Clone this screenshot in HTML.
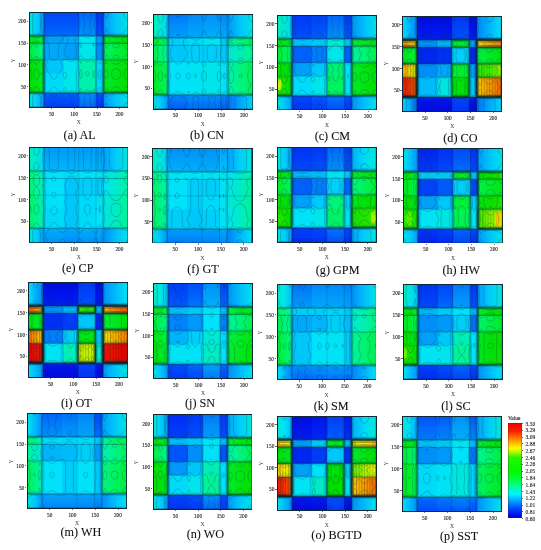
<!DOCTYPE html><html><head><meta charset="utf-8"><title>Contour maps</title><style>
html,body{margin:0;padding:0;background:#fff;}
body{width:541px;height:550px;position:relative;overflow:hidden;font-family:"Liberation Serif",serif;color:#222;}
.pl{position:absolute;display:block;overflow:hidden;}
.pl line{vector-effect:non-scaling-stroke;}
.tk{position:absolute;width:0.5px;height:1.4px;background:#777;}
.tky{position:absolute;width:1.6px;height:0.5px;background:#666;}
.xl{position:absolute;width:20px;text-align:center;font-size:5.3px;line-height:6px;white-space:nowrap;color:#222;-webkit-text-stroke:0.12px #222;}
.yl{position:absolute;width:20px;text-align:right;font-size:5.3px;line-height:6px;white-space:nowrap;color:#222;-webkit-text-stroke:0.12px #222;}
.xa{position:absolute;width:20px;text-align:center;font-size:5.6px;line-height:6px;color:#333;}
.ya{position:absolute;width:20px;text-align:center;font-size:5.6px;line-height:7px;color:#333;transform:rotate(-90deg);}
.cap{position:absolute;width:100px;text-align:center;font-size:12.2px;line-height:13px;white-space:nowrap;color:#111;-webkit-text-stroke:0.08px #111;}
.ll{position:absolute;font-size:5.5px;line-height:6px;white-space:nowrap;color:#222;-webkit-text-stroke:0.1px #222;}
.vl{position:absolute;font-size:5.4px;line-height:6px;white-space:nowrap;color:#222;-webkit-text-stroke:0.12px #222;}
</style></head><body><svg width="0" height="0" style="position:absolute"><defs><pattern id="pv" patternUnits="userSpaceOnUse" width="6" height="220"><rect x="0" y="0" width="1.3" height="220" fill="#302000" fill-opacity="0.45"/></pattern><pattern id="ph" patternUnits="userSpaceOnUse" width="220" height="5.5"><rect x="0" y="0" width="220" height="1.3" fill="#302000" fill-opacity="0.45"/></pattern></defs></svg>
<svg class="pl" style="left:28.90px;top:12.30px;width:99.60px;height:95.70px" viewBox="0 0 220 220" preserveAspectRatio="none"><linearGradient id="ga00" gradientUnits="userSpaceOnUse" x1="0" y1="0" x2="33" y2="0"><stop offset="0" stop-color="#00e7d9"/><stop offset="0.5" stop-color="#00cef9"/><stop offset="1" stop-color="#00a0f9"/></linearGradient><rect x="0" y="0" width="36" height="58" fill="url(#ga00)"/><linearGradient id="ga01" gradientUnits="userSpaceOnUse" x1="0" y1="0" x2="0" y2="55"><stop offset="0" stop-color="#0047f9"/><stop offset="0.5" stop-color="#0054f9"/><stop offset="1" stop-color="#006cf9"/></linearGradient><rect x="33" y="0" width="47" height="58" fill="url(#ga01)"/><linearGradient id="ga02" gradientUnits="userSpaceOnUse" x1="0" y1="0" x2="0" y2="55"><stop offset="0" stop-color="#0047f9"/><stop offset="0.5" stop-color="#0054f9"/><stop offset="1" stop-color="#006cf9"/></linearGradient><rect x="77" y="0" width="36" height="58" fill="url(#ga02)"/><linearGradient id="ga03" gradientUnits="userSpaceOnUse" x1="0" y1="0" x2="0" y2="55"><stop offset="0" stop-color="#0066f9"/><stop offset="0.5" stop-color="#007df9"/><stop offset="1" stop-color="#0091f9"/></linearGradient><rect x="110" y="0" width="41" height="58" fill="url(#ga03)"/><linearGradient id="ga04" gradientUnits="userSpaceOnUse" x1="0" y1="0" x2="0" y2="55"><stop offset="0" stop-color="#0039f6"/><stop offset="0.5" stop-color="#0043f9"/><stop offset="1" stop-color="#0052f9"/></linearGradient><rect x="148" y="0" width="20" height="58" fill="url(#ga04)"/><linearGradient id="ga05" gradientUnits="userSpaceOnUse" x1="165" y1="0" x2="220" y2="0"><stop offset="0" stop-color="#0099f9"/><stop offset="0.5" stop-color="#00c7f9"/><stop offset="1" stop-color="#00e5e2"/></linearGradient><rect x="165" y="0" width="58" height="58" fill="url(#ga05)"/><linearGradient id="ga10" gradientUnits="userSpaceOnUse" x1="0" y1="0" x2="33" y2="0"><stop offset="0" stop-color="#00e20f"/><stop offset="0.5" stop-color="#00ea25"/><stop offset="1" stop-color="#00f045"/></linearGradient><rect x="0" y="55" width="36" height="20" fill="url(#ga10)"/><rect x="33" y="55" width="47" height="20" fill="#00a0f9"/><rect x="77" y="55" width="36" height="20" fill="#00a8f9"/><rect x="110" y="55" width="41" height="20" fill="#00e3f4"/><rect x="148" y="55" width="20" height="20" fill="#0099f9"/><linearGradient id="ga15" gradientUnits="userSpaceOnUse" x1="165" y1="0" x2="220" y2="0"><stop offset="0" stop-color="#00ee35"/><stop offset="0.5" stop-color="#00e71c"/><stop offset="1" stop-color="#00df06"/></linearGradient><rect x="165" y="55" width="58" height="20" fill="url(#ga15)"/><linearGradient id="ga20" gradientUnits="userSpaceOnUse" x1="0" y1="0" x2="33" y2="0"><stop offset="0" stop-color="#00ef38"/><stop offset="0.5" stop-color="#00f262"/><stop offset="1" stop-color="#00f48b"/></linearGradient><rect x="0" y="72" width="36" height="41" fill="url(#ga20)"/><rect x="33" y="72" width="47" height="41" fill="#00a8f9"/><rect x="77" y="72" width="36" height="41" fill="#00a0f9"/><rect x="110" y="72" width="41" height="41" fill="#00e4eb"/><rect x="148" y="72" width="20" height="41" fill="#008ef9"/><linearGradient id="ga25" gradientUnits="userSpaceOnUse" x1="165" y1="0" x2="220" y2="0"><stop offset="0" stop-color="#00f168"/><stop offset="0.5" stop-color="#00ef3e"/><stop offset="1" stop-color="#00e922"/></linearGradient><rect x="165" y="72" width="58" height="41" fill="url(#ga25)"/><linearGradient id="ga30" gradientUnits="userSpaceOnUse" x1="0" y1="0" x2="33" y2="0"><stop offset="0" stop-color="#03de00"/><stop offset="0.5" stop-color="#00e413"/><stop offset="1" stop-color="#00eb29"/></linearGradient><rect x="0" y="110" width="36" height="34" fill="url(#ga30)"/><rect x="33" y="110" width="47" height="34" fill="#00c7f9"/><rect x="77" y="110" width="36" height="34" fill="#00e3f4"/><rect x="110" y="110" width="41" height="34" fill="#00f0ad"/><rect x="148" y="110" width="20" height="34" fill="#00daf9"/><linearGradient id="ga35" gradientUnits="userSpaceOnUse" x1="165" y1="0" x2="220" y2="0"><stop offset="0" stop-color="#00eb29"/><stop offset="0.5" stop-color="#00e413"/><stop offset="1" stop-color="#03de00"/></linearGradient><rect x="165" y="110" width="58" height="34" fill="url(#ga35)"/><linearGradient id="ga40" gradientUnits="userSpaceOnUse" x1="0" y1="0" x2="33" y2="0"><stop offset="0" stop-color="#03de00"/><stop offset="0.5" stop-color="#00e413"/><stop offset="1" stop-color="#00eb29"/></linearGradient><rect x="0" y="141" width="36" height="48" fill="url(#ga40)"/><rect x="33" y="141" width="47" height="48" fill="#00daf9"/><rect x="77" y="141" width="36" height="48" fill="#00e4eb"/><rect x="110" y="141" width="41" height="48" fill="#00f0ad"/><rect x="148" y="141" width="20" height="48" fill="#00daf9"/><linearGradient id="ga45" gradientUnits="userSpaceOnUse" x1="165" y1="0" x2="220" y2="0"><stop offset="0" stop-color="#00eb29"/><stop offset="0.5" stop-color="#00e413"/><stop offset="1" stop-color="#03de00"/></linearGradient><rect x="165" y="141" width="58" height="48" fill="url(#ga45)"/><linearGradient id="ga50" gradientUnits="userSpaceOnUse" x1="0" y1="0" x2="33" y2="0"><stop offset="0" stop-color="#00e7d9"/><stop offset="0.5" stop-color="#00cef9"/><stop offset="1" stop-color="#00a0f9"/></linearGradient><rect x="0" y="186" width="36" height="37" fill="url(#ga50)"/><linearGradient id="ga51" gradientUnits="userSpaceOnUse" x1="0" y1="186" x2="0" y2="220"><stop offset="0" stop-color="#0060f9"/><stop offset="0.5" stop-color="#004ef9"/><stop offset="1" stop-color="#0040f8"/></linearGradient><rect x="33" y="186" width="47" height="37" fill="url(#ga51)"/><linearGradient id="ga52" gradientUnits="userSpaceOnUse" x1="0" y1="186" x2="0" y2="220"><stop offset="0" stop-color="#0060f9"/><stop offset="0.5" stop-color="#004ef9"/><stop offset="1" stop-color="#0040f8"/></linearGradient><rect x="77" y="186" width="36" height="37" fill="url(#ga52)"/><linearGradient id="ga53" gradientUnits="userSpaceOnUse" x1="0" y1="186" x2="0" y2="220"><stop offset="0" stop-color="#0091f9"/><stop offset="0.5" stop-color="#007df9"/><stop offset="1" stop-color="#0066f9"/></linearGradient><rect x="110" y="186" width="41" height="37" fill="url(#ga53)"/><linearGradient id="ga54" gradientUnits="userSpaceOnUse" x1="0" y1="186" x2="0" y2="220"><stop offset="0" stop-color="#0052f9"/><stop offset="0.5" stop-color="#0043f9"/><stop offset="1" stop-color="#0039f6"/></linearGradient><rect x="148" y="186" width="20" height="37" fill="url(#ga54)"/><linearGradient id="ga55" gradientUnits="userSpaceOnUse" x1="165" y1="0" x2="220" y2="0"><stop offset="0" stop-color="#0099f9"/><stop offset="0.5" stop-color="#00c7f9"/><stop offset="1" stop-color="#00e5e2"/></linearGradient><rect x="165" y="186" width="58" height="37" fill="url(#ga55)"/><path d="M53.7 0.0L55.0 2.6 56.3 0.0M92.6 0.0L93.0 2.2 94.0 2.2 94.4 0.0M151.8 0.0L151.2 27.0 151.8 48.0 153.0 51.5 156.0 53.1 159.0 52.2 160.4 49.0 160.5 0.0M160.5 220.0L160.3 191.0 159.0 188.8 156.0 188.1 153.4 189.0 151.8 192.0 151.2 203.0 151.8 220.0M56.2 196.0L60.0 194.0 60.8 191.0 59.5 190.0 55.0 189.4 50.5 190.0 49.2 191.0 49.3 193.0 51.0 194.9 56.2 196.0M94.3 196.0L97.0 194.3 97.7 191.0 94.0 189.6 89.3 191.0 89.3 193.0 90.7 195.0 94.3 196.0M62.5 220.0L60.8 213.0 58.0 210.5 55.0 209.9 52.0 210.5 49.2 213.0 47.5 220.0M99.1 220.0L97.8 213.0 96.0 210.7 94.0 209.9 92.0 210.2 89.8 212.0 87.9 220.0M35.6 0.0L34.5 28.0 35.8 50.0 37.0 51.9 39.0 52.9 55.0 56.1 77.0 52.1 91.0 55.4 95.0 55.5 104.2 53.0 107.7 51.0 109.0 48.0 111.6 28.0 108.7 0.0M120.3 0.0L121.0 15.0 124.0 27.0 121.2 39.0 120.6 48.0 121.6 50.0 123.4 51.0 129.0 51.8 134.6 51.0 136.4 50.0 137.4 48.0 136.8 39.0 134.0 27.0 137.0 15.0 137.7 0.0M146.8 0.0L144.5 27.0 146.6 48.0 148.3 52.0 156.0 57.1 160.0 55.1 162.2 52.0 163.1 49.0 163.1 0.0M157.2 77.0L157.3 74.0 156.0 73.1 155.4 75.0 156.0 77.9 157.2 77.0M163.1 220.0L163.0 190.5 160.6 187.0 156.0 185.8 149.4 188.0 146.4 192.0 144.5 203.0 146.8 220.0M109.4 220.0L111.9 202.0 109.9 192.0 107.8 189.0 96.0 186.6 78.0 188.2 55.0 186.2 38.0 187.9 35.2 190.0 34.0 202.0 34.9 220.0M137.7 220.0L137.0 210.9 133.9 203.0 136.8 196.0 137.1 192.0 135.1 190.0 129.0 189.0 122.9 190.0 120.9 192.0 121.2 196.0 124.1 203.0 121.0 210.9 120.3 220.0M32.8 0.0L32.0 28.0 32.9 50.0 35.0 53.9 38.9 58.0 38.0 65.0 42.6 71.0 44.1 75.0 45.5 91.0 44.7 105.0 46.0 107.0 51.0 110.0 55.0 110.7 59.0 110.0 64.0 107.0 65.3 105.0 64.5 91.0 66.1 74.0 69.0 68.8 75.8 64.0 75.1 62.0 71.5 59.0 71.8 58.0 77.0 56.0 80.0 56.1 83.9 58.0 86.3 63.0 82.1 81.0 77.4 89.0 77.8 94.0 83.7 105.0 86.2 107.0 94.0 108.7 98.2 108.0 102.3 106.0 104.0 102.8 105.6 90.0 103.5 75.0 100.7 63.0 102.2 59.0 104.2 57.0 113.0 53.0 129.0 55.3 144.0 53.2 149.2 56.0 150.3 59.0 150.6 69.0 149.2 90.0 150.1 105.0 151.9 108.0 155.0 110.1 158.0 110.1 160.0 108.2 161.2 102.0 160.5 60.0 161.4 56.0 164.6 50.0 165.5 35.0 164.8 0.0M164.8 220.0L165.7 203.0 164.6 190.0 161.0 185.5 156.0 183.5 143.0 187.9 129.0 186.8 113.0 188.0 94.0 184.3 78.0 186.0 54.0 183.7 37.0 185.9 33.9 188.0 32.6 191.0 31.8 203.0 32.6 220.0M8.1 0.0L8.2 47.0 10.0 50.0 16.0 51.2 23.0 50.0 24.7 48.0 25.7 28.0 24.9 0.0M30.3 0.0L27.3 29.0 30.4 49.0 35.3 58.0 34.9 92.0 35.6 105.0 36.8 109.0 40.6 114.0 38.0 122.0 38.0 129.0 41.5 137.0 47.0 144.0 49.9 152.0 54.0 154.8 57.0 154.5 60.0 152.2 63.5 143.0 67.9 138.0 73.2 129.0 73.5 123.0 69.4 115.0 70.4 112.0 74.0 109.8 80.0 109.2 83.9 110.0 94.0 114.5 105.8 109.0 107.9 107.0 109.7 94.0 108.6 71.0 109.8 64.0 109.3 58.0 110.2 56.0 115.0 55.2 129.0 58.5 143.0 55.3 145.0 55.5 147.0 57.0 146.6 64.0 147.7 71.0 146.7 92.0 147.6 105.0 148.7 108.0 153.1 113.0 155.0 118.5 157.0 119.3 162.4 105.0 162.1 58.0 163.1 55.0 167.3 49.0 170.0 39.1 171.0 39.0 172.8 41.0 176.5 49.0 184.1 51.0 198.0 51.2 208.5 49.0 213.6 39.0 217.0 36.5 220.0 35.9M175.4 0.0L174.3 10.0 171.0 16.0 169.0 14.2 167.4 0.0M220.0 19.1L215.0 17.4 212.0 13.6 210.2 8.0 209.6 0.0M157.3 154.0L158.7 148.0 159.0 139.0 158.0 133.0 156.0 131.6 154.0 135.6 153.8 146.0 155.0 153.3 156.0 154.7 157.3 154.0M220.0 197.8L214.0 196.2 208.6 191.0 196.0 188.7 179.1 190.0 175.0 192.0 172.0 195.4 170.0 195.8 166.8 190.0 159.7 182.0 157.0 172.5 156.0 172.3 155.0 173.7 152.6 182.0 147.0 185.7 142.0 186.3 128.0 184.9 114.0 186.4 94.0 181.4 80.0 184.6 68.2 183.0 63.6 181.0 59.0 173.7 57.0 172.5 54.0 172.2 50.0 174.8 46.4 181.0 35.0 185.4 30.2 191.0 27.1 203.0 30.2 220.0M24.9 220.0L25.7 203.0 24.6 192.0 22.6 190.0 17.0 189.0 10.4 190.0 8.4 192.0 7.6 203.0 8.1 220.0M209.6 220.0L210.2 215.0 212.0 211.6 215.0 209.3 220.0 208.2M167.4 220.0L169.0 211.2 171.0 210.1 174.4 214.0 175.4 220.0M0.0 51.0L16.0 52.8 29.0 51.7 32.0 53.5 33.6 56.0 34.2 70.0 33.7 99.0 35.6 113.0 35.1 128.0 36.9 145.0 35.8 163.0 36.7 180.0 34.9 184.0 29.0 188.5 15.0 187.5 0.0 189.2M220.0 188.8L193.0 187.3 170.0 188.6 165.0 186.7 162.5 184.0 161.3 180.0 161.2 141.0 161.3 114.0 163.4 104.0 163.0 59.0 164.1 55.0 166.0 52.8 169.0 51.6 193.0 52.8 220.0 51.3M115.0 81.5L114.0 81.7 113.0 80.5 111.8 76.0 112.0 71.5 114.0 69.8 116.3 72.0 116.9 75.0 115.0 81.5M143.0 79.8L142.0 79.0 141.2 75.0 141.9 72.0 143.0 71.0 144.0 71.4 144.5 74.0 143.0 79.8M146.0 185.0L129.0 183.4 112.0 185.3 106.9 183.0 104.2 180.0 106.1 163.0 103.8 144.0 107.1 126.0 105.6 114.0 114.0 100.3 115.0 100.5 117.5 105.0 119.9 107.0 129.0 109.6 138.1 107.0 143.0 102.2 149.4 112.0 149.1 126.0 150.2 142.0 149.1 164.0 149.9 180.0 148.8 183.0 146.0 185.0M81.0 153.2L80.0 153.9 78.0 152.6 75.7 145.0 77.0 140.0 80.0 137.2 82.0 140.0 83.0 144.0 82.6 149.0 81.0 153.2M79.0 182.0L76.6 181.0 76.3 179.0 78.0 174.4 80.0 173.1 81.7 175.0 82.6 179.0 81.8 181.0 79.0 182.0M0.0 52.6L16.0 53.8 28.0 53.1 32.4 55.0 33.3 69.0 32.5 95.0 32.9 106.0 34.3 113.0 34.9 145.0 34.8 180.0 32.9 185.0 28.0 187.2 16.0 186.5 0.0 187.6M220.0 187.4L193.0 186.4 170.0 187.3 165.0 185.8 163.0 183.0 162.5 180.0 162.4 141.0 162.5 114.0 164.2 104.0 163.8 60.0 164.6 55.0 167.0 53.4 170.0 52.8 193.0 53.8 220.0 52.7M114.0 184.1L110.0 183.1 108.8 180.0 109.9 164.0 108.5 143.0 110.1 126.0 109.1 115.0 109.8 111.0 112.0 109.3 116.0 109.2 129.0 115.0 140.0 109.8 145.0 109.5 147.0 111.1 147.6 114.0 146.6 125.0 147.8 140.0 146.6 163.0 147.3 182.0 145.0 183.7 142.0 183.8 129.0 179.0 119.6 183.0 114.0 184.1M130.4 147.0L132.1 144.0 132.1 139.0 130.7 137.0 128.0 136.6 125.9 139.0 125.9 144.0 128.0 147.4 130.4 147.0M0.0 53.7L16.0 55.3 28.0 54.1 31.0 54.7 32.2 56.0 32.6 70.0 31.4 93.0 33.4 113.0 33.8 144.0 33.7 180.0 32.2 185.0 28.0 186.3 16.0 185.2 0.0 186.6M220.0 186.5L193.0 185.1 170.0 186.4 165.0 185.2 163.4 180.0 163.3 141.0 163.4 114.0 165.2 93.0 164.3 69.0 165.0 55.4 170.0 53.8 193.0 55.2 220.0 53.7M114.0 118.0L112.0 114.0 114.0 112.2 115.6 113.0 116.3 115.0 115.6 117.0 114.0 118.0M143.0 116.6L141.9 115.0 143.0 113.0 144.2 114.0 143.0 116.6M115.0 152.3L114.0 152.8 113.0 151.9 111.2 143.0 112.0 135.9 114.0 133.0 116.0 134.6 117.1 140.0 116.6 148.0 115.0 152.3M143.0 150.7L141.6 148.0 140.9 141.0 141.6 136.0 143.0 134.3 144.7 137.0 145.2 141.0 144.9 146.0 143.0 150.7M115.0 181.2L113.0 181.4 111.8 180.0 113.0 175.1 114.0 174.2 116.3 178.0 116.2 180.0 115.0 181.2M144.0 180.5L141.9 180.0 142.0 177.6 143.0 176.3 144.1 178.0 144.0 180.5M0.0 54.4L16.0 56.4 29.0 54.8 31.7 57.0 32.0 71.0 29.9 92.0 30.9 104.0 32.6 112.0 32.9 144.0 32.9 180.0 32.0 184.2 29.0 185.5 16.0 184.3 0.0 185.8M220.0 185.8L194.0 184.2 172.0 185.7 165.9 185.0 164.5 183.0 164.2 180.0 164.1 141.0 164.2 113.0 166.1 92.0 164.8 70.0 165.6 56.0 167.0 54.8 170.0 54.4 193.0 56.1 220.0 54.3M17.3 81.0L19.6 79.0 20.3 76.0 18.4 74.0 14.6 74.0 12.7 76.0 13.0 78.3 15.0 80.7 17.3 81.0M18.7 106.0L19.9 104.0 18.9 102.0 16.0 100.9 14.0 102.1 13.1 104.0 14.0 105.8 18.7 106.0M220.0 185.3L194.0 183.2 171.0 185.1 166.0 184.1 164.7 180.0 164.6 141.0 164.8 112.0 166.4 105.0 167.5 92.0 165.5 70.0 166.0 56.9 167.0 55.7 170.0 55.0 193.0 57.2 220.0 54.9M0.0 55.0L16.0 57.7 29.5 56.0 31.0 58.0 31.1 69.0 31.0 71.0 28.0 76.6 20.0 70.6 16.0 70.0 12.0 71.0 6.9 75.0 3.7 83.0 0.0 85.0M195.1 82.0L198.0 80.4 199.8 78.0 200.2 76.0 198.7 74.0 191.0 72.6 185.2 75.0 185.2 78.0 187.8 81.0 191.0 82.3 195.1 82.0M0.0 97.0L3.7 99.0 7.2 106.0 15.0 109.5 22.0 108.2 28.0 104.5 29.0 105.5 32.1 112.0 31.6 126.0 32.4 143.0 32.3 180.0 31.1 184.0 28.0 185.0 16.0 183.2 0.0 185.3M197.4 107.0L199.1 106.0 199.6 104.0 198.0 101.6 195.0 100.0 189.0 100.3 185.4 104.0 185.9 106.0 189.0 107.4 197.4 107.0M220.0 85.0L216.0 84.2 213.0 82.3 208.9 75.0 206.5 73.0 200.0 69.8 194.0 68.6 186.0 69.5 178.5 73.0 176.1 75.0 173.0 81.1 171.0 82.7 170.0 82.4 166.4 69.0 166.7 58.0 169.0 56.0 193.0 58.9 220.0 55.7M0.0 56.1L6.1 57.0 16.0 60.4 20.0 59.9 27.0 57.1 29.0 57.4 29.7 59.0 29.9 69.0 29.0 71.2 27.0 71.4 20.0 67.2 15.0 66.7 4.0 72.5 0.0 73.5M220.0 184.6L193.0 181.4 173.0 184.2 167.0 183.7 165.4 180.0 166.2 163.0 165.2 141.0 166.2 126.0 165.5 112.0 170.0 99.6 172.0 99.8 177.6 107.0 186.0 110.7 193.0 111.9 200.0 110.4 207.4 107.0 214.0 98.9 220.0 97.0M0.0 107.0L16.0 112.4 27.0 108.6 30.5 110.0 31.4 113.0 30.7 126.0 31.7 143.0 30.8 163.0 31.5 180.0 30.7 183.0 27.0 184.0 16.0 181.5 0.0 184.7M220.0 73.2L210.7 71.0 207.0 68.0 205.1 64.0 206.0 61.0 208.3 59.0 220.0 56.9M171.0 72.0L169.0 71.8 167.8 70.0 169.0 64.0 168.1 59.0 170.0 57.5 176.7 59.0 179.9 63.0 177.1 69.0 171.0 72.0M0.0 58.0L2.8 59.0 2.3 60.0 0.0 60.5M0.0 66.4L3.5 68.0 2.1 70.0 0.0 70.4M220.0 183.7L210.9 183.0 204.0 181.0 198.0 173.1 193.0 171.3 187.0 173.1 181.0 181.0 174.1 183.0 167.9 183.0 166.5 180.0 167.6 163.0 166.2 141.0 167.6 126.0 166.5 113.0 167.3 110.0 169.0 108.5 172.0 108.6 178.8 111.0 181.7 113.0 186.0 118.3 193.0 120.2 199.0 118.3 203.3 113.0 208.3 110.0 220.0 107.4M0.0 109.2L7.2 111.0 9.7 113.0 13.0 118.7 16.0 120.1 20.0 118.7 24.4 112.0 27.0 110.6 29.4 111.0 30.3 114.0 29.3 126.0 30.6 142.0 29.4 162.0 29.9 182.0 27.0 182.7 23.4 181.0 20.0 173.4 18.0 171.6 16.0 171.3 13.0 173.4 9.6 181.0 5.6 183.0 0.0 183.7M18.6 155.0L20.4 153.0 21.8 149.0 22.3 138.0 20.0 132.3 16.0 130.9 13.0 132.3 11.4 135.0 10.7 146.0 13.3 154.0 16.0 155.7 18.6 155.0M196.1 155.0L199.0 153.0 201.3 149.0 202.5 143.0 202.0 137.0 200.0 133.6 197.0 131.7 193.0 130.8 189.0 131.3 185.0 133.6 183.0 137.0 182.5 142.0 183.3 148.0 185.0 151.7 188.0 154.6 192.0 155.7 196.1 155.0M220.0 120.6L216.0 119.9 213.0 118.3 210.7 114.0 214.0 111.1 220.0 110.1M0.0 111.0L3.8 112.0 5.5 115.0 3.6 119.0 0.0 120.6M172.0 118.3L170.0 118.6 169.0 117.5 168.1 114.0 169.0 111.4 171.0 111.3 173.8 113.0 174.0 115.7 172.0 118.3M0.0 130.4L3.0 131.4 4.4 133.0 6.2 141.0 4.7 152.0 3.0 154.9 0.0 156.3M220.0 156.3L216.0 155.4 212.2 152.0 210.3 147.0 209.7 141.0 210.2 137.0 212.0 133.6 215.0 131.4 220.0 130.4M171.0 153.7L169.0 151.9 167.6 141.0 169.0 133.5 171.0 132.3 174.0 135.1 175.3 141.0 174.2 149.0 171.0 153.7M28.0 144.3L28.0 139.1 28.0 144.3M0.0 170.7L2.0 171.3 4.0 173.5 5.5 179.0 4.7 181.0 0.0 182.3M220.0 182.3L212.2 181.0 210.7 179.0 211.6 176.0 214.0 172.9 220.0 170.7M172.0 181.3L169.0 181.4 168.2 180.0 170.0 173.5 172.0 174.0 174.1 178.0 174.0 180.0 172.0 181.3" fill="none" stroke="#0a2a3a" stroke-opacity="0.45" stroke-width="0.5" vector-effect="non-scaling-stroke"/><g stroke="#0a2020" stroke-width="1" vector-effect="non-scaling-stroke"><line x1="33" y1="0" x2="33" y2="55" stroke-opacity="0.25"/><line x1="110" y1="0" x2="110" y2="55" stroke-opacity="0.15"/><line x1="148" y1="0" x2="148" y2="55" stroke-opacity="0.20"/><line x1="165" y1="0" x2="165" y2="55" stroke-opacity="0.20"/><line x1="33" y1="55" x2="33" y2="72" stroke-opacity="0.36"/><line x1="110" y1="55" x2="110" y2="72" stroke-opacity="0.15"/><line x1="148" y1="55" x2="148" y2="72" stroke-opacity="0.20"/><line x1="165" y1="55" x2="165" y2="72" stroke-opacity="0.39"/><line x1="33" y1="72" x2="33" y2="110" stroke-opacity="0.26"/><line x1="110" y1="72" x2="110" y2="110" stroke-opacity="0.15"/><line x1="148" y1="72" x2="148" y2="110" stroke-opacity="0.20"/><line x1="165" y1="72" x2="165" y2="110" stroke-opacity="0.34"/><line x1="33" y1="110" x2="33" y2="141" stroke-opacity="0.36"/><line x1="110" y1="110" x2="110" y2="141" stroke-opacity="0.15"/><line x1="148" y1="110" x2="148" y2="141" stroke-opacity="0.20"/><line x1="165" y1="110" x2="165" y2="141" stroke-opacity="0.34"/><line x1="33" y1="141" x2="33" y2="186" stroke-opacity="0.34"/><line x1="110" y1="141" x2="110" y2="186" stroke-opacity="0.15"/><line x1="148" y1="141" x2="148" y2="186" stroke-opacity="0.20"/><line x1="165" y1="141" x2="165" y2="186" stroke-opacity="0.34"/><line x1="33" y1="186" x2="33" y2="220" stroke-opacity="0.25"/><line x1="110" y1="186" x2="110" y2="220" stroke-opacity="0.15"/><line x1="148" y1="186" x2="148" y2="220" stroke-opacity="0.20"/><line x1="165" y1="186" x2="165" y2="220" stroke-opacity="0.20"/><line x1="0" y1="55" x2="33" y2="55" stroke-opacity="0.35"/><line x1="33" y1="55" x2="77" y2="55" stroke-opacity="0.35"/><line x1="77" y1="55" x2="110" y2="55" stroke-opacity="0.35"/><line x1="110" y1="55" x2="148" y2="55" stroke-opacity="0.35"/><line x1="148" y1="55" x2="165" y2="55" stroke-opacity="0.35"/><line x1="165" y1="55" x2="220" y2="55" stroke-opacity="0.35"/><line x1="0" y1="72" x2="33" y2="72" stroke-opacity="0.30"/><line x1="33" y1="72" x2="77" y2="72" stroke-opacity="0.30"/><line x1="77" y1="72" x2="110" y2="72" stroke-opacity="0.30"/><line x1="110" y1="72" x2="148" y2="72" stroke-opacity="0.30"/><line x1="148" y1="72" x2="165" y2="72" stroke-opacity="0.30"/><line x1="165" y1="72" x2="220" y2="72" stroke-opacity="0.30"/><line x1="0" y1="110" x2="33" y2="110" stroke-opacity="0.20"/><line x1="33" y1="110" x2="77" y2="110" stroke-opacity="0.20"/><line x1="77" y1="110" x2="110" y2="110" stroke-opacity="0.20"/><line x1="110" y1="110" x2="148" y2="110" stroke-opacity="0.20"/><line x1="148" y1="110" x2="165" y2="110" stroke-opacity="0.20"/><line x1="165" y1="110" x2="220" y2="110" stroke-opacity="0.20"/><line x1="0" y1="186" x2="33" y2="186" stroke-opacity="0.35"/><line x1="33" y1="186" x2="77" y2="186" stroke-opacity="0.30"/><line x1="77" y1="186" x2="110" y2="186" stroke-opacity="0.30"/><line x1="110" y1="186" x2="148" y2="186" stroke-opacity="0.30"/><line x1="148" y1="186" x2="165" y2="186" stroke-opacity="0.30"/><line x1="165" y1="186" x2="220" y2="186" stroke-opacity="0.36"/></g><rect x="0" y="0" width="220" height="220" fill="none" stroke="#102838" stroke-width="2" vector-effect="non-scaling-stroke"/></svg>
<div class="tk" style="left:51.29px;top:108.00px"></div><div class="xl" style="left:41.54px;top:110.70px">50</div><div class="tk" style="left:73.92px;top:108.00px"></div><div class="xl" style="left:64.17px;top:110.70px">100</div><div class="tk" style="left:96.56px;top:108.00px"></div><div class="xl" style="left:86.81px;top:110.70px">150</div><div class="tk" style="left:119.20px;top:108.00px"></div><div class="xl" style="left:109.45px;top:110.70px">200</div><div class="tky" style="left:26.90px;top:86.00px"></div><div class="yl" style="left:6.20px;top:83.65px">50</div><div class="tky" style="left:26.90px;top:64.25px"></div><div class="yl" style="left:6.20px;top:61.90px">100</div><div class="tky" style="left:26.90px;top:42.50px"></div><div class="yl" style="left:6.20px;top:40.15px">150</div><div class="tky" style="left:26.90px;top:20.75px"></div><div class="yl" style="left:6.20px;top:18.40px">200</div><div class="xa" style="left:68.70px;top:119.30px">X</div><div class="ya" style="left:2.50px;top:56.65px">Y</div><div class="cap" style="left:29.70px;top:129.10px">(a) AL</div>
<svg class="pl" style="left:152.70px;top:13.90px;width:100.30px;height:95.70px" viewBox="0 0 220 220" preserveAspectRatio="none"><linearGradient id="gb00" gradientUnits="userSpaceOnUse" x1="0" y1="0" x2="33" y2="0"><stop offset="0" stop-color="#00edba"/><stop offset="0.5" stop-color="#00e8d5"/><stop offset="1" stop-color="#00d2f9"/></linearGradient><rect x="0" y="0" width="36" height="58" fill="url(#gb00)"/><linearGradient id="gb01" gradientUnits="userSpaceOnUse" x1="0" y1="0" x2="0" y2="55"><stop offset="0" stop-color="#0077f9"/><stop offset="0.5" stop-color="#008ef9"/><stop offset="1" stop-color="#009cf9"/></linearGradient><rect x="33" y="0" width="47" height="58" fill="url(#gb01)"/><linearGradient id="gb02" gradientUnits="userSpaceOnUse" x1="0" y1="0" x2="0" y2="55"><stop offset="0" stop-color="#0088f9"/><stop offset="0.5" stop-color="#0099f9"/><stop offset="1" stop-color="#00a8f9"/></linearGradient><rect x="77" y="0" width="36" height="58" fill="url(#gb02)"/><linearGradient id="gb03" gradientUnits="userSpaceOnUse" x1="0" y1="0" x2="0" y2="55"><stop offset="0" stop-color="#0091f9"/><stop offset="0.5" stop-color="#00a0f9"/><stop offset="1" stop-color="#00b0f9"/></linearGradient><rect x="110" y="0" width="41" height="58" fill="url(#gb03)"/><linearGradient id="gb04" gradientUnits="userSpaceOnUse" x1="0" y1="0" x2="0" y2="55"><stop offset="0" stop-color="#0088f9"/><stop offset="0.5" stop-color="#0099f9"/><stop offset="1" stop-color="#00a8f9"/></linearGradient><rect x="148" y="0" width="20" height="58" fill="url(#gb04)"/><linearGradient id="gb05" gradientUnits="userSpaceOnUse" x1="165" y1="0" x2="220" y2="0"><stop offset="0" stop-color="#0099f9"/><stop offset="0.5" stop-color="#00c7f9"/><stop offset="1" stop-color="#00e5e2"/></linearGradient><rect x="165" y="0" width="58" height="58" fill="url(#gb05)"/><linearGradient id="gb10" gradientUnits="userSpaceOnUse" x1="0" y1="0" x2="33" y2="0"><stop offset="0" stop-color="#00ec2b"/><stop offset="0.5" stop-color="#00f150"/><stop offset="1" stop-color="#00f27a"/></linearGradient><rect x="0" y="55" width="36" height="20" fill="url(#gb10)"/><rect x="33" y="55" width="47" height="20" fill="#00cef9"/><rect x="77" y="55" width="36" height="20" fill="#00daf9"/><rect x="110" y="55" width="41" height="20" fill="#00e3f4"/><rect x="148" y="55" width="20" height="20" fill="#00c7f9"/><linearGradient id="gb15" gradientUnits="userSpaceOnUse" x1="165" y1="0" x2="220" y2="0"><stop offset="0" stop-color="#00f0ad"/><stop offset="0.5" stop-color="#00f37e"/><stop offset="1" stop-color="#00f254"/></linearGradient><rect x="165" y="55" width="58" height="20" fill="url(#gb15)"/><linearGradient id="gb20" gradientUnits="userSpaceOnUse" x1="0" y1="0" x2="33" y2="0"><stop offset="0" stop-color="#00f149"/><stop offset="0.5" stop-color="#00f273"/><stop offset="1" stop-color="#00f2a0"/></linearGradient><rect x="0" y="72" width="36" height="41" fill="url(#gb20)"/><rect x="33" y="72" width="47" height="41" fill="#00c7f9"/><rect x="77" y="72" width="36" height="41" fill="#00cef9"/><rect x="110" y="72" width="41" height="41" fill="#00cef9"/><rect x="148" y="72" width="20" height="41" fill="#00c7f9"/><linearGradient id="gb25" gradientUnits="userSpaceOnUse" x1="165" y1="0" x2="220" y2="0"><stop offset="0" stop-color="#00e8d4"/><stop offset="0.5" stop-color="#00eeb6"/><stop offset="1" stop-color="#00f485"/></linearGradient><rect x="165" y="72" width="58" height="41" fill="url(#gb25)"/><linearGradient id="gb30" gradientUnits="userSpaceOnUse" x1="0" y1="0" x2="33" y2="0"><stop offset="0" stop-color="#00e922"/><stop offset="0.5" stop-color="#00ef3e"/><stop offset="1" stop-color="#00f168"/></linearGradient><rect x="0" y="110" width="36" height="34" fill="url(#gb30)"/><rect x="33" y="110" width="47" height="34" fill="#00e2f9"/><rect x="77" y="110" width="36" height="34" fill="#00e3f4"/><rect x="110" y="110" width="41" height="34" fill="#00e4eb"/><rect x="148" y="110" width="20" height="34" fill="#00e2f9"/><linearGradient id="gb35" gradientUnits="userSpaceOnUse" x1="165" y1="0" x2="220" y2="0"><stop offset="0" stop-color="#00f0ad"/><stop offset="0.5" stop-color="#00f37e"/><stop offset="1" stop-color="#00f254"/></linearGradient><rect x="165" y="110" width="58" height="34" fill="url(#gb35)"/><linearGradient id="gb40" gradientUnits="userSpaceOnUse" x1="0" y1="0" x2="33" y2="0"><stop offset="0" stop-color="#00e922"/><stop offset="0.5" stop-color="#00ef3e"/><stop offset="1" stop-color="#00f168"/></linearGradient><rect x="0" y="141" width="36" height="48" fill="url(#gb40)"/><rect x="33" y="141" width="47" height="48" fill="#00e2f9"/><rect x="77" y="141" width="36" height="48" fill="#00e3f4"/><rect x="110" y="141" width="41" height="48" fill="#00e4eb"/><rect x="148" y="141" width="20" height="48" fill="#00e2f9"/><linearGradient id="gb45" gradientUnits="userSpaceOnUse" x1="165" y1="0" x2="220" y2="0"><stop offset="0" stop-color="#00f0ad"/><stop offset="0.5" stop-color="#00f37e"/><stop offset="1" stop-color="#00f254"/></linearGradient><rect x="165" y="141" width="58" height="48" fill="url(#gb45)"/><linearGradient id="gb50" gradientUnits="userSpaceOnUse" x1="0" y1="0" x2="33" y2="0"><stop offset="0" stop-color="#00e5e2"/><stop offset="0.5" stop-color="#00c7f9"/><stop offset="1" stop-color="#0099f9"/></linearGradient><rect x="0" y="186" width="36" height="37" fill="url(#gb50)"/><linearGradient id="gb51" gradientUnits="userSpaceOnUse" x1="0" y1="186" x2="0" y2="220"><stop offset="0" stop-color="#0088f9"/><stop offset="0.5" stop-color="#0071f9"/><stop offset="1" stop-color="#005af9"/></linearGradient><rect x="33" y="186" width="47" height="37" fill="url(#gb51)"/><linearGradient id="gb52" gradientUnits="userSpaceOnUse" x1="0" y1="186" x2="0" y2="220"><stop offset="0" stop-color="#0091f9"/><stop offset="0.5" stop-color="#007df9"/><stop offset="1" stop-color="#0066f9"/></linearGradient><rect x="77" y="186" width="36" height="37" fill="url(#gb52)"/><linearGradient id="gb53" gradientUnits="userSpaceOnUse" x1="0" y1="186" x2="0" y2="220"><stop offset="0" stop-color="#0091f9"/><stop offset="0.5" stop-color="#007df9"/><stop offset="1" stop-color="#0066f9"/></linearGradient><rect x="110" y="186" width="41" height="37" fill="url(#gb53)"/><linearGradient id="gb54" gradientUnits="userSpaceOnUse" x1="0" y1="186" x2="0" y2="220"><stop offset="0" stop-color="#0088f9"/><stop offset="0.5" stop-color="#0071f9"/><stop offset="1" stop-color="#005af9"/></linearGradient><rect x="148" y="186" width="20" height="37" fill="url(#gb54)"/><linearGradient id="gb55" gradientUnits="userSpaceOnUse" x1="165" y1="0" x2="220" y2="0"><stop offset="0" stop-color="#0071f9"/><stop offset="0.5" stop-color="#00a8f9"/><stop offset="1" stop-color="#00d6f9"/></linearGradient><rect x="165" y="186" width="58" height="37" fill="url(#gb55)"/><path d="M50.5 0.0L52.0 6.9 55.0 9.1 58.0 6.9 59.5 0.0M56.4 50.0L57.7 49.0 57.0 46.9 55.0 45.9 53.0 46.9 52.3 49.0 53.0 49.6 56.4 50.0M68.6 220.0L69.7 213.0 75.1 205.0 75.0 200.8 67.2 190.0 61.0 188.0 55.0 187.6 49.0 188.0 42.8 190.0 38.0 197.3 36.9 201.0 37.0 205.7 40.7 214.0 41.4 220.0M161.1 220.0L161.0 191.0 159.0 188.2 156.0 187.6 151.8 190.0 148.6 202.0 150.8 212.0 151.3 220.0M101.0 220.0L100.5 211.0 97.8 203.0 100.3 196.0 100.5 191.0 98.3 189.0 94.0 188.2 88.7 189.0 86.5 191.0 86.7 196.0 89.2 203.0 86.5 211.0 86.0 220.0M137.7 220.0L137.0 210.9 133.9 203.0 136.8 196.0 137.0 191.0 134.2 189.0 129.0 188.3 123.8 189.0 121.0 191.0 121.2 196.0 124.1 203.0 121.0 210.9 120.3 220.0M35.8 0.0L34.7 35.0 35.9 50.0 38.0 52.3 50.0 55.5 57.0 56.0 73.8 52.0 79.0 49.1 86.1 53.0 92.0 54.9 95.0 54.9 103.2 52.0 105.9 50.0 110.0 39.8 113.0 37.8 115.0 40.0 117.3 49.0 118.8 51.0 125.0 53.3 132.0 53.5 137.4 52.0 140.2 50.0 142.7 41.0 145.0 38.6 148.0 41.8 150.5 51.0 156.0 56.3 159.0 55.0 162.0 49.0 162.9 27.0 162.0 0.0M79.8 0.0L79.0 3.7 77.9 0.0M117.2 0.0L116.1 12.0 113.0 17.2 110.0 15.2 108.2 11.0 106.3 0.0M150.0 0.0L149.0 10.6 147.0 15.0 145.0 16.4 143.2 15.0 142.0 12.1 140.8 0.0M164.9 220.0L167.5 205.0 167.3 200.0 164.2 189.0 158.0 184.7 155.0 184.6 147.0 187.2 129.0 185.0 110.0 187.5 94.0 184.7 78.0 187.2 55.0 184.4 37.0 186.9 33.9 189.0 32.3 202.0 33.2 220.0M205.9 220.0L204.4 203.0 205.4 192.0 202.9 190.0 193.0 188.7 182.1 190.0 179.6 192.0 180.6 203.0 179.1 220.0M33.0 0.0L32.3 28.0 33.1 50.0 35.0 54.0 41.9 58.0 43.4 61.0 43.1 70.0 37.6 87.0 37.6 95.0 42.6 107.0 54.0 115.7 58.0 114.9 67.4 107.0 70.9 100.0 76.1 93.0 76.1 89.0 70.3 81.0 66.7 69.0 66.8 60.0 69.6 57.0 76.1 55.0 80.0 54.8 83.8 56.0 90.0 59.7 94.0 60.4 97.0 59.7 105.5 55.0 110.0 54.2 116.0 54.5 129.0 58.3 143.0 54.4 149.0 55.1 150.8 58.0 149.9 64.0 151.3 74.0 150.5 82.0 147.7 92.0 150.0 98.0 151.7 107.0 155.0 114.3 157.0 115.6 160.8 105.0 160.8 59.0 161.5 56.0 165.8 49.0 169.0 38.6 170.0 38.2 172.0 39.8 175.2 48.0 177.3 50.0 185.7 52.0 196.0 52.2 207.7 50.0 209.8 48.0 213.6 39.0 217.0 36.5 220.0 35.9M175.4 0.0L174.0 11.2 172.0 15.2 170.0 16.8 168.0 14.9 167.0 11.7 165.8 0.0M220.0 19.1L215.0 17.4 212.0 13.6 210.2 8.0 209.6 0.0M94.0 114.0L98.9 110.0 101.5 106.0 102.4 90.0 101.0 72.6 98.0 68.0 93.0 66.7 89.0 68.0 85.8 73.0 84.6 92.0 85.9 107.0 91.0 112.9 94.0 114.0M132.2 111.0L136.4 108.0 138.4 105.0 139.2 91.0 138.6 77.0 137.7 74.0 135.0 70.9 132.0 69.4 128.0 69.0 122.9 71.0 119.5 76.0 118.8 91.0 119.4 104.0 120.6 107.0 125.0 110.6 129.0 111.8 132.2 111.0M56.5 149.0L59.1 146.0 59.9 140.0 58.0 136.3 54.0 135.3 50.7 138.0 50.3 144.0 53.0 148.8 56.5 149.0M157.0 149.0L158.0 145.9 158.2 139.0 157.0 135.5 156.0 135.4 154.9 138.0 154.7 144.0 155.9 149.0 157.0 149.0M94.1 146.0L95.4 144.0 95.8 140.0 95.0 138.2 93.0 137.5 91.6 139.0 91.2 142.0 92.0 145.1 94.1 146.0M220.0 188.5L193.0 186.7 168.0 188.2 162.0 185.0 157.0 177.9 156.0 177.8 152.7 183.0 149.0 185.0 142.2 185.0 129.0 181.7 115.8 185.0 111.0 185.3 102.6 184.0 94.0 179.9 82.0 184.7 73.0 184.8 62.4 182.0 55.0 177.6 47.6 182.0 34.5 186.0 28.0 192.2 25.2 190.0 21.0 188.7 10.3 189.0 6.6 191.0 3.0 196.7 0.0 197.8M0.0 208.2L3.0 209.3 5.0 212.0 6.3 220.0M26.9 220.0L28.0 214.5 29.0 215.1 29.8 220.0M10.1 0.0L11.6 14.0 13.6 18.0 16.0 19.6 19.0 18.5 21.0 15.2 22.4 9.0 22.9 0.0M31.3 0.0L29.7 30.0 31.4 50.0 35.1 58.0 35.4 71.0 34.1 93.0 35.0 106.3 37.4 113.0 35.9 125.0 37.9 140.0 35.9 162.0 37.3 180.0 35.0 184.0 30.0 187.6 15.0 186.8 0.0 188.4M20.1 51.0L22.3 49.0 21.7 42.0 19.0 36.5 16.0 35.4 14.0 36.5 12.0 39.8 10.7 49.0 14.0 51.3 20.1 51.0M220.0 186.7L193.0 184.9 169.0 186.6 164.0 185.0 162.4 183.0 161.6 180.0 161.5 141.0 161.6 113.0 163.1 106.0 163.9 93.0 162.8 70.0 162.9 58.0 164.0 55.0 166.0 53.2 169.0 52.4 193.0 54.2 220.0 52.1M114.0 119.2L111.0 119.5 108.0 117.0 106.5 113.0 108.0 110.7 112.0 109.8 115.8 112.0 116.2 116.0 114.0 119.2M145.0 119.0L142.2 117.0 141.7 113.0 144.0 110.6 147.0 110.3 149.0 112.0 149.1 115.0 147.0 118.2 145.0 119.0M79.0 115.5L76.0 115.0 75.0 113.0 75.7 112.0 78.0 111.1 79.7 112.0 80.1 114.0 79.0 115.5M113.0 155.0L110.0 154.1 108.0 151.2 105.7 142.0 107.0 135.4 110.0 132.0 112.0 131.2 114.0 131.8 115.8 134.0 117.2 140.0 116.2 150.0 115.0 153.0 113.0 155.0M145.0 154.1L143.2 153.0 142.0 150.6 140.8 141.0 142.0 134.4 145.0 132.0 147.0 132.8 149.0 135.6 149.8 141.0 148.9 149.0 147.0 152.8 145.0 154.1M79.0 149.1L77.0 149.4 75.0 147.4 73.1 142.0 74.0 137.8 78.0 135.1 80.0 136.3 81.2 140.0 80.9 145.0 79.0 149.1M114.0 182.2L110.0 182.5 108.0 181.8 106.7 180.0 108.5 175.0 112.0 171.8 115.0 174.0 116.4 178.0 116.0 181.0 114.0 182.2M147.0 182.3L143.5 182.0 141.6 180.0 142.0 176.4 144.0 173.2 147.0 174.2 148.9 178.0 148.9 181.0 147.0 182.3M79.0 181.1L77.0 181.2 75.5 180.0 77.0 177.6 79.0 177.9 79.7 179.0 79.0 181.1M0.0 50.0L15.0 53.7 29.0 51.8 32.7 55.0 33.5 58.0 33.7 70.0 32.7 94.0 34.5 113.0 33.9 126.0 34.7 141.0 33.9 163.0 34.5 180.0 32.6 185.0 29.0 186.4 16.0 185.2 0.0 186.9M220.0 185.6L193.0 183.4 171.0 185.5 165.0 184.5 163.4 180.0 164.0 163.0 163.3 141.0 164.0 126.0 163.4 113.0 166.2 92.0 164.2 70.0 165.0 55.3 171.0 54.1 194.0 56.2 220.0 53.9M194.3 81.0L198.7 78.0 198.5 75.0 193.0 73.4 186.5 75.0 185.9 77.0 188.0 79.8 191.0 81.1 194.3 81.0M196.2 107.0L198.1 106.0 198.5 104.0 195.0 101.2 190.0 101.2 186.5 104.0 186.9 106.0 188.8 107.0 196.2 107.0M0.0 53.1L15.0 55.8 28.0 53.8 32.0 55.6 32.6 70.0 31.3 92.0 33.1 113.0 33.3 141.0 33.1 180.0 32.0 184.5 28.0 185.5 16.0 184.0 0.0 185.8M220.0 81.1L216.0 80.0 211.2 75.0 207.9 73.0 200.0 69.8 194.0 68.7 188.0 69.1 182.0 70.8 175.3 74.0 170.0 78.6 168.0 76.6 165.4 70.0 165.6 58.0 166.5 56.0 168.0 55.3 193.0 58.5 220.0 54.9M220.0 184.7L209.0 183.7 193.0 180.0 174.5 184.0 169.0 184.4 166.0 183.5 164.8 180.0 165.7 163.0 164.6 141.0 165.7 126.0 164.9 111.0 169.0 103.6 171.0 103.8 175.2 107.0 187.0 112.6 193.0 114.0 207.9 108.0 216.0 102.0 220.0 100.9M194.3 145.0L195.7 143.0 195.9 140.0 194.0 138.1 191.0 138.1 189.1 140.0 189.8 144.0 192.0 145.6 194.3 145.0M0.0 54.5L5.6 55.0 15.0 57.9 19.0 57.7 28.0 55.0 30.0 55.5 31.2 57.0 31.5 71.0 28.8 91.0 32.3 112.0 31.6 126.0 32.4 141.0 31.7 183.0 28.0 184.6 16.0 182.4 0.0 185.2M220.0 71.6L214.3 71.0 210.0 68.0 210.8 66.0 214.4 64.0 214.4 63.0 210.8 61.0 210.4 59.0 215.0 57.2 220.0 56.8M172.0 62.3L169.0 61.2 168.3 58.0 171.0 57.5 174.6 59.0 174.2 61.0 172.0 62.3M170.0 71.0L168.0 70.1 168.0 67.6 170.0 64.9 172.0 64.7 174.2 66.0 175.0 68.0 172.9 70.0 170.0 71.0M18.7 110.0L22.7 107.0 23.6 105.0 23.0 98.1 20.5 91.0 23.2 83.0 23.7 76.0 20.7 71.0 16.0 69.7 12.3 71.0 9.3 76.0 9.8 83.0 12.5 91.0 10.0 98.1 9.3 104.0 10.4 107.0 14.0 109.8 18.7 110.0M172.0 123.3L170.0 123.3 169.0 121.9 167.0 116.2 166.9 112.0 169.0 109.9 173.6 111.0 176.7 114.0 175.8 119.0 172.0 123.3M220.0 183.1L211.6 182.0 209.4 181.0 208.2 179.0 209.5 172.0 214.6 163.0 209.0 153.5 207.7 141.0 209.0 132.4 214.6 126.0 214.6 125.0 209.2 119.0 208.3 114.0 209.8 112.0 213.0 110.4 220.0 109.4M172.0 160.3L170.0 160.3 169.0 158.3 166.4 143.0 168.0 131.3 171.0 127.3 174.0 129.4 175.8 132.0 177.3 140.0 176.1 153.0 172.0 160.3M173.0 182.1L168.0 182.3 166.8 180.0 168.0 172.0 170.0 166.7 171.0 166.1 175.0 170.9 176.7 177.0 176.5 180.0 173.0 182.1M0.0 55.8L7.1 58.0 10.9 63.0 6.7 71.0 0.0 76.6M29.0 71.5L26.5 71.0 22.1 64.0 24.9 59.0 28.0 57.3 29.4 59.0 28.4 63.0 29.7 69.0 29.0 71.5M0.0 104.9L8.2 110.0 13.0 116.7 16.0 118.4 19.0 117.6 22.8 112.0 26.0 109.2 28.0 108.3 30.0 109.4 31.1 113.0 30.0 126.0 31.3 141.0 30.0 162.0 30.6 182.0 28.0 183.3 23.8 182.0 21.6 180.0 19.0 174.9 16.0 173.8 14.0 174.9 11.4 180.0 9.2 182.0 0.0 184.1M17.7 153.0L19.8 151.0 21.0 148.0 21.7 140.0 20.0 134.4 16.0 132.6 14.0 133.4 12.1 136.0 11.4 144.0 13.2 151.0 15.0 152.9 17.7 153.0M0.0 109.8L3.8 111.0 5.6 114.0 4.0 118.6 0.0 120.6M0.0 130.4L3.0 131.4 4.4 133.0 6.2 141.0 4.7 152.0 3.0 154.9 0.0 156.4M28.0 146.2L27.2 141.0 28.0 137.5 29.0 141.0 28.0 146.2M0.0 170.6L2.0 171.2 4.0 173.5 5.6 179.0 4.0 181.6 0.0 182.5" fill="none" stroke="#0a2a3a" stroke-opacity="0.45" stroke-width="0.5" vector-effect="non-scaling-stroke"/><g stroke="#0a2020" stroke-width="1" vector-effect="non-scaling-stroke"><line x1="33" y1="0" x2="33" y2="55" stroke-opacity="0.25"/><line x1="110" y1="0" x2="110" y2="55" stroke-opacity="0.15"/><line x1="148" y1="0" x2="148" y2="55" stroke-opacity="0.20"/><line x1="165" y1="0" x2="165" y2="55" stroke-opacity="0.20"/><line x1="33" y1="55" x2="33" y2="72" stroke-opacity="0.25"/><line x1="110" y1="55" x2="110" y2="72" stroke-opacity="0.15"/><line x1="148" y1="55" x2="148" y2="72" stroke-opacity="0.20"/><line x1="165" y1="55" x2="165" y2="72" stroke-opacity="0.20"/><line x1="33" y1="72" x2="33" y2="110" stroke-opacity="0.25"/><line x1="110" y1="72" x2="110" y2="110" stroke-opacity="0.15"/><line x1="148" y1="72" x2="148" y2="110" stroke-opacity="0.20"/><line x1="165" y1="72" x2="165" y2="110" stroke-opacity="0.20"/><line x1="33" y1="110" x2="33" y2="141" stroke-opacity="0.25"/><line x1="110" y1="110" x2="110" y2="141" stroke-opacity="0.15"/><line x1="148" y1="110" x2="148" y2="141" stroke-opacity="0.20"/><line x1="165" y1="110" x2="165" y2="141" stroke-opacity="0.20"/><line x1="33" y1="141" x2="33" y2="186" stroke-opacity="0.25"/><line x1="110" y1="141" x2="110" y2="186" stroke-opacity="0.15"/><line x1="148" y1="141" x2="148" y2="186" stroke-opacity="0.20"/><line x1="165" y1="141" x2="165" y2="186" stroke-opacity="0.20"/><line x1="33" y1="186" x2="33" y2="220" stroke-opacity="0.25"/><line x1="110" y1="186" x2="110" y2="220" stroke-opacity="0.15"/><line x1="148" y1="186" x2="148" y2="220" stroke-opacity="0.20"/><line x1="165" y1="186" x2="165" y2="220" stroke-opacity="0.20"/><line x1="0" y1="55" x2="33" y2="55" stroke-opacity="0.35"/><line x1="33" y1="55" x2="77" y2="55" stroke-opacity="0.35"/><line x1="77" y1="55" x2="110" y2="55" stroke-opacity="0.35"/><line x1="110" y1="55" x2="148" y2="55" stroke-opacity="0.35"/><line x1="148" y1="55" x2="165" y2="55" stroke-opacity="0.35"/><line x1="165" y1="55" x2="220" y2="55" stroke-opacity="0.35"/><line x1="0" y1="72" x2="33" y2="72" stroke-opacity="0.30"/><line x1="33" y1="72" x2="77" y2="72" stroke-opacity="0.30"/><line x1="77" y1="72" x2="110" y2="72" stroke-opacity="0.30"/><line x1="110" y1="72" x2="148" y2="72" stroke-opacity="0.30"/><line x1="148" y1="72" x2="165" y2="72" stroke-opacity="0.30"/><line x1="165" y1="72" x2="220" y2="72" stroke-opacity="0.30"/><line x1="0" y1="110" x2="33" y2="110" stroke-opacity="0.20"/><line x1="33" y1="110" x2="77" y2="110" stroke-opacity="0.20"/><line x1="77" y1="110" x2="110" y2="110" stroke-opacity="0.20"/><line x1="110" y1="110" x2="148" y2="110" stroke-opacity="0.20"/><line x1="148" y1="110" x2="165" y2="110" stroke-opacity="0.20"/><line x1="165" y1="110" x2="220" y2="110" stroke-opacity="0.20"/><line x1="0" y1="186" x2="33" y2="186" stroke-opacity="0.30"/><line x1="33" y1="186" x2="77" y2="186" stroke-opacity="0.30"/><line x1="77" y1="186" x2="110" y2="186" stroke-opacity="0.30"/><line x1="110" y1="186" x2="148" y2="186" stroke-opacity="0.30"/><line x1="148" y1="186" x2="165" y2="186" stroke-opacity="0.30"/><line x1="165" y1="186" x2="220" y2="186" stroke-opacity="0.30"/></g><rect x="0" y="0" width="220" height="220" fill="none" stroke="#102838" stroke-width="2" vector-effect="non-scaling-stroke"/></svg>
<div class="tk" style="left:175.25px;top:109.60px"></div><div class="xl" style="left:165.50px;top:112.30px">50</div><div class="tk" style="left:198.04px;top:109.60px"></div><div class="xl" style="left:188.29px;top:112.30px">100</div><div class="tk" style="left:220.84px;top:109.60px"></div><div class="xl" style="left:211.09px;top:112.30px">150</div><div class="tk" style="left:243.63px;top:109.60px"></div><div class="xl" style="left:233.88px;top:112.30px">200</div><div class="tky" style="left:150.70px;top:87.60px"></div><div class="yl" style="left:130.00px;top:85.25px">50</div><div class="tky" style="left:150.70px;top:65.85px"></div><div class="yl" style="left:130.00px;top:63.50px">100</div><div class="tky" style="left:150.70px;top:44.10px"></div><div class="yl" style="left:130.00px;top:41.75px">150</div><div class="tky" style="left:150.70px;top:22.35px"></div><div class="yl" style="left:130.00px;top:20.00px">200</div><div class="xa" style="left:192.85px;top:120.90px">X</div><div class="ya" style="left:126.30px;top:58.25px">Y</div><div class="cap" style="left:157.05px;top:129.10px">(b) CN</div>
<svg class="pl" style="left:277.00px;top:14.90px;width:100.00px;height:95.60px" viewBox="0 0 220 220" preserveAspectRatio="none"><linearGradient id="gc00" gradientUnits="userSpaceOnUse" x1="0" y1="0" x2="33" y2="0"><stop offset="0" stop-color="#00edba"/><stop offset="0.5" stop-color="#00e8d5"/><stop offset="1" stop-color="#00d2f9"/></linearGradient><rect x="0" y="0" width="36" height="58" fill="url(#gc00)"/><linearGradient id="gc01" gradientUnits="userSpaceOnUse" x1="0" y1="0" x2="0" y2="55"><stop offset="0" stop-color="#0039f6"/><stop offset="0.5" stop-color="#0043f9"/><stop offset="1" stop-color="#0052f9"/></linearGradient><rect x="33" y="0" width="47" height="58" fill="url(#gc01)"/><linearGradient id="gc02" gradientUnits="userSpaceOnUse" x1="0" y1="0" x2="0" y2="55"><stop offset="0" stop-color="#0040f8"/><stop offset="0.5" stop-color="#004ef9"/><stop offset="1" stop-color="#0060f9"/></linearGradient><rect x="77" y="0" width="36" height="58" fill="url(#gc02)"/><linearGradient id="gc03" gradientUnits="userSpaceOnUse" x1="0" y1="0" x2="0" y2="55"><stop offset="0" stop-color="#0066f9"/><stop offset="0.5" stop-color="#007df9"/><stop offset="1" stop-color="#0091f9"/></linearGradient><rect x="110" y="0" width="41" height="58" fill="url(#gc03)"/><linearGradient id="gc04" gradientUnits="userSpaceOnUse" x1="0" y1="0" x2="0" y2="55"><stop offset="0" stop-color="#003df7"/><stop offset="0.5" stop-color="#004af9"/><stop offset="1" stop-color="#005af9"/></linearGradient><rect x="148" y="0" width="20" height="58" fill="url(#gc04)"/><linearGradient id="gc05" gradientUnits="userSpaceOnUse" x1="165" y1="0" x2="220" y2="0"><stop offset="0" stop-color="#0091f9"/><stop offset="0.5" stop-color="#00bff9"/><stop offset="1" stop-color="#00e4eb"/></linearGradient><rect x="165" y="0" width="58" height="58" fill="url(#gc05)"/><linearGradient id="gc10" gradientUnits="userSpaceOnUse" x1="0" y1="0" x2="33" y2="0"><stop offset="0" stop-color="#00df06"/><stop offset="0.5" stop-color="#00e71c"/><stop offset="1" stop-color="#00ee35"/></linearGradient><rect x="0" y="55" width="36" height="20" fill="url(#gc10)"/><rect x="33" y="55" width="47" height="20" fill="#00bff9"/><rect x="77" y="55" width="36" height="20" fill="#00c7f9"/><rect x="110" y="55" width="41" height="20" fill="#00e9d2"/><rect x="148" y="55" width="20" height="20" fill="#00c7f9"/><linearGradient id="gc15" gradientUnits="userSpaceOnUse" x1="165" y1="0" x2="220" y2="0"><stop offset="0" stop-color="#00ee35"/><stop offset="0.5" stop-color="#00e71c"/><stop offset="1" stop-color="#00df06"/></linearGradient><rect x="165" y="55" width="58" height="20" fill="url(#gc15)"/><linearGradient id="gc20" gradientUnits="userSpaceOnUse" x1="0" y1="0" x2="33" y2="0"><stop offset="0" stop-color="#00ec2b"/><stop offset="0.5" stop-color="#00f150"/><stop offset="1" stop-color="#00f27a"/></linearGradient><rect x="0" y="72" width="36" height="41" fill="url(#gc20)"/><rect x="33" y="72" width="47" height="41" fill="#0060f9"/><rect x="77" y="72" width="36" height="41" fill="#007df9"/><rect x="110" y="72" width="41" height="41" fill="#00e4eb"/><rect x="148" y="72" width="20" height="41" fill="#0060f9"/><linearGradient id="gc25" gradientUnits="userSpaceOnUse" x1="165" y1="0" x2="220" y2="0"><stop offset="0" stop-color="#00f2a0"/><stop offset="0.5" stop-color="#00f273"/><stop offset="1" stop-color="#00f149"/></linearGradient><rect x="165" y="72" width="58" height="41" fill="url(#gc25)"/><linearGradient id="gc30" gradientUnits="userSpaceOnUse" x1="0" y1="0" x2="33" y2="0"><stop offset="0" stop-color="#0cdf00"/><stop offset="0.5" stop-color="#00e00a"/><stop offset="1" stop-color="#00e820"/></linearGradient><rect x="0" y="110" width="36" height="34" fill="url(#gc30)"/><rect x="33" y="110" width="47" height="34" fill="#00a0f9"/><rect x="77" y="110" width="36" height="34" fill="#00c7f9"/><rect x="110" y="110" width="41" height="34" fill="#00f273"/><rect x="148" y="110" width="20" height="34" fill="#00e2f9"/><linearGradient id="gc35" gradientUnits="userSpaceOnUse" x1="165" y1="0" x2="220" y2="0"><stop offset="0" stop-color="#00eb29"/><stop offset="0.5" stop-color="#00e413"/><stop offset="1" stop-color="#03de00"/></linearGradient><rect x="165" y="110" width="58" height="34" fill="url(#gc35)"/><linearGradient id="gc40" gradientUnits="userSpaceOnUse" x1="0" y1="0" x2="33" y2="0"><stop offset="0" stop-color="#25e500"/><stop offset="0.5" stop-color="#10e000"/><stop offset="1" stop-color="#00de04"/></linearGradient><rect x="0" y="141" width="36" height="48" fill="url(#gc40)"/><rect x="33" y="141" width="47" height="48" fill="#00daf9"/><rect x="77" y="141" width="36" height="48" fill="#00e4eb"/><rect x="110" y="141" width="41" height="48" fill="#00f262"/><rect x="148" y="141" width="20" height="48" fill="#00e3f4"/><linearGradient id="gc45" gradientUnits="userSpaceOnUse" x1="165" y1="0" x2="220" y2="0"><stop offset="0" stop-color="#00eb29"/><stop offset="0.5" stop-color="#00e413"/><stop offset="1" stop-color="#03de00"/></linearGradient><rect x="165" y="141" width="58" height="48" fill="url(#gc45)"/><linearGradient id="gc50" gradientUnits="userSpaceOnUse" x1="0" y1="0" x2="33" y2="0"><stop offset="0" stop-color="#00e5e2"/><stop offset="0.5" stop-color="#00c7f9"/><stop offset="1" stop-color="#0099f9"/></linearGradient><rect x="0" y="186" width="36" height="37" fill="url(#gc50)"/><linearGradient id="gc51" gradientUnits="userSpaceOnUse" x1="0" y1="186" x2="0" y2="220"><stop offset="0" stop-color="#004af9"/><stop offset="0.5" stop-color="#003df7"/><stop offset="1" stop-color="#0033f4"/></linearGradient><rect x="33" y="186" width="47" height="37" fill="url(#gc51)"/><linearGradient id="gc52" gradientUnits="userSpaceOnUse" x1="0" y1="186" x2="0" y2="220"><stop offset="0" stop-color="#005af9"/><stop offset="0.5" stop-color="#004af9"/><stop offset="1" stop-color="#003df7"/></linearGradient><rect x="77" y="186" width="36" height="37" fill="url(#gc52)"/><linearGradient id="gc53" gradientUnits="userSpaceOnUse" x1="0" y1="186" x2="0" y2="220"><stop offset="0" stop-color="#0077f9"/><stop offset="0.5" stop-color="#0060f9"/><stop offset="1" stop-color="#004ef9"/></linearGradient><rect x="110" y="186" width="41" height="37" fill="url(#gc53)"/><linearGradient id="gc54" gradientUnits="userSpaceOnUse" x1="0" y1="186" x2="0" y2="220"><stop offset="0" stop-color="#0052f9"/><stop offset="0.5" stop-color="#0043f9"/><stop offset="1" stop-color="#0039f6"/></linearGradient><rect x="148" y="186" width="20" height="37" fill="url(#gc54)"/><linearGradient id="gc55" gradientUnits="userSpaceOnUse" x1="165" y1="0" x2="220" y2="0"><stop offset="0" stop-color="#0091f9"/><stop offset="0.5" stop-color="#00bff9"/><stop offset="1" stop-color="#00e4eb"/></linearGradient><rect x="165" y="186" width="58" height="37" fill="url(#gc55)"/><ellipse cx="5" cy="160" rx="5" ry="14" fill="#c1f200"/><path d="M42.1 0.0L41.4 11.0 38.0 27.0 38.7 34.0 42.0 48.0 45.7 51.0 55.0 52.3 64.3 51.0 67.5 49.0 69.6 40.0 73.0 32.0 73.5 25.0 69.0 12.8 67.9 0.0M87.9 0.0L89.1 11.0 91.0 15.0 93.0 16.3 96.0 15.0 97.6 12.0 99.1 0.0M153.0 0.0L153.8 17.0 156.0 23.7 157.0 23.5 158.0 21.3 159.0 16.0 159.7 0.0M158.2 51.0L159.5 48.0 159.0 39.0 158.0 33.7 157.0 31.5 156.0 31.3 154.0 36.6 153.1 48.0 154.7 51.0 158.2 51.0M97.4 50.0L98.5 47.0 97.0 41.5 95.0 39.1 92.0 39.1 89.4 43.0 88.7 49.0 93.0 51.0 97.4 50.0M71.9 220.0L76.9 204.0 76.3 199.0 74.0 193.4 72.1 191.0 66.8 189.0 55.0 187.6 43.2 189.0 40.0 190.0 37.7 192.0 36.0 204.0 38.5 220.0M95.9 200.0L99.0 196.4 99.6 191.0 94.9 189.0 88.5 190.0 87.1 193.0 89.0 198.1 92.0 200.5 95.9 200.0M160.5 220.0L160.3 191.0 159.0 188.9 156.0 188.3 153.0 189.4 151.7 192.0 150.7 203.0 151.7 220.0M100.5 220.0L99.0 209.6 97.0 206.8 94.0 205.2 91.0 206.0 88.0 209.6 86.5 220.0M34.8 0.0L34.2 28.0 35.0 50.2 36.0 52.1 38.0 53.1 55.0 55.2 79.0 52.4 95.0 54.4 104.0 52.9 108.3 51.0 109.7 48.0 111.9 29.0 109.4 0.0M120.3 0.0L121.0 15.0 124.0 27.0 121.2 39.0 120.6 48.0 123.0 50.4 129.0 51.4 135.0 50.4 137.4 48.0 136.8 39.0 134.0 27.0 137.0 15.0 137.7 0.0M147.3 0.0L144.8 27.0 147.1 48.0 149.6 52.0 156.0 54.6 160.6 53.0 162.9 49.0 162.9 0.0M61.1 110.0L72.0 106.5 75.0 103.4 77.9 91.0 74.4 77.0 72.0 75.1 68.5 74.0 57.0 72.2 48.0 72.7 38.8 75.0 37.4 78.0 36.6 89.0 38.0 105.9 40.0 107.2 51.0 110.5 61.1 110.0M157.4 108.0L160.0 106.6 160.7 104.0 160.8 78.0 160.0 74.0 156.0 72.4 153.0 73.3 151.1 76.0 150.5 96.0 151.6 106.0 154.0 107.6 157.4 108.0M96.8 107.0L100.1 105.0 100.7 103.0 97.8 91.0 100.3 83.0 100.6 77.0 99.2 75.0 97.0 74.0 91.0 73.8 87.8 75.0 86.4 77.0 86.7 83.0 89.2 91.0 86.9 98.0 86.4 104.0 87.9 106.0 90.2 107.0 96.8 107.0M163.2 220.0L163.2 191.0 161.8 188.0 159.0 186.4 154.0 186.4 144.0 190.0 129.0 188.4 113.0 190.3 106.0 187.9 97.0 186.6 79.0 187.8 55.0 185.5 38.0 187.0 34.6 189.0 33.2 201.0 33.8 220.0M33.1 0.0L32.7 30.0 33.5 51.0 35.0 53.5 37.0 54.8 55.0 58.1 78.0 54.7 95.0 57.3 114.0 52.4 129.0 53.9 144.0 52.5 155.0 57.1 159.0 56.5 163.7 52.0 164.8 49.0 165.9 28.0 164.8 0.0M57.8 140.0L67.2 137.0 72.0 130.7 73.2 127.0 73.1 123.0 69.5 115.0 71.8 112.0 77.0 109.3 80.0 108.7 91.0 111.7 95.0 111.9 104.1 109.0 106.8 107.0 107.8 103.0 108.4 89.0 107.5 76.0 106.0 72.9 95.0 69.4 79.0 72.4 55.0 68.5 38.0 71.5 36.0 73.0 35.0 78.0 35.0 104.0 36.0 108.9 40.5 115.0 38.0 124.0 39.0 131.5 41.6 136.0 44.6 138.0 53.0 140.2 57.8 140.0M159.1 110.0L161.2 108.0 162.3 105.0 162.3 76.0 160.0 70.8 156.0 69.1 150.5 72.0 148.8 75.0 148.0 89.0 148.4 103.0 148.9 106.0 151.0 108.6 156.0 110.8 159.1 110.0M165.0 220.0L166.0 203.0 165.0 191.0 162.7 187.0 158.0 184.2 155.0 184.1 145.0 187.7 129.0 187.1 114.0 187.8 95.0 184.3 79.0 185.9 55.0 183.4 37.0 185.6 32.7 189.0 31.2 202.0 32.1 220.0M32.1 0.0L31.3 27.0 32.1 49.0 33.0 52.7 37.2 59.0 36.9 68.0 34.1 75.0 33.7 86.0 34.0 105.0 35.7 114.0 35.9 137.0 37.4 140.0 46.1 144.0 50.0 152.2 54.0 154.8 57.0 154.5 59.0 153.3 63.9 144.0 75.9 139.0 80.0 133.0 82.0 134.0 85.7 139.0 93.0 143.2 98.0 141.5 103.1 137.0 105.0 127.0 104.1 114.0 109.1 107.0 110.4 96.0 109.5 75.0 108.7 72.0 105.6 68.0 106.1 63.0 105.2 60.0 105.7 58.0 109.5 55.0 115.0 54.4 129.0 56.3 144.0 54.4 147.0 54.8 150.0 57.0 150.9 59.0 150.9 67.0 147.6 73.0 146.3 85.0 146.8 103.0 148.2 108.0 156.0 115.8 157.0 115.8 162.1 109.0 163.3 105.0 163.3 76.0 160.1 64.0 160.4 59.0 162.4 55.0 170.0 48.0 180.9 51.0 199.0 51.5 212.5 49.0 217.0 45.4 220.0 44.3M171.3 0.0L170.0 5.1 168.8 0.0M220.0 10.7L217.0 9.6 215.0 7.1 213.5 0.0M80.0 59.1L79.0 59.7 77.4 59.0 79.0 58.5 80.0 59.1M81.0 118.0L80.0 117.9 78.7 116.0 79.0 112.9 81.0 112.8 82.2 114.0 82.3 116.0 81.0 118.0M157.1 145.0L157.8 138.0 157.0 135.6 156.0 135.5 155.0 141.4 156.0 145.7 157.1 145.0M220.0 192.8L209.3 190.0 195.0 188.4 181.6 189.0 170.0 191.4 156.0 179.9 149.7 185.0 144.0 186.6 112.0 186.6 94.0 181.4 82.0 184.3 77.0 184.4 69.1 183.0 63.8 181.0 59.0 173.7 55.0 172.1 51.0 173.7 46.2 181.0 36.0 184.7 28.0 191.8 19.0 189.0 11.0 189.6 7.1 191.0 3.0 196.7 0.0 197.8M0.0 208.2L3.0 209.3 5.0 212.0 6.3 220.0M213.5 220.0L215.6 215.0 220.0 213.4M27.2 220.0L28.0 216.5 28.6 220.0M168.9 220.0L170.0 217.0 171.3 220.0M10.1 0.0L11.6 14.0 13.6 18.0 16.0 19.6 19.0 18.5 21.0 15.2 22.4 9.0 22.9 0.0M30.4 0.0L29.1 27.0 30.3 48.0 34.9 59.0 34.8 69.0 33.1 76.0 32.9 96.0 33.2 106.0 34.5 113.0 34.7 137.0 37.0 145.0 36.1 163.0 36.7 181.0 34.2 185.0 29.0 188.5 15.0 187.7 0.0 189.0M17.3 51.0L21.1 50.0 22.1 49.0 22.4 46.0 20.0 37.8 18.0 35.7 16.0 35.4 14.0 36.5 12.0 39.8 10.6 48.0 11.9 50.0 17.3 51.0M220.0 188.5L193.0 187.2 170.0 188.3 165.0 186.6 161.7 183.0 160.9 180.0 160.8 147.0 161.1 114.0 164.0 106.6 164.4 96.0 164.1 75.0 162.1 67.0 162.1 59.0 162.9 56.0 166.0 52.9 169.0 51.9 193.0 53.0 220.0 51.6M115.0 81.3L114.0 81.1 113.0 79.0 109.8 70.0 110.3 57.0 115.0 56.0 129.0 59.7 143.0 56.1 146.6 57.0 147.2 69.0 143.0 78.9 142.0 78.8 139.9 74.0 136.0 70.0 132.0 67.9 128.0 67.6 123.0 69.3 118.9 73.0 115.0 81.3M147.0 185.4L142.0 185.8 129.0 184.7 112.0 185.8 109.2 185.0 104.4 181.0 105.3 162.0 103.8 146.0 107.3 136.0 107.5 113.0 114.0 100.9 115.0 100.7 119.5 106.0 128.0 107.9 135.9 107.0 143.0 102.8 150.5 113.0 151.2 179.0 150.0 183.0 147.0 185.4M81.0 153.2L80.0 153.9 78.0 152.6 76.1 147.0 76.3 144.0 79.0 141.9 81.8 143.0 82.8 145.0 82.6 149.0 81.0 153.2M81.0 181.4L78.0 181.8 76.3 180.0 77.1 176.0 80.0 173.1 82.5 178.0 82.5 180.0 81.0 181.4M0.0 49.5L15.0 52.8 29.0 51.4 32.0 54.0 33.6 57.0 33.8 68.0 32.6 75.0 32.2 94.0 33.7 113.0 33.8 136.0 35.2 146.0 35.1 180.0 33.2 185.0 28.0 187.5 16.0 186.9 0.0 187.8M220.0 187.2L193.0 186.3 170.0 187.1 165.0 185.8 162.8 183.0 162.2 180.0 162.1 144.0 162.3 114.0 164.7 106.0 165.4 94.0 164.8 76.0 163.1 67.0 163.2 58.0 164.4 55.0 169.0 53.1 193.0 53.9 220.0 52.9M145.0 185.1L129.0 183.7 112.0 185.2 110.0 184.6 108.0 182.0 107.4 145.0 109.0 134.6 109.0 114.0 109.8 110.0 112.0 108.4 115.0 107.9 129.0 110.4 143.0 108.0 147.0 109.7 148.2 112.0 149.3 143.0 148.6 163.0 149.2 180.0 147.5 184.0 145.0 185.1M0.0 52.3L16.0 54.1 28.0 53.0 32.0 54.8 32.5 56.0 32.9 68.0 31.3 93.0 33.0 113.0 33.1 136.0 34.2 146.0 34.2 180.0 32.6 185.0 28.0 186.7 16.0 186.2 0.0 186.9M220.0 186.4L193.0 185.0 170.0 186.3 165.0 185.2 163.2 180.0 163.1 143.0 163.3 114.0 165.7 105.0 166.5 93.0 165.7 76.0 164.0 68.0 164.1 58.0 165.0 55.1 170.0 53.9 193.0 55.2 220.0 53.8M145.0 184.2L130.0 182.4 114.0 184.4 109.8 183.0 109.1 180.0 109.7 163.0 109.1 145.0 110.7 127.0 109.9 114.0 110.2 112.0 112.0 109.9 117.0 109.8 128.0 112.9 143.0 109.6 145.2 110.0 147.0 111.9 147.7 180.0 147.1 183.0 145.0 184.2M0.0 53.6L16.0 55.6 28.0 54.1 31.0 54.9 32.0 56.2 32.3 69.0 31.0 76.0 30.2 92.0 31.0 105.0 32.5 112.0 32.3 129.0 33.4 146.0 33.4 180.0 32.0 185.0 28.0 186.0 16.0 185.0 0.0 186.3M220.0 185.7L194.0 184.2 172.0 185.6 165.9 185.0 164.5 183.0 164.0 180.0 164.0 142.0 164.2 113.0 166.9 105.0 168.6 91.0 166.9 76.0 164.7 69.0 165.3 56.0 169.0 54.5 193.0 56.1 220.0 54.4M199.4 107.0L203.7 105.0 204.4 103.0 203.3 98.0 199.1 91.0 203.7 83.0 204.6 78.0 204.0 76.0 200.5 74.0 194.0 72.9 188.0 73.2 182.2 75.0 180.5 77.0 180.8 81.0 185.9 91.0 181.7 98.0 180.7 104.0 182.7 106.0 187.0 107.3 199.4 107.0M144.0 183.1L135.6 181.0 131.2 176.0 129.0 175.2 127.0 175.8 123.7 180.0 120.3 182.0 114.0 183.3 110.8 182.0 110.3 179.0 111.4 162.0 110.1 144.0 112.9 128.0 111.6 114.0 113.0 111.6 117.0 112.0 119.8 114.0 121.6 120.0 124.4 125.0 121.3 132.0 120.8 137.0 125.2 149.0 127.0 151.2 129.0 151.8 131.0 151.2 132.8 149.0 137.1 138.0 136.7 132.0 133.6 125.0 136.4 120.0 137.7 115.0 139.2 113.0 142.0 111.7 144.0 111.7 145.4 113.0 144.1 126.0 146.7 143.0 145.4 163.0 146.5 180.0 146.0 182.0 144.0 183.1M0.0 54.4L16.0 56.9 29.0 55.0 31.3 57.0 31.5 70.0 29.7 76.0 28.0 92.0 29.6 105.0 32.0 112.0 31.6 127.0 32.8 146.0 32.8 180.0 32.0 184.1 28.0 185.5 16.0 184.3 0.0 185.7M220.0 77.0L199.4 71.0 194.0 70.4 185.6 71.0 170.0 75.2 168.0 73.9 165.6 70.0 165.3 59.0 166.5 56.0 169.0 55.1 193.0 57.2 220.0 54.9M19.3 108.0L23.0 106.0 23.9 104.0 22.0 91.0 24.0 77.0 23.5 75.0 21.4 73.0 16.0 71.3 11.6 73.0 9.1 76.0 9.2 82.0 11.0 91.0 9.1 104.0 10.0 106.0 13.0 107.8 19.3 108.0M220.0 185.2L194.0 183.2 171.0 185.1 166.0 184.1 164.6 180.0 164.5 142.0 164.8 112.0 165.5 110.0 169.0 106.1 171.0 105.8 188.2 110.0 194.0 110.2 220.0 104.4M115.0 151.8L114.0 151.7 113.0 149.6 112.4 146.0 112.7 142.0 114.0 140.3 115.5 141.0 116.8 144.0 116.3 149.0 115.0 151.8M143.0 149.7L142.0 149.0 141.3 145.0 143.0 141.3 144.3 144.0 143.0 149.7M114.0 181.1L112.9 180.0 113.0 177.5 114.0 175.3 115.0 175.2 116.3 179.0 114.0 181.1M143.0 180.1L142.0 179.0 143.0 177.4 143.0 180.1M0.0 55.2L16.0 58.8 29.0 56.2 30.5 58.0 30.6 69.0 30.0 71.3 28.0 73.0 19.0 68.7 14.0 68.7 0.0 77.4M220.0 72.7L193.0 68.1 169.0 72.0 167.1 71.0 166.4 69.0 166.4 59.0 167.0 56.9 170.0 56.0 193.0 58.9 220.0 55.8M0.0 104.1L15.0 111.0 20.0 110.5 27.0 107.4 30.0 109.0 31.4 113.0 30.8 127.0 32.4 145.0 32.3 180.0 31.2 184.0 28.0 185.0 16.0 183.6 0.0 185.3M220.0 184.6L193.0 181.4 173.0 184.1 167.0 183.7 165.3 180.0 166.1 163.0 165.1 142.0 166.1 126.0 165.4 114.0 167.0 109.6 172.0 108.6 193.0 112.6 209.0 109.2 220.0 108.1M0.0 56.5L6.1 58.0 8.0 60.0 8.9 63.0 8.1 67.0 5.9 70.0 0.0 71.9M220.0 71.0L210.0 69.0 206.2 66.0 205.1 63.0 208.4 59.0 220.0 57.0M172.0 70.1L169.0 70.1 168.0 69.0 168.8 63.0 167.9 59.0 169.0 57.6 176.6 59.0 179.9 63.0 178.0 67.0 172.0 70.1M28.0 69.5L25.6 68.0 24.1 63.0 25.8 59.0 28.0 58.3 27.6 64.0 28.6 68.0 28.0 69.5M0.0 108.3L7.4 110.0 16.0 115.7 18.0 115.4 25.7 110.0 29.3 110.0 30.5 113.0 29.8 127.0 31.9 145.0 31.2 163.0 31.8 180.0 31.0 183.1 28.0 184.3 16.0 182.6 0.0 184.9M220.0 183.6L211.2 183.0 204.0 181.0 198.0 173.1 193.0 171.3 187.0 173.1 181.0 181.0 173.8 183.0 167.9 183.0 166.4 180.0 167.5 163.0 166.1 141.0 167.5 126.0 166.4 114.0 168.0 110.4 171.7 110.0 178.9 112.0 187.0 118.9 193.0 120.2 199.0 118.3 202.8 114.0 206.1 112.0 213.2 110.0 220.0 109.6M196.1 155.0L199.0 153.0 201.3 149.0 202.5 143.0 202.0 137.0 200.0 133.6 197.0 131.7 193.0 130.8 189.0 131.3 185.0 133.6 183.0 137.0 182.5 142.0 183.3 148.0 185.0 151.7 188.0 154.6 192.0 155.7 196.1 155.0M17.7 137.0L17.0 135.9 15.3 137.0 16.0 137.7 17.7 137.0M0.0 109.9L4.9 111.0 7.9 114.0 8.7 137.0 11.6 141.0 16.0 144.3 20.0 142.3 24.3 137.0 24.9 115.0 27.0 112.0 29.0 112.9 27.1 126.0 31.2 145.0 30.3 163.0 31.1 180.0 30.0 183.0 26.0 183.3 16.0 180.5 8.4 183.0 0.0 184.2M220.0 120.6L214.0 119.0 210.9 115.0 212.1 113.0 214.0 112.2 220.0 111.4M172.0 118.3L170.0 118.7 169.0 117.6 168.2 114.0 169.0 112.4 171.0 112.3 173.9 114.0 173.8 116.0 172.0 118.3M220.0 156.3L216.0 155.4 212.2 152.0 210.3 147.0 209.7 141.0 210.2 137.0 212.0 133.6 215.0 131.4 220.0 130.4M171.0 153.7L169.0 152.1 167.6 141.0 169.0 133.4 171.0 132.3 174.0 135.1 175.3 141.0 174.2 149.0 171.0 153.7M220.0 182.2L212.2 181.0 210.8 179.0 211.6 176.0 214.0 172.9 220.0 170.7M172.0 181.2L169.0 181.4 168.1 180.0 170.0 173.4 172.0 174.0 174.1 178.0 174.0 180.0 172.0 181.2M0.0 113.0L1.5 114.0 0.0 115.3M0.0 135.2L3.0 136.5 8.5 142.0 11.8 154.0 15.0 157.6 18.0 157.6 20.7 155.0 23.4 144.0 26.0 140.4 28.0 139.7 29.0 140.3 30.2 145.0 29.0 163.0 30.1 180.0 29.2 182.0 27.0 182.3 24.1 181.0 20.0 171.0 18.0 169.4 16.0 169.1 12.3 172.0 8.9 181.0 4.1 183.0 0.0 183.4M0.0 140.3L4.5 142.0 5.9 146.0 4.0 153.4 2.0 155.7 0.0 156.3M0.0 170.7L2.0 171.3 4.0 173.6 5.5 179.0 4.5 181.0 0.0 182.2" fill="none" stroke="#0a2a3a" stroke-opacity="0.45" stroke-width="0.5" vector-effect="non-scaling-stroke"/><g stroke="#0a2020" stroke-width="1" vector-effect="non-scaling-stroke"><line x1="33" y1="0" x2="33" y2="55" stroke-opacity="0.25"/><line x1="110" y1="0" x2="110" y2="55" stroke-opacity="0.15"/><line x1="148" y1="0" x2="148" y2="55" stroke-opacity="0.20"/><line x1="165" y1="0" x2="165" y2="55" stroke-opacity="0.20"/><line x1="33" y1="55" x2="33" y2="72" stroke-opacity="0.35"/><line x1="110" y1="55" x2="110" y2="72" stroke-opacity="0.15"/><line x1="148" y1="55" x2="148" y2="72" stroke-opacity="0.20"/><line x1="165" y1="55" x2="165" y2="72" stroke-opacity="0.34"/><line x1="33" y1="72" x2="33" y2="110" stroke-opacity="0.35"/><line x1="110" y1="72" x2="110" y2="110" stroke-opacity="0.15"/><line x1="148" y1="72" x2="148" y2="110" stroke-opacity="0.20"/><line x1="165" y1="72" x2="165" y2="110" stroke-opacity="0.31"/><line x1="33" y1="110" x2="33" y2="141" stroke-opacity="0.43"/><line x1="77" y1="110" x2="77" y2="141" stroke-opacity="0.04"/><line x1="110" y1="110" x2="110" y2="141" stroke-opacity="0.20"/><line x1="148" y1="110" x2="148" y2="141" stroke-opacity="0.20"/><line x1="165" y1="110" x2="165" y2="141" stroke-opacity="0.33"/><line x1="33" y1="141" x2="33" y2="186" stroke-opacity="0.43"/><line x1="110" y1="141" x2="110" y2="186" stroke-opacity="0.18"/><line x1="148" y1="141" x2="148" y2="186" stroke-opacity="0.20"/><line x1="165" y1="141" x2="165" y2="186" stroke-opacity="0.32"/><line x1="33" y1="186" x2="33" y2="220" stroke-opacity="0.25"/><line x1="110" y1="186" x2="110" y2="220" stroke-opacity="0.15"/><line x1="148" y1="186" x2="148" y2="220" stroke-opacity="0.20"/><line x1="165" y1="186" x2="165" y2="220" stroke-opacity="0.20"/><line x1="0" y1="55" x2="33" y2="55" stroke-opacity="0.35"/><line x1="33" y1="55" x2="77" y2="55" stroke-opacity="0.35"/><line x1="77" y1="55" x2="110" y2="55" stroke-opacity="0.35"/><line x1="110" y1="55" x2="148" y2="55" stroke-opacity="0.35"/><line x1="148" y1="55" x2="165" y2="55" stroke-opacity="0.35"/><line x1="165" y1="55" x2="220" y2="55" stroke-opacity="0.35"/><line x1="0" y1="72" x2="33" y2="72" stroke-opacity="0.30"/><line x1="33" y1="72" x2="77" y2="72" stroke-opacity="0.30"/><line x1="77" y1="72" x2="110" y2="72" stroke-opacity="0.30"/><line x1="110" y1="72" x2="148" y2="72" stroke-opacity="0.30"/><line x1="148" y1="72" x2="165" y2="72" stroke-opacity="0.30"/><line x1="165" y1="72" x2="220" y2="72" stroke-opacity="0.30"/><line x1="0" y1="110" x2="33" y2="110" stroke-opacity="0.20"/><line x1="33" y1="110" x2="77" y2="110" stroke-opacity="0.20"/><line x1="77" y1="110" x2="110" y2="110" stroke-opacity="0.20"/><line x1="110" y1="110" x2="148" y2="110" stroke-opacity="0.20"/><line x1="148" y1="110" x2="165" y2="110" stroke-opacity="0.20"/><line x1="165" y1="110" x2="220" y2="110" stroke-opacity="0.20"/><line x1="0" y1="141" x2="33" y2="141" stroke-opacity="0.07"/><line x1="33" y1="141" x2="77" y2="141" stroke-opacity="0.07"/><line x1="77" y1="141" x2="110" y2="141" stroke-opacity="0.05"/><line x1="0" y1="186" x2="33" y2="186" stroke-opacity="0.45"/><line x1="33" y1="186" x2="77" y2="186" stroke-opacity="0.30"/><line x1="77" y1="186" x2="110" y2="186" stroke-opacity="0.30"/><line x1="110" y1="186" x2="148" y2="186" stroke-opacity="0.33"/><line x1="148" y1="186" x2="165" y2="186" stroke-opacity="0.30"/><line x1="165" y1="186" x2="220" y2="186" stroke-opacity="0.37"/></g><rect x="0" y="0" width="220" height="220" fill="none" stroke="#102838" stroke-width="2" vector-effect="non-scaling-stroke"/></svg>
<div class="tk" style="left:299.48px;top:110.50px"></div><div class="xl" style="left:289.73px;top:113.20px">50</div><div class="tk" style="left:322.20px;top:110.50px"></div><div class="xl" style="left:312.45px;top:113.20px">100</div><div class="tk" style="left:344.93px;top:110.50px"></div><div class="xl" style="left:335.18px;top:113.20px">150</div><div class="tk" style="left:367.66px;top:110.50px"></div><div class="xl" style="left:357.91px;top:113.20px">200</div><div class="tky" style="left:275.00px;top:88.52px"></div><div class="yl" style="left:254.30px;top:86.17px">50</div><div class="tky" style="left:275.00px;top:66.80px"></div><div class="yl" style="left:254.30px;top:64.45px">100</div><div class="tky" style="left:275.00px;top:45.07px"></div><div class="yl" style="left:254.30px;top:42.72px">150</div><div class="tky" style="left:275.00px;top:23.34px"></div><div class="yl" style="left:254.30px;top:20.99px">200</div><div class="xa" style="left:317.00px;top:121.80px">X</div><div class="ya" style="left:250.60px;top:59.20px">Y</div><div class="cap" style="left:282.45px;top:130.20px">(c) CM</div>
<svg class="pl" style="left:402.30px;top:15.90px;width:99.90px;height:95.90px" viewBox="0 0 220 220" preserveAspectRatio="none"><linearGradient id="gd00" gradientUnits="userSpaceOnUse" x1="0" y1="0" x2="33" y2="0"><stop offset="0" stop-color="#00e2f9"/><stop offset="0.5" stop-color="#00b4f9"/><stop offset="1" stop-color="#0083f9"/></linearGradient><rect x="0" y="0" width="36" height="58" fill="url(#gd00)"/><linearGradient id="gd01" gradientUnits="userSpaceOnUse" x1="0" y1="0" x2="0" y2="55"><stop offset="0" stop-color="#000ce2"/><stop offset="0.5" stop-color="#0013ea"/><stop offset="1" stop-color="#001eed"/></linearGradient><rect x="33" y="0" width="47" height="58" fill="url(#gd01)"/><linearGradient id="gd02" gradientUnits="userSpaceOnUse" x1="0" y1="0" x2="0" y2="55"><stop offset="0" stop-color="#000ce2"/><stop offset="0.5" stop-color="#0013ea"/><stop offset="1" stop-color="#001eed"/></linearGradient><rect x="77" y="0" width="36" height="58" fill="url(#gd02)"/><linearGradient id="gd03" gradientUnits="userSpaceOnUse" x1="0" y1="0" x2="0" y2="55"><stop offset="0" stop-color="#0039f6"/><stop offset="0.5" stop-color="#0043f9"/><stop offset="1" stop-color="#0052f9"/></linearGradient><rect x="110" y="0" width="41" height="58" fill="url(#gd03)"/><linearGradient id="gd04" gradientUnits="userSpaceOnUse" x1="0" y1="0" x2="0" y2="55"><stop offset="0" stop-color="#000ce2"/><stop offset="0.5" stop-color="#0013ea"/><stop offset="1" stop-color="#001eed"/></linearGradient><rect x="148" y="0" width="20" height="58" fill="url(#gd04)"/><linearGradient id="gd05" gradientUnits="userSpaceOnUse" x1="165" y1="0" x2="220" y2="0"><stop offset="0" stop-color="#0083f9"/><stop offset="0.5" stop-color="#00b4f9"/><stop offset="1" stop-color="#00e2f9"/></linearGradient><rect x="165" y="0" width="58" height="58" fill="url(#gd05)"/><linearGradient id="gd10" gradientUnits="userSpaceOnUse" x1="0" y1="0" x2="33" y2="0"><stop offset="0" stop-color="#f77e00"/><stop offset="0.5" stop-color="#f7b000"/><stop offset="1" stop-color="#f7e200"/></linearGradient><rect x="0" y="55" width="36" height="20" fill="url(#gd10)"/><rect x="33" y="55" width="47" height="20" fill="#008ef9"/><rect x="77" y="55" width="36" height="20" fill="#00b4f9"/><rect x="110" y="55" width="41" height="20" fill="#00ed2f"/><rect x="148" y="55" width="20" height="20" fill="#00a0f9"/><linearGradient id="gd15" gradientUnits="userSpaceOnUse" x1="165" y1="0" x2="220" y2="0"><stop offset="0" stop-color="#f7e200"/><stop offset="0.5" stop-color="#f7b000"/><stop offset="1" stop-color="#f77e00"/></linearGradient><rect x="165" y="55" width="58" height="20" fill="url(#gd15)"/><linearGradient id="gd20" gradientUnits="userSpaceOnUse" x1="0" y1="0" x2="33" y2="0"><stop offset="0" stop-color="#00e20f"/><stop offset="0.5" stop-color="#00ea25"/><stop offset="1" stop-color="#00f045"/></linearGradient><rect x="0" y="72" width="36" height="41" fill="url(#gd20)"/><rect x="33" y="72" width="47" height="41" fill="#0028f1"/><rect x="77" y="72" width="36" height="41" fill="#0031f3"/><rect x="110" y="72" width="41" height="41" fill="#00cef9"/><rect x="148" y="72" width="20" height="41" fill="#0028f1"/><linearGradient id="gd25" gradientUnits="userSpaceOnUse" x1="165" y1="0" x2="220" y2="0"><stop offset="0" stop-color="#00f045"/><stop offset="0.5" stop-color="#00ea25"/><stop offset="1" stop-color="#00e20f"/></linearGradient><rect x="165" y="72" width="58" height="41" fill="url(#gd25)"/><linearGradient id="gd30" gradientUnits="userSpaceOnUse" x1="0" y1="0" x2="33" y2="0"><stop offset="0" stop-color="#f7a800"/><stop offset="0.5" stop-color="#f7d900"/><stop offset="1" stop-color="#d2f200"/></linearGradient><rect x="0" y="110" width="36" height="34" fill="url(#gd30)"/><rect x="33" y="110" width="47" height="34" fill="#008ef9"/><rect x="77" y="110" width="36" height="34" fill="#00a8f9"/><rect x="110" y="110" width="41" height="34" fill="#00ed2f"/><rect x="148" y="110" width="20" height="34" fill="#0099f9"/><linearGradient id="gd35" gradientUnits="userSpaceOnUse" x1="165" y1="0" x2="220" y2="0"><stop offset="0" stop-color="#26e500"/><stop offset="0.5" stop-color="#3ae900"/><stop offset="1" stop-color="#8df000"/></linearGradient><rect x="165" y="110" width="58" height="34" fill="url(#gd35)"/><linearGradient id="gd40" gradientUnits="userSpaceOnUse" x1="0" y1="0" x2="33" y2="0"><stop offset="0" stop-color="#f31500"/><stop offset="0.5" stop-color="#f73200"/><stop offset="1" stop-color="#f76500"/></linearGradient><rect x="0" y="141" width="36" height="48" fill="url(#gd40)"/><rect x="33" y="141" width="47" height="48" fill="#00bbf9"/><rect x="77" y="141" width="36" height="48" fill="#00e5e2"/><rect x="110" y="141" width="41" height="48" fill="#00e00a"/><rect x="148" y="141" width="20" height="48" fill="#00c7f9"/><linearGradient id="gd45" gradientUnits="userSpaceOnUse" x1="165" y1="0" x2="220" y2="0"><stop offset="0" stop-color="#f7cd00"/><stop offset="0.5" stop-color="#f79b00"/><stop offset="1" stop-color="#f76900"/></linearGradient><rect x="165" y="141" width="58" height="48" fill="url(#gd45)"/><linearGradient id="gd50" gradientUnits="userSpaceOnUse" x1="0" y1="0" x2="33" y2="0"><stop offset="0" stop-color="#00d6f9"/><stop offset="0.5" stop-color="#00a8f9"/><stop offset="1" stop-color="#0071f9"/></linearGradient><rect x="0" y="186" width="36" height="37" fill="url(#gd50)"/><linearGradient id="gd51" gradientUnits="userSpaceOnUse" x1="0" y1="186" x2="0" y2="220"><stop offset="0" stop-color="#0019ec"/><stop offset="0.5" stop-color="#0010e6"/><stop offset="1" stop-color="#000ade"/></linearGradient><rect x="33" y="186" width="47" height="37" fill="url(#gd51)"/><linearGradient id="gd52" gradientUnits="userSpaceOnUse" x1="0" y1="186" x2="0" y2="220"><stop offset="0" stop-color="#0019ec"/><stop offset="0.5" stop-color="#0010e6"/><stop offset="1" stop-color="#000ade"/></linearGradient><rect x="77" y="186" width="36" height="37" fill="url(#gd52)"/><linearGradient id="gd53" gradientUnits="userSpaceOnUse" x1="0" y1="186" x2="0" y2="220"><stop offset="0" stop-color="#0047f9"/><stop offset="0.5" stop-color="#003cf6"/><stop offset="1" stop-color="#0031f3"/></linearGradient><rect x="110" y="186" width="41" height="37" fill="url(#gd53)"/><linearGradient id="gd54" gradientUnits="userSpaceOnUse" x1="0" y1="186" x2="0" y2="220"><stop offset="0" stop-color="#0019ec"/><stop offset="0.5" stop-color="#0010e6"/><stop offset="1" stop-color="#000ade"/></linearGradient><rect x="148" y="186" width="20" height="37" fill="url(#gd54)"/><linearGradient id="gd55" gradientUnits="userSpaceOnUse" x1="165" y1="0" x2="220" y2="0"><stop offset="0" stop-color="#0071f9"/><stop offset="0.5" stop-color="#00a8f9"/><stop offset="1" stop-color="#00d6f9"/></linearGradient><rect x="165" y="186" width="58" height="37" fill="url(#gd55)"/><rect x="1" y="56" width="31" height="15" fill="url(#ph)" opacity="1.00"/><rect x="166" y="56" width="53" height="15" fill="url(#ph)" opacity="1.00"/><rect x="1" y="111" width="31" height="29" fill="url(#pv)" opacity="1.00"/><rect x="166" y="111" width="53" height="29" fill="url(#pv)" opacity="0.40"/><rect x="1" y="142" width="31" height="43" fill="url(#pv)" opacity="1.00"/><rect x="166" y="142" width="53" height="43" fill="url(#pv)" opacity="1.00"/><path d="M47.0 0.0L47.6 8.0 49.0 13.2 52.0 17.1 55.0 18.1 58.0 17.1 61.0 13.2 62.4 8.0 63.0 0.0M87.5 0.0L89.0 13.2 91.0 16.8 93.0 18.0 96.0 16.8 98.0 13.2 99.5 0.0M153.5 0.0L154.0 11.4 156.0 17.8 157.0 17.7 158.1 15.0 159.1 0.0M60.6 50.0L61.9 49.0 62.4 47.0 60.0 40.0 56.0 37.0 52.0 37.9 48.6 43.0 48.1 49.0 54.0 50.9 60.6 50.0M97.1 50.0L99.0 48.0 98.0 41.8 96.0 38.2 93.0 37.0 89.8 40.0 88.0 48.0 91.0 50.2 97.1 50.0M158.2 50.0L158.9 47.0 158.1 40.0 157.0 37.3 156.0 37.2 154.3 42.0 153.9 49.0 156.0 50.6 158.2 50.0M66.6 220.0L67.1 211.0 69.2 203.0 66.5 192.0 64.0 190.0 55.0 188.8 46.0 190.0 43.5 192.0 40.9 203.0 42.9 211.0 43.4 220.0M160.1 220.0L159.9 192.0 159.0 189.7 156.0 188.9 153.3 190.0 152.4 192.0 152.3 220.0M102.2 220.0L103.4 203.0 102.3 193.0 101.3 191.0 99.5 190.0 94.0 189.1 87.5 190.0 85.7 191.0 84.7 193.0 82.8 203.0 84.4 211.0 84.8 220.0M35.4 0.0L34.7 29.0 35.7 50.0 39.0 52.3 55.0 53.8 78.0 51.7 96.0 53.1 104.4 52.0 107.0 50.7 108.2 48.0 109.1 31.0 108.1 0.0M148.9 0.0L147.9 27.0 148.8 48.0 151.2 52.0 156.0 53.4 160.0 52.5 162.0 49.0 162.1 0.0M59.7 107.0L63.9 106.0 67.0 104.0 72.0 92.1 72.0 89.9 68.9 84.0 67.4 78.0 66.0 76.0 60.0 74.0 52.0 73.8 46.0 75.0 43.1 77.0 39.6 89.0 39.8 94.0 42.5 103.0 44.0 105.0 49.0 106.7 59.7 107.0M157.3 107.0L158.9 106.0 159.4 104.0 159.5 78.0 158.8 75.0 156.0 74.0 153.5 75.0 152.6 77.0 152.5 103.0 153.5 106.0 157.3 107.0M95.8 81.0L97.4 78.0 96.1 76.0 92.0 75.8 89.7 77.0 90.0 79.5 92.0 81.6 94.0 81.9 95.8 81.0M95.8 105.0L97.0 103.0 95.0 100.4 92.0 100.4 90.4 102.0 90.0 104.0 91.2 105.0 95.8 105.0M108.9 220.0L109.9 200.0 109.1 192.0 107.0 189.0 96.0 187.3 78.0 188.4 55.0 186.7 38.0 188.0 35.3 190.0 34.2 202.0 34.9 220.0M162.5 220.0L162.4 191.0 160.7 188.0 156.0 186.8 151.0 188.1 147.9 192.0 147.0 203.0 148.1 220.0M33.4 0.0L33.0 30.0 33.7 50.0 35.8 53.0 38.0 54.2 55.0 55.8 78.0 53.7 94.0 54.9 105.0 53.7 108.6 52.0 111.7 49.0 114.0 39.2 115.0 38.2 116.5 41.0 117.7 47.0 119.4 49.0 129.0 50.5 138.6 49.0 140.4 47.0 142.0 40.7 143.0 41.1 144.7 48.0 147.1 51.0 154.0 54.9 159.0 54.8 162.3 52.0 163.7 48.0 163.6 0.0M117.8 0.0L117.0 12.0 115.0 16.8 113.0 12.3 112.0 0.0M144.8 0.0L144.0 10.5 143.0 13.9 142.0 14.3 140.6 9.0 140.2 0.0M59.6 110.0L79.0 107.2 94.0 109.0 105.1 107.0 106.8 104.0 107.3 95.0 107.0 80.1 106.0 75.0 103.0 73.4 96.0 72.4 79.0 73.9 56.0 70.8 38.0 73.0 36.5 75.0 35.9 79.0 35.9 102.0 36.9 107.0 39.0 108.4 48.0 109.7 59.6 110.0M159.1 109.0L160.8 107.0 161.3 104.0 161.2 76.0 160.0 72.9 156.0 71.4 152.0 72.7 149.8 76.0 149.6 104.0 150.6 107.0 153.0 109.0 156.0 109.8 159.1 109.0M164.0 220.0L163.9 191.0 162.4 188.0 159.0 185.8 152.0 186.2 143.0 190.5 129.0 189.1 114.0 190.7 107.0 187.4 103.0 186.6 93.0 186.1 79.0 186.8 55.0 185.1 38.0 186.4 34.0 189.0 33.0 192.0 32.7 199.0 33.1 220.0M32.1 0.0L31.5 29.0 32.4 50.0 36.0 54.6 39.0 56.5 55.0 59.2 78.0 55.1 92.0 56.5 98.0 56.2 105.0 55.0 114.0 51.3 129.0 52.1 144.0 51.5 154.0 56.9 157.0 57.3 159.0 56.6 164.1 51.0 164.9 48.0 164.9 0.0M57.9 115.0L66.2 112.0 77.0 109.8 94.0 111.6 106.0 108.9 108.6 105.0 109.1 96.0 108.7 77.0 107.0 73.1 104.0 71.5 95.0 70.1 78.0 71.6 56.0 67.4 46.0 68.5 37.0 71.3 35.4 74.0 34.8 78.0 34.9 104.0 36.0 108.5 39.0 110.9 53.0 115.3 57.9 115.0M158.5 112.0L161.0 109.2 162.1 106.0 162.2 77.0 160.0 70.8 156.0 69.1 151.0 71.4 148.2 76.0 147.9 103.0 148.8 107.0 152.0 110.6 156.0 112.9 158.5 112.0M165.3 220.0L165.4 192.0 163.5 188.0 159.0 184.4 154.0 184.3 144.0 188.5 114.0 188.6 105.9 186.0 97.0 184.9 79.0 185.8 55.0 183.6 38.0 185.2 32.8 189.0 31.6 192.0 31.1 199.0 31.7 220.0M11.7 0.0L13.0 10.0 16.0 13.7 18.0 13.2 20.0 10.0 21.3 0.0M30.3 0.0L29.3 27.0 30.3 48.0 36.5 57.0 37.0 59.0 36.9 68.0 34.2 76.0 33.9 94.0 34.3 106.0 37.2 114.0 37.5 136.0 39.0 139.1 55.0 145.8 73.0 138.6 75.9 136.0 78.8 126.0 76.5 114.0 79.0 112.2 83.1 113.0 85.1 115.0 86.4 125.0 85.7 133.0 86.3 136.0 89.1 138.0 93.0 138.7 97.9 138.0 100.7 136.0 101.3 133.0 100.6 125.0 101.8 115.0 108.6 108.0 110.1 104.0 110.8 89.0 109.6 75.0 105.0 69.8 97.0 67.1 92.0 66.8 82.0 69.2 77.8 69.0 76.6 67.0 76.4 59.0 77.0 57.8 80.0 56.9 91.0 59.7 96.0 59.7 103.0 57.6 110.0 53.5 114.0 52.5 144.0 52.6 148.0 54.2 151.5 58.0 151.9 67.0 147.6 74.0 146.7 77.0 146.0 90.0 146.6 103.0 147.6 107.0 151.6 114.0 152.0 137.3 155.0 141.9 157.0 142.3 158.0 141.7 160.0 137.0 160.2 114.0 162.6 107.0 163.0 102.0 162.9 76.0 159.5 67.0 159.2 62.0 160.5 57.0 166.6 48.0 167.6 27.0 166.6 0.0M184.4 0.0L185.0 5.7 186.7 10.0 189.0 12.6 192.0 13.7 195.0 13.2 198.0 10.6 199.9 6.0 200.6 0.0M19.8 48.0L20.3 46.0 19.0 42.9 17.0 41.3 15.0 41.8 13.0 45.0 13.2 48.0 16.0 48.8 19.8 48.0M198.1 48.0L198.9 47.0 197.7 44.0 193.0 41.3 189.0 42.4 186.2 46.0 186.9 48.0 189.0 48.5 198.1 48.0M167.3 220.0L169.2 203.0 167.5 192.0 160.0 183.6 157.0 181.8 154.0 182.4 147.0 186.7 144.0 187.5 114.0 187.6 104.0 184.8 96.0 183.7 78.0 184.9 55.0 179.9 38.0 183.7 29.8 191.0 27.3 203.0 29.4 220.0M24.6 220.0L23.7 203.0 24.2 193.0 21.6 191.0 17.0 190.5 11.4 191.0 8.8 193.0 9.4 203.0 8.5 220.0M205.9 220.0L204.4 203.0 205.4 193.0 201.7 191.0 193.0 190.3 183.3 191.0 179.6 193.0 180.6 203.0 179.1 220.0M0.0 49.1L15.0 51.0 29.0 50.2 32.0 52.2 35.5 57.0 35.7 68.0 33.5 77.0 33.4 103.0 35.8 114.0 36.0 137.2 38.3 146.0 37.4 163.0 38.1 179.0 37.4 182.0 35.0 185.0 31.0 188.6 28.0 189.7 15.1 189.0 0.0 190.1M220.0 190.0L195.0 188.9 168.0 189.5 164.0 186.8 160.3 182.0 159.3 164.0 159.8 145.0 161.3 136.0 161.4 114.0 163.6 103.0 163.5 76.0 160.9 66.0 161.9 56.0 166.0 51.3 170.0 49.5 193.0 51.0 220.0 49.1M146.0 186.4L113.0 186.8 104.0 183.6 95.0 181.7 78.0 183.6 74.9 182.0 73.4 180.0 75.0 164.0 73.0 146.0 73.9 143.0 77.0 140.2 80.0 139.4 91.0 142.6 95.0 142.8 104.0 139.7 106.0 137.2 106.4 114.0 112.2 104.0 114.6 91.0 112.1 77.0 106.4 68.0 106.2 59.0 107.8 56.0 112.0 53.6 144.0 53.4 147.9 55.0 149.8 58.0 149.9 68.0 144.6 77.0 142.1 90.0 144.5 104.0 149.8 113.0 150.1 136.0 152.2 146.0 152.1 180.0 149.9 184.0 146.0 186.4M133.0 106.0L136.5 105.0 138.6 102.0 139.3 91.0 138.4 78.0 136.6 76.0 133.0 75.0 126.0 74.9 121.4 76.0 119.6 78.0 119.3 80.0 118.8 91.0 119.6 103.0 121.5 105.0 125.0 106.0 133.0 106.0M0.0 51.0L29.0 51.4 32.0 53.0 34.4 56.0 35.1 67.0 32.9 76.0 32.9 103.0 35.1 114.0 35.1 135.0 36.4 146.0 36.3 180.0 34.4 185.0 29.0 188.6 0.0 188.9M220.0 188.8L193.0 188.1 170.0 188.7 165.0 187.1 162.1 184.0 161.1 181.0 161.0 148.0 162.1 136.0 162.3 113.0 164.1 104.0 164.1 76.0 161.7 66.0 161.7 59.0 163.1 55.0 166.0 52.2 169.0 51.2 193.0 51.8 220.0 51.0M144.0 74.0L129.0 73.0 115.0 74.5 112.0 73.7 109.1 71.0 107.8 68.0 108.3 57.0 110.0 54.8 114.0 54.0 129.0 54.8 143.0 54.1 147.0 54.8 148.9 59.0 148.8 68.0 147.7 71.0 144.0 74.0M145.0 186.0L113.0 186.2 108.9 185.0 102.6 180.0 102.3 146.0 106.5 140.0 107.5 137.0 108.2 112.0 110.0 109.0 113.0 106.9 129.0 108.0 143.0 106.7 147.0 109.1 148.5 112.0 149.0 136.0 150.5 145.0 150.4 180.0 148.7 184.0 145.0 186.0M83.0 181.1L80.0 181.8 77.6 180.0 80.9 163.0 77.4 145.0 78.4 143.0 80.0 142.4 83.7 144.0 84.7 147.0 83.1 163.0 84.7 178.0 83.0 181.1M0.0 51.8L29.0 52.1 32.0 53.6 34.2 57.0 34.5 68.0 32.5 76.0 32.2 94.0 32.6 106.0 34.5 114.0 34.6 136.0 35.6 146.0 35.5 180.0 33.8 185.0 31.0 187.3 28.0 188.0 0.0 188.3M220.0 188.1L170.0 188.0 165.0 186.5 162.7 184.0 161.8 181.0 161.7 147.0 162.8 135.0 162.8 114.0 164.4 106.0 164.8 95.0 164.5 76.0 162.3 67.0 162.4 58.0 163.6 55.0 166.0 52.8 170.0 51.9 220.0 51.8M145.0 72.3L112.0 72.4 109.8 71.0 108.9 68.0 109.2 57.0 110.8 55.0 113.0 54.6 128.0 55.6 146.0 55.0 147.9 58.0 148.0 67.0 147.1 71.0 145.0 72.3M147.0 185.1L143.0 185.8 129.0 185.0 113.0 185.8 109.6 185.0 106.9 182.0 106.3 179.0 106.3 145.0 108.6 136.0 108.9 113.0 109.8 110.0 112.0 108.6 115.0 108.1 129.0 109.1 143.0 108.2 147.1 110.0 148.0 114.0 148.1 135.0 149.4 146.0 149.3 180.0 147.0 185.1M0.0 52.4L29.0 52.7 32.0 54.1 33.8 57.0 34.0 68.0 32.1 76.0 31.6 93.0 32.1 105.0 34.0 114.0 34.9 146.0 34.9 180.0 33.3 185.0 31.0 186.8 28.0 187.6 0.0 187.8M220.0 187.6L170.0 187.5 165.0 186.0 163.2 184.0 162.3 181.0 162.2 147.0 163.3 135.0 163.3 114.0 164.8 106.0 165.4 94.0 164.8 76.0 162.8 67.0 162.8 59.0 164.1 55.0 167.0 52.9 170.0 52.4 220.0 52.4M146.0 71.0L142.0 71.8 128.0 70.5 112.0 71.5 110.0 70.0 109.6 68.0 109.9 57.0 111.0 55.8 114.0 55.0 128.0 56.4 145.0 55.4 147.0 57.0 147.4 59.0 147.3 68.0 146.0 71.0M146.0 185.0L128.0 184.4 113.0 185.4 110.0 184.7 108.1 182.0 107.6 145.0 109.4 136.0 109.5 113.0 111.0 109.9 116.0 109.1 130.0 110.6 143.0 109.2 146.0 110.0 147.0 111.3 147.5 135.0 148.5 145.0 148.5 179.0 147.8 183.0 146.0 185.0M0.0 52.9L29.0 53.2 32.0 54.4 33.4 57.0 33.6 68.0 31.5 77.0 31.0 92.0 31.6 105.0 33.6 113.0 34.5 146.0 34.5 180.0 32.9 185.0 28.0 187.2 0.0 187.3M220.0 187.1L170.0 187.0 165.0 185.7 163.2 183.0 162.7 180.0 162.7 147.0 163.8 135.0 163.8 114.0 165.5 105.0 166.0 93.0 165.5 77.0 163.2 67.0 163.2 59.0 164.4 55.0 167.0 53.4 170.0 52.9 220.0 52.9M143.0 71.1L129.0 69.4 112.7 71.0 110.4 68.0 110.4 58.0 112.0 56.1 114.0 55.7 128.0 57.3 145.0 56.3 146.6 59.0 146.4 68.0 145.6 70.0 143.0 71.1M115.0 185.0L110.1 184.0 108.7 180.0 108.6 145.0 110.5 129.0 110.5 112.0 112.0 110.3 114.0 109.8 129.0 111.9 144.0 110.0 146.0 111.4 146.8 114.0 146.3 128.0 147.9 145.0 147.3 183.0 144.0 184.9 129.0 183.8 115.0 185.0M0.0 53.3L28.0 53.5 32.0 54.7 32.7 56.0 33.3 68.0 30.8 77.0 30.2 93.0 30.7 104.0 33.2 113.0 34.1 146.0 34.0 180.0 32.6 185.0 28.0 186.8 0.0 186.9M220.0 186.7L170.0 186.6 165.0 185.4 163.2 180.0 163.1 146.0 164.1 136.0 164.2 113.0 166.1 105.0 166.8 93.0 166.1 77.0 163.6 67.0 163.6 59.0 164.7 55.0 170.0 53.3 220.0 53.3M115.0 70.1L113.0 69.9 111.5 68.0 111.3 59.0 113.0 56.8 128.0 58.8 142.0 56.8 145.2 58.0 145.3 68.0 144.0 69.7 129.0 67.8 115.0 70.1M145.0 184.1L129.0 183.1 114.0 184.5 110.0 183.0 109.3 144.0 111.6 128.0 111.0 114.0 113.0 111.0 117.0 111.1 129.0 114.5 142.0 111.0 144.0 111.2 145.6 113.0 145.3 129.0 147.3 144.0 147.3 180.0 147.0 182.3 145.0 184.1M0.0 53.7L28.0 53.9 31.0 54.5 32.4 56.0 32.8 69.0 29.9 77.0 28.9 92.0 29.8 104.0 32.9 113.0 33.7 146.0 33.7 180.0 32.3 185.0 28.0 186.5 0.0 186.6M220.0 186.3L170.0 186.3 165.0 185.1 163.6 180.0 163.5 146.0 164.6 131.0 164.6 112.0 166.9 105.0 168.0 92.0 166.9 77.0 164.0 68.0 164.0 59.0 165.0 55.0 170.0 53.7 220.0 53.7M116.0 68.0L114.0 68.0 113.4 67.0 113.1 60.0 114.0 58.3 117.8 59.0 121.3 63.0 119.6 66.0 116.0 68.0M143.0 67.4L139.8 67.0 136.8 64.0 138.8 60.0 142.0 58.6 143.4 59.0 143.6 60.0 143.0 67.4M18.3 83.0L20.8 80.0 21.1 77.0 18.0 75.5 13.0 76.0 11.7 78.0 13.0 81.5 15.0 83.2 18.3 83.0M195.5 83.0L199.7 80.0 200.1 77.0 193.0 75.4 187.0 75.9 184.9 77.0 185.0 79.5 188.0 82.4 192.0 83.5 195.5 83.0M19.9 105.0L20.9 104.0 20.8 102.0 18.0 98.8 15.0 98.8 12.2 102.0 12.1 104.0 13.1 105.0 16.0 105.7 19.9 105.0M197.0 106.0L199.5 105.0 200.2 103.0 198.0 100.3 195.0 98.8 189.0 99.2 184.8 103.0 185.5 105.0 188.0 106.0 197.0 106.0M145.0 183.3L142.0 183.7 129.0 181.9 114.0 183.9 110.4 182.0 109.9 144.0 113.8 127.0 112.3 115.0 113.0 112.8 117.3 113.0 119.9 116.0 121.4 125.0 120.2 133.0 120.8 137.0 126.6 141.0 129.0 141.3 131.4 141.0 137.2 137.0 137.8 133.0 136.6 125.0 138.1 116.0 140.8 113.0 144.0 113.2 143.1 127.0 146.8 145.0 146.1 163.0 146.7 180.0 145.0 183.3M0.0 54.0L29.0 54.3 32.0 55.7 32.7 60.0 32.2 71.0 28.0 76.7 19.0 74.0 9.4 75.0 6.4 77.0 3.0 83.7 0.0 85.0M220.0 85.0L214.0 83.1 207.6 76.0 196.0 73.9 187.0 74.1 177.4 76.0 171.0 82.5 170.0 82.0 167.9 76.0 164.8 71.0 164.2 60.0 165.0 55.6 168.0 54.2 220.0 54.0M0.0 97.0L3.0 98.3 6.2 104.0 9.1 106.0 19.0 107.2 27.0 104.4 29.0 105.6 32.0 109.8 33.4 146.0 33.3 180.0 32.0 185.0 28.0 186.1 0.0 186.3M220.0 186.0L170.0 185.9 165.4 185.0 163.9 180.0 163.9 146.0 165.1 128.0 164.9 112.0 170.0 100.0 172.0 99.9 175.0 104.0 178.2 106.0 187.0 107.9 196.0 108.1 206.8 106.0 210.0 104.0 214.0 98.9 220.0 97.0M115.0 183.1L112.0 182.5 110.9 180.0 111.7 163.0 110.7 145.0 111.5 141.0 114.0 138.1 116.0 138.4 123.1 143.0 127.0 148.2 129.0 149.1 131.0 148.2 136.2 142.0 143.0 138.6 145.2 141.0 145.9 144.0 145.2 182.0 143.0 183.0 137.5 182.0 129.0 177.8 123.1 181.0 115.0 183.1M0.0 54.3L16.0 55.2 29.0 54.6 31.7 56.0 32.4 60.0 32.0 70.6 29.0 74.0 27.0 74.4 14.9 73.0 0.0 75.8M220.0 75.8L194.0 73.0 169.0 74.9 165.0 70.8 164.5 60.0 165.2 56.0 168.0 54.5 193.0 55.2 220.0 54.3M0.0 105.4L15.0 108.2 28.0 106.8 31.7 110.0 33.0 146.0 33.0 180.0 32.0 184.5 28.0 185.8 0.0 186.0M220.0 185.7L193.0 184.9 170.0 185.7 166.0 185.0 164.3 181.0 164.2 146.0 165.6 128.0 165.2 113.0 166.0 110.0 168.0 107.6 171.0 106.6 193.0 110.0 220.0 106.0M117.0 181.3L114.0 181.9 112.2 180.0 114.0 163.0 111.9 145.0 112.7 142.0 114.0 141.0 118.1 143.0 119.4 146.0 119.4 178.0 118.9 180.0 117.0 181.3M144.0 181.1L140.3 181.0 139.2 180.0 138.5 177.0 138.6 146.0 139.9 143.0 143.0 141.5 144.6 145.0 142.5 163.0 144.4 178.0 144.0 181.1M0.0 54.5L16.0 55.6 29.0 54.8 31.3 56.0 32.1 59.0 32.0 69.2 31.4 71.0 29.0 73.1 15.0 72.3 0.0 74.1M220.0 74.1L193.0 72.3 169.0 73.7 165.1 70.0 164.8 59.0 166.0 55.6 169.0 54.6 193.0 55.6 220.0 54.5M0.0 107.1L16.0 109.0 28.0 107.9 31.0 109.7 32.1 113.0 32.8 146.0 32.8 180.0 32.0 184.0 28.0 185.6 16.0 185.0 0.0 185.8M220.0 185.5L193.0 184.5 170.0 185.4 166.0 184.5 164.5 180.0 164.4 146.0 166.1 128.0 165.7 113.0 167.0 109.6 171.0 108.2 194.0 111.2 220.0 107.8M0.0 54.8L16.0 56.0 29.0 55.2 31.0 56.3 31.8 59.0 31.6 69.0 30.9 71.0 29.0 72.3 16.0 71.5 0.0 73.2M220.0 73.2L193.0 71.5 169.0 72.8 165.5 70.0 165.1 59.0 166.2 56.0 169.0 54.9 193.0 56.0 220.0 54.8M0.0 108.0L16.0 110.1 28.0 108.6 30.6 110.0 31.8 114.0 31.5 128.0 32.6 146.0 32.5 180.0 31.6 184.0 28.0 185.3 16.0 184.7 0.0 185.5M220.0 185.3L193.0 184.1 170.0 185.2 166.0 184.1 164.7 180.0 164.7 146.0 166.7 129.0 166.3 113.0 167.6 110.0 174.0 109.6 193.0 113.1 210.0 109.7 220.0 109.1M0.0 55.0L16.0 56.4 29.0 55.6 31.0 57.0 31.4 59.0 31.2 69.0 29.0 71.7 16.0 70.7 0.0 72.5M220.0 72.5L193.0 70.7 169.0 72.2 166.6 71.0 165.7 69.0 165.5 59.0 166.8 56.0 169.0 55.3 193.0 56.4 220.0 55.0M0.0 108.7L16.0 110.8 27.0 109.3 30.0 110.0 31.4 114.0 31.1 128.0 32.3 146.0 32.3 180.0 31.1 184.0 28.0 185.1 16.0 184.4 0.0 185.3M220.0 185.0L194.0 183.7 171.0 184.9 166.6 184.0 165.0 180.0 165.0 146.0 167.6 129.0 166.9 114.0 168.0 110.9 171.0 110.1 179.2 112.0 188.0 117.7 193.0 118.7 197.0 117.7 205.8 112.0 214.0 110.1 220.0 109.8M197.6 137.0L198.8 135.0 197.0 133.3 194.0 132.4 189.0 132.9 186.2 135.0 187.4 137.0 190.0 137.6 197.6 137.0M0.0 55.4L16.0 56.9 28.9 56.0 30.4 57.0 31.1 60.0 31.0 68.0 29.0 71.2 16.0 70.1 0.0 71.9M220.0 71.9L193.0 70.1 169.0 71.6 167.0 70.7 166.1 69.0 165.9 59.0 167.0 56.4 169.0 55.7 193.0 56.9 220.0 55.4M0.0 109.3L16.0 111.7 27.0 109.9 30.0 110.9 31.0 114.0 30.6 128.0 32.1 145.0 32.1 180.0 31.0 183.6 28.0 184.8 16.0 184.0 0.0 185.1M220.0 184.6L194.0 183.2 171.0 184.5 167.0 183.8 165.4 180.0 165.3 146.0 165.9 141.0 169.9 127.0 167.9 115.0 169.0 111.8 173.3 112.0 177.5 115.0 177.3 119.0 175.0 126.0 178.8 136.0 185.0 138.8 193.0 139.6 201.0 138.5 206.2 136.0 210.0 126.0 207.5 118.0 208.1 114.0 211.6 112.0 220.0 110.9M0.0 55.8L16.0 57.6 28.0 56.4 30.0 57.3 30.6 60.0 30.5 68.0 29.0 70.5 16.0 69.3 0.0 71.4M220.0 71.4L193.0 69.3 169.0 71.1 166.6 69.0 166.3 60.0 167.0 57.0 169.9 56.0 193.0 57.6 220.0 55.8M0.0 109.8L16.0 113.0 27.0 110.6 30.0 112.0 30.2 131.0 31.8 145.0 31.7 180.0 31.0 183.1 28.0 184.4 16.0 183.6 0.0 184.8M220.0 116.5L215.9 115.0 216.0 114.0 220.0 113.0M220.0 184.3L194.0 182.6 171.0 184.1 167.0 183.3 165.8 180.0 165.7 146.0 166.4 141.0 170.0 136.0 184.0 140.1 194.0 141.0 205.5 139.0 220.0 134.2M0.0 56.3L16.0 58.4 28.0 56.9 29.7 58.0 30.1 60.0 29.9 68.0 28.2 70.0 16.0 68.4 0.0 70.9M220.0 70.9L193.0 68.4 169.0 70.4 166.9 68.0 166.8 60.0 167.9 57.0 170.0 56.5 193.0 58.4 220.0 56.3M0.0 110.5L8.1 112.0 16.0 116.4 18.0 116.1 24.9 112.0 29.0 112.0 29.9 115.0 29.4 130.0 31.5 146.0 31.4 180.0 30.5 183.0 28.0 184.1 16.0 183.2 0.0 184.5M18.0 136.0L17.0 135.1 15.0 136.0 16.0 137.0 18.0 136.0M220.0 183.9L193.0 181.8 172.0 183.6 167.4 183.0 166.2 180.0 166.1 146.0 167.0 140.9 170.0 138.5 193.0 142.5 220.0 137.8M0.0 56.8L16.0 59.7 28.0 57.7 29.3 60.0 29.2 67.0 28.0 69.1 16.0 67.1 0.0 70.2M220.0 70.2L193.0 67.1 170.0 69.8 167.7 68.0 167.5 60.0 168.0 57.9 170.0 57.1 193.0 59.7 220.0 56.8M0.0 111.3L5.0 112.1 8.8 115.0 12.2 125.0 9.7 132.0 9.6 136.0 12.0 138.6 16.0 139.8 20.3 139.0 23.4 136.0 23.3 132.0 20.8 125.0 24.2 115.0 26.0 113.1 28.2 113.0 29.0 115.0 27.9 127.0 31.1 146.0 31.1 180.0 30.0 183.0 27.0 183.7 15.0 182.7 0.0 184.2M220.0 183.4L211.0 183.0 193.0 180.0 173.7 183.0 168.0 182.7 166.7 180.0 167.4 163.0 166.6 146.0 167.2 142.0 170.0 139.9 177.1 141.0 193.0 145.6 208.0 141.0 220.0 139.3M0.0 57.7L6.8 59.0 11.4 63.0 11.3 64.0 7.8 67.0 0.0 69.2M174.0 68.2L169.0 68.0 169.0 58.6 171.1 58.0 176.4 59.0 184.0 63.0 182.3 65.0 174.0 68.2M220.0 69.2L207.0 67.0 201.1 64.0 201.0 63.0 208.6 59.0 220.0 57.7M27.0 67.3L23.9 66.0 21.6 63.0 24.6 60.0 27.0 59.1 28.0 60.0 27.0 67.3M0.0 112.6L2.9 113.0 4.8 115.0 3.0 118.8 0.0 119.8M0.0 131.2L3.0 132.2 7.6 138.0 14.0 141.1 19.0 141.1 28.0 137.3 30.0 140.6 30.7 146.0 30.0 182.3 27.0 183.3 15.0 182.1 0.0 183.8M220.0 182.8L205.3 181.0 202.2 179.0 198.0 172.8 193.0 170.9 187.0 172.8 182.8 179.0 179.7 181.0 172.0 182.4 168.3 182.0 167.4 179.0 168.3 163.0 167.2 146.0 168.0 142.2 170.0 141.0 178.6 143.0 181.7 145.0 186.0 153.4 189.0 155.4 193.0 156.1 196.0 155.4 199.0 153.4 204.4 144.0 212.0 141.4 220.0 140.5M0.0 136.9L16.0 143.5 28.0 139.5 29.8 142.0 30.2 146.0 30.2 179.0 29.5 182.0 27.0 182.8 16.0 180.9 0.0 183.4M220.0 182.1L211.1 181.0 208.5 179.0 210.0 171.6 215.3 165.0 215.8 163.0 210.0 155.4 208.2 147.0 208.7 145.0 211.8 143.0 220.0 141.8M172.0 159.3L170.0 157.5 168.4 149.0 168.4 144.0 170.0 142.5 175.2 144.0 176.7 146.0 175.6 154.0 172.0 159.3M173.0 181.2L170.0 181.5 168.4 180.0 169.0 173.3 171.0 167.8 172.0 167.7 174.1 170.0 176.5 177.0 175.8 180.0 173.0 181.2M0.0 139.1L5.0 140.2 9.9 143.0 14.0 150.2 16.0 151.6 19.0 150.2 22.0 144.0 26.0 141.3 28.0 141.1 29.0 142.0 29.6 146.0 29.0 181.4 27.0 182.1 23.0 181.0 18.0 175.9 16.0 175.4 10.0 181.0 0.0 182.9M220.0 149.4L217.0 148.4 215.4 146.0 217.0 144.5 220.0 143.9M220.0 180.0L217.4 179.0 220.0 177.7M0.0 140.6L5.3 142.0 8.2 145.0 9.8 163.0 8.4 179.0 6.6 181.0 0.0 182.2M28.0 180.6L26.0 180.5 24.6 179.0 23.2 164.0 24.6 146.0 27.0 142.9 28.0 143.1 28.7 146.0 27.2 162.0 28.0 180.6M0.0 142.4L3.0 143.1 4.9 146.0 3.0 152.0 0.0 153.8M0.0 173.2L3.0 175.0 4.4 179.0 3.0 180.5 0.0 181.1" fill="none" stroke="#0a2a3a" stroke-opacity="0.45" stroke-width="0.5" vector-effect="non-scaling-stroke"/><g stroke="#0a2020" stroke-width="1" vector-effect="non-scaling-stroke"><line x1="33" y1="0" x2="33" y2="55" stroke-opacity="0.25"/><line x1="110" y1="0" x2="110" y2="55" stroke-opacity="0.15"/><line x1="148" y1="0" x2="148" y2="55" stroke-opacity="0.20"/><line x1="165" y1="0" x2="165" y2="55" stroke-opacity="0.20"/><line x1="33" y1="55" x2="33" y2="72" stroke-opacity="0.83"/><line x1="77" y1="55" x2="77" y2="72" stroke-opacity="0.04"/><line x1="110" y1="55" x2="110" y2="72" stroke-opacity="0.32"/><line x1="148" y1="55" x2="148" y2="72" stroke-opacity="0.34"/><line x1="165" y1="55" x2="165" y2="72" stroke-opacity="0.81"/><line x1="33" y1="72" x2="33" y2="110" stroke-opacity="0.49"/><line x1="110" y1="72" x2="110" y2="110" stroke-opacity="0.18"/><line x1="148" y1="72" x2="148" y2="110" stroke-opacity="0.20"/><line x1="165" y1="72" x2="165" y2="110" stroke-opacity="0.49"/><line x1="33" y1="110" x2="33" y2="141" stroke-opacity="0.79"/><line x1="110" y1="110" x2="110" y2="141" stroke-opacity="0.33"/><line x1="148" y1="110" x2="148" y2="141" stroke-opacity="0.35"/><line x1="165" y1="110" x2="165" y2="141" stroke-opacity="0.62"/><line x1="33" y1="141" x2="33" y2="186" stroke-opacity="0.85"/><line x1="77" y1="141" x2="77" y2="186" stroke-opacity="0.07"/><line x1="110" y1="141" x2="110" y2="186" stroke-opacity="0.33"/><line x1="148" y1="141" x2="148" y2="186" stroke-opacity="0.38"/><line x1="165" y1="141" x2="165" y2="186" stroke-opacity="0.79"/><line x1="33" y1="186" x2="33" y2="220" stroke-opacity="0.25"/><line x1="110" y1="186" x2="110" y2="220" stroke-opacity="0.15"/><line x1="148" y1="186" x2="148" y2="220" stroke-opacity="0.20"/><line x1="165" y1="186" x2="165" y2="220" stroke-opacity="0.20"/><line x1="0" y1="55" x2="33" y2="55" stroke-opacity="0.79"/><line x1="33" y1="55" x2="77" y2="55" stroke-opacity="0.35"/><line x1="77" y1="55" x2="110" y2="55" stroke-opacity="0.35"/><line x1="110" y1="55" x2="148" y2="55" stroke-opacity="0.43"/><line x1="148" y1="55" x2="165" y2="55" stroke-opacity="0.35"/><line x1="165" y1="55" x2="220" y2="55" stroke-opacity="0.79"/><line x1="0" y1="72" x2="33" y2="72" stroke-opacity="0.45"/><line x1="33" y1="72" x2="77" y2="72" stroke-opacity="0.30"/><line x1="77" y1="72" x2="110" y2="72" stroke-opacity="0.30"/><line x1="110" y1="72" x2="148" y2="72" stroke-opacity="0.30"/><line x1="148" y1="72" x2="165" y2="72" stroke-opacity="0.30"/><line x1="165" y1="72" x2="220" y2="72" stroke-opacity="0.45"/><line x1="0" y1="110" x2="33" y2="110" stroke-opacity="0.40"/><line x1="33" y1="110" x2="77" y2="110" stroke-opacity="0.20"/><line x1="77" y1="110" x2="110" y2="110" stroke-opacity="0.20"/><line x1="110" y1="110" x2="148" y2="110" stroke-opacity="0.28"/><line x1="148" y1="110" x2="165" y2="110" stroke-opacity="0.20"/><line x1="165" y1="110" x2="220" y2="110" stroke-opacity="0.25"/><line x1="0" y1="141" x2="33" y2="141" stroke-opacity="0.18"/><line x1="33" y1="141" x2="77" y2="141" stroke-opacity="0.05"/><line x1="77" y1="141" x2="110" y2="141" stroke-opacity="0.09"/><line x1="110" y1="141" x2="148" y2="141" stroke-opacity="0.09"/><line x1="148" y1="141" x2="165" y2="141" stroke-opacity="0.05"/><line x1="165" y1="141" x2="220" y2="141" stroke-opacity="0.23"/><line x1="0" y1="186" x2="33" y2="186" stroke-opacity="0.85"/><line x1="33" y1="186" x2="77" y2="186" stroke-opacity="0.30"/><line x1="77" y1="186" x2="110" y2="186" stroke-opacity="0.30"/><line x1="110" y1="186" x2="148" y2="186" stroke-opacity="0.53"/><line x1="148" y1="186" x2="165" y2="186" stroke-opacity="0.30"/><line x1="165" y1="186" x2="220" y2="186" stroke-opacity="0.82"/></g><rect x="0" y="0" width="220" height="220" fill="none" stroke="#102838" stroke-width="2" vector-effect="non-scaling-stroke"/></svg>
<div class="tk" style="left:424.75px;top:111.80px"></div><div class="xl" style="left:415.00px;top:114.50px">50</div><div class="tk" style="left:447.46px;top:111.80px"></div><div class="xl" style="left:437.71px;top:114.50px">100</div><div class="tk" style="left:470.16px;top:111.80px"></div><div class="xl" style="left:460.41px;top:114.50px">150</div><div class="tk" style="left:492.87px;top:111.80px"></div><div class="xl" style="left:483.12px;top:114.50px">200</div><div class="tky" style="left:400.30px;top:89.75px"></div><div class="yl" style="left:379.60px;top:87.40px">50</div><div class="tky" style="left:400.30px;top:67.96px"></div><div class="yl" style="left:379.60px;top:65.61px">100</div><div class="tky" style="left:400.30px;top:46.16px"></div><div class="yl" style="left:379.60px;top:43.81px">150</div><div class="tky" style="left:400.30px;top:24.37px"></div><div class="yl" style="left:379.60px;top:22.02px">200</div><div class="xa" style="left:442.25px;top:123.10px">X</div><div class="ya" style="left:375.90px;top:60.35px">Y</div><div class="cap" style="left:410.40px;top:131.60px">(d) CO</div>
<svg class="pl" style="left:28.90px;top:146.70px;width:99.60px;height:96.20px" viewBox="0 0 220 220" preserveAspectRatio="none"><linearGradient id="ge00" gradientUnits="userSpaceOnUse" x1="0" y1="0" x2="33" y2="0"><stop offset="0" stop-color="#00edba"/><stop offset="0.5" stop-color="#00e8d5"/><stop offset="1" stop-color="#00d2f9"/></linearGradient><rect x="0" y="0" width="36" height="58" fill="url(#ge00)"/><linearGradient id="ge01" gradientUnits="userSpaceOnUse" x1="0" y1="0" x2="0" y2="55"><stop offset="0" stop-color="#0099f9"/><stop offset="0.5" stop-color="#00a8f9"/><stop offset="1" stop-color="#00b7f9"/></linearGradient><rect x="33" y="0" width="47" height="58" fill="url(#ge01)"/><linearGradient id="ge02" gradientUnits="userSpaceOnUse" x1="0" y1="0" x2="0" y2="55"><stop offset="0" stop-color="#0099f9"/><stop offset="0.5" stop-color="#00a8f9"/><stop offset="1" stop-color="#00b7f9"/></linearGradient><rect x="77" y="0" width="36" height="58" fill="url(#ge02)"/><linearGradient id="ge03" gradientUnits="userSpaceOnUse" x1="0" y1="0" x2="0" y2="55"><stop offset="0" stop-color="#0099f9"/><stop offset="0.5" stop-color="#00a8f9"/><stop offset="1" stop-color="#00b7f9"/></linearGradient><rect x="110" y="0" width="41" height="58" fill="url(#ge03)"/><linearGradient id="ge04" gradientUnits="userSpaceOnUse" x1="0" y1="0" x2="0" y2="55"><stop offset="0" stop-color="#0099f9"/><stop offset="0.5" stop-color="#00a8f9"/><stop offset="1" stop-color="#00b7f9"/></linearGradient><rect x="148" y="0" width="20" height="58" fill="url(#ge04)"/><linearGradient id="ge05" gradientUnits="userSpaceOnUse" x1="165" y1="0" x2="220" y2="0"><stop offset="0" stop-color="#00a0f9"/><stop offset="0.5" stop-color="#00cef9"/><stop offset="1" stop-color="#00e7d9"/></linearGradient><rect x="165" y="0" width="58" height="58" fill="url(#ge05)"/><linearGradient id="ge10" gradientUnits="userSpaceOnUse" x1="0" y1="0" x2="33" y2="0"><stop offset="0" stop-color="#00f16c"/><stop offset="0.5" stop-color="#00f497"/><stop offset="1" stop-color="#00ebc7"/></linearGradient><rect x="0" y="55" width="36" height="20" fill="url(#ge10)"/><rect x="33" y="55" width="47" height="20" fill="#00e2f9"/><rect x="77" y="55" width="36" height="20" fill="#00daf9"/><rect x="110" y="55" width="41" height="20" fill="#00e2f9"/><rect x="148" y="55" width="20" height="20" fill="#00e2f9"/><linearGradient id="ge15" gradientUnits="userSpaceOnUse" x1="165" y1="0" x2="220" y2="0"><stop offset="0" stop-color="#00e3f4"/><stop offset="0.5" stop-color="#00eacc"/><stop offset="1" stop-color="#00f2a4"/></linearGradient><rect x="165" y="55" width="58" height="20" fill="url(#ge15)"/><linearGradient id="ge20" gradientUnits="userSpaceOnUse" x1="0" y1="0" x2="33" y2="0"><stop offset="0" stop-color="#00f16c"/><stop offset="0.5" stop-color="#00f497"/><stop offset="1" stop-color="#00ebc7"/></linearGradient><rect x="0" y="72" width="36" height="41" fill="url(#ge20)"/><rect x="33" y="72" width="47" height="41" fill="#00e2f9"/><rect x="77" y="72" width="36" height="41" fill="#00c7f9"/><rect x="110" y="72" width="41" height="41" fill="#00cef9"/><rect x="148" y="72" width="20" height="41" fill="#00cef9"/><linearGradient id="ge25" gradientUnits="userSpaceOnUse" x1="165" y1="0" x2="220" y2="0"><stop offset="0" stop-color="#00e3f4"/><stop offset="0.5" stop-color="#00eacc"/><stop offset="1" stop-color="#00f2a4"/></linearGradient><rect x="165" y="72" width="58" height="41" fill="url(#ge25)"/><linearGradient id="ge30" gradientUnits="userSpaceOnUse" x1="0" y1="0" x2="33" y2="0"><stop offset="0" stop-color="#00f262"/><stop offset="0.5" stop-color="#00f48b"/><stop offset="1" stop-color="#00ecbf"/></linearGradient><rect x="0" y="110" width="36" height="34" fill="url(#ge30)"/><rect x="33" y="110" width="47" height="34" fill="#00e2f9"/><rect x="77" y="110" width="36" height="34" fill="#00c7f9"/><rect x="110" y="110" width="41" height="34" fill="#00daf9"/><rect x="148" y="110" width="20" height="34" fill="#00e2f9"/><linearGradient id="ge35" gradientUnits="userSpaceOnUse" x1="165" y1="0" x2="220" y2="0"><stop offset="0" stop-color="#00e6de"/><stop offset="0.5" stop-color="#00ebc3"/><stop offset="1" stop-color="#00f58e"/></linearGradient><rect x="165" y="110" width="58" height="34" fill="url(#ge35)"/><linearGradient id="ge40" gradientUnits="userSpaceOnUse" x1="0" y1="0" x2="33" y2="0"><stop offset="0" stop-color="#00f262"/><stop offset="0.5" stop-color="#00f48b"/><stop offset="1" stop-color="#00ecbf"/></linearGradient><rect x="0" y="141" width="36" height="48" fill="url(#ge40)"/><rect x="33" y="141" width="47" height="48" fill="#00daf9"/><rect x="77" y="141" width="36" height="48" fill="#00c7f9"/><rect x="110" y="141" width="41" height="48" fill="#00daf9"/><rect x="148" y="141" width="20" height="48" fill="#00e2f9"/><linearGradient id="ge45" gradientUnits="userSpaceOnUse" x1="165" y1="0" x2="220" y2="0"><stop offset="0" stop-color="#00e6de"/><stop offset="0.5" stop-color="#00ebc3"/><stop offset="1" stop-color="#00f58e"/></linearGradient><rect x="165" y="141" width="58" height="48" fill="url(#ge45)"/><linearGradient id="ge50" gradientUnits="userSpaceOnUse" x1="0" y1="0" x2="33" y2="0"><stop offset="0" stop-color="#00e7d9"/><stop offset="0.5" stop-color="#00cef9"/><stop offset="1" stop-color="#00a0f9"/></linearGradient><rect x="0" y="186" width="36" height="37" fill="url(#ge50)"/><linearGradient id="ge51" gradientUnits="userSpaceOnUse" x1="0" y1="186" x2="0" y2="220"><stop offset="0" stop-color="#00b0f9"/><stop offset="0.5" stop-color="#00a0f9"/><stop offset="1" stop-color="#0091f9"/></linearGradient><rect x="33" y="186" width="47" height="37" fill="url(#ge51)"/><linearGradient id="ge52" gradientUnits="userSpaceOnUse" x1="0" y1="186" x2="0" y2="220"><stop offset="0" stop-color="#00a8f9"/><stop offset="0.5" stop-color="#0099f9"/><stop offset="1" stop-color="#0088f9"/></linearGradient><rect x="77" y="186" width="36" height="37" fill="url(#ge52)"/><linearGradient id="ge53" gradientUnits="userSpaceOnUse" x1="0" y1="186" x2="0" y2="220"><stop offset="0" stop-color="#00b0f9"/><stop offset="0.5" stop-color="#00a0f9"/><stop offset="1" stop-color="#0091f9"/></linearGradient><rect x="110" y="186" width="41" height="37" fill="url(#ge53)"/><linearGradient id="ge54" gradientUnits="userSpaceOnUse" x1="0" y1="186" x2="0" y2="220"><stop offset="0" stop-color="#00b0f9"/><stop offset="0.5" stop-color="#00a0f9"/><stop offset="1" stop-color="#0091f9"/></linearGradient><rect x="148" y="186" width="20" height="37" fill="url(#ge54)"/><linearGradient id="ge55" gradientUnits="userSpaceOnUse" x1="165" y1="0" x2="220" y2="0"><stop offset="0" stop-color="#0091f9"/><stop offset="0.5" stop-color="#00bff9"/><stop offset="1" stop-color="#00e4eb"/></linearGradient><rect x="165" y="186" width="58" height="37" fill="url(#ge55)"/><path d="M44.3 0.0L45.5 27.0 44.6 49.0 47.6 52.0 55.0 53.4 62.4 52.0 65.4 49.0 64.5 27.0 65.7 0.0M85.5 0.0L86.4 27.0 85.7 49.0 87.6 52.0 93.0 53.7 99.0 52.2 101.3 49.0 100.6 27.0 101.5 0.0M119.8 0.0L120.8 27.0 120.0 49.0 122.6 52.0 129.0 53.4 135.4 52.0 138.0 49.0 137.2 27.0 138.2 0.0M152.4 0.0L152.5 49.0 153.7 52.0 156.0 53.3 159.0 52.3 160.3 49.0 159.6 27.0 160.4 0.0M161.3 220.0L162.0 200.0 161.1 190.0 159.0 187.0 156.0 186.2 152.7 188.0 150.0 196.0 148.0 197.9 144.0 196.4 140.4 190.0 138.0 188.0 129.0 185.6 120.0 188.0 117.6 190.0 115.0 195.3 112.0 196.6 110.0 195.4 104.1 188.0 94.0 183.6 90.0 184.3 82.9 188.0 76.0 195.3 74.0 196.3 71.0 195.0 67.1 189.0 61.0 186.6 53.0 185.8 42.9 189.0 37.0 198.2 36.0 202.0 37.0 207.8 40.6 214.0 41.4 220.0M140.8 220.0L141.2 215.0 142.8 211.0 145.0 208.9 148.0 208.1 150.3 211.0 151.2 220.0M68.6 220.0L70.0 212.5 72.0 210.1 74.0 209.7 76.0 210.7 79.0 214.3 80.5 220.0M106.3 220.0L108.3 213.0 111.0 209.8 113.0 209.4 116.0 212.4 117.2 220.0M34.3 0.0L33.2 32.0 34.2 49.0 36.0 52.9 50.0 58.0 55.0 58.8 59.0 58.3 70.0 54.4 78.0 53.8 83.0 55.0 89.0 59.2 93.0 60.4 97.0 59.7 104.0 55.0 110.0 53.6 117.0 54.6 125.0 58.1 129.0 58.8 133.0 58.1 141.0 54.6 148.0 53.5 151.0 54.5 155.0 58.3 158.0 58.3 164.1 51.0 167.5 30.0 164.4 0.0M178.5 0.0L177.7 28.0 178.8 49.0 182.6 52.0 192.0 53.5 202.4 52.0 206.2 49.0 207.3 28.0 206.5 0.0M220.0 192.7L206.5 188.0 194.0 186.4 181.0 187.5 169.0 191.3 161.2 185.0 157.0 177.9 156.0 177.8 154.0 182.0 151.0 185.2 148.0 185.9 143.0 185.3 136.6 182.0 133.0 174.4 129.0 172.1 125.3 174.0 122.2 181.0 118.4 184.0 111.0 185.5 105.5 183.0 104.2 179.0 107.6 163.0 104.3 149.0 103.7 140.0 104.4 135.0 107.6 125.0 104.2 115.0 103.8 108.0 104.9 101.0 108.7 94.0 109.4 90.0 105.0 81.2 103.1 74.0 101.0 70.9 97.0 67.3 92.0 66.7 88.0 68.6 83.9 74.0 79.0 90.0 83.2 108.0 82.6 116.0 79.0 125.0 79.4 128.0 82.8 136.0 83.1 146.0 78.5 163.0 79.0 167.5 82.2 176.0 82.7 181.0 81.3 183.0 77.3 185.0 70.1 185.0 63.8 182.0 60.1 175.0 58.0 173.0 54.0 172.2 51.0 173.7 46.2 182.0 36.0 186.0 32.3 190.0 28.6 203.0 31.9 215.0 32.2 220.0M55.7 79.0L59.0 76.4 59.8 71.0 57.0 69.1 53.0 69.1 50.2 71.0 50.4 75.0 52.3 78.0 55.7 79.0M131.5 119.0L134.5 116.0 138.4 106.0 139.2 91.0 138.6 77.0 137.9 74.0 135.0 70.4 132.0 68.8 128.0 68.4 123.0 70.4 119.7 75.0 118.8 91.0 119.4 104.0 120.2 108.0 124.1 117.0 127.0 119.2 131.5 119.0M157.4 115.0L160.3 106.0 160.4 76.0 159.0 70.2 156.0 68.4 154.0 70.1 152.4 75.0 152.2 104.0 155.0 114.2 156.0 115.6 157.4 115.0M57.6 115.0L59.7 112.0 59.6 107.0 57.0 103.5 54.0 103.0 50.8 106.0 50.3 112.0 53.0 115.3 57.6 115.0M131.6 154.0L133.4 152.0 134.9 148.0 135.4 138.0 133.0 133.0 128.0 131.5 125.0 133.0 123.1 136.0 122.4 141.0 122.9 147.0 124.0 150.9 126.0 153.7 129.0 154.9 131.6 154.0M58.0 154.0L61.2 150.0 62.2 143.0 59.0 137.0 57.0 135.6 54.0 135.3 51.0 137.0 48.8 140.0 47.7 144.0 48.0 147.5 49.3 151.0 52.0 154.0 55.0 154.9 58.0 154.0M157.0 149.0L158.0 146.0 158.2 139.0 157.4 136.0 156.0 135.4 154.9 138.0 154.7 144.0 155.9 149.0 157.0 149.0M24.9 220.0L25.5 203.0 24.8 192.0 22.4 189.0 17.0 187.8 10.6 189.0 8.2 192.0 8.1 220.0M213.5 220.0L215.6 215.0 220.0 213.4M166.8 220.0L167.4 217.0 169.0 215.5 170.7 217.0 171.4 220.0M10.1 0.0L11.6 14.0 13.6 18.0 16.0 19.6 19.0 18.5 21.0 15.2 22.4 9.0 22.9 0.0M32.0 0.0L30.2 24.0 30.4 34.0 32.2 51.0 35.8 57.0 35.0 64.3 37.7 72.0 35.0 90.0 37.7 110.0 35.1 125.0 37.1 138.0 34.7 161.0 35.8 181.0 33.7 185.0 30.0 187.4 16.0 185.5 0.0 188.2M20.1 52.0L22.5 49.0 21.7 42.0 19.0 36.5 16.0 35.4 14.0 36.5 12.0 39.8 10.5 49.0 11.5 51.0 14.0 52.3 20.1 52.0M220.0 186.6L193.0 183.2 170.0 186.3 164.2 185.0 162.1 180.0 162.9 163.0 162.0 141.0 162.9 126.0 162.1 113.0 164.5 92.0 162.6 70.0 163.5 56.0 165.0 54.4 170.0 53.3 187.0 57.3 194.0 57.8 209.0 54.3 220.0 52.9M193.5 73.0L193.9 72.0 193.0 71.6 191.1 72.0 192.0 73.4 193.5 73.0M148.0 143.0L148.0 139.7 148.7 141.0 148.0 143.0M0.0 50.6L15.0 56.5 19.0 56.3 28.0 52.7 30.0 53.1 32.3 55.0 33.5 72.0 32.4 91.0 33.7 111.0 32.7 125.0 33.6 139.0 32.5 162.0 33.2 180.0 32.4 184.0 31.0 185.3 28.0 185.6 16.0 183.2 0.0 186.0M171.0 59.6L169.0 59.9 167.3 58.0 168.0 57.0 170.2 57.0 171.9 58.0 171.0 59.6M220.0 60.8L214.6 60.0 213.0 59.0 213.0 58.0 220.0 56.1M171.0 83.1L169.0 83.1 168.0 81.8 166.0 73.9 166.0 69.8 169.0 66.9 173.0 67.9 175.3 71.0 174.2 79.0 171.0 83.1M220.0 85.1L215.0 83.9 212.0 81.3 210.2 77.0 209.6 72.0 210.0 70.0 212.0 67.9 220.0 66.1M220.0 184.7L212.2 184.0 206.0 182.0 203.9 180.0 200.0 171.1 197.0 168.8 193.0 167.7 189.0 168.4 185.0 171.1 181.1 180.0 179.0 182.0 171.0 184.3 166.0 183.6 164.7 180.0 166.5 162.0 164.5 141.0 166.5 126.0 164.7 111.0 167.0 102.7 169.0 98.9 171.0 98.9 173.0 100.7 184.0 119.4 188.0 121.8 193.0 122.6 198.0 121.4 201.0 119.4 204.7 112.0 208.9 107.0 212.6 100.0 216.0 97.6 220.0 96.9M194.9 159.0L199.0 156.8 202.0 152.8 203.6 146.0 203.7 138.0 202.6 134.0 200.0 130.7 196.0 128.8 191.0 128.4 186.0 130.1 182.4 134.0 181.2 139.0 181.5 147.0 183.0 152.8 186.0 156.8 190.0 159.0 194.9 159.0M0.0 54.5L6.1 56.0 11.0 60.8 15.1 63.0 15.1 64.0 12.0 65.5 10.0 67.8 9.4 75.0 11.0 84.7 16.0 90.9 17.0 90.9 21.3 86.0 23.5 77.0 23.1 68.0 21.0 65.5 17.9 64.0 17.9 63.0 21.0 61.6 27.0 56.1 29.0 55.7 30.6 57.0 29.6 64.0 31.7 73.0 29.6 91.0 32.0 110.0 30.5 126.0 32.1 140.0 30.4 162.0 31.7 180.0 31.0 182.9 28.0 183.9 23.4 182.0 19.0 174.5 16.0 173.3 13.6 175.0 9.6 182.0 5.4 184.0 0.0 184.8M18.9 118.0L22.0 112.3 23.3 103.0 21.0 95.5 17.0 91.1 16.0 91.1 11.0 97.3 9.6 107.0 13.0 117.0 16.0 118.7 18.9 118.0M18.4 153.0L21.2 148.0 21.8 139.0 20.0 134.0 16.0 132.3 14.0 133.1 11.9 136.0 11.3 145.0 12.1 149.0 14.0 152.5 16.0 153.7 18.4 153.0M0.0 70.8L1.5 72.0 0.0 74.8M0.0 106.3L2.0 107.4 4.3 112.0 3.0 116.3 0.0 117.7M0.0 133.3L3.2 135.0 4.8 141.0 3.5 149.0 2.0 151.3 0.0 152.2M0.0 174.8L3.0 176.9 3.8 180.0 2.0 181.9 0.0 182.2" fill="none" stroke="#0a2a3a" stroke-opacity="0.45" stroke-width="0.5" vector-effect="non-scaling-stroke"/><g stroke="#0a2020" stroke-width="1" vector-effect="non-scaling-stroke"><line x1="33" y1="0" x2="33" y2="55" stroke-opacity="0.25"/><line x1="110" y1="0" x2="110" y2="55" stroke-opacity="0.15"/><line x1="148" y1="0" x2="148" y2="55" stroke-opacity="0.20"/><line x1="165" y1="0" x2="165" y2="55" stroke-opacity="0.20"/><line x1="33" y1="55" x2="33" y2="72" stroke-opacity="0.25"/><line x1="110" y1="55" x2="110" y2="72" stroke-opacity="0.15"/><line x1="148" y1="55" x2="148" y2="72" stroke-opacity="0.20"/><line x1="165" y1="55" x2="165" y2="72" stroke-opacity="0.20"/><line x1="33" y1="72" x2="33" y2="110" stroke-opacity="0.25"/><line x1="110" y1="72" x2="110" y2="110" stroke-opacity="0.15"/><line x1="148" y1="72" x2="148" y2="110" stroke-opacity="0.20"/><line x1="165" y1="72" x2="165" y2="110" stroke-opacity="0.20"/><line x1="33" y1="110" x2="33" y2="141" stroke-opacity="0.25"/><line x1="110" y1="110" x2="110" y2="141" stroke-opacity="0.15"/><line x1="148" y1="110" x2="148" y2="141" stroke-opacity="0.20"/><line x1="165" y1="110" x2="165" y2="141" stroke-opacity="0.20"/><line x1="33" y1="141" x2="33" y2="186" stroke-opacity="0.25"/><line x1="110" y1="141" x2="110" y2="186" stroke-opacity="0.15"/><line x1="148" y1="141" x2="148" y2="186" stroke-opacity="0.20"/><line x1="165" y1="141" x2="165" y2="186" stroke-opacity="0.20"/><line x1="33" y1="186" x2="33" y2="220" stroke-opacity="0.25"/><line x1="110" y1="186" x2="110" y2="220" stroke-opacity="0.15"/><line x1="148" y1="186" x2="148" y2="220" stroke-opacity="0.20"/><line x1="165" y1="186" x2="165" y2="220" stroke-opacity="0.20"/><line x1="0" y1="55" x2="33" y2="55" stroke-opacity="0.35"/><line x1="33" y1="55" x2="77" y2="55" stroke-opacity="0.35"/><line x1="77" y1="55" x2="110" y2="55" stroke-opacity="0.35"/><line x1="110" y1="55" x2="148" y2="55" stroke-opacity="0.35"/><line x1="148" y1="55" x2="165" y2="55" stroke-opacity="0.35"/><line x1="165" y1="55" x2="220" y2="55" stroke-opacity="0.35"/><line x1="0" y1="72" x2="33" y2="72" stroke-opacity="0.30"/><line x1="33" y1="72" x2="77" y2="72" stroke-opacity="0.30"/><line x1="77" y1="72" x2="110" y2="72" stroke-opacity="0.30"/><line x1="110" y1="72" x2="148" y2="72" stroke-opacity="0.30"/><line x1="148" y1="72" x2="165" y2="72" stroke-opacity="0.30"/><line x1="165" y1="72" x2="220" y2="72" stroke-opacity="0.30"/><line x1="0" y1="110" x2="33" y2="110" stroke-opacity="0.20"/><line x1="33" y1="110" x2="77" y2="110" stroke-opacity="0.20"/><line x1="77" y1="110" x2="110" y2="110" stroke-opacity="0.20"/><line x1="110" y1="110" x2="148" y2="110" stroke-opacity="0.20"/><line x1="148" y1="110" x2="165" y2="110" stroke-opacity="0.20"/><line x1="165" y1="110" x2="220" y2="110" stroke-opacity="0.20"/><line x1="0" y1="186" x2="33" y2="186" stroke-opacity="0.30"/><line x1="33" y1="186" x2="77" y2="186" stroke-opacity="0.30"/><line x1="77" y1="186" x2="110" y2="186" stroke-opacity="0.30"/><line x1="110" y1="186" x2="148" y2="186" stroke-opacity="0.30"/><line x1="148" y1="186" x2="165" y2="186" stroke-opacity="0.30"/><line x1="165" y1="186" x2="220" y2="186" stroke-opacity="0.30"/></g><rect x="0" y="0" width="220" height="220" fill="none" stroke="#102838" stroke-width="2" vector-effect="non-scaling-stroke"/></svg>
<div class="tk" style="left:51.29px;top:242.90px"></div><div class="xl" style="left:41.54px;top:245.60px">50</div><div class="tk" style="left:73.92px;top:242.90px"></div><div class="xl" style="left:64.17px;top:245.60px">100</div><div class="tk" style="left:96.56px;top:242.90px"></div><div class="xl" style="left:86.81px;top:245.60px">150</div><div class="tk" style="left:119.20px;top:242.90px"></div><div class="xl" style="left:109.45px;top:245.60px">200</div><div class="tky" style="left:26.90px;top:220.79px"></div><div class="yl" style="left:6.20px;top:218.44px">50</div><div class="tky" style="left:26.90px;top:198.92px"></div><div class="yl" style="left:6.20px;top:196.57px">100</div><div class="tky" style="left:26.90px;top:177.06px"></div><div class="yl" style="left:6.20px;top:174.71px">150</div><div class="tky" style="left:26.90px;top:155.20px"></div><div class="yl" style="left:6.20px;top:152.85px">200</div><div class="xa" style="left:68.70px;top:254.20px">X</div><div class="ya" style="left:2.50px;top:191.30px">Y</div><div class="cap" style="left:27.75px;top:262.10px">(e) CP</div>
<svg class="pl" style="left:152.40px;top:147.60px;width:100.40px;height:95.80px" viewBox="0 0 220 220" preserveAspectRatio="none"><linearGradient id="gf00" gradientUnits="userSpaceOnUse" x1="0" y1="0" x2="33" y2="0"><stop offset="0" stop-color="#00edba"/><stop offset="0.5" stop-color="#00e8d5"/><stop offset="1" stop-color="#00d2f9"/></linearGradient><rect x="0" y="0" width="36" height="58" fill="url(#gf00)"/><linearGradient id="gf01" gradientUnits="userSpaceOnUse" x1="0" y1="0" x2="0" y2="55"><stop offset="0" stop-color="#0091f9"/><stop offset="0.5" stop-color="#00a0f9"/><stop offset="1" stop-color="#00b0f9"/></linearGradient><rect x="33" y="0" width="47" height="58" fill="url(#gf01)"/><linearGradient id="gf02" gradientUnits="userSpaceOnUse" x1="0" y1="0" x2="0" y2="55"><stop offset="0" stop-color="#0091f9"/><stop offset="0.5" stop-color="#00a0f9"/><stop offset="1" stop-color="#00b0f9"/></linearGradient><rect x="77" y="0" width="36" height="58" fill="url(#gf02)"/><linearGradient id="gf03" gradientUnits="userSpaceOnUse" x1="0" y1="0" x2="0" y2="55"><stop offset="0" stop-color="#0091f9"/><stop offset="0.5" stop-color="#00a0f9"/><stop offset="1" stop-color="#00b0f9"/></linearGradient><rect x="110" y="0" width="41" height="58" fill="url(#gf03)"/><linearGradient id="gf04" gradientUnits="userSpaceOnUse" x1="0" y1="0" x2="0" y2="55"><stop offset="0" stop-color="#00a4f9"/><stop offset="0.5" stop-color="#00b4f9"/><stop offset="1" stop-color="#00c3f9"/></linearGradient><rect x="148" y="0" width="20" height="58" fill="url(#gf04)"/><linearGradient id="gf05" gradientUnits="userSpaceOnUse" x1="165" y1="0" x2="220" y2="0"><stop offset="0" stop-color="#00a0f9"/><stop offset="0.5" stop-color="#00cef9"/><stop offset="1" stop-color="#00e7d9"/></linearGradient><rect x="165" y="0" width="58" height="58" fill="url(#gf05)"/><linearGradient id="gf10" gradientUnits="userSpaceOnUse" x1="0" y1="0" x2="33" y2="0"><stop offset="0" stop-color="#00f16c"/><stop offset="0.5" stop-color="#00f497"/><stop offset="1" stop-color="#00ebc7"/></linearGradient><rect x="0" y="55" width="36" height="20" fill="url(#gf10)"/><rect x="33" y="55" width="47" height="20" fill="#00e3f4"/><rect x="77" y="55" width="36" height="20" fill="#00e2f9"/><rect x="110" y="55" width="41" height="20" fill="#00e3f4"/><rect x="148" y="55" width="20" height="20" fill="#00e3f4"/><linearGradient id="gf15" gradientUnits="userSpaceOnUse" x1="165" y1="0" x2="220" y2="0"><stop offset="0" stop-color="#00def9"/><stop offset="0.5" stop-color="#00e9d0"/><stop offset="1" stop-color="#00f0ad"/></linearGradient><rect x="165" y="55" width="58" height="20" fill="url(#gf15)"/><linearGradient id="gf20" gradientUnits="userSpaceOnUse" x1="0" y1="0" x2="33" y2="0"><stop offset="0" stop-color="#00f25b"/><stop offset="0.5" stop-color="#00f485"/><stop offset="1" stop-color="#00eeb6"/></linearGradient><rect x="0" y="72" width="36" height="41" fill="url(#gf20)"/><rect x="33" y="72" width="47" height="41" fill="#00e2f9"/><rect x="77" y="72" width="36" height="41" fill="#00cef9"/><rect x="110" y="72" width="41" height="41" fill="#00cef9"/><rect x="148" y="72" width="20" height="41" fill="#00e3f4"/><linearGradient id="gf25" gradientUnits="userSpaceOnUse" x1="165" y1="0" x2="220" y2="0"><stop offset="0" stop-color="#00e4eb"/><stop offset="0.5" stop-color="#00eac9"/><stop offset="1" stop-color="#00f39b"/></linearGradient><rect x="165" y="72" width="58" height="41" fill="url(#gf25)"/><linearGradient id="gf30" gradientUnits="userSpaceOnUse" x1="0" y1="0" x2="33" y2="0"><stop offset="0" stop-color="#00f254"/><stop offset="0.5" stop-color="#00f37e"/><stop offset="1" stop-color="#00f0ad"/></linearGradient><rect x="0" y="110" width="36" height="34" fill="url(#gf30)"/><rect x="33" y="110" width="47" height="34" fill="#00e2f9"/><rect x="77" y="110" width="36" height="34" fill="#00cef9"/><rect x="110" y="110" width="41" height="34" fill="#00daf9"/><rect x="148" y="110" width="20" height="34" fill="#00e3f4"/><linearGradient id="gf35" gradientUnits="userSpaceOnUse" x1="165" y1="0" x2="220" y2="0"><stop offset="0" stop-color="#00e6de"/><stop offset="0.5" stop-color="#00ebc3"/><stop offset="1" stop-color="#00f58e"/></linearGradient><rect x="165" y="110" width="58" height="34" fill="url(#gf35)"/><linearGradient id="gf40" gradientUnits="userSpaceOnUse" x1="0" y1="0" x2="33" y2="0"><stop offset="0" stop-color="#00f254"/><stop offset="0.5" stop-color="#00f37e"/><stop offset="1" stop-color="#00f0ad"/></linearGradient><rect x="0" y="141" width="36" height="48" fill="url(#gf40)"/><rect x="33" y="141" width="47" height="48" fill="#00cef9"/><rect x="77" y="141" width="36" height="48" fill="#00c7f9"/><rect x="110" y="141" width="41" height="48" fill="#00cef9"/><rect x="148" y="141" width="20" height="48" fill="#00e3f4"/><linearGradient id="gf45" gradientUnits="userSpaceOnUse" x1="165" y1="0" x2="220" y2="0"><stop offset="0" stop-color="#00e4eb"/><stop offset="0.5" stop-color="#00eac9"/><stop offset="1" stop-color="#00f39b"/></linearGradient><rect x="165" y="141" width="58" height="48" fill="url(#gf45)"/><linearGradient id="gf50" gradientUnits="userSpaceOnUse" x1="0" y1="0" x2="33" y2="0"><stop offset="0" stop-color="#00e5e2"/><stop offset="0.5" stop-color="#00c7f9"/><stop offset="1" stop-color="#0099f9"/></linearGradient><rect x="0" y="186" width="36" height="37" fill="url(#gf50)"/><linearGradient id="gf51" gradientUnits="userSpaceOnUse" x1="0" y1="186" x2="0" y2="220"><stop offset="0" stop-color="#009cf9"/><stop offset="0.5" stop-color="#008ef9"/><stop offset="1" stop-color="#0077f9"/></linearGradient><rect x="33" y="186" width="47" height="37" fill="url(#gf51)"/><linearGradient id="gf52" gradientUnits="userSpaceOnUse" x1="0" y1="186" x2="0" y2="220"><stop offset="0" stop-color="#009cf9"/><stop offset="0.5" stop-color="#008ef9"/><stop offset="1" stop-color="#0077f9"/></linearGradient><rect x="77" y="186" width="36" height="37" fill="url(#gf52)"/><linearGradient id="gf53" gradientUnits="userSpaceOnUse" x1="0" y1="186" x2="0" y2="220"><stop offset="0" stop-color="#00a0f9"/><stop offset="0.5" stop-color="#0091f9"/><stop offset="1" stop-color="#007df9"/></linearGradient><rect x="110" y="186" width="41" height="37" fill="url(#gf53)"/><linearGradient id="gf54" gradientUnits="userSpaceOnUse" x1="0" y1="186" x2="0" y2="220"><stop offset="0" stop-color="#00a8f9"/><stop offset="0.5" stop-color="#0099f9"/><stop offset="1" stop-color="#0088f9"/></linearGradient><rect x="148" y="186" width="20" height="37" fill="url(#gf54)"/><linearGradient id="gf55" gradientUnits="userSpaceOnUse" x1="165" y1="0" x2="220" y2="0"><stop offset="0" stop-color="#0083f9"/><stop offset="0.5" stop-color="#00b4f9"/><stop offset="1" stop-color="#00e2f9"/></linearGradient><rect x="165" y="186" width="58" height="37" fill="url(#gf55)"/><path d="M59.5 220.0L58.2 216.0 55.0 214.4 51.8 216.0 50.5 220.0M96.8 220.0L96.0 216.2 94.0 214.4 91.1 216.0 90.2 220.0M41.4 0.0L40.7 9.0 37.3 21.0 36.8 28.0 38.0 37.0 42.1 50.0 45.3 52.0 53.0 53.6 59.0 53.4 64.7 52.0 68.6 49.0 72.0 38.6 74.0 36.7 77.0 35.7 79.0 36.5 81.0 39.1 83.3 49.0 84.6 51.0 88.4 53.0 93.0 53.8 98.6 53.0 102.4 51.0 103.7 49.0 106.0 39.1 108.0 36.5 110.0 35.7 114.0 38.2 117.3 49.0 120.6 52.0 126.0 53.5 131.0 53.6 137.4 52.0 140.2 50.0 145.3 28.0 144.7 22.0 141.4 10.0 140.7 0.0M83.3 0.0L81.7 14.0 80.0 17.5 77.0 19.3 73.0 17.5 70.7 14.0 69.1 8.0 68.6 0.0M117.2 0.0L115.4 14.0 113.0 18.0 110.0 19.3 107.0 17.5 105.3 14.0 103.7 0.0M154.0 0.0L154.6 9.0 156.0 13.5 157.0 13.5 158.0 11.3 159.0 0.0M157.0 52.0L158.5 50.0 158.5 47.0 157.7 43.0 157.0 41.5 156.0 41.5 154.3 49.0 155.0 51.3 157.0 52.0M162.3 220.0L163.9 201.0 162.1 190.0 159.0 186.6 155.0 186.2 148.0 190.2 134.0 184.8 128.0 184.1 111.0 188.5 94.0 183.2 78.0 187.9 73.0 187.7 55.0 183.9 36.9 188.0 34.6 191.0 33.3 200.0 34.8 220.0M195.4 194.0L198.2 192.0 197.5 190.0 191.0 189.2 186.6 191.0 187.7 193.0 190.0 194.1 195.4 194.0M200.6 220.0L198.5 214.0 196.0 212.2 193.0 211.5 190.0 211.9 187.0 213.5 185.2 216.0 184.4 220.0M147.8 220.0L148.0 218.3 149.0 218.4 149.1 220.0M33.8 0.0L32.9 32.0 33.8 49.0 35.0 52.5 37.3 54.0 53.0 58.2 58.0 58.0 69.0 54.7 77.0 54.0 83.0 54.9 93.0 58.8 97.0 58.2 104.0 54.9 110.0 54.0 116.0 54.5 125.0 57.7 130.0 58.3 149.0 52.9 155.0 57.6 158.0 57.6 163.6 50.0 166.9 30.0 163.6 0.0M178.5 0.0L177.7 28.0 178.8 49.0 182.1 52.0 192.0 53.8 202.9 52.0 206.2 49.0 207.3 28.0 206.5 0.0M220.0 188.9L193.0 185.4 168.0 188.5 161.3 185.0 157.0 180.2 156.0 180.1 150.0 185.4 146.0 185.0 141.2 183.0 139.2 181.0 138.7 179.0 139.2 163.0 138.2 143.0 133.9 134.0 132.0 132.2 129.0 131.4 126.0 132.2 124.0 134.1 119.6 144.0 118.8 181.0 116.8 183.0 112.0 184.4 108.0 183.8 105.0 182.0 104.2 180.0 104.8 176.0 108.7 167.0 109.4 163.0 105.0 151.9 102.0 137.0 101.7 76.0 98.3 70.0 93.0 68.3 88.0 70.6 85.3 76.0 85.0 137.0 82.0 151.7 76.6 163.0 77.4 167.0 82.2 176.0 82.8 180.0 82.0 182.0 78.0 183.9 74.0 184.2 69.3 183.0 66.8 181.0 65.7 144.0 59.0 136.6 54.0 135.2 47.2 140.0 44.0 145.0 43.2 181.0 34.3 186.0 29.0 192.5 23.9 189.0 21.0 188.1 12.5 188.0 7.3 190.0 3.7 196.0 0.0 197.8M131.5 119.0L134.5 116.0 138.4 106.0 139.2 91.0 138.6 77.0 137.7 74.0 135.0 70.9 132.0 69.4 128.0 69.0 122.9 71.0 119.5 76.0 118.8 91.0 119.4 104.0 120.2 108.0 124.1 117.0 127.0 119.2 131.5 119.0M55.7 79.0L59.0 76.3 59.2 72.0 57.0 70.0 53.0 70.0 50.8 72.0 50.9 76.0 53.0 78.5 55.7 79.0M157.0 76.0L157.6 72.0 157.0 70.3 156.0 70.2 155.5 74.0 156.0 76.0 157.0 76.0M57.6 115.0L59.7 112.0 59.6 107.0 57.0 103.5 54.0 103.0 50.8 106.0 50.3 112.0 53.0 115.3 57.6 115.0M157.1 113.0L157.5 108.0 157.0 106.0 156.0 106.0 155.4 111.0 156.0 113.3 157.1 113.0M157.2 145.0L157.5 140.0 157.0 137.8 156.0 137.7 155.4 141.0 156.0 145.8 157.2 145.0M0.0 208.2L3.0 209.3 5.0 212.0 6.3 220.0M26.9 220.0L27.5 215.0 29.0 213.8 30.4 220.0M10.1 0.0L11.6 14.0 13.6 18.0 16.0 19.6 19.0 18.5 21.0 15.2 22.4 9.0 22.9 0.0M31.7 0.0L30.1 24.0 30.4 36.0 31.8 50.0 33.0 53.8 36.5 58.0 35.4 64.0 38.2 71.0 35.2 90.0 37.8 110.0 35.4 124.0 37.0 137.0 35.4 144.0 34.4 158.0 34.9 182.0 33.2 185.0 29.0 187.3 16.0 185.8 0.0 187.9M20.1 52.0L22.5 49.0 21.7 42.0 19.0 36.5 16.0 35.4 14.0 36.5 12.0 39.8 10.5 49.0 11.5 51.0 14.0 52.3 20.1 52.0M220.0 185.9L210.0 185.3 194.0 182.2 170.0 185.7 165.0 185.2 163.0 183.3 162.0 180.0 162.9 163.0 161.8 142.0 162.6 125.0 161.8 111.0 162.9 91.0 161.9 72.0 163.5 64.0 162.7 58.0 164.1 55.0 170.0 53.6 187.0 58.2 193.0 58.8 198.0 58.2 210.0 54.4 220.0 53.1M149.0 74.3L146.3 70.0 148.0 68.7 149.0 69.0 149.8 71.0 149.0 74.3M74.0 73.0L72.8 72.0 73.0 70.0 76.0 69.6 76.5 71.0 74.0 73.0M193.4 71.0L193.9 70.0 191.1 70.0 192.0 71.4 193.4 71.0M149.0 114.0L148.0 113.7 147.6 112.0 149.0 107.7 149.7 111.0 149.0 114.0M149.0 143.1L147.8 139.0 148.0 137.5 149.0 137.1 149.0 143.1M0.0 50.6L15.0 56.5 19.0 56.3 28.0 52.7 32.3 55.0 33.8 72.0 32.9 91.0 33.9 111.0 33.0 125.0 33.8 138.0 32.6 161.0 33.1 180.0 32.4 184.0 29.0 185.7 16.0 183.7 0.0 186.1M220.0 183.9L212.4 183.0 209.7 182.0 207.7 180.0 208.2 173.0 211.3 163.0 208.2 154.0 206.7 143.0 201.0 131.6 198.0 129.6 193.0 128.4 188.0 129.2 184.0 131.6 178.3 143.0 176.8 154.0 173.7 163.0 176.8 173.0 177.3 180.0 175.3 182.0 171.0 183.3 168.0 183.4 165.5 182.0 165.3 178.0 168.7 163.0 165.0 147.0 164.6 137.0 166.4 125.0 164.4 112.0 165.0 104.7 168.8 91.0 165.0 77.0 165.0 71.9 167.0 69.2 169.0 68.5 172.0 69.2 175.9 72.0 177.1 74.0 177.0 82.2 173.6 91.0 176.5 98.0 178.3 107.0 182.4 117.0 187.0 121.4 193.0 122.6 198.0 121.4 201.0 119.4 206.7 107.0 208.5 98.0 211.4 91.0 208.0 82.2 207.9 74.0 209.1 72.0 213.0 69.2 220.0 67.9M0.0 54.5L6.1 56.0 11.0 60.8 15.1 63.0 15.2 64.0 11.0 66.5 10.2 69.0 13.4 77.0 16.0 79.6 19.0 78.1 22.8 69.0 22.0 66.5 17.8 64.0 17.9 63.0 21.0 61.6 27.0 56.1 29.0 55.7 30.7 57.0 29.7 64.0 32.2 72.0 30.9 91.0 32.4 111.0 31.3 125.0 32.3 138.0 31.0 162.0 31.8 182.0 30.2 184.0 28.0 184.3 16.0 180.1 6.9 184.0 0.0 185.1M17.7 113.0L19.6 110.0 19.8 106.0 18.1 103.0 16.0 102.4 14.0 104.0 13.1 108.0 15.0 112.8 17.7 113.0M17.5 145.0L18.5 140.0 17.2 138.0 16.0 137.9 14.5 140.0 14.6 143.0 16.0 145.5 17.5 145.0M0.0 69.5L2.3 70.0 4.8 72.0 5.9 76.0 4.0 82.6 0.0 85.0M28.0 77.6L27.6 75.0 28.0 73.8 29.0 73.8 29.0 76.8 28.0 77.6M0.0 97.0L2.0 97.5 4.4 100.0 6.9 110.0 6.7 118.0 3.3 126.0 6.5 132.0 7.4 141.0 6.5 154.0 3.2 163.0 6.3 172.0 7.0 180.0 5.0 182.2 0.0 183.3M28.0 119.4L26.5 118.0 25.8 113.0 28.0 104.2 29.0 104.8 30.3 111.0 30.0 114.6 28.0 119.4M28.0 154.2L27.0 154.1 26.2 151.0 25.7 141.0 26.2 134.0 27.0 131.8 28.0 131.6 30.0 136.4 30.3 140.0 29.8 147.0 28.0 154.2M29.0 181.5L27.0 181.2 26.1 180.0 27.0 172.9 28.0 172.8 29.0 175.4 29.0 181.5" fill="none" stroke="#0a2a3a" stroke-opacity="0.45" stroke-width="0.5" vector-effect="non-scaling-stroke"/><g stroke="#0a2020" stroke-width="1" vector-effect="non-scaling-stroke"><line x1="33" y1="0" x2="33" y2="55" stroke-opacity="0.25"/><line x1="110" y1="0" x2="110" y2="55" stroke-opacity="0.15"/><line x1="148" y1="0" x2="148" y2="55" stroke-opacity="0.20"/><line x1="165" y1="0" x2="165" y2="55" stroke-opacity="0.20"/><line x1="33" y1="55" x2="33" y2="72" stroke-opacity="0.25"/><line x1="110" y1="55" x2="110" y2="72" stroke-opacity="0.15"/><line x1="148" y1="55" x2="148" y2="72" stroke-opacity="0.20"/><line x1="165" y1="55" x2="165" y2="72" stroke-opacity="0.20"/><line x1="33" y1="72" x2="33" y2="110" stroke-opacity="0.25"/><line x1="110" y1="72" x2="110" y2="110" stroke-opacity="0.15"/><line x1="148" y1="72" x2="148" y2="110" stroke-opacity="0.20"/><line x1="165" y1="72" x2="165" y2="110" stroke-opacity="0.20"/><line x1="33" y1="110" x2="33" y2="141" stroke-opacity="0.25"/><line x1="110" y1="110" x2="110" y2="141" stroke-opacity="0.15"/><line x1="148" y1="110" x2="148" y2="141" stroke-opacity="0.20"/><line x1="165" y1="110" x2="165" y2="141" stroke-opacity="0.20"/><line x1="33" y1="141" x2="33" y2="186" stroke-opacity="0.25"/><line x1="110" y1="141" x2="110" y2="186" stroke-opacity="0.15"/><line x1="148" y1="141" x2="148" y2="186" stroke-opacity="0.20"/><line x1="165" y1="141" x2="165" y2="186" stroke-opacity="0.20"/><line x1="33" y1="186" x2="33" y2="220" stroke-opacity="0.25"/><line x1="110" y1="186" x2="110" y2="220" stroke-opacity="0.15"/><line x1="148" y1="186" x2="148" y2="220" stroke-opacity="0.20"/><line x1="165" y1="186" x2="165" y2="220" stroke-opacity="0.20"/><line x1="0" y1="55" x2="33" y2="55" stroke-opacity="0.35"/><line x1="33" y1="55" x2="77" y2="55" stroke-opacity="0.35"/><line x1="77" y1="55" x2="110" y2="55" stroke-opacity="0.35"/><line x1="110" y1="55" x2="148" y2="55" stroke-opacity="0.35"/><line x1="148" y1="55" x2="165" y2="55" stroke-opacity="0.35"/><line x1="165" y1="55" x2="220" y2="55" stroke-opacity="0.35"/><line x1="0" y1="72" x2="33" y2="72" stroke-opacity="0.30"/><line x1="33" y1="72" x2="77" y2="72" stroke-opacity="0.30"/><line x1="77" y1="72" x2="110" y2="72" stroke-opacity="0.30"/><line x1="110" y1="72" x2="148" y2="72" stroke-opacity="0.30"/><line x1="148" y1="72" x2="165" y2="72" stroke-opacity="0.30"/><line x1="165" y1="72" x2="220" y2="72" stroke-opacity="0.30"/><line x1="0" y1="110" x2="33" y2="110" stroke-opacity="0.20"/><line x1="33" y1="110" x2="77" y2="110" stroke-opacity="0.20"/><line x1="77" y1="110" x2="110" y2="110" stroke-opacity="0.20"/><line x1="110" y1="110" x2="148" y2="110" stroke-opacity="0.20"/><line x1="148" y1="110" x2="165" y2="110" stroke-opacity="0.20"/><line x1="165" y1="110" x2="220" y2="110" stroke-opacity="0.20"/><line x1="0" y1="186" x2="33" y2="186" stroke-opacity="0.30"/><line x1="33" y1="186" x2="77" y2="186" stroke-opacity="0.30"/><line x1="77" y1="186" x2="110" y2="186" stroke-opacity="0.30"/><line x1="110" y1="186" x2="148" y2="186" stroke-opacity="0.30"/><line x1="148" y1="186" x2="165" y2="186" stroke-opacity="0.30"/><line x1="165" y1="186" x2="220" y2="186" stroke-opacity="0.30"/></g><rect x="0" y="0" width="220" height="220" fill="none" stroke="#102838" stroke-width="2" vector-effect="non-scaling-stroke"/></svg>
<div class="tk" style="left:174.97px;top:243.40px"></div><div class="xl" style="left:165.22px;top:246.10px">50</div><div class="tk" style="left:197.79px;top:243.40px"></div><div class="xl" style="left:188.04px;top:246.10px">100</div><div class="tk" style="left:220.60px;top:243.40px"></div><div class="xl" style="left:210.85px;top:246.10px">150</div><div class="tk" style="left:243.42px;top:243.40px"></div><div class="xl" style="left:233.67px;top:246.10px">200</div><div class="tky" style="left:150.40px;top:221.38px"></div><div class="yl" style="left:129.70px;top:219.03px">50</div><div class="tky" style="left:150.40px;top:199.60px"></div><div class="yl" style="left:129.70px;top:197.25px">100</div><div class="tky" style="left:150.40px;top:177.83px"></div><div class="yl" style="left:129.70px;top:175.48px">150</div><div class="tky" style="left:150.40px;top:156.06px"></div><div class="yl" style="left:129.70px;top:153.71px">200</div><div class="xa" style="left:192.60px;top:254.70px">X</div><div class="ya" style="left:126.00px;top:192.00px">Y</div><div class="cap" style="left:152.90px;top:262.70px">(f) GT</div>
<svg class="pl" style="left:277.00px;top:147.10px;width:99.80px;height:95.70px" viewBox="0 0 220 220" preserveAspectRatio="none"><linearGradient id="gg00" gradientUnits="userSpaceOnUse" x1="0" y1="0" x2="33" y2="0"><stop offset="0" stop-color="#00e7d9"/><stop offset="0.5" stop-color="#00cef9"/><stop offset="1" stop-color="#00a0f9"/></linearGradient><rect x="0" y="0" width="36" height="58" fill="url(#gg00)"/><linearGradient id="gg01" gradientUnits="userSpaceOnUse" x1="0" y1="0" x2="0" y2="55"><stop offset="0" stop-color="#0033f4"/><stop offset="0.5" stop-color="#003df7"/><stop offset="1" stop-color="#004af9"/></linearGradient><rect x="33" y="0" width="47" height="58" fill="url(#gg01)"/><linearGradient id="gg02" gradientUnits="userSpaceOnUse" x1="0" y1="0" x2="0" y2="55"><stop offset="0" stop-color="#0039f6"/><stop offset="0.5" stop-color="#0043f9"/><stop offset="1" stop-color="#0052f9"/></linearGradient><rect x="77" y="0" width="36" height="58" fill="url(#gg02)"/><linearGradient id="gg03" gradientUnits="userSpaceOnUse" x1="0" y1="0" x2="0" y2="55"><stop offset="0" stop-color="#0066f9"/><stop offset="0.5" stop-color="#007df9"/><stop offset="1" stop-color="#0091f9"/></linearGradient><rect x="110" y="0" width="41" height="58" fill="url(#gg03)"/><linearGradient id="gg04" gradientUnits="userSpaceOnUse" x1="0" y1="0" x2="0" y2="55"><stop offset="0" stop-color="#003df7"/><stop offset="0.5" stop-color="#004af9"/><stop offset="1" stop-color="#005af9"/></linearGradient><rect x="148" y="0" width="20" height="58" fill="url(#gg04)"/><linearGradient id="gg05" gradientUnits="userSpaceOnUse" x1="165" y1="0" x2="220" y2="0"><stop offset="0" stop-color="#00acf9"/><stop offset="0.5" stop-color="#00daf9"/><stop offset="1" stop-color="#00e9d2"/></linearGradient><rect x="165" y="0" width="58" height="58" fill="url(#gg05)"/><linearGradient id="gg10" gradientUnits="userSpaceOnUse" x1="0" y1="0" x2="33" y2="0"><stop offset="0" stop-color="#00df06"/><stop offset="0.5" stop-color="#00e71c"/><stop offset="1" stop-color="#00ee35"/></linearGradient><rect x="0" y="55" width="36" height="20" fill="url(#gg10)"/><rect x="33" y="55" width="47" height="20" fill="#00b4f9"/><rect x="77" y="55" width="36" height="20" fill="#00bbf9"/><rect x="110" y="55" width="41" height="20" fill="#00e4eb"/><rect x="148" y="55" width="20" height="20" fill="#00c7f9"/><linearGradient id="gg15" gradientUnits="userSpaceOnUse" x1="165" y1="0" x2="220" y2="0"><stop offset="0" stop-color="#00ee35"/><stop offset="0.5" stop-color="#00e71c"/><stop offset="1" stop-color="#00df06"/></linearGradient><rect x="165" y="55" width="58" height="20" fill="url(#gg15)"/><linearGradient id="gg20" gradientUnits="userSpaceOnUse" x1="0" y1="0" x2="33" y2="0"><stop offset="0" stop-color="#00ea25"/><stop offset="0.5" stop-color="#00f045"/><stop offset="1" stop-color="#00f16f"/></linearGradient><rect x="0" y="72" width="36" height="41" fill="url(#gg20)"/><rect x="33" y="72" width="47" height="41" fill="#0060f9"/><rect x="77" y="72" width="36" height="41" fill="#007df9"/><rect x="110" y="72" width="41" height="41" fill="#00cef9"/><rect x="148" y="72" width="20" height="41" fill="#0066f9"/><linearGradient id="gg25" gradientUnits="userSpaceOnUse" x1="165" y1="0" x2="220" y2="0"><stop offset="0" stop-color="#00f485"/><stop offset="0.5" stop-color="#00f25b"/><stop offset="1" stop-color="#00ee31"/></linearGradient><rect x="165" y="72" width="58" height="41" fill="url(#gg25)"/><linearGradient id="gg30" gradientUnits="userSpaceOnUse" x1="0" y1="0" x2="33" y2="0"><stop offset="0" stop-color="#0cdf00"/><stop offset="0.5" stop-color="#00e00a"/><stop offset="1" stop-color="#00e820"/></linearGradient><rect x="0" y="110" width="36" height="34" fill="url(#gg30)"/><rect x="33" y="110" width="47" height="34" fill="#00a0f9"/><rect x="77" y="110" width="36" height="34" fill="#00c7f9"/><rect x="110" y="110" width="41" height="34" fill="#00f37e"/><rect x="148" y="110" width="20" height="34" fill="#00cef9"/><linearGradient id="gg35" gradientUnits="userSpaceOnUse" x1="165" y1="0" x2="220" y2="0"><stop offset="0" stop-color="#00e820"/><stop offset="0.5" stop-color="#00e00a"/><stop offset="1" stop-color="#0cdf00"/></linearGradient><rect x="165" y="110" width="58" height="34" fill="url(#gg35)"/><linearGradient id="gg40" gradientUnits="userSpaceOnUse" x1="0" y1="0" x2="33" y2="0"><stop offset="0" stop-color="#25e500"/><stop offset="0.5" stop-color="#10e000"/><stop offset="1" stop-color="#00de04"/></linearGradient><rect x="0" y="141" width="36" height="48" fill="url(#gg40)"/><rect x="33" y="141" width="47" height="48" fill="#00e2f9"/><rect x="77" y="141" width="36" height="48" fill="#00e4eb"/><rect x="110" y="141" width="41" height="48" fill="#00f168"/><rect x="148" y="141" width="20" height="48" fill="#00e3f4"/><linearGradient id="gg45" gradientUnits="userSpaceOnUse" x1="165" y1="0" x2="220" y2="0"><stop offset="0" stop-color="#0ee000"/><stop offset="0.5" stop-color="#21e400"/><stop offset="1" stop-color="#35e800"/></linearGradient><rect x="165" y="141" width="58" height="48" fill="url(#gg45)"/><linearGradient id="gg50" gradientUnits="userSpaceOnUse" x1="0" y1="0" x2="33" y2="0"><stop offset="0" stop-color="#00e7d9"/><stop offset="0.5" stop-color="#00cef9"/><stop offset="1" stop-color="#00a0f9"/></linearGradient><rect x="0" y="186" width="36" height="37" fill="url(#gg50)"/><linearGradient id="gg51" gradientUnits="userSpaceOnUse" x1="0" y1="186" x2="0" y2="220"><stop offset="0" stop-color="#0040f8"/><stop offset="0.5" stop-color="#0036f5"/><stop offset="1" stop-color="#002bf2"/></linearGradient><rect x="33" y="186" width="47" height="37" fill="url(#gg51)"/><linearGradient id="gg52" gradientUnits="userSpaceOnUse" x1="0" y1="186" x2="0" y2="220"><stop offset="0" stop-color="#004af9"/><stop offset="0.5" stop-color="#003df7"/><stop offset="1" stop-color="#0033f4"/></linearGradient><rect x="77" y="186" width="36" height="37" fill="url(#gg52)"/><linearGradient id="gg53" gradientUnits="userSpaceOnUse" x1="0" y1="186" x2="0" y2="220"><stop offset="0" stop-color="#0077f9"/><stop offset="0.5" stop-color="#0060f9"/><stop offset="1" stop-color="#004ef9"/></linearGradient><rect x="110" y="186" width="41" height="37" fill="url(#gg53)"/><linearGradient id="gg54" gradientUnits="userSpaceOnUse" x1="0" y1="186" x2="0" y2="220"><stop offset="0" stop-color="#004af9"/><stop offset="0.5" stop-color="#003df7"/><stop offset="1" stop-color="#0033f4"/></linearGradient><rect x="148" y="186" width="20" height="37" fill="url(#gg54)"/><linearGradient id="gg55" gradientUnits="userSpaceOnUse" x1="165" y1="0" x2="220" y2="0"><stop offset="0" stop-color="#00a0f9"/><stop offset="0.5" stop-color="#00cef9"/><stop offset="1" stop-color="#00e7d9"/></linearGradient><rect x="165" y="186" width="58" height="37" fill="url(#gg55)"/><ellipse cx="213" cy="162" rx="6" ry="15" fill="#a1f200"/><path d="M38.5 0.0L36.0 27.0 38.0 48.0 39.6 50.0 41.9 51.0 55.0 53.0 64.4 52.0 70.6 50.0 72.7 48.0 78.0 36.8 80.0 35.6 82.0 38.4 83.7 48.0 84.9 50.0 89.0 51.8 93.0 52.3 97.3 52.0 102.1 50.0 103.2 48.0 105.4 28.0 103.1 0.0M83.8 0.0L82.9 13.0 81.8 17.0 80.0 19.4 78.0 18.2 74.4 11.0 72.7 6.0 72.0 0.0M153.0 0.0L153.8 17.0 156.0 23.7 157.0 23.4 158.0 21.0 158.9 16.0 159.6 0.0M158.2 51.0L159.4 48.0 159.0 39.7 158.0 34.0 157.0 31.6 156.0 31.3 154.0 36.6 153.1 48.0 154.7 51.0 158.2 51.0M105.5 220.0L107.9 202.0 106.0 192.0 104.3 190.0 98.0 188.2 92.0 187.9 79.0 191.1 72.4 189.0 55.0 187.2 39.0 188.8 36.1 191.0 35.0 203.0 36.1 220.0M161.1 220.0L161.0 191.0 159.0 188.3 156.0 187.8 152.3 189.0 150.3 193.0 149.0 203.0 150.7 220.0M77.8 220.0L79.0 217.2 80.2 220.0M33.9 0.0L33.3 30.0 34.5 51.0 38.0 53.7 55.0 55.7 78.0 53.2 95.0 55.2 106.0 53.1 109.0 51.3 110.4 48.0 112.5 28.0 110.1 0.0M120.3 0.0L121.0 15.0 124.0 27.0 121.2 39.0 120.6 48.0 121.7 50.0 123.7 51.0 129.0 51.7 134.3 51.0 136.3 50.0 137.4 48.0 136.8 39.0 134.0 27.0 137.0 15.0 137.7 0.0M147.3 0.0L144.8 27.0 147.1 48.0 149.5 52.0 156.0 54.6 160.6 53.0 162.5 49.0 162.6 0.0M61.1 110.0L72.0 106.5 75.0 103.4 77.9 91.0 74.4 77.0 72.3 75.0 69.3 74.0 56.0 71.5 47.0 72.5 39.0 74.7 37.6 77.0 36.6 88.0 37.0 100.6 38.0 105.8 40.0 107.2 51.0 110.5 61.1 110.0M158.1 108.0L160.0 106.3 160.4 104.0 160.5 77.0 159.0 73.3 156.0 72.5 152.4 74.0 151.0 77.0 150.8 102.0 151.3 105.0 152.6 107.0 155.0 108.1 158.1 108.0M96.8 107.0L100.1 105.0 100.7 103.0 97.8 91.0 100.3 83.0 100.7 77.0 97.8 74.0 92.0 73.3 87.5 75.0 86.3 77.0 86.7 83.0 89.2 91.0 86.9 98.0 86.4 104.0 87.9 106.0 90.2 107.0 96.8 107.0M163.2 220.0L163.2 191.0 161.9 188.0 159.0 186.2 153.0 186.4 144.0 189.9 129.0 188.4 114.0 190.1 105.0 187.1 97.0 186.1 79.0 187.2 55.0 185.4 38.0 186.7 34.2 189.0 33.0 200.3 33.5 220.0M32.3 0.0L31.5 29.0 32.7 51.0 35.0 54.1 38.0 55.8 55.0 59.8 78.0 55.3 95.0 58.4 114.0 52.8 129.0 55.0 144.0 52.9 156.0 57.4 159.0 56.5 163.0 52.5 164.3 49.0 164.9 28.0 164.3 0.0M61.7 139.0L68.3 136.0 72.7 129.0 73.0 122.8 69.5 115.0 71.8 112.0 77.0 109.3 80.0 108.7 91.0 111.7 95.0 111.9 104.2 109.0 107.1 107.0 108.5 103.0 109.1 88.0 108.2 76.0 106.0 72.3 95.0 68.4 91.0 68.6 79.0 71.9 55.0 67.0 47.0 68.3 38.0 71.1 36.0 72.8 35.0 79.2 35.0 103.0 36.0 108.8 40.5 115.0 38.0 124.0 39.0 131.5 41.7 136.0 45.1 138.0 53.0 139.7 61.7 139.0M158.4 111.0L161.0 108.4 162.1 105.0 162.1 76.0 160.0 70.9 156.0 69.2 150.4 72.0 148.3 75.0 147.5 97.0 148.0 104.2 149.1 107.0 155.0 111.4 158.4 111.0M164.7 220.0L165.5 203.0 164.8 191.0 162.5 187.0 158.0 184.1 155.0 184.0 144.0 187.7 129.0 187.0 114.0 187.8 95.0 184.1 78.0 185.7 55.0 183.6 37.0 185.6 33.0 188.4 31.3 201.0 32.1 220.0M8.1 0.0L8.2 47.0 10.2 50.0 16.0 51.1 22.8 50.0 24.9 47.0 25.8 28.0 24.9 0.0M29.9 0.0L27.0 28.0 30.0 49.0 35.1 56.0 36.2 59.0 36.1 68.0 34.0 76.0 33.8 90.0 34.0 105.0 35.7 114.0 36.0 137.0 37.8 140.0 46.7 143.0 53.0 148.8 55.0 149.4 57.0 148.8 63.3 143.0 75.7 139.0 80.0 133.0 82.0 134.0 85.7 139.0 93.0 143.2 98.0 141.5 103.1 137.0 105.1 127.0 104.1 114.0 110.8 105.0 113.6 93.0 113.6 89.0 110.7 75.0 107.7 68.0 107.8 58.0 110.0 55.6 113.0 54.8 129.0 57.8 145.0 54.9 147.0 55.3 150.3 58.0 150.3 68.0 145.9 75.0 142.9 92.0 145.8 105.0 152.3 114.0 152.9 138.0 156.0 146.0 157.0 145.8 159.6 137.0 159.0 125.0 159.8 115.0 163.1 105.0 163.1 76.0 160.3 67.0 160.1 62.0 160.7 58.0 165.2 51.0 166.1 48.0 167.3 27.0 165.9 0.0M182.9 0.0L183.5 7.0 185.2 12.0 188.0 15.4 192.0 16.9 196.0 16.0 199.2 13.0 201.2 8.0 202.1 0.0M197.5 50.0L200.3 49.0 201.1 47.0 199.8 43.0 197.0 39.6 194.0 38.2 191.0 38.2 186.0 41.7 184.0 46.3 184.7 49.0 190.0 50.3 197.5 50.0M135.4 106.0L138.2 104.0 138.7 102.0 139.3 91.0 138.4 76.0 137.4 74.0 133.9 71.0 130.0 69.9 126.0 70.3 121.6 73.0 119.6 76.0 118.8 91.0 119.5 103.0 120.7 105.0 125.0 106.6 130.0 107.0 135.4 106.0M81.0 118.0L80.0 117.9 78.7 116.0 79.0 112.9 81.0 112.8 82.2 114.0 82.3 116.0 81.0 118.0M166.8 220.0L169.1 203.0 167.4 193.0 165.5 189.0 157.0 179.9 156.0 179.8 149.5 185.0 145.0 186.5 114.0 186.7 94.0 181.3 80.0 184.3 70.0 183.4 63.8 182.0 55.0 177.5 46.2 182.0 37.0 184.2 34.0 186.0 30.4 190.0 26.4 203.0 29.0 212.0 29.7 220.0M24.9 220.0L25.8 203.0 24.9 193.0 23.8 191.0 21.9 190.0 17.0 189.3 11.1 190.0 8.4 192.0 7.6 203.0 8.1 220.0M206.5 220.0L207.3 203.0 206.4 193.0 204.5 191.0 201.0 190.0 193.0 189.5 184.0 190.0 180.5 191.0 178.6 193.0 177.7 203.0 178.5 220.0M220.0 189.6L195.9 188.0 171.0 189.3 167.0 188.6 162.7 185.0 160.7 181.0 160.4 164.0 161.6 114.0 164.0 103.0 164.0 76.0 162.1 67.0 162.9 56.0 167.0 51.4 170.0 50.3 194.0 52.4 220.0 49.7M0.0 50.9L15.0 52.6 29.0 51.7 32.0 53.6 34.3 57.0 34.6 68.0 33.1 78.0 33.1 104.0 34.5 113.0 34.7 137.0 37.9 146.0 36.6 163.0 37.7 180.0 35.2 184.0 29.0 188.7 15.0 187.9 0.0 189.5M114.0 69.1L114.0 69.1M147.0 185.3L142.0 185.7 129.0 184.6 112.0 185.7 109.3 185.0 104.5 181.0 104.0 178.0 105.3 163.0 103.8 145.0 107.4 136.0 107.6 113.0 109.1 110.0 112.0 107.6 115.0 107.2 129.0 109.0 144.0 107.4 147.0 109.1 149.2 112.0 149.4 130.0 151.2 145.0 151.2 179.0 150.6 182.0 147.0 185.3M80.0 154.4L77.0 153.0 73.9 146.0 74.8 144.0 79.0 141.8 81.8 143.0 82.9 146.0 82.0 151.3 80.0 154.4M81.0 181.4L78.0 181.9 74.7 180.0 77.0 174.0 79.0 172.4 81.0 173.6 82.4 177.0 82.4 180.0 81.0 181.4M0.0 52.5L16.0 53.7 29.0 53.1 32.0 54.4 33.3 57.0 33.6 68.0 32.6 75.0 32.3 95.0 33.7 113.0 33.8 136.0 35.4 146.0 35.4 180.0 33.2 185.0 28.0 187.6 16.0 186.9 0.0 187.9M220.0 188.1L193.0 187.1 170.0 188.0 165.0 186.3 162.3 183.0 161.8 180.0 161.7 146.0 162.6 114.0 164.5 106.0 164.9 95.0 164.5 76.0 163.1 67.0 163.2 58.0 164.3 55.0 167.0 53.0 170.0 52.3 193.0 53.5 220.0 52.2M145.0 185.0L129.0 183.6 112.0 185.1 110.0 184.4 108.1 182.0 107.4 145.0 109.4 130.0 109.2 113.0 111.0 109.7 116.0 109.1 129.0 111.2 143.0 109.1 146.0 109.7 147.3 111.0 148.1 115.0 147.7 130.0 149.2 144.0 148.5 163.0 149.1 180.0 147.3 184.0 145.0 185.0M0.0 53.5L16.0 55.1 28.0 53.9 31.0 54.6 32.3 56.0 32.8 69.0 31.5 93.0 33.0 113.0 33.1 136.0 34.4 146.0 34.3 180.0 32.6 185.0 28.0 186.8 16.0 186.2 0.0 187.1M220.0 187.3L193.0 186.5 170.0 187.1 165.0 185.7 163.1 183.0 162.6 180.0 162.6 146.0 163.5 113.0 165.2 105.0 165.8 94.0 164.0 68.0 164.1 58.0 164.9 55.0 170.0 53.5 193.0 55.0 220.0 53.3M145.0 184.0L129.0 182.0 113.0 184.3 111.0 183.7 109.5 182.0 109.2 144.0 111.1 127.0 110.2 114.0 112.0 110.7 117.0 110.7 129.0 114.6 142.0 110.5 145.0 110.8 146.3 112.0 146.9 115.0 146.0 127.0 147.7 144.0 147.0 163.0 147.6 180.0 147.0 182.8 145.0 184.0M0.0 54.3L16.0 56.0 29.0 54.6 32.0 56.8 32.3 69.0 30.5 93.0 32.5 112.0 32.3 129.0 33.6 146.0 33.5 180.0 32.1 185.0 28.0 186.1 16.0 185.1 0.0 186.4M220.0 186.6L193.0 185.7 170.0 186.5 165.0 185.3 163.3 180.0 163.3 146.0 164.2 113.0 166.1 105.0 167.1 92.0 166.1 76.0 164.6 69.0 165.2 56.0 169.0 54.3 193.0 55.9 220.0 54.2M193.6 78.0L195.3 77.0 195.3 76.0 193.0 75.2 189.7 76.0 191.0 77.9 193.6 78.0M116.0 121.5L114.0 120.8 112.6 117.0 112.3 114.0 114.0 112.5 116.3 113.0 117.9 115.0 117.7 118.0 116.0 121.5M143.0 120.0L142.0 120.6 141.0 119.8 140.0 116.0 140.6 114.0 143.0 112.8 144.0 113.1 144.6 115.0 143.0 120.0M115.0 183.0L112.0 182.6 110.6 180.0 111.8 163.0 110.4 143.0 114.0 130.2 115.0 129.2 117.0 130.9 124.3 152.0 126.0 154.1 129.0 155.3 132.0 154.1 134.0 151.4 136.3 143.0 142.0 130.4 144.0 133.0 146.4 143.0 145.1 163.0 146.0 181.3 143.0 182.9 136.9 181.0 133.0 173.9 129.0 171.7 125.0 173.9 121.1 181.0 115.0 183.0M0.0 54.8L16.0 57.1 28.0 55.4 31.1 57.0 31.5 70.0 30.1 76.0 29.0 92.0 30.1 105.0 32.0 112.0 31.6 127.0 32.9 146.0 32.9 180.0 32.0 184.2 28.0 185.6 16.0 184.4 0.0 185.8M220.0 186.0L193.0 184.7 170.0 185.9 165.4 185.0 163.9 180.0 163.9 146.0 165.0 127.0 164.8 112.0 170.0 95.5 172.0 94.7 174.0 96.5 177.1 104.0 179.1 106.0 187.0 108.3 196.0 108.5 203.6 107.0 207.2 105.0 210.7 97.0 216.5 91.0 210.0 84.0 206.5 75.0 202.7 73.0 195.0 70.9 189.0 71.1 178.5 75.0 175.0 84.0 173.0 86.6 171.0 87.5 169.0 84.0 165.4 70.0 166.0 56.4 168.0 55.0 171.0 54.9 194.0 57.0 220.0 54.8M17.7 85.0L21.0 82.0 22.3 76.0 20.0 73.0 15.0 72.2 11.0 75.0 10.9 79.0 13.5 84.0 17.7 85.0M20.1 107.0L22.1 104.0 20.4 99.0 17.0 96.8 14.0 97.6 11.2 102.0 11.6 106.0 16.0 107.8 20.1 107.0M114.0 146.5L114.0 143.3 114.8 145.0 114.0 146.5M0.0 55.7L16.0 58.9 29.0 56.6 30.4 59.0 30.5 69.0 30.0 71.5 28.0 74.1 19.0 68.8 13.0 69.2 6.4 74.0 3.0 80.3 0.0 81.9M220.0 74.7L200.0 69.3 193.0 68.3 185.0 69.3 170.0 73.6 167.0 71.4 166.3 69.0 166.4 58.0 168.4 56.0 193.0 58.9 220.0 55.6M0.0 100.1L3.0 101.7 7.1 107.0 14.0 110.6 19.0 110.6 27.0 106.5 29.0 107.2 31.3 112.0 30.8 127.0 32.4 145.0 32.4 180.0 31.2 184.0 28.0 185.1 15.0 183.6 0.0 185.4M220.0 185.6L194.0 184.1 171.0 185.5 166.0 184.8 164.4 181.0 164.3 145.0 165.9 127.0 165.3 113.0 166.1 110.0 168.0 107.8 171.0 107.0 186.0 110.6 193.0 111.3 220.0 106.1M0.0 56.9L7.1 59.0 8.9 63.0 8.1 67.0 6.3 70.0 4.0 71.6 0.0 72.6M220.0 71.5L213.8 71.0 209.0 69.0 206.0 66.0 205.1 63.0 208.1 59.0 214.0 57.3 220.0 56.8M170.0 71.0L167.8 69.0 168.8 64.0 168.2 58.0 171.0 57.3 176.9 59.0 179.9 63.0 179.0 66.0 176.0 69.0 170.0 71.0M28.0 70.0L25.4 68.0 24.1 64.0 25.2 60.0 27.0 58.7 28.0 58.7 28.3 60.0 27.5 63.0 28.7 68.0 28.0 70.0M0.0 107.6L7.9 110.0 16.0 115.7 18.0 115.4 26.0 109.6 29.5 110.0 30.6 114.0 29.9 128.0 32.0 145.0 31.3 163.0 31.9 180.0 31.0 183.2 28.0 184.4 16.0 182.6 0.0 184.9M220.0 185.2L194.0 183.4 171.0 185.1 166.0 184.0 164.8 180.0 164.7 145.0 166.9 128.0 166.1 113.0 168.0 109.6 176.5 110.0 190.0 115.4 193.0 115.7 208.5 110.0 220.0 108.7M17.7 137.0L17.0 135.9 15.3 137.0 16.0 137.7 17.7 137.0M0.0 109.7L4.0 110.4 7.4 113.0 8.2 116.0 8.7 137.0 11.6 141.0 16.0 144.3 20.0 142.3 24.3 137.0 24.9 115.0 26.7 112.0 28.4 112.0 29.2 115.0 27.2 127.0 31.2 145.0 30.4 163.0 31.1 180.0 30.0 183.0 26.0 183.3 16.0 180.5 7.0 183.3 0.0 184.2M220.0 184.7L193.0 182.3 172.0 184.4 167.0 183.9 165.3 180.0 165.9 163.0 165.2 145.0 168.9 127.0 167.3 114.0 168.7 111.0 171.0 110.7 175.4 112.0 178.5 115.0 178.8 134.0 180.1 137.0 189.0 140.9 193.0 141.3 201.6 139.0 205.7 136.0 207.0 114.0 212.5 111.0 220.0 110.1M0.0 112.9L1.7 114.0 0.0 115.4M220.0 115.3L217.6 114.0 220.0 113.3M0.0 135.2L3.0 136.5 8.5 142.0 11.8 154.0 15.0 157.6 18.0 157.6 20.7 155.0 23.4 144.0 26.0 140.4 28.0 139.7 29.0 140.3 30.2 145.0 29.0 163.0 30.1 180.0 29.3 182.0 27.0 182.3 24.1 181.0 20.0 171.0 18.0 169.4 16.0 169.1 12.3 172.0 8.9 181.0 4.3 183.0 0.0 183.4M220.0 184.1L207.0 183.0 193.0 179.9 174.0 183.5 169.0 183.8 167.0 183.0 166.0 180.0 166.8 163.0 165.9 145.0 166.5 141.0 170.0 136.7 193.0 145.8 215.0 136.2 220.0 135.1M220.0 183.3L213.0 182.9 205.6 181.0 203.5 179.0 200.0 171.3 197.0 169.0 193.0 167.9 189.0 168.6 185.3 171.0 181.5 179.0 179.4 181.0 172.0 182.9 168.0 182.5 166.9 180.0 168.0 163.0 166.7 145.0 167.2 142.0 169.0 140.2 173.0 140.4 177.4 142.0 180.9 145.0 182.8 152.0 185.0 155.7 189.0 158.4 193.0 159.1 197.0 158.0 200.5 155.0 204.1 145.0 205.9 143.0 211.0 140.6 220.0 139.3M0.0 140.3L4.5 142.0 5.9 146.0 4.0 153.4 2.0 155.7 0.0 156.3M0.0 170.7L2.0 171.3 4.0 173.6 5.5 179.0 4.6 181.0 0.0 182.2M220.0 156.3L216.0 155.4 213.0 153.1 210.3 146.0 212.2 143.0 220.0 141.2M171.0 153.6L169.0 151.5 168.0 146.0 168.6 143.0 170.0 142.2 173.0 143.2 174.7 146.0 173.3 151.0 171.0 153.6M220.0 182.1L212.5 181.0 210.8 179.0 211.7 176.0 214.0 172.9 220.0 170.7M172.0 181.1L169.0 181.1 168.4 180.0 169.0 175.5 171.0 173.4 174.1 178.0 173.9 180.0 172.0 181.1" fill="none" stroke="#0a2a3a" stroke-opacity="0.45" stroke-width="0.5" vector-effect="non-scaling-stroke"/><g stroke="#0a2020" stroke-width="1" vector-effect="non-scaling-stroke"><line x1="33" y1="0" x2="33" y2="55" stroke-opacity="0.25"/><line x1="110" y1="0" x2="110" y2="55" stroke-opacity="0.15"/><line x1="148" y1="0" x2="148" y2="55" stroke-opacity="0.20"/><line x1="165" y1="0" x2="165" y2="55" stroke-opacity="0.20"/><line x1="33" y1="55" x2="33" y2="72" stroke-opacity="0.36"/><line x1="110" y1="55" x2="110" y2="72" stroke-opacity="0.15"/><line x1="148" y1="55" x2="148" y2="72" stroke-opacity="0.20"/><line x1="165" y1="55" x2="165" y2="72" stroke-opacity="0.34"/><line x1="33" y1="72" x2="33" y2="110" stroke-opacity="0.36"/><line x1="110" y1="72" x2="110" y2="110" stroke-opacity="0.15"/><line x1="148" y1="72" x2="148" y2="110" stroke-opacity="0.20"/><line x1="165" y1="72" x2="165" y2="110" stroke-opacity="0.33"/><line x1="33" y1="110" x2="33" y2="141" stroke-opacity="0.43"/><line x1="77" y1="110" x2="77" y2="141" stroke-opacity="0.04"/><line x1="110" y1="110" x2="110" y2="141" stroke-opacity="0.19"/><line x1="148" y1="110" x2="148" y2="141" stroke-opacity="0.20"/><line x1="165" y1="110" x2="165" y2="141" stroke-opacity="0.37"/><line x1="33" y1="141" x2="33" y2="186" stroke-opacity="0.42"/><line x1="110" y1="141" x2="110" y2="186" stroke-opacity="0.17"/><line x1="148" y1="141" x2="148" y2="186" stroke-opacity="0.20"/><line x1="165" y1="141" x2="165" y2="186" stroke-opacity="0.46"/><line x1="33" y1="186" x2="33" y2="220" stroke-opacity="0.25"/><line x1="110" y1="186" x2="110" y2="220" stroke-opacity="0.15"/><line x1="148" y1="186" x2="148" y2="220" stroke-opacity="0.20"/><line x1="165" y1="186" x2="165" y2="220" stroke-opacity="0.20"/><line x1="0" y1="55" x2="33" y2="55" stroke-opacity="0.35"/><line x1="33" y1="55" x2="77" y2="55" stroke-opacity="0.35"/><line x1="77" y1="55" x2="110" y2="55" stroke-opacity="0.35"/><line x1="110" y1="55" x2="148" y2="55" stroke-opacity="0.35"/><line x1="148" y1="55" x2="165" y2="55" stroke-opacity="0.35"/><line x1="165" y1="55" x2="220" y2="55" stroke-opacity="0.35"/><line x1="0" y1="72" x2="33" y2="72" stroke-opacity="0.30"/><line x1="33" y1="72" x2="77" y2="72" stroke-opacity="0.30"/><line x1="77" y1="72" x2="110" y2="72" stroke-opacity="0.30"/><line x1="110" y1="72" x2="148" y2="72" stroke-opacity="0.30"/><line x1="148" y1="72" x2="165" y2="72" stroke-opacity="0.30"/><line x1="165" y1="72" x2="220" y2="72" stroke-opacity="0.30"/><line x1="0" y1="110" x2="33" y2="110" stroke-opacity="0.20"/><line x1="33" y1="110" x2="77" y2="110" stroke-opacity="0.20"/><line x1="77" y1="110" x2="110" y2="110" stroke-opacity="0.20"/><line x1="110" y1="110" x2="148" y2="110" stroke-opacity="0.20"/><line x1="148" y1="110" x2="165" y2="110" stroke-opacity="0.20"/><line x1="165" y1="110" x2="220" y2="110" stroke-opacity="0.20"/><line x1="0" y1="141" x2="33" y2="141" stroke-opacity="0.07"/><line x1="33" y1="141" x2="77" y2="141" stroke-opacity="0.08"/><line x1="77" y1="141" x2="110" y2="141" stroke-opacity="0.05"/><line x1="165" y1="141" x2="220" y2="141" stroke-opacity="0.11"/><line x1="0" y1="186" x2="33" y2="186" stroke-opacity="0.44"/><line x1="33" y1="186" x2="77" y2="186" stroke-opacity="0.30"/><line x1="77" y1="186" x2="110" y2="186" stroke-opacity="0.30"/><line x1="110" y1="186" x2="148" y2="186" stroke-opacity="0.32"/><line x1="148" y1="186" x2="165" y2="186" stroke-opacity="0.30"/><line x1="165" y1="186" x2="220" y2="186" stroke-opacity="0.49"/></g><rect x="0" y="0" width="220" height="220" fill="none" stroke="#102838" stroke-width="2" vector-effect="non-scaling-stroke"/></svg>
<div class="tk" style="left:299.43px;top:242.80px"></div><div class="xl" style="left:289.68px;top:245.50px">50</div><div class="tk" style="left:322.11px;top:242.80px"></div><div class="xl" style="left:312.36px;top:245.50px">100</div><div class="tk" style="left:344.80px;top:242.80px"></div><div class="xl" style="left:335.05px;top:245.50px">150</div><div class="tk" style="left:367.48px;top:242.80px"></div><div class="xl" style="left:357.73px;top:245.50px">200</div><div class="tky" style="left:275.00px;top:220.80px"></div><div class="yl" style="left:254.30px;top:218.45px">50</div><div class="tky" style="left:275.00px;top:199.05px"></div><div class="yl" style="left:254.30px;top:196.70px">100</div><div class="tky" style="left:275.00px;top:177.30px"></div><div class="yl" style="left:254.30px;top:174.95px">150</div><div class="tky" style="left:275.00px;top:155.55px"></div><div class="yl" style="left:254.30px;top:153.20px">200</div><div class="xa" style="left:316.90px;top:254.10px">X</div><div class="ya" style="left:250.60px;top:191.45px">Y</div><div class="cap" style="left:287.65px;top:263.70px">(g) GPM</div>
<svg class="pl" style="left:403.00px;top:147.80px;width:100.10px;height:95.70px" viewBox="0 0 220 220" preserveAspectRatio="none"><linearGradient id="gh00" gradientUnits="userSpaceOnUse" x1="0" y1="0" x2="33" y2="0"><stop offset="0" stop-color="#00e4eb"/><stop offset="0.5" stop-color="#00bff9"/><stop offset="1" stop-color="#0091f9"/></linearGradient><rect x="0" y="0" width="36" height="58" fill="url(#gh00)"/><linearGradient id="gh01" gradientUnits="userSpaceOnUse" x1="0" y1="0" x2="0" y2="55"><stop offset="0" stop-color="#0024ef"/><stop offset="0.5" stop-color="#002ef2"/><stop offset="1" stop-color="#0039f6"/></linearGradient><rect x="33" y="0" width="47" height="58" fill="url(#gh01)"/><linearGradient id="gh02" gradientUnits="userSpaceOnUse" x1="0" y1="0" x2="0" y2="55"><stop offset="0" stop-color="#0031f3"/><stop offset="0.5" stop-color="#003cf6"/><stop offset="1" stop-color="#0047f9"/></linearGradient><rect x="77" y="0" width="36" height="58" fill="url(#gh02)"/><linearGradient id="gh03" gradientUnits="userSpaceOnUse" x1="0" y1="0" x2="0" y2="55"><stop offset="0" stop-color="#004af9"/><stop offset="0.5" stop-color="#005af9"/><stop offset="1" stop-color="#0071f9"/></linearGradient><rect x="110" y="0" width="41" height="58" fill="url(#gh03)"/><linearGradient id="gh04" gradientUnits="userSpaceOnUse" x1="0" y1="0" x2="0" y2="55"><stop offset="0" stop-color="#0031f3"/><stop offset="0.5" stop-color="#003cf6"/><stop offset="1" stop-color="#0047f9"/></linearGradient><rect x="148" y="0" width="20" height="58" fill="url(#gh04)"/><linearGradient id="gh05" gradientUnits="userSpaceOnUse" x1="165" y1="0" x2="220" y2="0"><stop offset="0" stop-color="#0099f9"/><stop offset="0.5" stop-color="#00c7f9"/><stop offset="1" stop-color="#00e5e2"/></linearGradient><rect x="165" y="0" width="58" height="58" fill="url(#gh05)"/><linearGradient id="gh10" gradientUnits="userSpaceOnUse" x1="0" y1="0" x2="33" y2="0"><stop offset="0" stop-color="#00df06"/><stop offset="0.5" stop-color="#00e71c"/><stop offset="1" stop-color="#00ee35"/></linearGradient><rect x="0" y="55" width="36" height="20" fill="url(#gh10)"/><rect x="33" y="55" width="47" height="20" fill="#00c7f9"/><rect x="77" y="55" width="36" height="20" fill="#00c7f9"/><rect x="110" y="55" width="41" height="20" fill="#00ed2f"/><rect x="148" y="55" width="20" height="20" fill="#00bff9"/><linearGradient id="gh15" gradientUnits="userSpaceOnUse" x1="165" y1="0" x2="220" y2="0"><stop offset="0" stop-color="#00e20d"/><stop offset="0.5" stop-color="#09df00"/><stop offset="1" stop-color="#1ce300"/></linearGradient><rect x="165" y="55" width="58" height="20" fill="url(#gh15)"/><linearGradient id="gh20" gradientUnits="userSpaceOnUse" x1="0" y1="0" x2="33" y2="0"><stop offset="0" stop-color="#00e518"/><stop offset="0.5" stop-color="#00ed2f"/><stop offset="1" stop-color="#00f257"/></linearGradient><rect x="0" y="72" width="36" height="41" fill="url(#gh20)"/><rect x="33" y="72" width="47" height="41" fill="#0043f9"/><rect x="77" y="72" width="36" height="41" fill="#005af9"/><rect x="110" y="72" width="41" height="41" fill="#00cef9"/><rect x="148" y="72" width="20" height="41" fill="#004af9"/><linearGradient id="gh25" gradientUnits="userSpaceOnUse" x1="165" y1="0" x2="220" y2="0"><stop offset="0" stop-color="#00f14d"/><stop offset="0.5" stop-color="#00eb29"/><stop offset="1" stop-color="#00e413"/></linearGradient><rect x="165" y="72" width="58" height="41" fill="url(#gh25)"/><linearGradient id="gh30" gradientUnits="userSpaceOnUse" x1="0" y1="0" x2="33" y2="0"><stop offset="0" stop-color="#0cdf00"/><stop offset="0.5" stop-color="#00e00a"/><stop offset="1" stop-color="#00e820"/></linearGradient><rect x="0" y="110" width="36" height="34" fill="url(#gh30)"/><rect x="33" y="110" width="47" height="34" fill="#00a0f9"/><rect x="77" y="110" width="36" height="34" fill="#00c7f9"/><rect x="110" y="110" width="41" height="34" fill="#00ef3e"/><rect x="148" y="110" width="20" height="34" fill="#00cef9"/><linearGradient id="gh35" gradientUnits="userSpaceOnUse" x1="165" y1="0" x2="220" y2="0"><stop offset="0" stop-color="#00e20d"/><stop offset="0.5" stop-color="#09df00"/><stop offset="1" stop-color="#1ce300"/></linearGradient><rect x="165" y="110" width="58" height="34" fill="url(#gh35)"/><linearGradient id="gh40" gradientUnits="userSpaceOnUse" x1="0" y1="0" x2="33" y2="0"><stop offset="0" stop-color="#35e800"/><stop offset="0.5" stop-color="#21e400"/><stop offset="1" stop-color="#0ee000"/></linearGradient><rect x="0" y="141" width="36" height="48" fill="url(#gh40)"/><rect x="33" y="141" width="47" height="48" fill="#00e3f4"/><rect x="77" y="141" width="36" height="48" fill="#00e5e2"/><rect x="110" y="141" width="41" height="48" fill="#00f150"/><rect x="148" y="141" width="20" height="48" fill="#00e3f4"/><linearGradient id="gh45" gradientUnits="userSpaceOnUse" x1="165" y1="0" x2="220" y2="0"><stop offset="0" stop-color="#37e800"/><stop offset="0.5" stop-color="#7fef00"/><stop offset="1" stop-color="#cdf200"/></linearGradient><rect x="165" y="141" width="58" height="48" fill="url(#gh45)"/><linearGradient id="gh50" gradientUnits="userSpaceOnUse" x1="0" y1="0" x2="33" y2="0"><stop offset="0" stop-color="#00e5e2"/><stop offset="0.5" stop-color="#00c7f9"/><stop offset="1" stop-color="#0099f9"/></linearGradient><rect x="0" y="186" width="36" height="37" fill="url(#gh50)"/><linearGradient id="gh51" gradientUnits="userSpaceOnUse" x1="0" y1="186" x2="0" y2="220"><stop offset="0" stop-color="#0039f6"/><stop offset="0.5" stop-color="#002ef2"/><stop offset="1" stop-color="#0024ef"/></linearGradient><rect x="33" y="186" width="47" height="37" fill="url(#gh51)"/><linearGradient id="gh52" gradientUnits="userSpaceOnUse" x1="0" y1="186" x2="0" y2="220"><stop offset="0" stop-color="#0040f8"/><stop offset="0.5" stop-color="#0036f5"/><stop offset="1" stop-color="#002bf2"/></linearGradient><rect x="77" y="186" width="36" height="37" fill="url(#gh52)"/><linearGradient id="gh53" gradientUnits="userSpaceOnUse" x1="0" y1="186" x2="0" y2="220"><stop offset="0" stop-color="#006cf9"/><stop offset="0.5" stop-color="#0054f9"/><stop offset="1" stop-color="#0047f9"/></linearGradient><rect x="110" y="186" width="41" height="37" fill="url(#gh53)"/><linearGradient id="gh54" gradientUnits="userSpaceOnUse" x1="0" y1="186" x2="0" y2="220"><stop offset="0" stop-color="#0047f9"/><stop offset="0.5" stop-color="#003cf6"/><stop offset="1" stop-color="#0031f3"/></linearGradient><rect x="148" y="186" width="20" height="37" fill="url(#gh54)"/><linearGradient id="gh55" gradientUnits="userSpaceOnUse" x1="165" y1="0" x2="220" y2="0"><stop offset="0" stop-color="#0099f9"/><stop offset="0.5" stop-color="#00c7f9"/><stop offset="1" stop-color="#00e5e2"/></linearGradient><rect x="165" y="186" width="58" height="37" fill="url(#gh55)"/><ellipse cx="210" cy="165" rx="8" ry="17" fill="#f7d900"/><ellipse cx="14" cy="162" rx="6" ry="16" fill="#5cec00"/><rect x="166" y="142" width="53" height="43" fill="url(#pv)" opacity="0.60"/><path d="M46.3 0.0L46.9 9.0 48.4 15.0 51.0 18.8 55.0 20.5 59.0 18.8 61.6 15.0 63.1 9.0 63.7 0.0M61.1 50.0L62.6 49.0 63.2 47.0 60.5 38.0 56.0 34.6 52.0 35.4 48.0 41.1 46.8 47.0 47.4 49.0 54.0 50.9 61.1 50.0M58.2 198.0L62.0 194.5 62.1 191.0 55.0 189.5 47.9 191.0 47.7 194.0 51.0 197.6 55.0 198.7 58.2 198.0M63.7 220.0L63.2 215.0 61.7 211.0 59.0 208.4 55.0 207.3 51.0 208.4 48.3 211.0 46.8 215.0 46.3 220.0M35.0 0.0L34.3 29.0 35.4 50.0 38.0 52.0 55.0 53.5 72.8 52.0 80.0 50.2 88.0 52.3 95.0 52.8 100.7 52.0 105.6 50.0 106.9 47.0 108.7 29.0 106.5 0.0M150.1 0.0L148.3 27.0 149.9 47.0 151.4 51.0 156.0 52.9 159.7 52.0 161.3 49.0 161.3 0.0M62.4 107.0L67.9 104.0 72.7 93.0 72.4 88.0 67.5 77.0 64.0 75.0 57.0 73.9 50.0 74.2 43.6 76.0 41.9 78.0 38.7 90.0 39.0 95.2 42.1 104.0 44.7 106.0 50.0 107.4 56.0 107.8 62.4 107.0M156.4 88.0L158.0 85.4 159.0 78.0 158.1 75.0 156.0 74.5 153.7 76.0 153.4 79.0 154.2 85.0 155.0 87.1 156.4 88.0M157.7 106.0L158.8 104.0 158.7 101.0 158.0 96.6 156.0 93.8 154.0 97.8 153.5 104.0 155.0 106.0 157.7 106.0M107.8 220.0L109.7 202.0 108.4 193.0 107.0 190.0 96.0 187.5 79.0 189.1 55.0 186.9 39.0 188.1 35.5 190.0 34.4 202.0 35.1 220.0M161.3 220.0L161.2 191.0 159.0 188.0 156.0 187.6 150.6 190.0 148.7 197.0 148.1 204.0 150.0 220.0M130.1 220.0L129.0 218.5 127.9 220.0M32.9 0.0L32.4 31.0 33.5 51.0 35.3 53.0 38.0 54.0 55.0 55.5 79.0 53.5 96.0 55.1 105.0 53.5 114.0 50.0 129.0 51.4 144.0 50.2 155.0 55.2 159.0 54.8 162.3 52.0 163.5 48.0 163.5 0.0M60.8 111.0L73.0 108.7 79.0 106.7 94.0 108.8 105.0 106.4 106.6 103.0 107.3 92.0 106.5 78.0 105.4 75.0 96.0 72.3 90.0 72.4 80.0 74.5 56.0 71.1 37.0 73.7 35.8 77.0 35.5 91.0 35.9 105.0 37.0 108.0 52.0 111.5 60.8 111.0M158.0 109.0L160.0 107.9 161.2 105.0 161.2 77.0 160.0 72.8 156.0 71.1 151.7 73.0 149.7 76.0 149.0 97.3 149.5 104.0 150.8 107.0 154.0 108.8 158.0 109.0M163.5 220.0L163.4 191.0 162.0 188.0 159.0 186.2 154.0 186.1 144.0 189.4 129.0 188.2 114.0 189.5 105.8 187.0 96.0 185.9 79.0 186.9 55.0 185.2 38.0 186.5 33.8 189.0 32.6 200.0 33.1 220.0M31.4 0.0L30.5 27.0 31.3 48.0 32.7 52.0 36.0 54.8 53.0 57.7 78.0 55.1 94.0 57.6 104.0 55.5 113.0 52.0 143.0 52.1 147.0 52.8 156.0 58.1 160.0 56.3 163.8 52.0 164.9 49.0 165.9 28.0 165.0 0.0M61.2 139.0L68.2 136.0 72.7 129.0 73.0 122.8 69.7 116.0 71.2 113.0 77.0 109.9 80.0 109.5 95.0 112.3 105.0 109.4 108.1 107.0 109.2 104.0 109.8 95.0 109.3 79.0 108.6 75.0 106.0 72.0 95.0 69.1 79.0 71.5 55.0 68.8 40.0 70.7 36.0 72.1 34.6 77.0 34.6 104.0 35.6 109.0 40.4 115.0 38.0 124.0 39.0 131.5 41.8 136.0 45.3 138.0 53.0 139.6 61.2 139.0M159.1 111.0L161.0 109.0 162.3 105.0 162.3 76.0 160.0 70.2 156.0 68.3 150.1 72.0 147.7 76.0 146.8 90.0 147.4 103.0 148.0 106.2 151.0 109.4 156.0 112.0 159.1 111.0M165.0 220.0L165.9 203.0 165.0 191.0 162.5 187.0 158.0 184.0 155.0 184.0 144.0 187.7 129.0 187.0 114.0 187.7 96.0 184.2 78.0 185.6 55.0 183.6 37.0 185.5 32.4 189.0 30.9 201.0 31.6 220.0M3.9 0.0L3.0 7.1 2.0 9.3 0.0 10.7M175.4 0.0L174.3 10.0 171.0 15.9 169.0 13.8 167.6 0.0M220.0 19.1L215.0 17.4 212.0 13.6 210.2 8.0 209.6 0.0M0.0 44.3L4.5 49.0 9.6 51.0 18.0 51.7 29.0 50.2 38.3 59.0 37.9 67.0 34.7 72.0 33.8 77.0 33.8 104.0 35.7 114.0 36.0 137.0 38.0 140.0 45.2 142.0 55.0 146.6 64.8 142.0 75.0 139.2 80.0 133.0 82.0 134.0 84.9 138.0 92.0 141.9 97.0 141.3 102.9 137.0 104.7 127.0 104.1 114.0 111.1 105.0 113.9 92.0 111.5 77.0 104.6 67.0 104.5 59.0 106.7 56.0 111.0 53.4 114.0 53.0 144.0 53.1 148.9 55.0 151.3 59.0 151.3 67.0 150.2 70.0 145.2 77.0 142.5 92.0 145.5 105.0 152.4 114.0 152.8 137.0 156.0 146.0 157.0 145.7 159.4 138.0 158.9 125.0 159.6 116.0 163.1 105.0 163.1 76.0 160.6 67.0 160.5 60.0 161.8 56.0 167.4 49.0 170.0 39.3 172.1 40.0 174.9 47.0 176.8 49.0 187.0 51.0 197.7 51.0 208.2 49.0 210.1 47.0 211.7 42.0 214.0 38.5 217.0 36.5 220.0 35.9M79.0 60.3L75.0 60.4 73.5 59.0 78.0 58.2 79.9 59.0 79.0 60.3M133.6 106.0L137.9 104.0 138.6 102.0 139.3 91.0 138.4 78.0 136.6 76.0 133.0 75.0 126.0 74.9 121.4 76.0 119.6 78.0 119.3 80.0 118.8 91.0 119.6 103.0 121.4 105.0 124.4 106.0 133.6 106.0M81.0 118.0L79.2 117.0 78.4 115.0 80.0 113.0 82.3 115.0 81.0 118.0M220.0 197.8L215.0 196.7 207.6 191.0 196.0 189.4 185.0 189.7 177.4 191.0 172.0 195.4 170.0 195.7 166.6 190.0 157.0 179.9 156.0 179.8 149.6 185.0 145.0 186.5 114.0 186.7 95.0 182.1 77.0 184.4 67.0 183.0 55.0 179.5 37.0 184.2 28.0 191.7 19.0 189.2 9.4 190.0 6.1 192.0 3.0 196.7 0.0 197.8M0.0 208.2L3.0 209.3 5.0 212.0 6.3 220.0M209.6 220.0L210.2 215.0 212.0 211.6 215.0 209.3 220.0 208.2M167.6 220.0L169.0 211.5 171.0 210.1 174.4 214.0 175.4 220.0M27.6 220.0L28.0 217.9 28.1 220.0M0.0 51.6L16.0 53.0 29.0 52.2 32.0 53.9 34.6 57.0 35.0 68.0 33.1 77.0 33.1 105.0 34.5 113.0 34.7 137.0 38.6 146.0 36.9 163.0 38.4 179.0 36.2 183.0 29.0 188.5 15.0 187.9 0.0 189.2M220.0 189.4L195.0 188.2 171.0 189.2 167.0 188.6 162.5 185.0 160.8 182.0 160.2 164.0 161.5 114.0 163.8 103.0 163.8 76.0 162.0 67.0 162.8 56.0 166.0 52.4 169.0 51.3 193.0 52.4 220.0 51.0M144.0 74.2L129.0 73.0 115.0 74.5 112.0 73.9 107.5 69.0 107.7 57.0 110.0 54.5 114.0 53.8 147.0 54.5 149.5 58.0 149.5 68.0 147.0 72.4 144.0 74.2M147.0 185.4L142.0 185.9 129.0 184.9 112.0 185.8 107.5 184.0 102.6 180.0 103.1 163.0 102.2 146.0 106.8 137.0 107.2 113.0 108.7 110.0 112.0 107.2 115.0 106.7 130.0 108.1 143.0 106.8 147.0 108.7 149.6 112.0 150.0 131.3 151.3 145.0 151.3 179.0 150.0 183.0 147.0 185.4M81.0 182.2L76.1 182.0 73.9 181.0 72.8 179.0 77.5 168.0 78.5 163.0 72.2 146.0 73.2 144.0 79.0 141.0 83.4 143.0 84.8 147.0 83.3 163.0 84.6 179.0 83.6 181.0 81.0 182.2M0.0 52.9L16.0 53.9 29.0 53.3 32.0 54.5 33.5 57.0 33.9 68.0 32.7 75.0 32.3 96.0 33.7 114.0 33.8 136.0 35.7 146.0 35.6 180.0 33.3 185.0 28.0 187.6 16.0 187.0 0.0 187.9M220.0 188.3L193.0 187.5 170.0 188.1 165.0 186.6 162.6 184.0 161.6 181.0 161.5 147.0 162.5 114.0 164.3 104.0 164.3 76.0 162.8 67.0 162.8 59.0 164.2 55.0 167.0 52.9 170.0 52.4 193.0 53.2 220.0 52.3M145.0 72.5L129.0 71.9 112.0 72.6 109.5 71.0 108.5 68.0 108.9 57.0 110.1 55.0 113.0 54.4 128.0 55.5 142.0 54.4 146.8 55.0 148.5 59.0 148.4 68.0 147.4 71.0 145.0 72.5M146.0 185.0L129.0 184.0 113.0 185.3 110.0 184.7 107.5 182.0 106.8 145.0 108.4 133.0 108.4 114.0 109.6 110.0 112.0 108.6 129.0 109.6 143.0 108.3 147.0 109.6 148.3 112.0 149.5 144.0 149.4 180.0 148.4 183.0 146.0 185.0M0.0 53.8L16.0 55.2 28.0 54.1 31.0 54.7 32.4 56.0 33.0 68.0 31.7 94.0 33.0 113.0 33.1 136.0 34.6 146.0 34.6 180.0 32.7 185.0 28.0 186.9 0.0 187.1M220.0 187.5L193.0 186.8 170.0 187.4 165.0 186.0 163.3 184.0 162.3 181.0 162.2 146.0 163.2 134.0 163.2 114.0 164.7 106.0 165.2 94.0 164.7 76.0 163.5 67.0 163.5 59.0 164.7 55.0 170.0 53.3 193.0 54.0 220.0 53.2M146.0 71.2L142.0 71.8 129.0 70.4 116.0 71.9 111.0 71.3 109.4 68.0 109.6 57.0 111.0 55.4 113.0 54.9 129.0 56.3 145.0 55.1 147.0 56.3 147.6 59.0 147.5 68.0 146.0 71.2M146.0 184.1L142.0 184.5 129.0 182.9 113.0 184.6 109.6 183.0 108.7 180.0 108.6 144.0 109.6 127.0 109.3 114.0 111.0 109.9 116.0 109.3 130.0 110.9 143.0 109.3 147.1 111.0 147.8 115.0 148.0 180.0 147.3 183.0 146.0 184.1M220.0 186.9L170.0 186.8 165.0 185.6 163.4 183.0 162.9 180.0 162.9 146.0 164.0 133.0 163.9 114.0 165.9 94.0 164.2 68.0 165.0 55.3 170.0 54.0 193.0 55.2 220.0 53.9M0.0 54.4L16.0 56.1 29.0 54.8 32.0 56.6 32.4 69.0 30.9 93.0 32.5 113.0 32.6 136.0 33.8 146.0 33.8 180.0 32.2 185.0 28.0 186.2 16.0 185.6 0.0 186.5M144.0 71.0L129.0 69.4 112.0 70.8 110.2 68.0 110.1 58.0 111.8 56.0 114.0 55.6 129.0 57.3 145.0 56.0 146.8 58.0 146.7 68.0 145.9 70.0 144.0 71.0M145.0 183.3L140.0 183.2 129.0 180.7 115.0 183.7 112.0 183.4 110.2 182.0 110.7 162.0 109.7 143.0 110.7 125.0 110.0 114.0 112.0 110.5 115.0 110.1 129.0 112.6 143.0 110.2 146.5 112.0 147.2 140.0 146.1 164.0 147.0 180.0 146.6 182.0 145.0 183.3M0.0 54.9L16.0 57.2 28.0 55.5 31.2 57.0 31.7 69.0 29.9 92.0 30.6 105.0 32.1 112.0 31.6 128.0 33.1 146.0 33.1 180.0 32.0 184.5 28.0 185.7 16.0 184.7 0.0 185.9M220.0 186.4L193.0 185.7 170.0 186.3 165.0 185.2 163.4 180.0 163.4 146.0 164.6 129.0 164.4 113.0 166.0 105.0 166.8 93.0 166.0 76.0 164.7 69.0 165.3 56.0 169.0 54.5 193.0 55.9 220.0 54.4M115.0 70.1L113.0 70.0 111.4 68.0 111.1 59.0 112.1 57.0 116.0 56.6 128.0 58.8 142.0 56.7 144.0 56.8 145.5 58.0 145.5 68.0 144.0 69.8 129.0 67.8 115.0 70.1M144.0 182.0L141.0 181.8 138.4 180.0 135.5 165.0 137.5 152.0 137.5 143.0 133.0 134.3 129.0 132.5 126.0 133.4 124.4 135.0 120.3 144.0 120.6 153.0 122.6 164.0 120.1 179.0 118.7 181.0 116.6 182.0 113.0 182.2 111.6 181.0 113.0 163.0 111.0 143.9 112.1 126.0 111.2 115.0 111.5 113.0 113.0 111.5 120.6 113.0 126.0 117.6 129.0 118.5 132.0 117.6 135.7 114.0 139.9 112.0 144.0 111.6 145.5 113.0 144.9 126.0 146.0 140.0 143.7 163.0 145.3 180.0 144.0 182.0M220.0 185.9L193.0 184.8 170.0 185.9 165.3 185.0 163.9 180.0 163.9 146.0 165.3 127.0 164.9 112.0 166.8 106.0 168.2 92.0 166.9 76.0 165.2 69.0 165.2 58.0 166.0 56.2 169.0 54.9 193.0 56.7 220.0 54.8M0.0 55.8L15.0 58.8 28.0 56.5 30.4 58.0 30.7 70.0 27.5 92.0 29.3 105.0 31.3 112.0 30.9 128.0 32.7 146.0 32.6 180.0 31.7 184.0 29.0 185.2 16.0 184.1 0.0 185.6M116.0 68.0L114.0 68.1 113.3 67.0 113.0 59.0 114.0 58.1 117.9 59.0 121.3 63.0 119.6 66.0 116.0 68.0M143.0 67.6L139.8 67.0 136.8 64.0 138.7 60.0 142.0 58.5 143.6 59.0 143.8 60.0 143.0 67.6M18.6 110.0L23.0 107.0 24.1 105.0 23.1 91.0 24.3 77.0 23.7 74.0 21.8 71.0 19.0 69.2 16.0 68.8 12.0 70.3 8.9 75.0 9.9 91.0 8.8 104.0 10.0 107.0 14.0 109.7 18.6 110.0M195.3 86.0L199.0 84.3 201.7 81.0 202.8 77.0 201.7 75.0 198.0 73.4 193.0 72.8 188.0 73.2 183.3 75.0 182.3 78.0 185.0 83.4 190.0 86.1 195.3 86.0M195.7 108.0L199.7 107.0 202.3 105.0 202.0 101.6 199.0 97.7 195.0 95.9 191.0 95.7 187.0 97.1 184.0 99.8 182.5 104.0 183.5 106.0 189.0 108.0 195.7 108.0M115.0 117.1L114.0 116.5 114.0 114.0 115.9 115.0 115.0 117.1M115.0 140.6L113.3 140.0 113.0 138.0 114.0 134.3 115.0 133.9 116.4 137.0 115.0 140.6M143.0 139.2L141.9 137.0 143.0 135.9 143.0 139.2M220.0 82.1L215.0 80.6 211.2 76.0 208.3 74.0 200.0 71.0 194.0 70.1 187.0 70.6 179.1 73.0 175.0 75.0 171.0 79.2 170.0 79.0 166.2 71.0 165.9 68.0 166.0 58.0 168.0 55.8 193.0 57.7 220.0 55.3M0.0 57.0L7.0 59.0 9.0 64.0 6.6 71.0 2.0 76.8 0.0 77.9M28.0 71.4L25.9 70.0 24.1 64.0 25.2 60.0 27.0 58.7 28.0 58.7 28.4 60.0 27.6 64.0 29.1 69.0 28.0 71.4M220.0 185.6L194.0 184.3 171.0 185.6 166.0 184.9 164.3 181.0 164.3 146.0 166.1 127.0 165.6 112.0 170.0 102.9 171.0 102.8 176.7 107.0 184.8 110.0 194.0 111.2 208.3 107.0 215.7 101.0 220.0 99.9M0.0 103.9L16.0 115.6 18.0 115.3 27.0 108.2 29.9 110.0 30.6 114.0 29.9 128.0 32.3 145.0 32.2 180.0 31.0 183.8 28.0 184.8 15.0 183.4 0.0 185.2M220.0 73.6L193.0 67.7 186.0 68.4 170.0 72.8 167.3 71.0 166.8 68.0 166.9 58.0 169.0 56.5 193.0 59.5 220.0 56.1M220.0 185.3L194.0 183.8 171.0 185.2 166.0 184.3 164.6 180.0 164.6 146.0 167.1 127.0 166.3 113.0 168.0 109.2 171.0 108.3 177.0 109.7 189.0 115.9 193.0 116.6 196.0 115.9 207.0 110.0 220.0 107.5M0.0 109.0L4.7 110.0 7.6 113.0 8.6 136.0 11.1 139.0 16.0 141.3 18.4 141.0 21.9 139.0 24.4 136.0 25.1 114.0 27.0 111.3 28.9 112.0 29.1 116.0 27.2 127.0 31.7 145.0 31.1 163.0 31.7 180.0 30.8 183.0 28.0 184.1 16.0 182.3 0.0 184.7M195.0 136.0L193.0 134.8 190.0 136.0 192.0 136.6 195.0 136.0M173.0 70.1L170.0 70.7 168.2 69.0 169.3 64.0 168.4 60.0 169.0 58.0 175.7 59.0 177.6 61.0 177.3 67.0 173.0 70.1M220.0 71.4L214.9 71.0 209.7 69.0 207.7 67.0 207.3 62.0 209.3 59.0 220.0 57.3M220.0 185.0L194.0 183.2 171.0 184.8 166.5 184.0 165.0 181.0 164.9 145.0 169.3 126.0 167.4 114.0 169.0 110.4 173.9 111.0 177.9 114.0 177.7 126.0 179.4 136.0 185.0 138.7 193.0 139.6 201.0 138.5 205.6 136.0 207.3 126.0 207.1 114.0 211.1 111.0 220.0 109.6M0.0 112.3L2.0 114.0 0.0 115.4M0.0 135.1L3.0 136.2 16.0 145.8 28.0 138.7 30.3 141.0 31.0 145.0 30.2 163.0 30.9 180.0 30.0 182.7 26.0 183.1 16.0 180.0 7.7 183.0 0.0 184.1M220.0 115.8L217.1 115.0 216.4 114.0 217.2 113.0 220.0 112.5M220.0 184.6L193.0 182.3 171.0 184.3 167.0 183.7 165.5 180.0 166.0 163.0 165.4 145.0 166.0 140.9 170.0 136.3 185.6 141.0 193.0 141.9 199.4 141.0 220.0 134.8M0.0 139.3L5.0 140.5 8.5 143.0 11.7 155.0 14.0 158.1 16.0 159.1 19.0 158.1 21.0 155.7 23.5 145.0 25.0 142.6 27.0 141.2 29.0 141.5 30.1 146.0 28.8 163.0 30.0 180.0 29.0 182.0 27.0 182.2 24.4 181.0 20.8 171.0 19.0 168.9 16.0 167.9 12.0 171.3 8.6 181.0 4.0 182.9 0.0 183.3M220.0 184.0L206.7 183.0 193.0 180.6 172.0 183.7 167.1 183.0 166.0 180.0 166.7 163.0 165.9 145.0 166.8 141.0 170.0 139.0 193.0 144.6 208.0 140.2 220.0 138.4M0.0 141.2L4.6 143.0 5.8 146.0 4.0 153.4 2.0 155.7 0.0 156.3M0.0 170.7L2.0 171.3 4.0 173.6 5.5 179.0 4.5 181.0 0.0 182.1M220.0 183.4L212.5 183.0 203.7 181.0 201.1 179.0 198.0 174.6 193.0 172.5 187.8 174.0 181.3 181.0 172.5 183.0 168.0 182.7 166.7 180.0 167.7 163.0 166.6 146.0 168.0 140.9 171.0 140.4 176.0 141.4 182.7 145.0 187.0 152.4 190.0 154.1 193.0 154.5 198.0 152.4 202.3 145.0 204.9 143.0 211.0 140.9 220.0 140.1M172.0 182.0L168.9 182.0 167.7 180.0 170.1 163.0 167.6 145.0 168.0 142.9 170.0 141.8 176.4 144.0 177.7 147.0 176.8 155.0 174.2 163.0 177.0 173.0 177.4 179.0 175.6 181.0 172.0 182.0M220.0 182.6L212.0 181.8 209.4 181.0 207.6 179.0 208.0 173.0 210.8 163.0 208.2 155.0 207.3 147.0 207.8 145.0 210.2 143.0 220.0 141.1M220.0 150.9L216.0 149.4 214.0 146.0 215.4 144.0 220.0 143.1M220.0 181.0L216.0 180.2 215.2 179.0 217.0 176.9 220.0 176.1" fill="none" stroke="#0a2a3a" stroke-opacity="0.45" stroke-width="0.5" vector-effect="non-scaling-stroke"/><g stroke="#0a2020" stroke-width="1" vector-effect="non-scaling-stroke"><line x1="33" y1="0" x2="33" y2="55" stroke-opacity="0.25"/><line x1="110" y1="0" x2="110" y2="55" stroke-opacity="0.15"/><line x1="148" y1="0" x2="148" y2="55" stroke-opacity="0.20"/><line x1="165" y1="0" x2="165" y2="55" stroke-opacity="0.20"/><line x1="33" y1="55" x2="33" y2="72" stroke-opacity="0.34"/><line x1="110" y1="55" x2="110" y2="72" stroke-opacity="0.29"/><line x1="148" y1="55" x2="148" y2="72" stroke-opacity="0.30"/><line x1="165" y1="55" x2="165" y2="72" stroke-opacity="0.44"/><line x1="33" y1="72" x2="33" y2="110" stroke-opacity="0.43"/><line x1="110" y1="72" x2="110" y2="110" stroke-opacity="0.15"/><line x1="148" y1="72" x2="148" y2="110" stroke-opacity="0.20"/><line x1="165" y1="72" x2="165" y2="110" stroke-opacity="0.43"/><line x1="33" y1="110" x2="33" y2="141" stroke-opacity="0.43"/><line x1="77" y1="110" x2="77" y2="141" stroke-opacity="0.04"/><line x1="110" y1="110" x2="110" y2="141" stroke-opacity="0.27"/><line x1="148" y1="110" x2="148" y2="141" stroke-opacity="0.26"/><line x1="165" y1="110" x2="165" y2="141" stroke-opacity="0.42"/><line x1="33" y1="141" x2="33" y2="186" stroke-opacity="0.46"/><line x1="110" y1="141" x2="110" y2="186" stroke-opacity="0.19"/><line x1="148" y1="141" x2="148" y2="186" stroke-opacity="0.21"/><line x1="165" y1="141" x2="165" y2="186" stroke-opacity="0.57"/><line x1="33" y1="186" x2="33" y2="220" stroke-opacity="0.25"/><line x1="110" y1="186" x2="110" y2="220" stroke-opacity="0.15"/><line x1="148" y1="186" x2="148" y2="220" stroke-opacity="0.20"/><line x1="165" y1="186" x2="165" y2="220" stroke-opacity="0.20"/><line x1="0" y1="55" x2="33" y2="55" stroke-opacity="0.35"/><line x1="33" y1="55" x2="77" y2="55" stroke-opacity="0.35"/><line x1="77" y1="55" x2="110" y2="55" stroke-opacity="0.35"/><line x1="110" y1="55" x2="148" y2="55" stroke-opacity="0.40"/><line x1="148" y1="55" x2="165" y2="55" stroke-opacity="0.35"/><line x1="165" y1="55" x2="220" y2="55" stroke-opacity="0.43"/><line x1="0" y1="72" x2="33" y2="72" stroke-opacity="0.30"/><line x1="33" y1="72" x2="77" y2="72" stroke-opacity="0.30"/><line x1="77" y1="72" x2="110" y2="72" stroke-opacity="0.30"/><line x1="110" y1="72" x2="148" y2="72" stroke-opacity="0.30"/><line x1="148" y1="72" x2="165" y2="72" stroke-opacity="0.30"/><line x1="165" y1="72" x2="220" y2="72" stroke-opacity="0.30"/><line x1="0" y1="110" x2="33" y2="110" stroke-opacity="0.20"/><line x1="33" y1="110" x2="77" y2="110" stroke-opacity="0.20"/><line x1="77" y1="110" x2="110" y2="110" stroke-opacity="0.20"/><line x1="110" y1="110" x2="148" y2="110" stroke-opacity="0.26"/><line x1="148" y1="110" x2="165" y2="110" stroke-opacity="0.20"/><line x1="165" y1="110" x2="220" y2="110" stroke-opacity="0.20"/><line x1="0" y1="141" x2="33" y2="141" stroke-opacity="0.11"/><line x1="33" y1="141" x2="77" y2="141" stroke-opacity="0.08"/><line x1="77" y1="141" x2="110" y2="141" stroke-opacity="0.05"/><line x1="165" y1="141" x2="220" y2="141" stroke-opacity="0.18"/><line x1="0" y1="186" x2="33" y2="186" stroke-opacity="0.49"/><line x1="33" y1="186" x2="77" y2="186" stroke-opacity="0.30"/><line x1="77" y1="186" x2="110" y2="186" stroke-opacity="0.30"/><line x1="110" y1="186" x2="148" y2="186" stroke-opacity="0.36"/><line x1="148" y1="186" x2="165" y2="186" stroke-opacity="0.30"/><line x1="165" y1="186" x2="220" y2="186" stroke-opacity="0.61"/></g><rect x="0" y="0" width="220" height="220" fill="none" stroke="#102838" stroke-width="2" vector-effect="non-scaling-stroke"/></svg>
<div class="tk" style="left:425.50px;top:243.50px"></div><div class="xl" style="left:415.75px;top:246.20px">50</div><div class="tk" style="left:448.25px;top:243.50px"></div><div class="xl" style="left:438.50px;top:246.20px">100</div><div class="tk" style="left:471.00px;top:243.50px"></div><div class="xl" style="left:461.25px;top:246.20px">150</div><div class="tk" style="left:493.75px;top:243.50px"></div><div class="xl" style="left:484.00px;top:246.20px">200</div><div class="tky" style="left:401.00px;top:221.50px"></div><div class="yl" style="left:380.30px;top:219.15px">50</div><div class="tky" style="left:401.00px;top:199.75px"></div><div class="yl" style="left:380.30px;top:197.40px">100</div><div class="tky" style="left:401.00px;top:178.00px"></div><div class="yl" style="left:380.30px;top:175.65px">150</div><div class="tky" style="left:401.00px;top:156.25px"></div><div class="yl" style="left:380.30px;top:153.90px">200</div><div class="xa" style="left:443.05px;top:254.80px">X</div><div class="ya" style="left:376.60px;top:192.15px">Y</div><div class="cap" style="left:411.20px;top:263.90px">(h) HW</div>
<svg class="pl" style="left:27.80px;top:281.90px;width:100.20px;height:95.90px" viewBox="0 0 220 220" preserveAspectRatio="none"><linearGradient id="gi00" gradientUnits="userSpaceOnUse" x1="0" y1="0" x2="33" y2="0"><stop offset="0" stop-color="#00e2f9"/><stop offset="0.5" stop-color="#00b4f9"/><stop offset="1" stop-color="#0083f9"/></linearGradient><rect x="0" y="0" width="36" height="58" fill="url(#gi00)"/><linearGradient id="gi01" gradientUnits="userSpaceOnUse" x1="0" y1="0" x2="0" y2="55"><stop offset="0" stop-color="#000ce2"/><stop offset="0.5" stop-color="#0013ea"/><stop offset="1" stop-color="#001eed"/></linearGradient><rect x="33" y="0" width="47" height="58" fill="url(#gi01)"/><linearGradient id="gi02" gradientUnits="userSpaceOnUse" x1="0" y1="0" x2="0" y2="55"><stop offset="0" stop-color="#000ce2"/><stop offset="0.5" stop-color="#0013ea"/><stop offset="1" stop-color="#001eed"/></linearGradient><rect x="77" y="0" width="36" height="58" fill="url(#gi02)"/><linearGradient id="gi03" gradientUnits="userSpaceOnUse" x1="0" y1="0" x2="0" y2="55"><stop offset="0" stop-color="#0039f6"/><stop offset="0.5" stop-color="#0043f9"/><stop offset="1" stop-color="#0052f9"/></linearGradient><rect x="110" y="0" width="41" height="58" fill="url(#gi03)"/><linearGradient id="gi04" gradientUnits="userSpaceOnUse" x1="0" y1="0" x2="0" y2="55"><stop offset="0" stop-color="#000ce2"/><stop offset="0.5" stop-color="#0013ea"/><stop offset="1" stop-color="#001eed"/></linearGradient><rect x="148" y="0" width="20" height="58" fill="url(#gi04)"/><linearGradient id="gi05" gradientUnits="userSpaceOnUse" x1="165" y1="0" x2="220" y2="0"><stop offset="0" stop-color="#008ef9"/><stop offset="0.5" stop-color="#00bbf9"/><stop offset="1" stop-color="#00e4f0"/></linearGradient><rect x="165" y="0" width="58" height="58" fill="url(#gi05)"/><linearGradient id="gi10" gradientUnits="userSpaceOnUse" x1="0" y1="0" x2="33" y2="0"><stop offset="0" stop-color="#f75400"/><stop offset="0.5" stop-color="#f78700"/><stop offset="1" stop-color="#f7b800"/></linearGradient><rect x="0" y="55" width="36" height="20" fill="url(#gi10)"/><rect x="33" y="55" width="47" height="20" fill="#008ef9"/><rect x="77" y="55" width="36" height="20" fill="#00b4f9"/><rect x="110" y="55" width="41" height="20" fill="#31e700"/><rect x="148" y="55" width="20" height="20" fill="#00b4f9"/><linearGradient id="gi15" gradientUnits="userSpaceOnUse" x1="165" y1="0" x2="220" y2="0"><stop offset="0" stop-color="#f7b800"/><stop offset="0.5" stop-color="#f78700"/><stop offset="1" stop-color="#f75400"/></linearGradient><rect x="165" y="55" width="58" height="20" fill="url(#gi15)"/><linearGradient id="gi20" gradientUnits="userSpaceOnUse" x1="0" y1="0" x2="33" y2="0"><stop offset="0" stop-color="#00df06"/><stop offset="0.5" stop-color="#00e71c"/><stop offset="1" stop-color="#00ee35"/></linearGradient><rect x="0" y="72" width="36" height="41" fill="url(#gi20)"/><rect x="33" y="72" width="47" height="41" fill="#0031f3"/><rect x="77" y="72" width="36" height="41" fill="#003df7"/><rect x="110" y="72" width="41" height="41" fill="#00c7f9"/><rect x="148" y="72" width="20" height="41" fill="#0028f1"/><linearGradient id="gi25" gradientUnits="userSpaceOnUse" x1="165" y1="0" x2="220" y2="0"><stop offset="0" stop-color="#00ee35"/><stop offset="0.5" stop-color="#00e71c"/><stop offset="1" stop-color="#00df06"/></linearGradient><rect x="165" y="72" width="58" height="41" fill="url(#gi25)"/><linearGradient id="gi30" gradientUnits="userSpaceOnUse" x1="0" y1="0" x2="33" y2="0"><stop offset="0" stop-color="#f76900"/><stop offset="0.5" stop-color="#f79b00"/><stop offset="1" stop-color="#f7cd00"/></linearGradient><rect x="0" y="110" width="36" height="34" fill="url(#gi30)"/><rect x="33" y="110" width="47" height="34" fill="#007df9"/><rect x="77" y="110" width="36" height="34" fill="#00cef9"/><rect x="110" y="110" width="41" height="34" fill="#00e413"/><rect x="148" y="110" width="20" height="34" fill="#00cef9"/><linearGradient id="gi35" gradientUnits="userSpaceOnUse" x1="165" y1="0" x2="220" y2="0"><stop offset="0" stop-color="#f7e200"/><stop offset="0.5" stop-color="#f7b000"/><stop offset="1" stop-color="#f77e00"/></linearGradient><rect x="165" y="110" width="58" height="34" fill="url(#gi35)"/><linearGradient id="gi40" gradientUnits="userSpaceOnUse" x1="0" y1="0" x2="33" y2="0"><stop offset="0" stop-color="#e90000"/><stop offset="0.5" stop-color="#ef0c00"/><stop offset="1" stop-color="#f51900"/></linearGradient><rect x="0" y="141" width="36" height="48" fill="url(#gi40)"/><rect x="33" y="141" width="47" height="48" fill="#00e3f4"/><rect x="77" y="141" width="36" height="48" fill="#00eeb6"/><rect x="110" y="141" width="41" height="48" fill="#c1f200"/><rect x="148" y="141" width="20" height="48" fill="#00e9d0"/><linearGradient id="gi45" gradientUnits="userSpaceOnUse" x1="165" y1="0" x2="220" y2="0"><stop offset="0" stop-color="#f51900"/><stop offset="0.5" stop-color="#ef0c00"/><stop offset="1" stop-color="#e90000"/></linearGradient><rect x="165" y="141" width="58" height="48" fill="url(#gi45)"/><linearGradient id="gi50" gradientUnits="userSpaceOnUse" x1="0" y1="0" x2="33" y2="0"><stop offset="0" stop-color="#00e4f0"/><stop offset="0.5" stop-color="#00bbf9"/><stop offset="1" stop-color="#008ef9"/></linearGradient><rect x="0" y="186" width="36" height="37" fill="url(#gi50)"/><linearGradient id="gi51" gradientUnits="userSpaceOnUse" x1="0" y1="186" x2="0" y2="220"><stop offset="0" stop-color="#0019ec"/><stop offset="0.5" stop-color="#0010e6"/><stop offset="1" stop-color="#000ade"/></linearGradient><rect x="33" y="186" width="47" height="37" fill="url(#gi51)"/><linearGradient id="gi52" gradientUnits="userSpaceOnUse" x1="0" y1="186" x2="0" y2="220"><stop offset="0" stop-color="#0019ec"/><stop offset="0.5" stop-color="#0010e6"/><stop offset="1" stop-color="#000ade"/></linearGradient><rect x="77" y="186" width="36" height="37" fill="url(#gi52)"/><linearGradient id="gi53" gradientUnits="userSpaceOnUse" x1="0" y1="186" x2="0" y2="220"><stop offset="0" stop-color="#0047f9"/><stop offset="0.5" stop-color="#003cf6"/><stop offset="1" stop-color="#0031f3"/></linearGradient><rect x="110" y="186" width="41" height="37" fill="url(#gi53)"/><linearGradient id="gi54" gradientUnits="userSpaceOnUse" x1="0" y1="186" x2="0" y2="220"><stop offset="0" stop-color="#0019ec"/><stop offset="0.5" stop-color="#0010e6"/><stop offset="1" stop-color="#000ade"/></linearGradient><rect x="148" y="186" width="20" height="37" fill="url(#gi54)"/><linearGradient id="gi55" gradientUnits="userSpaceOnUse" x1="165" y1="0" x2="220" y2="0"><stop offset="0" stop-color="#0099f9"/><stop offset="0.5" stop-color="#00c7f9"/><stop offset="1" stop-color="#00e5e2"/></linearGradient><rect x="165" y="186" width="58" height="37" fill="url(#gi55)"/><rect x="1" y="56" width="31" height="15" fill="url(#ph)" opacity="1.00"/><rect x="166" y="56" width="53" height="15" fill="url(#ph)" opacity="1.00"/><rect x="1" y="111" width="31" height="29" fill="url(#pv)" opacity="1.00"/><rect x="166" y="111" width="53" height="29" fill="url(#pv)" opacity="1.00"/><rect x="1" y="142" width="31" height="43" fill="url(#pv)" opacity="1.00"/><rect x="111" y="142" width="36" height="43" fill="url(#pv)" opacity="0.80"/><rect x="166" y="142" width="53" height="43" fill="url(#pv)" opacity="1.00"/><path d="M47.0 0.0L47.6 8.0 49.0 13.2 52.0 17.1 55.0 18.1 58.0 17.1 61.0 13.2 62.4 8.0 63.0 0.0M87.5 0.0L89.0 13.2 91.0 16.8 93.0 18.0 96.0 16.8 98.0 13.2 99.5 0.0M153.5 0.0L154.0 11.4 156.0 17.8 157.0 17.7 158.0 15.4 159.1 0.0M60.6 50.0L61.9 49.0 62.4 47.0 60.0 40.0 56.0 37.0 52.0 37.9 48.6 43.0 48.1 49.0 54.0 50.9 60.6 50.0M97.1 50.0L99.0 48.0 98.0 41.8 96.0 38.2 93.0 37.0 89.8 40.0 88.0 48.0 91.0 50.2 97.1 50.0M158.1 50.0L158.9 48.0 158.2 41.0 157.0 37.3 156.0 37.2 154.5 41.0 153.8 48.0 155.0 50.2 158.1 50.0M66.6 220.0L67.1 211.0 69.2 203.0 66.8 193.0 65.5 191.0 63.3 190.0 55.0 189.0 46.7 190.0 44.5 191.0 43.2 193.0 40.9 203.0 42.9 211.0 43.4 220.0M102.2 220.0L103.4 203.0 102.3 193.0 101.0 191.0 99.0 190.1 94.0 189.5 88.3 190.0 86.0 191.0 84.7 193.0 82.8 203.0 84.4 211.0 84.8 220.0M160.0 220.0L159.8 192.0 159.0 190.0 156.0 189.3 153.7 190.0 152.4 192.0 152.3 220.0M35.4 0.0L34.7 29.0 35.7 50.0 39.0 52.3 55.0 53.8 78.0 51.7 97.0 53.1 104.3 52.0 107.0 50.5 108.2 48.0 109.1 31.0 108.1 0.0M148.9 0.0L147.9 27.0 148.9 48.0 151.0 51.6 156.0 53.2 160.0 52.3 162.0 49.0 162.0 0.0M158.3 106.0L159.4 103.0 159.4 77.0 158.6 75.0 156.0 74.2 153.8 75.0 152.5 78.0 152.5 103.0 154.2 106.0 158.3 106.0M58.1 81.0L60.4 78.0 59.5 76.0 54.0 75.1 49.7 77.0 50.0 79.0 53.0 81.6 56.0 81.8 58.1 81.0M55.8 106.0L59.3 105.0 60.0 104.0 58.1 101.0 54.0 100.2 50.8 102.0 50.0 104.0 50.7 105.0 55.8 106.0M108.9 220.0L109.9 200.0 109.1 192.0 107.0 189.4 96.0 187.7 78.0 188.7 55.0 187.1 39.0 188.1 35.5 190.0 34.5 201.0 35.0 220.0M162.2 220.0L162.1 191.0 160.0 188.1 156.0 187.4 150.2 189.0 147.9 192.0 147.0 203.0 148.1 220.0M33.4 0.0L33.0 30.0 33.7 50.0 35.9 53.0 38.0 54.2 55.0 55.8 78.0 53.7 94.0 54.9 105.0 53.6 111.5 49.0 114.0 39.2 115.0 38.2 116.2 40.0 117.8 47.0 120.3 49.0 129.0 50.1 137.7 49.0 140.3 47.0 142.0 40.7 143.0 41.1 144.8 48.0 149.0 52.0 155.0 54.7 160.0 53.9 162.8 51.0 163.6 48.0 163.6 0.0M117.8 0.0L117.0 12.0 115.0 16.8 113.0 12.3 112.0 0.0M144.8 0.0L144.0 10.5 143.0 13.9 142.0 14.3 140.6 9.0 140.2 0.0M60.4 110.0L72.0 107.9 80.0 104.4 88.0 107.0 93.0 107.5 99.0 107.0 104.0 105.2 105.1 103.0 106.1 92.0 104.3 76.0 100.5 74.0 93.0 73.0 86.5 74.0 80.0 76.7 73.0 73.6 56.0 71.1 47.0 71.8 38.0 73.8 36.8 76.0 36.2 87.0 37.0 106.1 39.0 108.0 48.0 109.8 60.4 110.0M159.3 108.0L161.2 104.0 161.1 76.0 159.7 73.0 156.0 71.9 152.0 73.1 149.8 76.0 149.5 103.0 150.2 106.0 152.0 107.6 156.0 108.6 159.3 108.0M163.6 220.0L163.6 192.0 162.7 189.0 160.0 186.9 152.0 186.9 143.0 190.9 129.0 189.7 114.0 191.0 107.0 187.8 102.3 187.0 79.0 187.3 55.0 185.9 38.0 186.8 34.3 189.0 33.0 197.8 33.4 220.0M32.1 0.0L31.5 29.0 32.5 50.0 36.0 54.6 39.0 56.5 55.0 59.2 78.0 55.1 92.0 56.5 98.0 56.2 105.0 54.9 111.0 51.4 114.0 50.8 144.0 50.9 154.0 56.1 159.0 55.9 163.3 52.0 164.8 48.0 164.7 0.0M61.0 137.0L63.2 136.0 64.3 134.0 60.8 125.0 63.7 120.0 65.2 115.0 67.4 113.0 79.0 108.4 95.0 109.8 105.0 108.2 107.6 106.0 108.8 95.0 108.4 79.0 108.0 76.0 105.8 73.0 94.0 70.4 79.0 72.1 56.0 67.5 47.0 68.4 39.0 70.3 37.0 71.6 35.4 75.0 35.0 82.9 35.1 103.0 36.0 108.0 38.0 110.8 44.0 114.0 49.2 125.0 46.0 131.9 45.9 135.0 49.0 137.0 52.0 137.5 61.0 137.0M158.6 110.0L161.0 108.1 162.1 105.0 162.2 77.0 160.0 71.4 156.0 69.9 151.0 72.0 148.1 76.0 147.8 103.0 148.4 106.0 151.0 108.7 155.0 110.3 158.6 110.0M164.7 220.0L164.6 191.0 162.9 188.0 159.0 185.5 154.0 185.4 144.0 189.0 114.0 189.1 103.0 186.2 79.0 186.3 55.0 184.5 38.0 185.7 33.1 189.0 32.1 192.0 31.6 200.0 32.2 220.0M11.7 0.0L13.0 10.0 16.0 13.7 18.0 13.2 20.0 10.0 21.3 0.0M30.3 0.0L29.3 27.0 30.3 48.0 36.6 57.0 37.1 59.0 37.0 68.0 34.4 76.0 34.1 91.0 34.4 105.0 36.8 114.0 37.0 136.3 39.4 139.0 55.0 141.3 71.1 139.0 74.7 137.0 76.1 128.0 75.5 114.0 77.0 110.9 81.0 110.0 92.0 112.1 97.0 111.8 106.0 109.4 109.8 105.0 110.8 89.0 109.0 74.6 104.0 69.7 97.0 67.2 92.0 66.9 81.0 69.7 78.0 69.4 76.6 67.0 76.8 58.0 81.0 57.0 90.0 59.5 95.0 59.8 103.0 57.5 110.0 52.8 113.0 51.9 143.0 51.8 148.0 53.4 155.0 59.6 158.0 59.3 164.9 51.0 166.3 48.0 167.1 27.0 166.2 0.0M189.6 0.0L190.2 3.0 192.0 4.6 194.1 4.0 195.4 0.0M19.8 48.0L20.3 46.0 19.0 42.9 17.0 41.3 15.0 41.8 13.0 45.0 13.2 48.0 16.0 48.7 19.8 48.0M158.1 112.0L161.0 109.5 162.8 105.0 162.9 77.0 162.1 73.0 160.0 69.5 158.0 67.3 156.0 66.7 153.0 68.4 146.9 76.0 145.8 95.0 146.5 104.0 147.7 107.0 154.0 111.8 158.1 112.0M165.9 220.0L166.7 203.0 166.0 192.0 163.8 188.0 159.0 184.5 154.0 184.4 144.0 188.2 114.0 188.3 106.0 185.9 97.0 184.8 79.0 185.6 55.0 183.2 38.0 184.8 35.0 186.3 31.3 190.0 30.3 193.0 29.8 202.0 30.6 220.0M18.2 220.0L17.0 217.2 15.3 218.0 14.8 220.0M220.0 5.2L217.9 4.0 216.7 0.0M0.0 49.1L15.0 50.9 28.0 50.0 31.0 51.3 34.5 55.0 35.8 58.0 35.9 67.0 33.7 76.0 33.6 102.0 35.7 113.0 36.0 137.5 38.0 140.7 55.0 146.7 76.2 139.0 78.4 135.0 80.7 127.0 78.5 115.0 80.0 112.7 82.6 113.0 84.7 115.0 84.6 127.0 85.9 136.0 89.1 138.0 93.0 138.7 100.0 137.0 101.8 134.0 102.2 115.0 115.0 100.9 119.8 105.0 126.0 106.2 134.1 106.0 138.2 105.0 142.0 102.7 143.0 103.1 152.4 114.0 153.4 125.0 153.0 136.3 155.0 139.3 158.0 139.1 159.2 136.0 158.4 125.0 159.4 115.0 163.0 107.1 163.5 104.0 163.4 76.0 160.3 65.0 160.5 59.0 162.2 55.0 167.0 50.3 170.0 48.6 179.2 50.0 195.0 50.6 205.8 50.0 220.0 47.5M115.0 81.0L105.7 68.0 105.5 59.0 109.0 54.1 114.0 52.5 143.0 52.5 147.0 53.5 150.0 56.0 151.4 60.0 150.7 69.0 143.0 78.5 142.0 78.9 136.9 76.0 126.0 75.3 118.4 77.0 115.0 81.0M220.0 197.8L215.0 196.7 209.1 192.0 197.6 190.0 179.0 191.0 175.9 192.0 171.0 195.7 165.7 189.0 160.0 184.1 157.0 182.8 154.0 183.2 144.0 187.6 114.0 187.7 104.0 184.8 96.0 183.8 78.0 184.9 55.0 179.4 38.0 183.6 28.0 190.6 14.0 189.7 0.0 191.9M209.6 220.0L210.2 215.0 212.0 211.6 215.0 209.3 220.0 208.2M168.1 220.0L169.0 212.8 171.0 210.3 174.0 213.1 175.4 220.0M0.0 216.8L1.5 218.0 2.0 220.0M0.0 50.9L29.0 51.3 32.0 52.9 34.5 56.0 35.2 67.0 33.1 77.0 33.1 104.0 35.0 113.0 35.2 137.0 38.9 147.0 37.7 163.0 38.8 179.0 35.8 184.0 32.0 187.6 28.0 189.2 15.0 188.7 0.0 189.6M220.0 189.9L194.0 188.9 169.0 189.7 166.0 188.5 161.9 185.0 157.0 177.9 156.0 177.6 153.9 181.0 149.5 185.0 144.0 187.1 113.0 187.1 104.0 183.9 95.0 182.4 81.0 184.0 77.0 183.6 72.9 181.0 72.0 179.0 74.2 163.0 71.7 147.0 72.7 144.0 79.0 139.3 82.0 139.1 94.0 141.9 105.0 138.3 106.1 136.0 106.5 131.0 106.4 114.0 107.6 111.0 111.0 107.7 114.0 106.6 129.0 107.7 143.0 106.7 147.0 108.7 150.2 113.0 150.8 137.0 156.0 149.3 157.0 149.0 160.5 138.0 160.9 114.0 164.0 104.6 164.0 76.5 161.3 66.0 161.4 59.0 162.9 55.0 167.0 51.4 170.0 50.8 193.0 51.6 220.0 50.6M145.0 74.3L112.0 74.5 110.0 73.1 107.1 69.0 107.3 57.0 110.0 54.1 113.0 53.1 146.0 53.6 149.7 57.0 150.1 67.0 148.7 71.0 145.0 74.3M0.0 51.7L29.0 52.1 32.0 53.5 34.3 57.0 34.6 68.0 32.7 77.0 32.6 103.0 34.5 113.0 34.7 137.0 36.6 146.0 36.5 180.0 34.3 185.0 31.0 187.7 28.0 188.5 0.0 188.7M220.0 188.9L167.0 188.3 162.5 185.0 160.3 181.0 159.8 164.0 160.1 145.0 161.5 136.0 161.7 114.0 164.1 107.0 164.5 103.0 164.3 76.0 162.0 67.0 162.8 56.0 165.0 53.3 169.0 51.7 220.0 51.5M145.0 73.4L112.0 73.5 110.0 72.3 107.9 69.0 108.0 57.0 110.0 54.4 114.0 53.5 143.0 53.5 147.0 54.4 149.3 58.0 149.4 67.0 148.0 71.0 145.0 73.4M146.0 186.2L112.0 186.5 99.7 181.0 94.0 175.1 92.0 175.5 88.6 180.0 85.0 182.0 79.0 182.8 76.5 181.0 77.5 164.0 76.2 147.0 76.8 143.0 80.0 141.0 84.1 142.0 88.4 145.0 92.0 151.5 94.0 151.9 96.0 150.5 98.6 145.0 105.8 140.0 107.0 138.0 107.8 113.0 109.3 110.0 112.0 108.3 143.0 107.9 147.0 109.4 148.8 112.0 149.5 136.0 151.9 145.0 151.9 179.0 150.6 183.0 146.0 186.2M0.0 52.3L28.0 52.5 31.0 53.3 33.5 56.0 34.2 67.0 32.3 76.0 31.9 94.0 32.3 105.0 34.1 114.0 34.2 137.0 35.7 146.0 35.6 180.0 33.8 185.0 29.0 187.8 0.0 188.1M220.0 188.3L170.0 188.2 165.0 186.7 162.3 184.0 161.1 181.0 161.0 148.0 162.2 136.0 162.3 114.0 164.6 106.0 165.2 94.0 164.7 76.0 162.5 67.0 163.3 56.0 166.0 53.2 169.0 52.3 220.0 52.2M143.0 73.0L112.0 72.7 109.3 71.0 108.5 69.0 108.7 57.0 110.0 54.8 114.0 54.0 142.0 54.0 147.0 54.8 148.8 59.0 148.7 68.0 147.0 71.6 143.0 73.0M145.0 186.1L113.0 186.3 108.8 185.0 104.9 181.0 104.3 146.0 108.3 137.0 108.6 114.0 109.9 110.0 111.0 109.4 115.0 108.7 129.0 109.9 143.0 108.8 146.0 109.5 147.6 111.0 148.5 115.0 148.6 136.0 150.7 145.0 150.7 179.0 149.0 184.0 145.0 186.1M0.0 52.7L29.0 53.1 32.0 54.3 33.5 57.0 33.7 68.0 31.8 77.0 31.3 93.0 31.8 105.0 33.7 113.0 33.8 136.0 35.1 146.0 35.0 180.0 33.3 185.0 31.0 186.8 28.0 187.5 0.0 187.7M220.0 187.8L170.0 187.7 165.0 186.3 162.8 184.0 161.7 180.0 161.6 147.0 162.7 136.0 162.8 114.0 165.2 105.0 165.7 95.0 165.3 77.0 163.0 67.0 163.1 58.0 164.3 55.0 167.0 53.2 170.0 52.7 220.0 52.7M145.0 72.0L115.0 72.5 111.0 71.7 109.7 71.0 108.8 67.0 109.5 56.0 110.3 55.0 114.0 54.3 129.0 55.1 143.0 54.3 146.7 55.0 148.2 59.0 148.2 67.0 147.2 71.0 145.0 72.0M147.0 185.3L113.0 185.9 109.4 185.0 106.8 182.0 106.3 145.0 109.0 137.0 109.3 114.0 111.0 110.0 116.0 109.4 130.0 110.8 143.0 109.4 147.0 111.0 147.7 115.0 147.8 136.0 149.9 146.0 149.8 180.0 149.0 183.0 147.0 185.3M0.0 53.2L28.0 53.3 32.0 54.6 32.8 56.0 33.4 68.0 31.1 77.0 30.5 93.0 31.2 105.0 33.3 113.0 33.4 136.0 34.6 146.0 34.6 180.0 32.9 185.0 28.0 187.1 0.0 187.3M220.0 187.4L170.0 187.3 165.0 185.9 163.2 184.0 162.2 181.0 162.1 147.0 163.1 136.0 163.2 114.0 165.8 105.0 166.5 94.0 165.9 77.0 163.3 67.0 163.3 59.0 164.6 55.0 170.0 53.2 220.0 53.1M146.0 71.3L142.0 71.9 129.5 71.0 116.0 72.0 111.0 71.4 109.3 68.0 109.9 56.0 114.0 54.6 128.0 55.6 145.8 55.0 147.1 56.0 147.8 60.0 147.7 68.0 146.0 71.3M147.0 185.0L113.0 185.7 109.8 185.0 107.6 182.0 107.2 145.0 109.8 135.0 109.9 113.0 112.0 110.3 115.7 110.0 129.0 111.8 143.0 110.0 146.7 112.0 147.2 135.0 149.2 146.0 149.2 180.0 147.0 185.0M0.0 53.5L28.0 53.7 31.0 54.4 32.5 56.0 33.0 68.0 30.4 77.0 29.6 92.0 30.3 104.0 33.0 113.0 33.1 136.0 34.2 146.0 34.2 180.0 32.6 185.0 28.0 186.8 0.0 186.9M220.0 187.0L170.0 186.9 165.0 185.6 163.1 183.0 162.6 180.0 162.5 146.0 163.5 136.0 163.7 113.0 166.5 105.0 167.4 93.0 166.6 77.0 163.8 68.0 163.7 59.0 164.9 55.0 170.0 53.5 220.0 53.5M145.0 71.2L129.0 70.5 116.0 71.6 111.1 71.0 109.7 68.0 110.0 56.7 112.0 55.1 114.0 54.9 129.0 56.0 145.0 55.2 147.0 56.8 147.4 60.0 147.1 69.0 145.0 71.2M146.0 185.1L128.0 184.6 113.0 185.4 110.0 184.7 108.3 182.0 107.9 145.0 110.9 132.0 110.6 114.0 112.7 111.0 116.8 111.0 128.0 113.5 142.0 110.9 144.0 111.0 146.0 112.7 145.9 129.0 148.7 146.0 148.6 180.0 147.4 184.0 146.0 185.1M0.0 53.9L28.0 54.1 31.0 54.7 32.2 56.0 32.7 69.0 29.2 77.0 27.1 92.0 29.1 104.0 32.6 112.0 32.8 136.0 33.8 146.0 33.8 180.0 32.3 185.0 28.0 186.5 0.0 186.6M220.0 186.7L170.0 186.6 165.0 185.4 163.0 180.0 162.9 146.0 163.9 135.0 164.1 113.0 167.7 104.0 169.4 91.0 167.6 77.0 164.2 69.0 164.1 59.0 165.0 55.3 170.0 53.9 220.0 53.9M144.0 71.1L129.0 69.9 112.0 70.9 110.1 68.0 110.4 57.0 114.0 55.3 128.0 56.5 145.0 55.7 146.9 58.0 146.9 68.0 146.0 70.0 144.0 71.1M21.0 106.0L23.1 105.0 24.4 103.0 24.4 78.0 23.1 76.0 21.0 75.0 12.0 75.0 9.9 76.0 8.6 78.0 8.6 103.0 9.9 105.0 12.0 106.0 21.0 106.0M200.4 106.0L205.1 104.0 205.8 102.0 205.0 91.0 205.9 80.0 205.1 77.0 200.0 75.0 193.0 74.5 185.0 75.0 179.9 77.0 179.1 80.0 180.0 91.0 179.2 102.0 179.9 104.0 188.0 106.4 200.4 106.0M144.0 185.1L129.0 184.2 113.0 185.2 110.0 184.2 109.3 183.0 108.5 179.0 108.5 145.0 112.3 130.0 111.6 115.0 113.0 112.1 119.3 113.0 122.2 115.0 125.0 118.7 129.0 120.2 133.0 118.7 135.8 115.0 138.7 113.0 143.0 112.0 145.0 113.3 144.5 129.0 148.1 145.0 148.1 179.0 147.0 184.0 144.0 185.1M132.0 137.0L133.9 136.0 134.2 134.0 131.0 131.2 127.0 131.2 123.8 134.0 124.1 136.0 126.0 137.0 132.0 137.0M0.0 54.2L16.0 55.0 29.0 54.4 31.9 56.0 32.5 60.0 32.0 71.0 29.0 74.7 27.0 75.3 19.0 73.5 12.0 73.8 7.1 75.0 0.0 78.6M220.0 78.6L208.1 75.0 196.0 73.5 182.8 74.0 170.0 76.6 164.9 71.0 164.3 60.0 165.0 55.9 168.0 54.3 193.0 55.0 220.0 54.1M145.0 70.1L142.0 70.6 128.0 69.3 113.0 70.6 110.7 68.0 110.7 58.0 112.0 56.2 114.0 55.8 129.0 57.1 144.2 56.0 145.8 57.0 146.5 59.0 146.3 68.0 145.0 70.1M0.0 103.1L12.0 107.3 19.0 107.5 27.0 105.9 30.0 107.3 32.0 110.0 32.5 113.0 32.5 135.0 33.5 146.0 33.5 180.0 32.0 185.0 28.0 186.1 0.0 186.3M220.0 186.4L170.0 186.3 165.0 185.1 163.3 180.0 163.3 146.0 164.4 112.0 165.0 109.9 169.0 105.2 171.0 104.6 181.7 107.0 195.0 107.7 208.8 106.0 220.0 103.1M115.0 116.9L113.9 115.0 115.0 114.5 115.6 116.0 115.0 116.9M146.0 184.2L143.0 184.8 128.0 183.8 114.0 184.9 110.0 183.5 109.1 180.0 109.1 144.0 110.0 140.3 114.0 134.3 115.0 133.8 121.8 138.0 128.0 139.0 136.2 138.0 143.0 135.1 147.0 140.5 147.7 145.0 147.7 180.0 147.2 183.0 146.0 184.2M0.0 54.4L16.0 55.4 29.0 54.7 31.5 56.0 32.3 60.0 32.0 70.1 29.0 73.6 15.0 72.7 0.0 74.9M220.0 74.9L194.0 72.7 169.0 74.3 165.0 70.4 164.6 60.0 165.4 56.0 169.0 54.5 193.0 55.3 220.0 54.4M116.0 70.0L113.0 69.9 111.4 68.0 111.1 59.0 113.0 56.5 129.0 57.9 143.0 56.4 145.6 58.0 145.7 67.0 144.0 69.8 129.0 68.5 116.0 70.0M0.0 106.2L15.0 108.4 28.0 107.2 31.0 109.3 32.2 113.0 33.2 146.0 33.2 180.0 32.0 184.6 28.0 185.9 0.0 186.0M220.0 186.1L170.0 186.0 165.3 185.0 163.6 180.0 163.6 146.0 164.6 113.0 165.4 110.0 168.0 107.3 171.0 106.7 194.0 108.5 220.0 106.3M145.0 184.2L128.0 183.3 114.0 184.5 110.1 183.0 109.5 180.0 109.5 144.0 110.1 141.0 113.0 138.1 115.0 137.7 129.0 140.2 143.0 138.0 146.7 141.0 147.4 180.0 147.0 182.4 145.0 184.2M0.0 54.7L16.0 55.7 29.0 55.0 31.0 56.0 32.0 59.0 31.9 69.0 31.2 71.0 29.0 72.8 15.0 72.1 0.0 73.8M220.0 73.8L193.0 72.0 169.0 73.4 165.3 70.0 164.9 59.0 166.0 55.8 169.0 54.7 193.0 55.7 220.0 54.6M143.0 69.2L129.0 67.4 113.0 69.0 112.0 67.0 112.0 58.4 114.0 57.0 129.0 59.1 144.0 57.4 145.1 59.0 145.0 67.0 143.0 69.2M0.0 107.3L16.0 109.1 28.0 108.1 31.0 109.9 32.0 113.0 31.8 128.0 32.9 146.0 32.9 180.0 32.0 184.1 28.0 185.6 0.0 185.8M220.0 185.8L193.0 185.2 170.0 185.8 165.8 185.0 164.4 183.0 164.0 180.0 163.9 146.0 165.0 128.0 164.9 113.0 165.8 110.0 168.0 108.2 171.0 107.7 193.0 109.3 220.0 107.4M143.0 184.1L129.0 182.7 114.0 184.1 110.8 183.0 109.8 180.0 109.8 145.0 110.3 142.0 112.0 140.0 115.0 139.1 129.0 141.6 143.0 139.3 146.1 141.0 147.1 145.0 147.0 180.2 146.0 183.0 143.0 184.1M0.0 54.9L16.0 56.1 29.0 55.4 31.0 56.6 31.7 59.0 31.5 69.0 30.7 71.0 29.0 72.1 16.0 71.2 0.0 72.9M220.0 72.9L193.0 71.2 169.0 72.6 166.2 71.0 165.4 69.0 165.2 59.0 166.4 56.0 169.0 55.0 193.0 56.1 220.0 54.9M116.0 68.1L114.0 68.0 113.3 67.0 113.0 59.0 114.0 58.0 129.0 62.5 141.0 58.4 143.8 59.0 143.0 67.7 129.0 64.3 116.0 68.1M0.0 108.2L16.0 110.0 28.0 108.8 30.5 110.0 31.7 114.0 31.4 129.0 32.7 146.0 32.7 180.0 31.7 184.0 28.0 185.4 16.0 184.8 0.0 185.6M220.0 185.6L193.0 184.8 170.0 185.6 166.0 184.8 164.7 183.0 164.2 180.0 164.2 146.0 165.5 128.0 165.1 114.0 167.0 109.5 171.0 108.5 194.0 110.2 220.0 108.2M145.0 183.1L142.0 183.5 129.0 181.9 114.0 183.7 111.0 182.4 110.3 180.0 110.9 163.0 110.2 146.0 111.6 141.0 116.0 140.2 129.0 142.8 141.0 140.3 145.2 141.0 146.5 145.0 146.5 179.0 146.0 182.0 145.0 183.1M0.0 55.2L16.0 56.6 29.0 55.8 30.8 57.0 31.3 60.0 31.1 69.0 29.0 71.6 16.0 70.6 0.0 72.3M220.0 72.3L193.0 70.6 169.0 72.0 166.8 71.0 165.8 69.0 165.6 59.0 167.0 56.0 169.0 55.4 193.0 56.5 220.0 55.2M0.0 108.8L15.0 110.7 27.0 109.3 30.0 110.1 31.3 114.0 31.1 130.0 32.5 146.0 32.4 180.0 31.3 184.0 28.0 185.2 16.0 184.5 0.0 185.4M220.0 185.4L193.0 184.5 170.0 185.3 166.0 184.4 164.5 180.0 164.4 146.0 165.8 129.0 165.5 114.0 167.0 110.0 171.0 109.1 194.0 110.9 220.0 109.0M143.0 183.0L129.0 180.3 116.0 183.1 113.0 183.0 111.5 182.0 110.8 146.0 112.0 141.7 116.4 141.0 129.0 145.1 141.0 141.2 145.0 142.0 146.0 146.0 145.2 163.0 145.9 180.0 145.0 182.3 143.0 183.0M0.0 55.6L16.0 57.0 28.0 56.0 30.2 57.0 30.9 60.0 30.8 68.0 29.0 71.0 16.0 70.0 0.0 71.8M220.0 71.8L193.0 70.0 169.0 71.5 167.0 70.5 166.2 69.0 165.9 60.0 166.6 57.0 169.0 55.8 193.0 57.0 220.0 55.6M0.0 109.3L16.0 111.5 27.0 109.9 30.0 110.9 31.0 114.0 30.6 129.0 32.2 146.0 32.2 180.0 31.0 183.8 28.0 184.9 16.0 184.2 0.0 185.2M220.0 185.2L193.0 184.2 170.0 185.1 166.0 184.0 164.7 180.0 164.7 146.0 166.3 128.0 165.9 114.0 168.0 110.0 173.0 109.8 193.0 111.8 220.0 109.5M144.0 182.0L137.4 181.0 135.2 179.0 132.7 174.0 129.0 172.1 125.3 174.0 122.8 179.0 120.6 181.0 115.0 182.4 112.0 181.3 112.6 163.0 111.6 146.0 113.0 142.1 116.2 142.0 120.8 144.0 125.0 152.6 129.0 154.9 133.0 152.6 137.2 144.0 142.0 142.0 144.6 143.0 145.2 146.0 144.2 165.0 145.1 179.0 144.0 182.0M0.0 55.9L16.0 57.6 28.0 56.5 30.0 57.6 30.5 60.0 30.3 68.0 29.0 70.3 16.0 69.2 0.0 71.3M220.0 71.3L193.0 69.2 169.0 71.0 166.7 69.0 166.4 60.0 167.2 57.0 170.0 56.1 193.0 57.6 220.0 55.9M0.0 109.8L16.0 112.5 27.0 110.5 30.0 111.9 30.3 132.0 32.0 146.0 31.9 180.0 31.0 183.3 28.0 184.6 16.0 183.9 0.0 184.9M220.0 185.0L193.0 183.9 170.0 184.8 166.6 184.0 164.9 180.0 164.9 146.0 166.8 129.0 166.4 114.0 168.0 110.7 172.0 110.3 193.0 113.1 220.0 109.9M116.0 159.7L115.0 159.0 113.0 151.2 112.7 145.0 114.0 143.2 117.1 144.0 118.6 147.0 117.9 155.0 116.0 159.7M142.0 157.0L141.0 157.0 140.3 155.0 139.4 147.0 141.0 144.1 143.0 143.7 144.0 145.0 144.1 148.0 142.0 157.0M116.0 181.2L113.3 181.0 112.7 179.0 114.0 170.9 116.0 167.3 117.6 171.0 118.5 178.0 117.9 180.0 116.0 181.2M143.0 181.0L141.0 180.6 139.6 179.0 141.0 170.0 142.0 170.0 143.0 172.6 144.0 179.0 143.0 181.0M0.0 56.4L16.0 58.4 28.0 57.0 29.5 58.0 30.0 60.0 29.8 68.0 28.0 69.9 16.0 68.3 0.0 70.7M220.0 70.7L193.0 68.3 169.0 70.3 167.0 68.0 166.9 60.0 168.0 57.1 170.0 56.6 193.0 58.4 220.0 56.4M0.0 110.4L5.5 111.0 16.0 114.4 26.0 111.5 29.2 112.0 30.0 115.0 29.7 131.0 31.7 146.0 31.6 180.0 30.8 183.0 28.0 184.3 16.0 183.5 0.0 184.6M220.0 184.7L194.0 183.5 171.0 184.5 167.0 183.9 165.3 180.0 165.2 146.0 167.5 130.0 167.0 114.0 168.0 111.7 171.0 111.0 178.0 112.0 190.0 116.4 193.0 116.7 207.0 112.0 220.0 110.6M195.1 136.0L193.0 134.8 190.8 135.0 189.9 136.0 192.0 136.7 195.1 136.0M0.0 56.9L16.0 59.8 28.0 57.9 29.2 60.0 29.1 67.0 28.0 68.9 16.0 67.0 0.0 70.0M220.0 70.0L193.0 67.0 170.0 69.6 167.8 68.0 167.6 60.0 168.0 58.0 170.0 57.2 193.0 59.8 220.0 56.9M0.0 111.1L8.3 113.0 13.0 118.9 16.0 120.4 20.0 118.9 24.8 113.0 27.0 112.3 28.8 113.0 28.6 129.0 31.3 146.0 31.3 180.0 30.3 183.0 28.0 183.9 16.0 183.1 0.0 184.3M220.0 184.4L194.0 183.1 171.0 184.2 167.0 183.5 165.6 180.0 165.5 146.0 168.8 128.0 167.8 115.0 169.0 112.1 176.3 113.0 180.0 116.0 184.3 125.0 180.9 132.0 180.9 136.0 185.0 138.3 193.0 139.3 201.0 138.0 204.1 136.0 204.1 132.0 200.7 125.0 205.6 115.0 211.0 112.4 220.0 111.5M19.6 138.0L21.0 137.0 21.5 135.0 19.0 131.3 15.0 130.9 12.3 133.0 11.5 136.0 13.0 137.8 16.0 138.6 19.6 138.0M0.0 57.8L6.5 59.0 10.8 63.0 7.5 67.0 0.0 69.0M220.0 69.0L207.6 67.0 203.5 65.0 202.0 63.0 209.1 59.0 220.0 57.8M174.0 68.0L170.0 68.4 169.0 67.6 168.7 60.0 170.0 58.2 175.9 59.0 183.0 63.0 181.5 65.0 174.0 68.0M27.0 67.1L24.2 66.0 22.2 63.0 24.9 60.0 27.0 59.4 27.7 61.0 27.0 67.1M0.0 112.1L4.7 113.0 6.7 115.0 6.0 119.9 2.5 126.0 5.5 130.0 8.2 137.0 13.0 139.8 18.0 140.2 23.7 138.0 27.0 134.2 30.0 139.8 31.0 146.0 30.9 180.0 30.0 182.7 27.0 183.6 15.0 182.6 0.0 184.0M220.0 119.6L214.2 118.0 212.2 115.0 216.0 113.0 220.0 112.7M171.0 117.4L169.6 116.0 170.0 113.8 172.7 115.0 171.0 117.4M220.0 184.0L194.0 182.6 171.0 183.9 167.0 183.0 165.9 180.0 165.9 146.0 167.0 139.6 169.0 135.3 171.0 133.5 176.1 137.0 181.3 139.0 194.0 140.6 206.7 138.0 215.0 132.5 220.0 131.4M0.0 134.9L9.8 140.0 15.0 141.7 19.0 141.5 28.0 138.5 30.0 141.3 30.6 146.0 30.0 182.0 28.0 183.1 16.0 181.9 0.0 183.6M220.0 183.6L193.0 181.9 172.0 183.4 167.8 183.0 166.4 180.0 166.3 146.0 167.0 140.9 170.0 137.8 186.0 141.3 193.0 142.0 220.0 136.8M0.0 138.1L16.0 143.8 28.0 140.1 29.5 142.0 30.1 146.0 30.1 179.0 29.2 182.0 26.0 182.5 16.0 180.6 0.0 183.2M220.0 183.2L193.0 180.7 172.5 183.0 168.0 182.5 166.8 180.0 166.7 146.0 167.2 142.0 170.0 139.4 193.0 144.0 212.0 139.6 220.0 138.7M0.0 139.7L5.0 140.7 9.5 143.0 11.4 145.0 14.0 151.0 16.0 152.3 19.0 151.0 21.6 145.0 25.2 142.0 27.0 141.4 28.5 142.0 29.5 146.0 29.0 181.2 27.0 182.0 23.4 181.0 18.0 175.1 16.0 174.7 9.6 181.0 0.0 182.7M220.0 182.7L204.0 181.0 199.7 179.0 196.0 175.6 193.0 174.7 189.0 175.6 185.3 179.0 181.0 181.0 172.0 182.4 168.4 182.0 167.3 179.0 168.0 163.0 167.2 146.0 167.6 143.0 169.0 140.9 175.0 141.3 182.5 144.0 188.0 150.7 193.0 152.3 197.0 150.7 201.2 145.0 204.6 143.0 212.0 140.9 220.0 140.1M0.0 141.1L4.6 142.0 7.9 145.0 8.8 163.0 8.1 179.0 6.2 181.0 0.0 182.1M175.0 181.1L170.0 181.6 168.2 180.0 169.6 163.0 168.0 145.0 168.6 143.0 170.0 142.0 177.1 144.0 178.9 147.0 179.6 163.0 178.9 178.0 177.7 180.0 175.0 181.1M220.0 182.1L209.6 181.0 206.5 179.0 205.4 164.0 206.8 145.0 212.0 142.3 220.0 141.3M28.0 180.2L25.6 180.0 24.7 177.0 24.7 147.0 25.1 145.0 27.0 143.3 28.0 143.7 28.5 146.0 26.6 163.0 28.0 180.2" fill="none" stroke="#0a2a3a" stroke-opacity="0.45" stroke-width="0.5" vector-effect="non-scaling-stroke"/><g stroke="#0a2020" stroke-width="1" vector-effect="non-scaling-stroke"><line x1="33" y1="0" x2="33" y2="55" stroke-opacity="0.25"/><line x1="110" y1="0" x2="110" y2="55" stroke-opacity="0.15"/><line x1="148" y1="0" x2="148" y2="55" stroke-opacity="0.20"/><line x1="165" y1="0" x2="165" y2="55" stroke-opacity="0.20"/><line x1="33" y1="55" x2="33" y2="72" stroke-opacity="0.85"/><line x1="77" y1="55" x2="77" y2="72" stroke-opacity="0.04"/><line x1="110" y1="55" x2="110" y2="72" stroke-opacity="0.56"/><line x1="148" y1="55" x2="148" y2="72" stroke-opacity="0.56"/><line x1="165" y1="55" x2="165" y2="72" stroke-opacity="0.83"/><line x1="33" y1="72" x2="33" y2="110" stroke-opacity="0.50"/><line x1="110" y1="72" x2="110" y2="110" stroke-opacity="0.15"/><line x1="148" y1="72" x2="148" y2="110" stroke-opacity="0.20"/><line x1="165" y1="72" x2="165" y2="110" stroke-opacity="0.52"/><line x1="33" y1="110" x2="33" y2="141" stroke-opacity="0.85"/><line x1="77" y1="110" x2="77" y2="141" stroke-opacity="0.09"/><line x1="110" y1="110" x2="110" y2="141" stroke-opacity="0.35"/><line x1="148" y1="110" x2="148" y2="141" stroke-opacity="0.35"/><line x1="165" y1="110" x2="165" y2="141" stroke-opacity="0.76"/><line x1="33" y1="141" x2="33" y2="186" stroke-opacity="0.85"/><line x1="77" y1="141" x2="77" y2="186" stroke-opacity="0.09"/><line x1="110" y1="141" x2="110" y2="186" stroke-opacity="0.53"/><line x1="148" y1="141" x2="148" y2="186" stroke-opacity="0.57"/><line x1="165" y1="141" x2="165" y2="186" stroke-opacity="0.85"/><line x1="33" y1="186" x2="33" y2="220" stroke-opacity="0.25"/><line x1="110" y1="186" x2="110" y2="220" stroke-opacity="0.15"/><line x1="148" y1="186" x2="148" y2="220" stroke-opacity="0.20"/><line x1="165" y1="186" x2="165" y2="220" stroke-opacity="0.23"/><line x1="0" y1="55" x2="33" y2="55" stroke-opacity="0.83"/><line x1="33" y1="55" x2="77" y2="55" stroke-opacity="0.35"/><line x1="77" y1="55" x2="110" y2="55" stroke-opacity="0.35"/><line x1="110" y1="55" x2="148" y2="55" stroke-opacity="0.68"/><line x1="148" y1="55" x2="165" y2="55" stroke-opacity="0.35"/><line x1="165" y1="55" x2="220" y2="55" stroke-opacity="0.82"/><line x1="0" y1="72" x2="33" y2="72" stroke-opacity="0.47"/><line x1="33" y1="72" x2="77" y2="72" stroke-opacity="0.30"/><line x1="77" y1="72" x2="110" y2="72" stroke-opacity="0.30"/><line x1="110" y1="72" x2="148" y2="72" stroke-opacity="0.54"/><line x1="148" y1="72" x2="165" y2="72" stroke-opacity="0.30"/><line x1="165" y1="72" x2="220" y2="72" stroke-opacity="0.47"/><line x1="0" y1="110" x2="33" y2="110" stroke-opacity="0.45"/><line x1="33" y1="110" x2="77" y2="110" stroke-opacity="0.20"/><line x1="77" y1="110" x2="110" y2="110" stroke-opacity="0.20"/><line x1="110" y1="110" x2="148" y2="110" stroke-opacity="0.36"/><line x1="148" y1="110" x2="165" y2="110" stroke-opacity="0.20"/><line x1="165" y1="110" x2="220" y2="110" stroke-opacity="0.43"/><line x1="0" y1="141" x2="33" y2="141" stroke-opacity="0.20"/><line x1="33" y1="141" x2="77" y2="141" stroke-opacity="0.12"/><line x1="77" y1="141" x2="110" y2="141" stroke-opacity="0.12"/><line x1="110" y1="141" x2="148" y2="141" stroke-opacity="0.29"/><line x1="148" y1="141" x2="165" y2="141" stroke-opacity="0.07"/><line x1="165" y1="141" x2="220" y2="141" stroke-opacity="0.23"/><line x1="0" y1="186" x2="33" y2="186" stroke-opacity="0.85"/><line x1="33" y1="186" x2="77" y2="186" stroke-opacity="0.30"/><line x1="77" y1="186" x2="110" y2="186" stroke-opacity="0.35"/><line x1="110" y1="186" x2="148" y2="186" stroke-opacity="0.80"/><line x1="148" y1="186" x2="165" y2="186" stroke-opacity="0.31"/><line x1="165" y1="186" x2="220" y2="186" stroke-opacity="0.85"/></g><rect x="0" y="0" width="220" height="220" fill="none" stroke="#102838" stroke-width="2" vector-effect="non-scaling-stroke"/></svg>
<div class="tk" style="left:50.32px;top:377.80px"></div><div class="xl" style="left:40.57px;top:380.50px">50</div><div class="tk" style="left:73.10px;top:377.80px"></div><div class="xl" style="left:63.35px;top:380.50px">100</div><div class="tk" style="left:95.87px;top:377.80px"></div><div class="xl" style="left:86.12px;top:380.50px">150</div><div class="tk" style="left:118.64px;top:377.80px"></div><div class="xl" style="left:108.89px;top:380.50px">200</div><div class="tky" style="left:25.80px;top:355.75px"></div><div class="yl" style="left:5.10px;top:353.40px">50</div><div class="tky" style="left:25.80px;top:333.96px"></div><div class="yl" style="left:5.10px;top:331.61px">100</div><div class="tky" style="left:25.80px;top:312.16px"></div><div class="yl" style="left:5.10px;top:309.81px">150</div><div class="tky" style="left:25.80px;top:290.37px"></div><div class="yl" style="left:5.10px;top:288.02px">200</div><div class="xa" style="left:67.90px;top:389.10px">X</div><div class="ya" style="left:1.40px;top:326.35px">Y</div><div class="cap" style="left:26.35px;top:396.70px">(i) OT</div>
<svg class="pl" style="left:153.00px;top:282.80px;width:100.00px;height:96.00px" viewBox="0 0 220 220" preserveAspectRatio="none"><linearGradient id="gj00" gradientUnits="userSpaceOnUse" x1="0" y1="0" x2="33" y2="0"><stop offset="0" stop-color="#00ebc3"/><stop offset="0.5" stop-color="#00e6de"/><stop offset="1" stop-color="#00cbf9"/></linearGradient><rect x="0" y="0" width="36" height="58" fill="url(#gj00)"/><linearGradient id="gj01" gradientUnits="userSpaceOnUse" x1="0" y1="0" x2="0" y2="55"><stop offset="0" stop-color="#003df7"/><stop offset="0.5" stop-color="#004af9"/><stop offset="1" stop-color="#005af9"/></linearGradient><rect x="33" y="0" width="47" height="58" fill="url(#gj01)"/><linearGradient id="gj02" gradientUnits="userSpaceOnUse" x1="0" y1="0" x2="0" y2="55"><stop offset="0" stop-color="#004ef9"/><stop offset="0.5" stop-color="#0060f9"/><stop offset="1" stop-color="#0077f9"/></linearGradient><rect x="77" y="0" width="36" height="58" fill="url(#gj02)"/><linearGradient id="gj03" gradientUnits="userSpaceOnUse" x1="0" y1="0" x2="0" y2="55"><stop offset="0" stop-color="#0091f9"/><stop offset="0.5" stop-color="#00a0f9"/><stop offset="1" stop-color="#00b0f9"/></linearGradient><rect x="110" y="0" width="41" height="58" fill="url(#gj03)"/><linearGradient id="gj04" gradientUnits="userSpaceOnUse" x1="0" y1="0" x2="0" y2="55"><stop offset="0" stop-color="#0043f9"/><stop offset="0.5" stop-color="#0052f9"/><stop offset="1" stop-color="#0066f9"/></linearGradient><rect x="148" y="0" width="20" height="58" fill="url(#gj04)"/><linearGradient id="gj05" gradientUnits="userSpaceOnUse" x1="165" y1="0" x2="220" y2="0"><stop offset="0" stop-color="#0091f9"/><stop offset="0.5" stop-color="#00bff9"/><stop offset="1" stop-color="#00e4eb"/></linearGradient><rect x="165" y="0" width="58" height="58" fill="url(#gj05)"/><linearGradient id="gj10" gradientUnits="userSpaceOnUse" x1="0" y1="0" x2="33" y2="0"><stop offset="0" stop-color="#00e20f"/><stop offset="0.5" stop-color="#00ea25"/><stop offset="1" stop-color="#00f045"/></linearGradient><rect x="0" y="55" width="36" height="20" fill="url(#gj10)"/><rect x="33" y="55" width="47" height="20" fill="#00bbf9"/><rect x="77" y="55" width="36" height="20" fill="#00c7f9"/><rect x="110" y="55" width="41" height="20" fill="#00e2f9"/><rect x="148" y="55" width="20" height="20" fill="#00bbf9"/><linearGradient id="gj15" gradientUnits="userSpaceOnUse" x1="165" y1="0" x2="220" y2="0"><stop offset="0" stop-color="#00f045"/><stop offset="0.5" stop-color="#00ea25"/><stop offset="1" stop-color="#00e20f"/></linearGradient><rect x="165" y="55" width="58" height="20" fill="url(#gj15)"/><linearGradient id="gj20" gradientUnits="userSpaceOnUse" x1="0" y1="0" x2="33" y2="0"><stop offset="0" stop-color="#00ee31"/><stop offset="0.5" stop-color="#00f25b"/><stop offset="1" stop-color="#00f485"/></linearGradient><rect x="0" y="72" width="36" height="41" fill="url(#gj20)"/><rect x="33" y="72" width="47" height="41" fill="#0083f9"/><rect x="77" y="72" width="36" height="41" fill="#0099f9"/><rect x="110" y="72" width="41" height="41" fill="#00e2f9"/><rect x="148" y="72" width="20" height="41" fill="#0083f9"/><linearGradient id="gj25" gradientUnits="userSpaceOnUse" x1="165" y1="0" x2="220" y2="0"><stop offset="0" stop-color="#00f2a0"/><stop offset="0.5" stop-color="#00f273"/><stop offset="1" stop-color="#00f149"/></linearGradient><rect x="165" y="72" width="58" height="41" fill="url(#gj25)"/><linearGradient id="gj30" gradientUnits="userSpaceOnUse" x1="0" y1="0" x2="33" y2="0"><stop offset="0" stop-color="#00e20f"/><stop offset="0.5" stop-color="#00ea25"/><stop offset="1" stop-color="#00f045"/></linearGradient><rect x="0" y="110" width="36" height="34" fill="url(#gj30)"/><rect x="33" y="110" width="47" height="34" fill="#00b4f9"/><rect x="77" y="110" width="36" height="34" fill="#00cef9"/><rect x="110" y="110" width="41" height="34" fill="#00e8d5"/><rect x="148" y="110" width="20" height="34" fill="#00daf9"/><linearGradient id="gj35" gradientUnits="userSpaceOnUse" x1="165" y1="0" x2="220" y2="0"><stop offset="0" stop-color="#00f045"/><stop offset="0.5" stop-color="#00ea25"/><stop offset="1" stop-color="#00e20f"/></linearGradient><rect x="165" y="110" width="58" height="34" fill="url(#gj35)"/><linearGradient id="gj40" gradientUnits="userSpaceOnUse" x1="0" y1="0" x2="33" y2="0"><stop offset="0" stop-color="#00df06"/><stop offset="0.5" stop-color="#00e71c"/><stop offset="1" stop-color="#00ee35"/></linearGradient><rect x="0" y="141" width="36" height="48" fill="url(#gj40)"/><rect x="33" y="141" width="47" height="48" fill="#00e3f4"/><rect x="77" y="141" width="36" height="48" fill="#00e3f4"/><rect x="110" y="141" width="41" height="48" fill="#00ebc3"/><rect x="148" y="141" width="20" height="48" fill="#00e2f9"/><linearGradient id="gj45" gradientUnits="userSpaceOnUse" x1="165" y1="0" x2="220" y2="0"><stop offset="0" stop-color="#00ee35"/><stop offset="0.5" stop-color="#00e71c"/><stop offset="1" stop-color="#00df06"/></linearGradient><rect x="165" y="141" width="58" height="48" fill="url(#gj45)"/><linearGradient id="gj50" gradientUnits="userSpaceOnUse" x1="0" y1="0" x2="33" y2="0"><stop offset="0" stop-color="#00e5e2"/><stop offset="0.5" stop-color="#00c7f9"/><stop offset="1" stop-color="#0099f9"/></linearGradient><rect x="0" y="186" width="36" height="37" fill="url(#gj50)"/><linearGradient id="gj51" gradientUnits="userSpaceOnUse" x1="0" y1="186" x2="0" y2="220"><stop offset="0" stop-color="#0052f9"/><stop offset="0.5" stop-color="#0043f9"/><stop offset="1" stop-color="#0039f6"/></linearGradient><rect x="33" y="186" width="47" height="37" fill="url(#gj51)"/><linearGradient id="gj52" gradientUnits="userSpaceOnUse" x1="0" y1="186" x2="0" y2="220"><stop offset="0" stop-color="#006cf9"/><stop offset="0.5" stop-color="#0054f9"/><stop offset="1" stop-color="#0047f9"/></linearGradient><rect x="77" y="186" width="36" height="37" fill="url(#gj52)"/><linearGradient id="gj53" gradientUnits="userSpaceOnUse" x1="0" y1="186" x2="0" y2="220"><stop offset="0" stop-color="#009cf9"/><stop offset="0.5" stop-color="#008ef9"/><stop offset="1" stop-color="#0077f9"/></linearGradient><rect x="110" y="186" width="41" height="37" fill="url(#gj53)"/><linearGradient id="gj54" gradientUnits="userSpaceOnUse" x1="0" y1="186" x2="0" y2="220"><stop offset="0" stop-color="#006cf9"/><stop offset="0.5" stop-color="#0054f9"/><stop offset="1" stop-color="#0047f9"/></linearGradient><rect x="148" y="186" width="20" height="37" fill="url(#gj54)"/><linearGradient id="gj55" gradientUnits="userSpaceOnUse" x1="165" y1="0" x2="220" y2="0"><stop offset="0" stop-color="#008ef9"/><stop offset="0.5" stop-color="#00bbf9"/><stop offset="1" stop-color="#00e4f0"/></linearGradient><rect x="165" y="186" width="58" height="37" fill="url(#gj55)"/><path d="M45.6 0.0L46.2 10.0 47.8 17.0 51.0 22.0 55.0 24.0 59.0 22.0 62.2 17.0 63.8 10.0 64.4 0.0M154.6 0.0L156.0 10.5 157.0 10.4 158.0 7.0 158.3 0.0M60.5 51.0L62.8 50.0 64.0 48.0 62.6 39.0 59.0 33.0 56.0 31.1 54.0 31.1 51.0 33.0 48.0 37.4 46.3 44.0 46.3 49.0 49.0 50.8 52.0 51.4 60.5 51.0M157.1 50.0L157.7 47.0 157.0 44.6 156.0 44.5 155.2 49.0 157.1 50.0M67.9 220.0L69.0 212.1 73.0 204.3 72.5 200.0 67.4 191.0 62.9 189.0 55.0 188.2 44.1 190.0 41.8 192.0 38.5 199.0 38.0 205.7 41.3 213.0 42.1 220.0M94.4 220.0L94.0 218.7 93.0 218.7 92.6 220.0M35.1 0.0L34.5 28.0 35.3 50.0 38.0 52.8 55.0 55.1 72.0 52.9 79.0 51.0 93.0 53.7 99.5 53.0 105.2 51.0 106.6 48.0 108.1 30.0 106.4 0.0M149.2 0.0L148.0 27.0 149.2 49.0 151.0 52.5 156.0 54.8 160.4 53.0 162.5 49.0 163.1 28.0 162.5 0.0M56.8 85.0L61.1 82.0 62.4 79.0 62.3 76.0 60.0 74.5 56.0 73.7 48.8 75.0 47.4 78.0 49.0 82.1 52.0 84.6 56.8 85.0M156.4 85.0L158.0 83.2 158.9 77.0 158.0 74.3 156.0 73.7 154.2 75.0 153.7 78.0 154.6 83.0 156.4 85.0M59.2 107.0L61.3 106.0 62.4 104.0 61.6 101.0 59.0 98.0 54.0 96.8 51.0 98.0 49.0 99.9 47.6 104.0 48.7 106.0 54.0 107.5 59.2 107.0M158.0 106.0L158.7 104.0 158.3 100.0 157.0 97.1 156.0 96.9 154.0 101.0 154.0 104.8 156.0 106.5 158.0 106.0M108.0 220.0L109.8 201.0 108.5 192.0 106.5 189.0 96.0 186.8 79.0 188.5 55.0 186.1 39.0 187.3 34.9 189.0 33.4 201.0 34.1 220.0M162.4 220.0L163.0 203.0 162.4 191.0 160.7 188.0 156.0 186.6 151.4 188.0 148.6 192.0 147.2 203.0 149.0 220.0M132.9 220.0L131.7 216.0 129.0 214.4 126.3 216.0 125.1 220.0M33.2 0.0L32.8 30.0 33.6 51.0 37.0 54.8 55.0 58.5 78.0 54.4 94.0 57.1 107.2 54.0 109.0 53.0 111.1 50.0 114.0 40.4 115.6 42.0 117.8 50.0 120.4 52.0 129.0 53.8 137.6 52.0 140.3 50.0 143.0 43.0 145.3 50.0 148.0 53.6 155.0 58.0 158.0 57.9 163.6 52.0 164.7 49.0 165.7 28.0 164.7 0.0M117.2 0.0L116.2 11.0 115.0 14.2 114.0 14.6 112.0 9.2 111.3 0.0M145.1 0.0L144.4 8.0 143.0 12.0 141.4 8.0 140.8 0.0M58.0 117.0L64.0 112.0 74.0 108.5 79.0 105.4 93.0 110.7 97.4 110.0 104.0 106.7 105.8 103.0 107.1 91.0 105.5 77.0 104.0 74.1 98.0 70.8 93.0 69.9 88.4 71.0 79.0 75.8 74.0 72.7 55.0 68.4 48.0 69.4 37.3 73.0 36.0 76.2 35.4 88.0 36.5 107.0 38.0 108.9 46.0 112.0 52.0 117.0 55.0 117.7 58.0 117.0M158.5 110.0L161.0 107.3 161.6 105.0 161.6 76.0 160.0 71.0 158.0 68.8 156.0 68.4 151.1 72.0 149.6 75.0 148.8 97.0 150.2 107.0 155.0 110.4 158.5 110.0M58.4 137.0L58.9 135.0 56.0 133.4 52.2 134.0 50.9 136.0 54.0 137.7 58.4 137.0M164.7 220.0L165.9 203.0 164.8 191.0 163.3 188.0 158.0 184.3 155.0 184.3 144.0 188.6 129.0 186.9 114.0 188.7 106.0 186.2 95.0 184.3 79.0 186.0 55.0 183.9 37.0 185.9 33.0 188.6 31.3 201.0 32.2 220.0M195.4 220.0L194.6 218.0 193.0 217.1 190.4 218.0 189.6 220.0M32.1 0.0L31.2 27.0 32.0 49.0 33.0 52.8 36.8 59.0 36.6 69.0 34.4 76.0 34.0 90.0 34.5 106.0 36.6 114.0 35.9 125.0 36.6 135.0 38.0 138.4 46.7 142.0 54.0 146.4 56.0 146.4 63.3 142.0 75.0 137.0 79.1 126.0 76.1 113.0 77.0 111.4 79.0 110.7 83.0 111.9 84.7 114.0 85.2 135.0 86.0 138.0 88.1 141.0 92.0 145.6 94.0 146.3 101.0 138.0 101.9 134.0 102.3 114.0 108.0 108.8 109.4 105.0 110.4 87.0 109.0 73.3 105.7 68.0 107.1 63.0 105.6 59.0 109.9 55.0 116.0 54.7 128.0 58.8 132.0 58.5 143.0 54.5 146.3 55.0 148.5 57.0 149.1 59.0 148.1 64.0 149.0 69.0 147.3 74.0 145.9 90.0 147.1 105.0 148.0 108.3 152.9 113.0 155.0 118.5 157.0 119.3 162.9 105.0 163.0 77.0 161.0 65.0 161.2 58.0 162.6 55.0 170.0 48.0 180.3 51.0 199.0 51.6 209.7 50.0 220.0 44.3M171.3 0.0L170.0 5.3 169.0 3.8 168.7 0.0M220.0 10.7L217.0 9.6 215.0 7.1 213.5 0.0M80.0 59.3L78.0 59.0 79.0 58.2 80.0 59.3M129.5 79.0L132.1 77.0 133.3 72.0 132.0 69.7 128.0 68.9 125.0 70.8 124.8 74.0 126.6 78.0 129.5 79.0M130.0 107.0L131.4 106.0 131.0 103.9 129.0 103.0 127.0 103.9 126.6 106.0 130.0 107.0M156.7 149.0L158.0 145.6 158.8 137.0 158.0 133.0 156.0 131.6 154.4 134.0 153.8 138.0 155.0 146.5 156.0 149.1 156.7 149.0M220.0 191.4L194.0 188.2 169.0 190.5 161.7 185.0 157.0 178.0 156.0 177.8 153.5 182.0 151.1 184.0 144.0 186.3 129.0 184.7 112.0 186.3 100.9 183.0 94.0 179.8 82.8 184.0 76.0 184.5 65.7 183.0 55.0 179.6 36.0 184.9 28.0 191.8 24.7 190.0 19.0 188.7 13.0 188.8 8.3 190.0 6.0 192.0 3.0 196.7 0.0 197.8M0.0 208.2L3.0 209.3 5.0 212.0 6.3 220.0M27.1 220.0L28.0 216.1 28.8 220.0M216.7 220.0L217.4 218.0 220.0 216.8M8.6 0.0L10.2 27.0 8.8 48.0 11.0 50.5 16.0 51.5 21.0 50.9 23.0 50.0 24.2 48.0 22.8 27.0 24.4 0.0M30.1 0.0L28.2 31.0 30.1 49.0 34.7 58.0 34.7 69.0 33.3 77.0 33.2 102.0 34.7 113.0 34.9 137.0 38.5 146.0 36.5 163.0 38.1 180.0 34.0 185.0 29.0 188.0 15.0 187.2 0.0 188.7M220.0 188.2L193.0 187.0 170.0 188.0 165.0 186.6 162.3 184.0 161.2 181.0 161.0 146.0 161.4 114.0 164.0 104.0 164.0 77.0 162.4 67.0 162.5 58.0 163.8 55.0 166.0 53.0 169.0 52.0 193.0 53.1 220.0 51.7M145.0 185.1L129.0 182.6 112.0 185.1 110.0 184.6 106.0 181.0 107.4 163.0 105.5 144.0 108.7 137.0 110.6 128.0 109.3 112.0 110.1 110.0 113.0 107.2 115.0 107.3 118.8 110.0 121.3 113.0 124.0 118.8 128.0 121.0 133.0 119.7 137.3 112.0 142.0 108.1 145.0 108.5 148.6 113.0 146.8 126.0 150.4 143.0 149.2 163.0 150.3 180.0 149.0 183.0 145.0 185.1M131.1 140.0L135.2 137.0 134.6 133.0 131.0 130.2 126.0 130.6 123.0 133.8 122.8 137.0 124.6 139.0 128.0 140.5 131.1 140.0M78.0 150.4L76.0 150.5 74.0 149.3 72.3 146.0 73.2 144.0 78.0 142.2 79.9 143.0 80.6 145.0 80.0 148.0 78.0 150.4M78.0 181.2L74.7 181.0 73.3 180.0 74.0 177.8 77.0 176.4 79.0 177.4 79.8 180.0 78.0 181.2M0.0 50.7L15.0 53.2 28.0 51.7 30.0 52.4 32.6 55.0 33.6 58.0 33.6 68.0 32.6 76.0 32.3 95.0 33.6 113.0 33.7 136.0 35.1 146.0 35.0 180.0 32.8 185.0 28.0 186.9 16.0 186.2 0.0 187.3M220.0 187.0L193.0 186.1 170.0 186.9 165.0 185.7 163.0 183.0 162.4 180.0 162.3 145.0 162.7 114.0 164.6 106.0 165.2 93.0 164.6 75.0 163.4 68.0 163.4 59.0 164.5 55.0 170.0 53.1 193.0 54.1 220.0 53.0M145.0 183.1L141.7 183.0 137.7 181.0 134.0 170.8 132.0 168.7 129.0 167.7 126.0 168.7 124.0 170.8 120.3 181.0 114.0 183.4 110.0 182.0 109.7 178.0 111.4 163.0 109.5 144.0 110.0 141.3 112.0 139.5 115.0 139.4 120.0 143.0 123.3 155.0 126.0 158.3 129.0 159.3 132.0 158.3 134.1 156.0 135.8 152.0 137.0 145.0 138.9 142.0 144.0 139.4 146.9 141.0 147.4 147.0 145.5 164.0 147.3 180.0 146.8 182.0 145.0 183.1M0.0 52.7L16.0 54.8 28.0 53.3 31.0 54.3 32.4 56.0 32.8 69.0 31.3 93.0 33.8 145.0 33.8 180.0 32.1 185.0 28.0 186.0 15.0 184.9 0.0 186.3M220.0 186.2L194.0 184.7 171.0 186.0 165.0 185.1 163.4 180.0 163.3 144.0 163.7 114.0 165.5 105.0 166.4 92.0 164.3 69.0 165.0 55.4 170.0 54.1 193.0 55.5 220.0 54.0M0.0 54.0L16.0 56.0 29.0 54.4 30.7 55.0 32.0 56.9 32.1 70.0 30.8 77.0 30.0 92.0 32.2 112.0 31.8 127.0 32.9 145.0 32.8 180.0 32.0 184.0 29.0 185.3 16.0 183.9 0.0 185.7M220.0 185.6L193.0 183.8 172.0 185.4 166.0 184.8 164.3 181.0 164.2 144.0 164.5 113.0 166.8 105.0 168.4 91.0 166.7 76.0 164.9 70.0 164.9 58.0 165.6 56.0 169.0 54.7 193.0 56.5 220.0 54.5M197.6 108.0L203.1 106.0 204.4 104.0 203.3 98.0 199.1 91.0 203.7 83.0 204.5 79.0 204.1 76.0 201.4 74.0 195.0 72.6 189.0 72.7 183.6 74.0 180.9 76.0 180.5 79.0 182.0 84.7 185.9 91.0 181.3 99.0 181.0 105.0 183.8 107.0 187.4 108.0 197.6 108.0M17.2 78.0L18.2 77.0 18.0 75.4 15.4 75.0 14.8 77.0 17.2 78.0M17.4 105.0L17.0 104.4 15.6 105.0 17.4 105.0M0.0 54.7L15.0 57.5 28.0 55.3 31.0 57.0 31.2 70.0 28.0 80.7 27.0 81.4 24.4 74.0 20.4 71.0 17.0 70.1 13.0 70.8 7.9 75.0 6.0 84.0 2.1 91.0 6.0 98.0 7.9 106.0 14.0 110.8 17.0 111.3 20.6 110.0 25.2 106.0 27.0 100.6 28.0 101.3 31.4 112.0 30.8 127.0 32.3 145.0 31.6 183.0 29.0 184.6 16.0 182.7 0.0 185.1M220.0 76.9L201.9 71.0 194.0 69.7 185.0 70.5 170.0 75.1 167.0 72.4 165.7 69.0 165.8 58.0 168.0 55.6 193.0 57.8 220.0 55.2M220.0 185.1L193.0 182.6 171.0 184.8 166.3 184.0 164.9 181.0 165.5 163.0 164.7 144.0 165.9 126.0 165.2 113.0 165.9 110.0 169.0 106.4 171.0 106.2 185.0 110.6 193.0 111.8 200.0 110.6 220.0 104.6M0.0 55.7L5.0 56.4 16.0 60.4 20.0 59.8 26.2 57.0 29.0 56.9 30.0 59.0 30.0 69.0 29.0 71.4 27.0 71.7 20.0 67.2 15.0 66.7 12.0 67.7 3.0 73.6 0.0 74.4M220.0 72.3L211.0 71.3 195.0 66.6 186.0 67.3 171.0 71.7 167.7 71.0 166.9 68.0 167.0 58.4 169.0 56.6 193.0 60.5 210.3 57.0 220.0 56.2M0.0 106.8L7.5 110.0 10.4 113.0 13.0 117.7 16.0 119.3 20.0 117.7 22.6 113.0 25.6 110.0 28.0 109.2 29.4 110.0 30.4 114.0 29.4 127.0 31.4 145.0 30.4 163.0 31.3 180.0 30.1 183.0 24.9 183.0 16.0 179.2 8.1 183.0 0.0 184.3M220.0 184.2L206.8 183.0 193.0 179.1 178.2 183.0 170.0 184.0 167.0 183.3 165.7 180.0 166.6 163.0 165.6 144.0 167.3 126.0 166.3 113.0 168.0 109.7 172.0 109.4 178.1 111.0 181.9 113.0 187.0 118.0 193.0 119.4 198.0 118.0 203.1 113.0 206.9 111.0 212.0 109.5 220.0 108.8M17.4 147.0L20.8 141.0 21.5 137.0 20.0 133.3 16.0 131.7 12.5 134.0 11.5 138.0 15.0 146.5 17.4 147.0M194.1 147.0L199.6 141.0 200.9 138.0 200.6 136.0 199.0 133.8 196.0 132.2 192.0 131.6 188.0 132.5 184.9 135.0 184.4 139.0 190.0 146.5 194.1 147.0M0.0 57.7L3.2 59.0 2.5 60.0 0.0 60.6M220.0 60.5L216.3 60.0 215.6 59.0 220.0 58.3M0.0 66.4L3.6 68.0 2.7 70.0 0.0 70.8M220.0 69.7L215.7 69.0 214.9 68.0 220.0 66.5M0.0 110.0L3.5 111.0 5.6 114.0 4.0 118.6 0.0 120.6M220.0 120.6L214.0 119.1 210.8 115.0 211.6 113.0 213.2 112.0 220.0 110.8M172.0 118.3L170.0 118.7 169.0 117.7 168.0 114.0 169.0 111.9 171.7 112.0 174.1 114.0 173.9 116.0 172.0 118.3M0.0 130.4L3.0 131.4 4.4 133.0 7.8 142.0 9.0 163.0 8.0 180.0 6.0 182.0 0.0 183.2M220.0 183.1L210.2 182.0 206.6 180.0 205.0 164.0 206.9 142.0 213.0 132.6 216.0 131.0 220.0 130.4M174.0 182.2L169.0 182.6 167.7 182.0 167.0 180.0 168.8 163.0 166.8 142.0 168.0 135.8 170.0 132.3 172.0 132.7 174.0 135.0 178.9 145.0 180.0 163.0 179.0 178.0 177.2 181.0 174.0 182.2M29.0 181.6L27.0 181.7 25.0 180.0 24.0 164.0 24.8 144.0 26.0 139.9 28.0 137.4 30.0 144.0 27.8 163.0 29.7 179.0 29.0 181.6M0.0 140.7L2.0 141.6 2.8 144.0 2.0 147.2 0.0 148.6M220.0 148.6L216.5 147.0 215.2 144.0 217.0 141.4 220.0 140.7M0.0 178.8L0.0 180.1M220.0 180.1L219.0 180.0 218.9 179.0 220.0 178.8" fill="none" stroke="#0a2a3a" stroke-opacity="0.45" stroke-width="0.5" vector-effect="non-scaling-stroke"/><g stroke="#0a2020" stroke-width="1" vector-effect="non-scaling-stroke"><line x1="33" y1="0" x2="33" y2="55" stroke-opacity="0.25"/><line x1="110" y1="0" x2="110" y2="55" stroke-opacity="0.15"/><line x1="148" y1="0" x2="148" y2="55" stroke-opacity="0.20"/><line x1="165" y1="0" x2="165" y2="55" stroke-opacity="0.20"/><line x1="33" y1="55" x2="33" y2="72" stroke-opacity="0.33"/><line x1="110" y1="55" x2="110" y2="72" stroke-opacity="0.15"/><line x1="148" y1="55" x2="148" y2="72" stroke-opacity="0.20"/><line x1="165" y1="55" x2="165" y2="72" stroke-opacity="0.33"/><line x1="33" y1="72" x2="33" y2="110" stroke-opacity="0.31"/><line x1="110" y1="72" x2="110" y2="110" stroke-opacity="0.15"/><line x1="148" y1="72" x2="148" y2="110" stroke-opacity="0.20"/><line x1="165" y1="72" x2="165" y2="110" stroke-opacity="0.28"/><line x1="33" y1="110" x2="33" y2="141" stroke-opacity="0.34"/><line x1="110" y1="110" x2="110" y2="141" stroke-opacity="0.15"/><line x1="148" y1="110" x2="148" y2="141" stroke-opacity="0.20"/><line x1="165" y1="110" x2="165" y2="141" stroke-opacity="0.29"/><line x1="33" y1="141" x2="33" y2="186" stroke-opacity="0.30"/><line x1="110" y1="141" x2="110" y2="186" stroke-opacity="0.15"/><line x1="148" y1="141" x2="148" y2="186" stroke-opacity="0.20"/><line x1="165" y1="141" x2="165" y2="186" stroke-opacity="0.31"/><line x1="33" y1="186" x2="33" y2="220" stroke-opacity="0.25"/><line x1="110" y1="186" x2="110" y2="220" stroke-opacity="0.15"/><line x1="148" y1="186" x2="148" y2="220" stroke-opacity="0.20"/><line x1="165" y1="186" x2="165" y2="220" stroke-opacity="0.20"/><line x1="0" y1="55" x2="33" y2="55" stroke-opacity="0.35"/><line x1="33" y1="55" x2="77" y2="55" stroke-opacity="0.35"/><line x1="77" y1="55" x2="110" y2="55" stroke-opacity="0.35"/><line x1="110" y1="55" x2="148" y2="55" stroke-opacity="0.35"/><line x1="148" y1="55" x2="165" y2="55" stroke-opacity="0.35"/><line x1="165" y1="55" x2="220" y2="55" stroke-opacity="0.35"/><line x1="0" y1="72" x2="33" y2="72" stroke-opacity="0.30"/><line x1="33" y1="72" x2="77" y2="72" stroke-opacity="0.30"/><line x1="77" y1="72" x2="110" y2="72" stroke-opacity="0.30"/><line x1="110" y1="72" x2="148" y2="72" stroke-opacity="0.30"/><line x1="148" y1="72" x2="165" y2="72" stroke-opacity="0.30"/><line x1="165" y1="72" x2="220" y2="72" stroke-opacity="0.30"/><line x1="0" y1="110" x2="33" y2="110" stroke-opacity="0.20"/><line x1="33" y1="110" x2="77" y2="110" stroke-opacity="0.20"/><line x1="77" y1="110" x2="110" y2="110" stroke-opacity="0.20"/><line x1="110" y1="110" x2="148" y2="110" stroke-opacity="0.20"/><line x1="148" y1="110" x2="165" y2="110" stroke-opacity="0.20"/><line x1="165" y1="110" x2="220" y2="110" stroke-opacity="0.20"/><line x1="33" y1="141" x2="77" y2="141" stroke-opacity="0.06"/><line x1="110" y1="141" x2="148" y2="141" stroke-opacity="0.04"/><line x1="0" y1="186" x2="33" y2="186" stroke-opacity="0.34"/><line x1="33" y1="186" x2="77" y2="186" stroke-opacity="0.30"/><line x1="77" y1="186" x2="110" y2="186" stroke-opacity="0.30"/><line x1="110" y1="186" x2="148" y2="186" stroke-opacity="0.30"/><line x1="148" y1="186" x2="165" y2="186" stroke-opacity="0.30"/><line x1="165" y1="186" x2="220" y2="186" stroke-opacity="0.35"/></g><rect x="0" y="0" width="220" height="220" fill="none" stroke="#102838" stroke-width="2" vector-effect="non-scaling-stroke"/></svg>
<div class="tk" style="left:175.48px;top:378.80px"></div><div class="xl" style="left:165.73px;top:381.50px">50</div><div class="tk" style="left:198.20px;top:378.80px"></div><div class="xl" style="left:188.45px;top:381.50px">100</div><div class="tk" style="left:220.93px;top:378.80px"></div><div class="xl" style="left:211.18px;top:381.50px">150</div><div class="tk" style="left:243.66px;top:378.80px"></div><div class="xl" style="left:233.91px;top:381.50px">200</div><div class="tky" style="left:151.00px;top:356.73px"></div><div class="yl" style="left:130.30px;top:354.38px">50</div><div class="tky" style="left:151.00px;top:334.91px"></div><div class="yl" style="left:130.30px;top:332.56px">100</div><div class="tky" style="left:151.00px;top:313.10px"></div><div class="yl" style="left:130.30px;top:310.75px">150</div><div class="tky" style="left:151.00px;top:291.28px"></div><div class="yl" style="left:130.30px;top:288.93px">200</div><div class="xa" style="left:193.00px;top:390.10px">X</div><div class="ya" style="left:126.60px;top:327.30px">Y</div><div class="cap" style="left:150.10px;top:397.40px">(j) SN</div>
<svg class="pl" style="left:276.50px;top:284.10px;width:99.90px;height:96.10px" viewBox="0 0 220 220" preserveAspectRatio="none"><linearGradient id="gk00" gradientUnits="userSpaceOnUse" x1="0" y1="0" x2="33" y2="0"><stop offset="0" stop-color="#00eac9"/><stop offset="0.5" stop-color="#00e4eb"/><stop offset="1" stop-color="#00bff9"/></linearGradient><rect x="0" y="0" width="36" height="58" fill="url(#gk00)"/><linearGradient id="gk01" gradientUnits="userSpaceOnUse" x1="0" y1="0" x2="0" y2="55"><stop offset="0" stop-color="#0071f9"/><stop offset="0.5" stop-color="#0088f9"/><stop offset="1" stop-color="#0099f9"/></linearGradient><rect x="33" y="0" width="47" height="58" fill="url(#gk01)"/><linearGradient id="gk02" gradientUnits="userSpaceOnUse" x1="0" y1="0" x2="0" y2="55"><stop offset="0" stop-color="#0088f9"/><stop offset="0.5" stop-color="#0099f9"/><stop offset="1" stop-color="#00a8f9"/></linearGradient><rect x="77" y="0" width="36" height="58" fill="url(#gk02)"/><linearGradient id="gk03" gradientUnits="userSpaceOnUse" x1="0" y1="0" x2="0" y2="55"><stop offset="0" stop-color="#0088f9"/><stop offset="0.5" stop-color="#0099f9"/><stop offset="1" stop-color="#00a8f9"/></linearGradient><rect x="110" y="0" width="41" height="58" fill="url(#gk03)"/><linearGradient id="gk04" gradientUnits="userSpaceOnUse" x1="0" y1="0" x2="0" y2="55"><stop offset="0" stop-color="#007df9"/><stop offset="0.5" stop-color="#0091f9"/><stop offset="1" stop-color="#00a0f9"/></linearGradient><rect x="148" y="0" width="20" height="58" fill="url(#gk04)"/><linearGradient id="gk05" gradientUnits="userSpaceOnUse" x1="165" y1="0" x2="220" y2="0"><stop offset="0" stop-color="#0091f9"/><stop offset="0.5" stop-color="#00bff9"/><stop offset="1" stop-color="#00e4eb"/></linearGradient><rect x="165" y="0" width="58" height="58" fill="url(#gk05)"/><linearGradient id="gk10" gradientUnits="userSpaceOnUse" x1="0" y1="0" x2="33" y2="0"><stop offset="0" stop-color="#00f25b"/><stop offset="0.5" stop-color="#00f485"/><stop offset="1" stop-color="#00eeb6"/></linearGradient><rect x="0" y="55" width="36" height="20" fill="url(#gk10)"/><rect x="33" y="55" width="47" height="20" fill="#00cef9"/><rect x="77" y="55" width="36" height="20" fill="#00cef9"/><rect x="110" y="55" width="41" height="20" fill="#00d6f9"/><rect x="148" y="55" width="20" height="20" fill="#00cef9"/><linearGradient id="gk15" gradientUnits="userSpaceOnUse" x1="165" y1="0" x2="220" y2="0"><stop offset="0" stop-color="#00e9d0"/><stop offset="0.5" stop-color="#00f0ad"/><stop offset="1" stop-color="#00f37e"/></linearGradient><rect x="165" y="55" width="58" height="20" fill="url(#gk15)"/><linearGradient id="gk20" gradientUnits="userSpaceOnUse" x1="0" y1="0" x2="33" y2="0"><stop offset="0" stop-color="#00f149"/><stop offset="0.5" stop-color="#00f273"/><stop offset="1" stop-color="#00f2a0"/></linearGradient><rect x="0" y="72" width="36" height="41" fill="url(#gk20)"/><rect x="33" y="72" width="47" height="41" fill="#00a8f9"/><rect x="77" y="72" width="36" height="41" fill="#00b4f9"/><rect x="110" y="72" width="41" height="41" fill="#00cef9"/><rect x="148" y="72" width="20" height="41" fill="#00bbf9"/><linearGradient id="gk25" gradientUnits="userSpaceOnUse" x1="165" y1="0" x2="220" y2="0"><stop offset="0" stop-color="#00e9d0"/><stop offset="0.5" stop-color="#00f0ad"/><stop offset="1" stop-color="#00f37e"/></linearGradient><rect x="165" y="72" width="58" height="41" fill="url(#gk25)"/><linearGradient id="gk30" gradientUnits="userSpaceOnUse" x1="0" y1="0" x2="33" y2="0"><stop offset="0" stop-color="#00ee31"/><stop offset="0.5" stop-color="#00f25b"/><stop offset="1" stop-color="#00f485"/></linearGradient><rect x="0" y="110" width="36" height="34" fill="url(#gk30)"/><rect x="33" y="110" width="47" height="34" fill="#00c7f9"/><rect x="77" y="110" width="36" height="34" fill="#00e2f9"/><rect x="110" y="110" width="41" height="34" fill="#00e3f4"/><rect x="148" y="110" width="20" height="34" fill="#00cef9"/><linearGradient id="gk35" gradientUnits="userSpaceOnUse" x1="165" y1="0" x2="220" y2="0"><stop offset="0" stop-color="#00f2a0"/><stop offset="0.5" stop-color="#00f273"/><stop offset="1" stop-color="#00f149"/></linearGradient><rect x="165" y="110" width="58" height="34" fill="url(#gk35)"/><linearGradient id="gk40" gradientUnits="userSpaceOnUse" x1="0" y1="0" x2="33" y2="0"><stop offset="0" stop-color="#00ee31"/><stop offset="0.5" stop-color="#00f25b"/><stop offset="1" stop-color="#00f485"/></linearGradient><rect x="0" y="141" width="36" height="48" fill="url(#gk40)"/><rect x="33" y="141" width="47" height="48" fill="#00c7f9"/><rect x="77" y="141" width="36" height="48" fill="#00e2f9"/><rect x="110" y="141" width="41" height="48" fill="#00e3f4"/><rect x="148" y="141" width="20" height="48" fill="#00cef9"/><linearGradient id="gk45" gradientUnits="userSpaceOnUse" x1="165" y1="0" x2="220" y2="0"><stop offset="0" stop-color="#00f2a0"/><stop offset="0.5" stop-color="#00f273"/><stop offset="1" stop-color="#00f149"/></linearGradient><rect x="165" y="141" width="58" height="48" fill="url(#gk45)"/><linearGradient id="gk50" gradientUnits="userSpaceOnUse" x1="0" y1="0" x2="33" y2="0"><stop offset="0" stop-color="#00e2f9"/><stop offset="0.5" stop-color="#00b4f9"/><stop offset="1" stop-color="#0083f9"/></linearGradient><rect x="0" y="186" width="36" height="37" fill="url(#gk50)"/><linearGradient id="gk51" gradientUnits="userSpaceOnUse" x1="0" y1="186" x2="0" y2="220"><stop offset="0" stop-color="#0091f9"/><stop offset="0.5" stop-color="#007df9"/><stop offset="1" stop-color="#0066f9"/></linearGradient><rect x="33" y="186" width="47" height="37" fill="url(#gk51)"/><linearGradient id="gk52" gradientUnits="userSpaceOnUse" x1="0" y1="186" x2="0" y2="220"><stop offset="0" stop-color="#0095f9"/><stop offset="0.5" stop-color="#0083f9"/><stop offset="1" stop-color="#006cf9"/></linearGradient><rect x="77" y="186" width="36" height="37" fill="url(#gk52)"/><linearGradient id="gk53" gradientUnits="userSpaceOnUse" x1="0" y1="186" x2="0" y2="220"><stop offset="0" stop-color="#0099f9"/><stop offset="0.5" stop-color="#0088f9"/><stop offset="1" stop-color="#0071f9"/></linearGradient><rect x="110" y="186" width="41" height="37" fill="url(#gk53)"/><linearGradient id="gk54" gradientUnits="userSpaceOnUse" x1="0" y1="186" x2="0" y2="220"><stop offset="0" stop-color="#0095f9"/><stop offset="0.5" stop-color="#0083f9"/><stop offset="1" stop-color="#006cf9"/></linearGradient><rect x="148" y="186" width="20" height="37" fill="url(#gk54)"/><linearGradient id="gk55" gradientUnits="userSpaceOnUse" x1="165" y1="0" x2="220" y2="0"><stop offset="0" stop-color="#0083f9"/><stop offset="0.5" stop-color="#00b4f9"/><stop offset="1" stop-color="#00e2f9"/></linearGradient><rect x="165" y="186" width="58" height="37" fill="url(#gk55)"/><path d="M48.4 0.0L50.2 10.0 52.0 12.7 55.0 14.0 58.0 12.7 59.8 10.0 61.6 0.0M57.8 51.0L60.6 49.0 59.8 45.0 57.0 41.6 53.0 41.6 50.2 45.0 49.4 49.0 52.2 51.0 57.8 51.0M65.0 220.0L64.3 211.0 60.7 203.0 64.0 196.1 64.5 191.0 62.0 188.8 55.0 187.6 48.0 188.8 45.5 191.0 46.0 196.1 49.3 203.0 45.7 211.0 45.0 220.0M96.2 197.0L98.8 193.0 98.4 190.0 94.0 188.6 88.6 190.0 88.2 193.0 90.0 196.3 93.0 197.8 96.2 197.0M157.7 197.0L159.0 193.6 159.0 190.0 158.0 188.7 156.0 188.2 153.9 190.0 153.9 194.0 156.0 197.7 157.7 197.0M131.3 194.0L133.1 192.0 132.4 190.0 128.0 189.3 124.8 191.0 127.0 194.2 131.3 194.0M99.8 220.0L98.5 212.0 97.0 209.7 94.0 208.2 91.0 208.9 89.0 211.0 87.2 220.0M159.5 220.0L158.6 211.0 157.7 209.0 156.0 208.3 154.0 211.7 153.3 220.0M134.7 220.0L133.0 213.6 129.0 211.4 125.0 213.6 123.3 220.0M35.1 0.0L34.0 28.0 35.2 50.0 38.0 52.8 55.0 56.1 74.0 52.4 79.0 49.6 90.0 55.1 96.0 55.4 105.2 51.0 110.0 45.9 115.7 51.0 126.3 55.0 131.7 55.0 146.0 49.2 155.0 55.6 158.0 55.6 161.8 52.0 162.8 48.0 164.0 27.0 162.7 0.0M79.1 0.0L79.0 0.7 79.0 0.0M113.9 0.0L113.0 6.0 112.0 7.9 110.0 9.1 107.8 7.0 106.7 0.0M147.1 0.0L146.0 3.6 144.7 0.0M59.0 110.0L64.0 107.0 65.5 104.0 64.5 91.0 65.5 77.0 64.7 75.0 61.8 73.0 54.0 71.3 48.2 73.0 44.8 76.0 45.5 91.0 44.5 104.0 46.0 107.0 51.0 110.0 55.0 110.7 59.0 110.0M95.1 81.0L97.4 78.0 97.4 75.0 95.0 73.0 91.9 73.0 89.6 75.0 90.0 78.9 92.0 81.1 95.1 81.0M94.5 107.0L96.6 106.0 97.2 104.0 96.0 101.7 93.0 100.6 90.7 102.0 89.8 105.0 92.0 106.9 94.5 107.0M163.9 220.0L165.4 203.0 164.0 191.0 161.6 187.0 157.0 183.8 147.0 187.7 129.0 184.9 111.0 187.9 94.0 184.7 78.0 187.4 55.0 183.0 37.0 186.7 33.2 190.0 31.4 203.0 32.9 220.0M195.4 194.0L198.0 192.0 197.6 191.0 190.7 190.0 187.4 191.0 187.0 192.0 190.0 194.1 195.4 194.0M18.2 194.0L19.7 192.0 19.4 191.0 17.0 190.2 13.6 191.0 13.3 192.0 14.8 194.0 18.2 194.0M21.3 220.0L20.1 214.0 17.0 211.5 15.0 211.9 13.0 213.8 11.7 220.0M200.6 220.0L198.5 214.0 196.0 212.2 193.0 211.5 190.0 211.9 187.0 213.5 185.2 216.0 184.4 220.0M32.5 0.0L31.6 28.0 32.8 51.0 35.0 54.4 41.8 58.0 43.3 61.0 42.4 68.0 37.0 71.9 36.0 73.5 34.8 88.0 35.8 107.0 40.6 114.0 38.0 120.9 37.3 126.0 38.0 130.1 41.0 137.0 41.3 144.0 38.0 156.8 37.3 164.0 38.0 170.2 40.7 180.0 39.4 182.0 30.0 188.7 15.0 187.4 0.0 189.7M171.4 0.0L171.0 4.0 169.0 6.6 167.6 0.0M220.0 10.7L217.0 9.6 215.0 7.1 213.5 0.0M220.0 189.6L194.0 187.1 170.0 189.2 167.0 188.8 162.2 185.0 160.5 182.0 159.3 164.0 160.1 141.0 159.3 125.0 161.9 93.0 161.5 75.0 159.6 64.0 161.0 57.0 169.0 47.9 179.6 52.0 197.0 53.1 209.4 51.0 213.6 49.0 217.6 45.0 220.0 44.3M147.0 185.1L139.0 184.0 129.0 179.9 116.0 184.8 107.0 185.1 98.9 182.0 94.0 177.6 92.0 178.2 86.4 183.0 78.0 185.0 70.7 182.0 69.4 180.0 74.1 164.0 73.5 159.0 70.0 150.9 68.8 145.0 69.3 136.0 73.0 129.7 74.1 126.0 73.3 122.0 69.7 116.0 69.7 113.0 73.3 110.0 80.0 107.9 85.0 109.9 92.0 115.5 94.0 115.8 108.0 106.0 111.7 94.0 111.9 89.0 108.0 74.7 102.6 68.0 102.2 61.0 104.0 57.0 108.0 55.1 115.0 55.3 124.0 60.5 128.0 61.6 134.0 60.5 139.0 57.0 144.2 55.0 149.0 55.3 151.9 59.0 151.8 69.0 145.3 91.0 151.7 111.0 152.2 116.0 152.2 180.0 151.0 183.0 147.0 185.1M80.0 72.1L78.0 72.5 71.8 71.0 67.6 68.0 66.7 61.0 68.2 58.0 72.9 56.0 78.0 55.3 81.4 56.0 84.0 58.0 84.8 61.0 84.4 68.0 82.3 71.0 80.0 72.1M129.4 114.0L134.0 111.1 138.2 106.0 139.2 91.0 138.6 76.0 137.5 71.0 134.0 66.6 129.0 65.4 124.0 66.6 120.5 71.0 119.4 76.0 118.8 91.0 119.8 106.0 125.0 112.0 129.4 114.0M94.6 149.0L96.5 146.0 97.2 140.0 96.0 136.6 93.0 135.3 90.3 138.0 90.0 144.0 92.0 148.8 94.6 149.0M129.7 146.0L131.0 144.6 131.7 141.0 131.0 138.5 129.0 137.4 127.0 138.5 126.3 142.0 127.3 145.0 129.7 146.0M6.2 0.0L4.6 14.0 3.0 17.3 0.0 19.0M29.4 0.0L29.0 6.4 28.0 8.1 27.0 0.0M0.0 36.0L2.0 36.7 4.0 39.4 6.3 49.0 7.9 51.0 13.3 53.0 20.0 52.9 25.1 51.0 28.0 46.8 34.4 57.0 34.7 69.0 33.3 92.0 35.0 113.0 34.4 126.0 35.2 141.0 34.4 163.0 35.0 180.0 33.9 184.0 32.0 185.9 29.0 187.0 16.0 186.1 0.0 187.4M220.0 187.2L193.0 185.5 169.0 187.0 165.0 185.8 163.3 184.0 162.4 181.0 162.2 141.0 162.3 113.0 164.1 92.0 163.2 59.0 164.4 55.0 170.0 53.3 194.0 55.8 220.0 53.1M113.0 115.0L110.0 115.7 108.8 113.0 111.0 111.5 113.0 111.9 113.6 113.0 113.0 115.0M112.0 149.4L110.0 149.4 108.7 148.0 107.0 142.0 108.0 137.0 111.0 135.0 113.2 136.0 114.8 140.0 114.2 146.0 112.0 149.4M145.0 145.0L144.0 144.3 143.5 141.0 144.0 138.7 145.0 138.3 146.1 141.0 145.0 145.0M112.0 181.3L109.0 180.7 108.9 179.0 110.0 177.6 112.0 177.6 113.0 178.7 113.3 180.0 112.0 181.3M0.0 52.5L16.0 56.0 29.0 53.5 32.4 56.0 32.9 70.0 32.2 92.0 33.5 113.0 33.6 141.0 33.4 180.0 32.1 185.0 28.0 185.8 16.0 184.4 0.0 186.1M220.0 185.9L193.0 183.9 172.0 185.7 165.3 185.0 163.8 180.0 163.7 141.0 163.8 113.0 166.0 92.0 164.6 71.0 165.7 64.0 165.2 57.0 167.0 55.2 171.0 55.0 188.0 58.4 194.0 58.7 213.0 55.1 220.0 54.7M194.8 77.0L197.2 74.0 197.0 70.9 192.0 69.5 187.9 71.0 187.6 73.0 189.0 76.1 192.0 77.6 194.8 77.0M0.0 54.5L4.8 55.0 16.0 59.0 20.0 58.5 28.0 55.3 30.0 55.7 31.1 57.0 30.7 64.0 32.0 72.0 30.9 92.0 32.5 112.0 31.9 126.0 32.6 141.0 32.0 183.2 29.0 185.0 16.0 183.0 0.0 185.4M220.0 60.7L216.0 60.2 213.9 59.0 214.8 58.0 220.0 57.2M170.0 59.2L170.7 59.0 170.0 59.2M220.0 85.1L215.0 83.8 212.0 81.2 210.2 77.0 209.6 72.0 210.1 70.0 212.0 67.9 220.0 66.1M170.0 83.1L168.0 80.1 166.9 72.0 168.0 68.1 170.0 67.0 174.0 68.7 175.4 72.0 174.0 79.5 172.0 82.3 170.0 83.1M17.3 72.0L17.9 70.0 15.1 70.0 15.7 72.0 17.3 72.0M220.0 185.1L193.0 181.6 171.0 184.8 166.3 184.0 164.8 181.0 165.6 163.0 164.7 141.0 165.6 126.0 164.9 111.0 169.0 99.7 170.0 98.9 172.0 99.7 175.4 105.0 179.5 108.0 188.0 111.3 193.0 112.0 200.0 110.4 207.3 107.0 214.0 98.8 220.0 96.9M0.0 56.8L3.0 57.7 3.8 59.0 0.0 60.7M0.0 66.1L5.0 67.7 8.3 73.0 10.0 83.9 12.5 91.0 9.8 99.0 9.4 106.0 13.0 112.7 16.0 115.1 19.0 113.9 23.4 107.0 23.4 100.0 20.6 90.0 23.0 83.9 25.1 72.0 28.0 68.8 30.0 71.3 28.5 92.0 31.4 112.0 30.4 126.0 31.6 141.0 30.4 163.0 31.4 180.0 30.4 183.0 28.0 183.7 24.7 183.0 16.0 178.5 8.3 183.0 0.0 184.4M220.0 183.6L212.1 183.0 206.3 181.0 204.9 179.0 203.0 171.0 199.2 164.0 203.9 153.0 205.0 141.0 204.0 132.9 199.2 125.0 203.0 120.4 205.2 114.0 207.0 112.0 212.0 109.6 220.0 108.5M172.0 183.1L167.9 183.0 166.4 180.0 167.9 163.0 166.0 140.0 167.9 125.0 166.4 113.0 167.4 110.0 170.0 109.2 174.3 110.0 179.1 113.0 182.0 120.4 185.8 125.0 181.0 132.9 180.0 141.0 181.1 153.0 185.8 164.0 182.0 171.0 179.7 180.0 176.7 182.0 172.0 183.1M17.5 148.0L19.3 145.0 19.8 140.0 18.6 137.0 16.0 135.9 13.8 138.0 13.3 143.0 15.0 147.7 17.5 148.0M0.0 74.2L0.0 75.6M0.0 105.2L2.0 106.1 5.7 110.0 6.9 113.0 6.0 119.7 2.2 126.0 6.3 132.0 7.3 141.0 6.3 154.0 2.1 163.0 6.0 171.9 7.0 179.0 4.8 182.0 0.0 183.0M28.0 118.1L26.9 118.0 26.1 114.0 28.0 110.3 29.0 111.0 29.3 113.0 28.0 118.1M28.0 152.8L26.7 152.0 25.9 146.0 26.0 137.0 27.0 132.9 28.0 132.9 29.0 135.0 29.7 140.0 28.0 152.8M220.0 146.0L217.0 144.1 216.2 141.0 217.0 138.9 220.0 137.6M28.0 181.2L26.2 179.0 27.0 174.2 28.0 174.2 29.0 177.4 29.0 180.5 28.0 181.2" fill="none" stroke="#0a2a3a" stroke-opacity="0.45" stroke-width="0.5" vector-effect="non-scaling-stroke"/><g stroke="#0a2020" stroke-width="1" vector-effect="non-scaling-stroke"><line x1="33" y1="0" x2="33" y2="55" stroke-opacity="0.25"/><line x1="110" y1="0" x2="110" y2="55" stroke-opacity="0.15"/><line x1="148" y1="0" x2="148" y2="55" stroke-opacity="0.20"/><line x1="165" y1="0" x2="165" y2="55" stroke-opacity="0.20"/><line x1="33" y1="55" x2="33" y2="72" stroke-opacity="0.25"/><line x1="110" y1="55" x2="110" y2="72" stroke-opacity="0.15"/><line x1="148" y1="55" x2="148" y2="72" stroke-opacity="0.20"/><line x1="165" y1="55" x2="165" y2="72" stroke-opacity="0.20"/><line x1="33" y1="72" x2="33" y2="110" stroke-opacity="0.25"/><line x1="110" y1="72" x2="110" y2="110" stroke-opacity="0.15"/><line x1="148" y1="72" x2="148" y2="110" stroke-opacity="0.20"/><line x1="165" y1="72" x2="165" y2="110" stroke-opacity="0.20"/><line x1="33" y1="110" x2="33" y2="141" stroke-opacity="0.25"/><line x1="110" y1="110" x2="110" y2="141" stroke-opacity="0.15"/><line x1="148" y1="110" x2="148" y2="141" stroke-opacity="0.20"/><line x1="165" y1="110" x2="165" y2="141" stroke-opacity="0.20"/><line x1="33" y1="141" x2="33" y2="186" stroke-opacity="0.25"/><line x1="110" y1="141" x2="110" y2="186" stroke-opacity="0.15"/><line x1="148" y1="141" x2="148" y2="186" stroke-opacity="0.20"/><line x1="165" y1="141" x2="165" y2="186" stroke-opacity="0.20"/><line x1="33" y1="186" x2="33" y2="220" stroke-opacity="0.25"/><line x1="110" y1="186" x2="110" y2="220" stroke-opacity="0.15"/><line x1="148" y1="186" x2="148" y2="220" stroke-opacity="0.20"/><line x1="165" y1="186" x2="165" y2="220" stroke-opacity="0.20"/><line x1="0" y1="55" x2="33" y2="55" stroke-opacity="0.35"/><line x1="33" y1="55" x2="77" y2="55" stroke-opacity="0.35"/><line x1="77" y1="55" x2="110" y2="55" stroke-opacity="0.35"/><line x1="110" y1="55" x2="148" y2="55" stroke-opacity="0.35"/><line x1="148" y1="55" x2="165" y2="55" stroke-opacity="0.35"/><line x1="165" y1="55" x2="220" y2="55" stroke-opacity="0.35"/><line x1="0" y1="72" x2="33" y2="72" stroke-opacity="0.30"/><line x1="33" y1="72" x2="77" y2="72" stroke-opacity="0.30"/><line x1="77" y1="72" x2="110" y2="72" stroke-opacity="0.30"/><line x1="110" y1="72" x2="148" y2="72" stroke-opacity="0.30"/><line x1="148" y1="72" x2="165" y2="72" stroke-opacity="0.30"/><line x1="165" y1="72" x2="220" y2="72" stroke-opacity="0.30"/><line x1="0" y1="110" x2="33" y2="110" stroke-opacity="0.20"/><line x1="33" y1="110" x2="77" y2="110" stroke-opacity="0.20"/><line x1="77" y1="110" x2="110" y2="110" stroke-opacity="0.20"/><line x1="110" y1="110" x2="148" y2="110" stroke-opacity="0.20"/><line x1="148" y1="110" x2="165" y2="110" stroke-opacity="0.20"/><line x1="165" y1="110" x2="220" y2="110" stroke-opacity="0.20"/><line x1="0" y1="186" x2="33" y2="186" stroke-opacity="0.30"/><line x1="33" y1="186" x2="77" y2="186" stroke-opacity="0.30"/><line x1="77" y1="186" x2="110" y2="186" stroke-opacity="0.30"/><line x1="110" y1="186" x2="148" y2="186" stroke-opacity="0.30"/><line x1="148" y1="186" x2="165" y2="186" stroke-opacity="0.30"/><line x1="165" y1="186" x2="220" y2="186" stroke-opacity="0.30"/></g><rect x="0" y="0" width="220" height="220" fill="none" stroke="#102838" stroke-width="2" vector-effect="non-scaling-stroke"/></svg>
<div class="tk" style="left:298.95px;top:380.20px"></div><div class="xl" style="left:289.20px;top:382.90px">50</div><div class="tk" style="left:321.66px;top:380.20px"></div><div class="xl" style="left:311.91px;top:382.90px">100</div><div class="tk" style="left:344.36px;top:380.20px"></div><div class="xl" style="left:334.61px;top:382.90px">150</div><div class="tk" style="left:367.07px;top:380.20px"></div><div class="xl" style="left:357.32px;top:382.90px">200</div><div class="tky" style="left:274.50px;top:358.11px"></div><div class="yl" style="left:253.80px;top:355.76px">50</div><div class="tky" style="left:274.50px;top:336.27px"></div><div class="yl" style="left:253.80px;top:333.92px">100</div><div class="tky" style="left:274.50px;top:314.43px"></div><div class="yl" style="left:253.80px;top:312.08px">150</div><div class="tky" style="left:274.50px;top:292.59px"></div><div class="yl" style="left:253.80px;top:290.24px">200</div><div class="xa" style="left:316.45px;top:391.50px">X</div><div class="ya" style="left:250.10px;top:328.65px">Y</div><div class="cap" style="left:281.25px;top:399.60px">(k) SM</div>
<svg class="pl" style="left:403.20px;top:284.20px;width:99.90px;height:95.80px" viewBox="0 0 220 220" preserveAspectRatio="none"><linearGradient id="gl00" gradientUnits="userSpaceOnUse" x1="0" y1="0" x2="33" y2="0"><stop offset="0" stop-color="#00ebc5"/><stop offset="0.5" stop-color="#00e5e2"/><stop offset="1" stop-color="#00c7f9"/></linearGradient><rect x="0" y="0" width="36" height="58" fill="url(#gl00)"/><linearGradient id="gl01" gradientUnits="userSpaceOnUse" x1="0" y1="0" x2="0" y2="55"><stop offset="0" stop-color="#0033f4"/><stop offset="0.5" stop-color="#003df7"/><stop offset="1" stop-color="#004af9"/></linearGradient><rect x="33" y="0" width="47" height="58" fill="url(#gl01)"/><linearGradient id="gl02" gradientUnits="userSpaceOnUse" x1="0" y1="0" x2="0" y2="55"><stop offset="0" stop-color="#0047f9"/><stop offset="0.5" stop-color="#0054f9"/><stop offset="1" stop-color="#006cf9"/></linearGradient><rect x="77" y="0" width="36" height="58" fill="url(#gl02)"/><linearGradient id="gl03" gradientUnits="userSpaceOnUse" x1="0" y1="0" x2="0" y2="55"><stop offset="0" stop-color="#0077f9"/><stop offset="0.5" stop-color="#008ef9"/><stop offset="1" stop-color="#009cf9"/></linearGradient><rect x="110" y="0" width="41" height="58" fill="url(#gl03)"/><linearGradient id="gl04" gradientUnits="userSpaceOnUse" x1="0" y1="0" x2="0" y2="55"><stop offset="0" stop-color="#0039f6"/><stop offset="0.5" stop-color="#0043f9"/><stop offset="1" stop-color="#0052f9"/></linearGradient><rect x="148" y="0" width="20" height="58" fill="url(#gl04)"/><linearGradient id="gl05" gradientUnits="userSpaceOnUse" x1="165" y1="0" x2="220" y2="0"><stop offset="0" stop-color="#00a0f9"/><stop offset="0.5" stop-color="#00cef9"/><stop offset="1" stop-color="#00e7d9"/></linearGradient><rect x="165" y="0" width="58" height="58" fill="url(#gl05)"/><linearGradient id="gl10" gradientUnits="userSpaceOnUse" x1="0" y1="0" x2="33" y2="0"><stop offset="0" stop-color="#03de00"/><stop offset="0.5" stop-color="#00e413"/><stop offset="1" stop-color="#00eb29"/></linearGradient><rect x="0" y="55" width="36" height="20" fill="url(#gl10)"/><rect x="33" y="55" width="47" height="20" fill="#00b4f9"/><rect x="77" y="55" width="36" height="20" fill="#00c7f9"/><rect x="110" y="55" width="41" height="20" fill="#00e2f9"/><rect x="148" y="55" width="20" height="20" fill="#00b4f9"/><linearGradient id="gl15" gradientUnits="userSpaceOnUse" x1="165" y1="0" x2="220" y2="0"><stop offset="0" stop-color="#00eb29"/><stop offset="0.5" stop-color="#00e413"/><stop offset="1" stop-color="#03de00"/></linearGradient><rect x="165" y="55" width="58" height="20" fill="url(#gl15)"/><linearGradient id="gl20" gradientUnits="userSpaceOnUse" x1="0" y1="0" x2="33" y2="0"><stop offset="0" stop-color="#00e518"/><stop offset="0.5" stop-color="#00ed2f"/><stop offset="1" stop-color="#00f257"/></linearGradient><rect x="0" y="72" width="36" height="41" fill="url(#gl20)"/><rect x="33" y="72" width="47" height="41" fill="#008ef9"/><rect x="77" y="72" width="36" height="41" fill="#0099f9"/><rect x="110" y="72" width="41" height="41" fill="#00cef9"/><rect x="148" y="72" width="20" height="41" fill="#0071f9"/><linearGradient id="gl25" gradientUnits="userSpaceOnUse" x1="165" y1="0" x2="220" y2="0"><stop offset="0" stop-color="#00f16f"/><stop offset="0.5" stop-color="#00f045"/><stop offset="1" stop-color="#00ea25"/></linearGradient><rect x="165" y="72" width="58" height="41" fill="url(#gl25)"/><linearGradient id="gl30" gradientUnits="userSpaceOnUse" x1="0" y1="0" x2="33" y2="0"><stop offset="0" stop-color="#0cdf00"/><stop offset="0.5" stop-color="#00e00a"/><stop offset="1" stop-color="#00e820"/></linearGradient><rect x="0" y="110" width="36" height="34" fill="url(#gl30)"/><rect x="33" y="110" width="47" height="34" fill="#00a0f9"/><rect x="77" y="110" width="36" height="34" fill="#00c7f9"/><rect x="110" y="110" width="41" height="34" fill="#00eeb6"/><rect x="148" y="110" width="20" height="34" fill="#00e2f9"/><linearGradient id="gl35" gradientUnits="userSpaceOnUse" x1="165" y1="0" x2="220" y2="0"><stop offset="0" stop-color="#00e820"/><stop offset="0.5" stop-color="#00e00a"/><stop offset="1" stop-color="#0cdf00"/></linearGradient><rect x="165" y="110" width="58" height="34" fill="url(#gl35)"/><linearGradient id="gl40" gradientUnits="userSpaceOnUse" x1="0" y1="0" x2="33" y2="0"><stop offset="0" stop-color="#25e500"/><stop offset="0.5" stop-color="#10e000"/><stop offset="1" stop-color="#00de04"/></linearGradient><rect x="0" y="141" width="36" height="48" fill="url(#gl40)"/><rect x="33" y="141" width="47" height="48" fill="#00e3f4"/><rect x="77" y="141" width="36" height="48" fill="#00e4eb"/><rect x="110" y="141" width="41" height="48" fill="#00f497"/><rect x="148" y="141" width="20" height="48" fill="#00e3f4"/><linearGradient id="gl45" gradientUnits="userSpaceOnUse" x1="165" y1="0" x2="220" y2="0"><stop offset="0" stop-color="#00e820"/><stop offset="0.5" stop-color="#00e00a"/><stop offset="1" stop-color="#0cdf00"/></linearGradient><rect x="165" y="141" width="58" height="48" fill="url(#gl45)"/><linearGradient id="gl50" gradientUnits="userSpaceOnUse" x1="0" y1="0" x2="33" y2="0"><stop offset="0" stop-color="#00e4f0"/><stop offset="0.5" stop-color="#00bbf9"/><stop offset="1" stop-color="#008ef9"/></linearGradient><rect x="0" y="186" width="36" height="37" fill="url(#gl50)"/><linearGradient id="gl51" gradientUnits="userSpaceOnUse" x1="0" y1="186" x2="0" y2="220"><stop offset="0" stop-color="#0040f8"/><stop offset="0.5" stop-color="#0036f5"/><stop offset="1" stop-color="#002bf2"/></linearGradient><rect x="33" y="186" width="47" height="37" fill="url(#gl51)"/><linearGradient id="gl52" gradientUnits="userSpaceOnUse" x1="0" y1="186" x2="0" y2="220"><stop offset="0" stop-color="#0052f9"/><stop offset="0.5" stop-color="#0043f9"/><stop offset="1" stop-color="#0039f6"/></linearGradient><rect x="77" y="186" width="36" height="37" fill="url(#gl52)"/><linearGradient id="gl53" gradientUnits="userSpaceOnUse" x1="0" y1="186" x2="0" y2="220"><stop offset="0" stop-color="#006cf9"/><stop offset="0.5" stop-color="#0054f9"/><stop offset="1" stop-color="#0047f9"/></linearGradient><rect x="110" y="186" width="41" height="37" fill="url(#gl53)"/><linearGradient id="gl54" gradientUnits="userSpaceOnUse" x1="0" y1="186" x2="0" y2="220"><stop offset="0" stop-color="#0047f9"/><stop offset="0.5" stop-color="#003cf6"/><stop offset="1" stop-color="#0031f3"/></linearGradient><rect x="148" y="186" width="20" height="37" fill="url(#gl54)"/><linearGradient id="gl55" gradientUnits="userSpaceOnUse" x1="165" y1="0" x2="220" y2="0"><stop offset="0" stop-color="#008ef9"/><stop offset="0.5" stop-color="#00bbf9"/><stop offset="1" stop-color="#00e4f0"/></linearGradient><rect x="165" y="186" width="58" height="37" fill="url(#gl55)"/><ellipse cx="4" cy="158" rx="4" ry="12" fill="#7fef00"/><path d="M38.6 0.0L36.4 27.0 38.2 48.0 39.6 50.0 41.9 51.0 55.0 53.0 68.1 51.0 72.2 48.0 74.9 35.0 75.4 27.0 71.7 0.0M92.6 0.0L93.0 2.2 94.0 2.2 94.4 0.0M151.9 0.0L151.9 48.0 152.9 51.0 156.0 52.4 159.0 51.6 160.3 49.0 160.4 0.0M103.1 220.0L103.7 213.0 106.2 202.0 103.3 192.0 101.6 190.0 95.0 188.4 87.8 189.0 84.2 191.0 82.0 196.1 80.0 197.0 76.3 191.0 74.0 189.6 55.0 187.3 39.0 188.9 36.0 190.8 34.8 203.0 35.9 220.0M161.4 220.0L161.3 191.0 160.0 188.6 156.0 187.6 150.6 190.0 148.7 197.0 148.1 204.0 150.0 220.0M76.0 220.0L78.0 211.6 80.0 209.0 81.0 209.0 83.0 212.2 83.8 220.0M130.1 220.0L129.0 218.5 127.9 220.0M34.4 0.0L33.9 30.0 34.8 51.0 38.0 53.6 55.0 55.7 80.0 52.0 90.0 53.8 96.0 53.9 107.0 51.0 108.3 48.0 109.8 29.0 108.0 0.0M125.1 0.0L126.0 6.0 127.1 8.0 129.0 9.1 130.9 8.0 132.0 6.0 132.9 0.0M147.6 0.0L146.2 27.0 147.5 49.0 150.0 52.9 156.0 55.5 158.7 55.0 161.0 53.3 163.0 49.0 163.0 0.0M131.1 49.0L130.8 47.0 129.0 45.9 126.8 48.0 128.0 49.6 131.1 49.0M158.3 107.0L159.9 104.0 160.0 77.0 159.0 73.6 156.0 72.4 153.0 74.0 151.9 77.0 151.8 103.0 152.2 105.0 154.0 106.8 158.3 107.0M56.0 78.0L57.2 77.0 57.0 75.8 55.0 75.2 52.8 76.0 54.0 78.0 56.0 78.0M56.9 106.0L57.0 105.0 55.5 104.0 53.0 105.0 54.0 106.5 56.9 106.0M163.7 220.0L163.7 191.0 162.2 188.0 159.0 186.1 155.0 185.8 144.0 189.1 129.0 187.8 113.0 189.3 96.0 186.3 79.0 187.5 55.0 185.5 38.0 186.8 34.0 189.0 32.6 201.0 33.2 220.0M32.9 0.0L32.4 29.0 33.2 51.0 35.0 53.9 38.0 55.8 55.0 59.8 79.0 54.6 95.0 57.2 113.0 52.2 129.0 55.1 144.0 52.4 149.5 55.0 155.0 59.4 158.0 59.1 163.7 52.0 164.6 49.0 165.4 28.0 164.6 0.0M61.2 139.0L68.2 136.0 72.0 130.7 73.2 124.0 69.6 116.0 69.4 113.0 77.0 106.1 80.0 105.3 89.0 110.3 94.0 111.4 98.7 110.0 105.0 106.0 107.0 97.9 107.4 88.0 105.4 76.0 102.4 73.0 97.0 70.4 92.0 70.0 88.4 71.0 79.0 76.3 74.0 73.3 62.0 68.6 55.0 67.2 48.0 68.6 39.0 72.4 37.4 74.0 36.0 87.3 36.6 104.0 37.3 108.0 40.8 114.0 38.0 124.0 39.0 131.5 41.8 136.0 45.3 138.0 53.0 139.6 61.2 139.0M158.6 110.0L161.0 107.6 161.7 105.0 161.8 76.0 161.0 72.2 159.0 68.6 156.0 67.2 150.0 72.0 148.6 75.0 147.6 89.0 148.0 101.3 148.8 106.0 150.5 108.0 155.0 110.4 158.6 110.0M165.4 220.0L166.5 203.0 165.6 192.0 164.0 188.0 159.0 184.3 155.0 184.0 144.0 187.2 129.0 186.5 113.0 187.3 95.0 184.2 79.0 185.8 55.0 183.7 37.0 185.6 32.3 189.0 31.2 192.0 30.4 201.0 31.4 220.0M18.2 220.0L17.0 217.2 15.3 218.0 14.8 220.0M195.4 220.0L194.6 218.0 193.0 217.1 190.4 218.0 189.6 220.0M31.7 0.0L30.9 27.0 31.6 48.0 32.5 52.0 36.3 59.0 34.5 90.0 36.0 137.0 38.0 140.0 45.2 142.0 55.0 146.6 64.8 142.0 75.6 139.0 80.0 133.0 82.0 134.0 85.7 139.0 93.0 143.2 98.0 141.5 103.1 137.0 105.5 126.0 104.1 114.0 109.8 106.0 113.1 92.0 109.7 74.0 105.7 68.0 107.1 63.0 105.6 59.0 107.3 57.0 111.0 55.0 115.0 55.0 129.0 58.9 143.0 55.1 147.0 56.1 148.3 59.0 147.5 63.0 148.2 69.0 146.2 74.0 143.3 88.0 143.3 94.0 145.5 104.0 147.6 108.0 156.0 115.8 158.0 114.6 162.0 108.4 162.9 104.0 162.9 77.0 161.2 68.0 161.2 59.0 162.1 56.0 166.7 49.0 168.9 31.0 166.7 0.0M178.5 0.0L177.7 28.0 178.6 47.0 179.8 49.0 182.2 50.0 192.0 51.1 202.8 50.0 205.2 49.0 206.4 47.0 207.3 28.0 206.5 0.0M134.2 107.0L137.8 105.0 138.6 103.0 139.3 91.0 138.5 76.0 137.3 73.0 134.0 69.7 131.0 68.5 127.0 68.5 122.3 71.0 119.5 76.0 118.8 91.0 119.4 103.0 120.2 105.0 123.8 107.0 129.0 107.7 134.2 107.0M81.0 118.0L79.0 116.8 78.3 115.0 79.0 112.0 81.0 112.1 82.5 114.0 81.0 118.0M157.1 145.0L157.8 138.0 157.0 135.6 156.0 135.5 155.0 137.8 155.0 141.5 156.0 145.8 157.1 145.0M220.0 191.4L194.0 188.4 169.0 190.5 156.0 179.8 150.8 184.0 146.0 185.8 129.0 184.9 114.0 186.1 94.0 181.3 78.0 184.5 66.5 183.0 55.0 179.6 37.0 184.3 29.0 189.8 14.0 188.7 0.0 191.5M0.0 216.8L1.5 218.0 2.0 220.0M216.7 220.0L217.4 218.0 220.0 216.8M7.9 0.0L6.3 28.0 8.4 49.0 12.0 51.0 15.0 51.4 23.5 50.0 25.0 48.0 26.0 36.5 27.0 34.9 29.6 49.0 34.7 58.0 33.6 90.0 34.4 131.0 35.0 138.7 38.6 146.0 36.8 163.0 38.3 179.0 36.2 183.0 30.0 187.8 15.0 187.5 0.0 188.6M29.5 0.0L29.0 10.9 27.0 20.1 25.6 15.0 25.2 0.0M220.0 188.4L194.0 187.2 167.0 187.7 163.2 185.0 161.2 182.0 160.7 164.0 161.0 115.0 163.4 107.0 163.8 102.0 163.7 76.0 162.4 67.0 163.1 56.0 166.0 52.5 169.0 51.1 193.0 52.5 220.0 50.8M146.0 185.1L129.0 183.7 111.0 185.1 105.5 182.0 104.2 180.0 105.8 163.0 103.9 145.0 108.1 136.0 108.9 126.0 108.3 113.0 109.4 110.0 112.0 108.2 115.0 108.0 129.0 110.9 144.0 108.1 147.7 110.0 150.0 113.0 149.5 126.0 151.0 143.0 150.2 163.0 150.9 180.0 149.4 183.0 146.0 185.1M79.0 155.0L77.0 154.1 74.5 151.0 72.3 146.0 73.5 144.0 79.0 141.7 81.8 143.0 82.9 146.0 81.8 152.0 79.0 155.0M79.0 182.1L74.2 181.0 73.0 179.0 77.0 172.9 79.0 172.0 81.3 174.0 82.6 179.0 81.8 181.0 79.0 182.1M0.0 50.8L15.0 52.9 28.0 51.7 32.0 54.1 33.5 57.0 33.0 104.0 33.8 136.0 35.6 146.0 35.5 180.0 34.0 184.0 29.0 187.2 15.0 186.8 0.0 187.6M220.0 187.3L193.0 186.4 170.0 187.2 165.0 185.8 162.8 183.0 162.1 180.0 162.1 144.0 162.2 114.0 164.1 107.0 164.6 96.0 164.3 76.0 163.3 67.0 163.4 58.0 164.4 55.0 167.0 53.1 170.0 52.5 193.0 53.5 220.0 52.4M145.0 184.1L129.0 181.8 113.0 184.3 110.0 183.5 108.9 182.0 108.3 179.0 109.2 162.0 108.2 145.0 111.1 127.0 110.1 113.0 112.0 110.3 118.2 111.0 122.2 113.0 126.0 116.5 129.0 117.5 132.0 116.5 135.8 113.0 141.0 110.6 145.0 110.4 147.1 112.0 147.6 115.0 146.4 126.0 148.5 143.0 147.5 163.0 148.3 180.0 147.3 183.0 145.0 184.1M130.2 140.0L132.9 138.0 133.0 136.0 131.0 133.9 127.0 133.9 125.0 136.0 125.1 138.0 128.0 140.2 130.2 140.0M0.0 52.6L16.0 54.0 28.0 53.1 32.0 54.8 32.5 56.0 33.0 69.0 32.1 94.0 33.0 135.0 34.4 146.0 34.4 180.0 32.5 185.0 28.0 186.5 0.0 186.8M220.0 186.4L193.0 185.3 170.0 186.3 165.0 185.2 163.1 180.0 163.0 143.0 163.2 114.0 164.8 106.0 165.4 93.0 164.0 68.0 164.1 58.0 164.9 55.0 170.0 53.5 193.0 54.8 220.0 53.4M117.0 182.2L112.0 182.5 110.4 180.0 112.1 163.0 110.2 144.0 111.0 140.6 114.0 136.7 120.0 143.0 122.7 156.0 125.0 159.8 128.5 163.0 128.5 164.0 123.0 170.2 120.4 180.0 117.0 182.2M145.0 182.3L140.3 182.0 137.6 180.0 135.0 170.2 129.5 164.0 135.3 156.0 138.0 143.0 143.0 137.5 145.0 138.6 146.7 144.0 144.7 163.0 146.4 180.0 145.0 182.3M0.0 53.7L16.0 55.5 28.0 54.1 31.0 54.9 32.0 56.0 32.4 70.0 31.2 93.0 33.6 146.0 33.6 180.0 32.0 185.0 28.0 185.9 16.0 184.9 0.0 186.1M220.0 185.8L194.0 184.4 171.0 185.7 165.7 185.0 163.9 180.0 163.8 143.0 164.0 113.0 165.7 105.0 166.4 92.0 164.6 69.0 165.1 56.0 169.0 54.3 193.0 55.7 220.0 54.2M0.0 54.4L16.0 56.5 29.0 54.8 31.5 57.0 31.9 70.0 30.1 92.0 32.1 112.0 31.6 127.0 32.9 146.0 32.9 180.0 32.0 184.1 29.0 185.4 16.0 184.3 0.0 185.7M220.0 185.3L194.0 183.5 171.0 185.2 166.0 184.3 164.5 180.0 164.4 142.0 164.5 113.0 166.7 105.0 167.9 92.0 166.7 76.0 165.2 69.0 165.3 58.0 166.0 56.1 167.7 55.0 171.0 54.8 194.0 56.7 220.0 54.7M194.6 85.0L198.0 83.7 200.8 81.0 202.2 77.0 201.3 75.0 198.0 73.4 193.0 72.7 188.0 73.1 183.7 75.0 183.0 78.3 186.0 83.0 190.0 84.9 194.6 85.0M198.6 107.0L201.6 105.0 201.7 103.0 199.0 99.0 195.0 97.1 188.0 97.7 185.0 100.0 183.3 103.0 183.4 105.0 186.4 107.0 192.0 107.8 198.6 107.0M0.0 55.0L16.0 57.9 28.0 55.7 30.0 56.4 30.8 58.0 31.0 70.0 27.7 91.0 31.4 112.0 30.8 127.0 32.5 145.0 32.0 183.0 29.0 184.9 16.0 183.5 0.0 185.3M220.0 81.9L215.0 80.3 208.8 74.0 201.0 70.8 194.0 69.6 183.5 71.0 176.2 74.0 171.0 79.0 170.0 78.9 166.0 69.0 166.1 58.0 168.0 55.8 193.0 58.0 220.0 55.3M18.6 110.0L23.0 107.0 24.1 105.0 23.1 91.0 24.3 77.0 23.4 74.0 20.3 71.0 16.0 70.0 12.7 71.0 9.6 74.0 8.8 76.0 9.9 91.0 8.8 104.0 10.0 107.0 14.0 109.7 18.6 110.0M220.0 184.8L193.0 182.3 171.0 184.6 166.9 184.0 165.0 180.0 165.7 163.0 164.9 142.0 165.8 126.0 165.2 112.0 170.0 102.9 179.4 108.0 187.0 110.3 194.0 110.9 208.2 107.0 216.0 101.0 220.0 100.1M0.0 56.0L6.1 57.0 16.0 60.8 20.0 60.2 27.0 57.1 29.0 57.5 29.9 69.0 29.5 71.0 28.0 72.4 20.0 66.9 14.0 66.6 11.0 68.1 0.0 77.9M220.0 73.0L211.0 71.6 201.0 67.6 195.0 66.3 187.0 66.8 171.0 72.2 168.0 71.4 167.1 69.0 167.2 59.0 169.0 56.7 193.0 60.8 211.1 57.0 220.0 56.3M0.0 103.9L16.0 115.6 18.0 115.3 27.0 108.2 30.0 109.9 29.9 128.0 32.0 145.0 31.3 163.0 31.9 180.0 31.1 183.0 28.0 184.3 16.0 182.5 0.0 184.8M220.0 184.0L203.3 182.0 193.0 177.8 177.0 183.0 170.0 183.8 167.0 183.0 165.9 180.0 166.8 163.0 165.7 141.0 166.8 126.0 166.0 113.0 168.0 109.1 171.0 108.3 177.0 109.6 189.0 115.0 193.0 115.7 208.0 109.6 220.0 107.6M17.7 137.0L17.0 135.9 15.3 137.0 16.0 137.7 17.7 137.0M193.4 149.0L197.3 146.0 198.5 140.0 196.0 136.4 191.0 135.6 187.3 138.0 186.6 143.0 189.0 147.7 193.4 149.0M0.0 57.9L2.9 59.0 2.4 60.0 0.0 60.5M220.0 60.5L216.3 60.0 215.7 59.0 220.0 58.3M0.0 66.3L3.0 67.1 4.1 69.0 2.4 71.0 0.0 71.4M220.0 70.4L216.7 70.0 214.3 68.0 220.0 66.4M0.0 109.0L4.7 110.0 7.6 113.0 8.7 137.0 11.6 141.0 16.0 144.3 20.0 142.3 24.3 137.0 25.1 114.0 27.0 111.3 28.9 112.0 29.0 116.6 27.1 126.0 31.2 145.0 30.4 163.0 31.1 180.0 30.0 182.9 26.0 183.2 16.0 180.5 8.2 183.0 0.0 184.2M220.0 183.0L208.1 181.0 206.5 179.0 206.3 173.0 206.5 115.0 207.6 113.0 211.2 111.0 220.0 109.7M174.0 182.0L169.0 182.5 167.1 180.0 168.9 163.0 166.8 140.0 169.0 125.0 167.1 114.0 168.0 111.0 170.0 110.2 176.0 112.0 178.2 114.0 178.7 116.0 178.7 178.0 178.1 180.0 174.0 182.0M0.0 112.3L2.0 114.0 0.0 115.4M220.0 115.4L217.2 114.0 220.0 112.9M0.0 135.2L3.0 136.5 8.5 142.0 11.8 154.0 15.0 157.6 18.0 157.6 20.7 155.0 23.4 144.0 26.0 140.4 28.0 139.6 29.0 140.3 30.2 145.0 29.0 163.0 30.1 180.0 29.2 182.0 27.0 182.3 24.1 181.0 20.0 171.0 18.0 169.4 16.0 169.1 12.3 172.0 8.9 181.0 4.0 183.0 0.0 183.3M220.0 149.1L215.8 147.0 213.9 141.0 215.7 137.0 220.0 135.4M170.0 142.8L170.0 139.8 170.0 142.8M220.0 180.3L217.8 180.0 217.6 179.0 220.0 178.0M0.0 140.3L4.5 142.0 5.9 146.0 4.0 153.4 2.0 155.7 0.0 156.3M0.0 170.7L2.0 171.3 4.0 173.6 5.5 179.0 4.5 181.0 0.0 182.1" fill="none" stroke="#0a2a3a" stroke-opacity="0.45" stroke-width="0.5" vector-effect="non-scaling-stroke"/><g stroke="#0a2020" stroke-width="1" vector-effect="non-scaling-stroke"><line x1="33" y1="0" x2="33" y2="55" stroke-opacity="0.25"/><line x1="110" y1="0" x2="110" y2="55" stroke-opacity="0.15"/><line x1="148" y1="0" x2="148" y2="55" stroke-opacity="0.20"/><line x1="165" y1="0" x2="165" y2="55" stroke-opacity="0.20"/><line x1="33" y1="55" x2="33" y2="72" stroke-opacity="0.38"/><line x1="110" y1="55" x2="110" y2="72" stroke-opacity="0.15"/><line x1="148" y1="55" x2="148" y2="72" stroke-opacity="0.20"/><line x1="165" y1="55" x2="165" y2="72" stroke-opacity="0.38"/><line x1="33" y1="72" x2="33" y2="110" stroke-opacity="0.36"/><line x1="110" y1="72" x2="110" y2="110" stroke-opacity="0.15"/><line x1="148" y1="72" x2="148" y2="110" stroke-opacity="0.20"/><line x1="165" y1="72" x2="165" y2="110" stroke-opacity="0.35"/><line x1="33" y1="110" x2="33" y2="141" stroke-opacity="0.43"/><line x1="77" y1="110" x2="77" y2="141" stroke-opacity="0.04"/><line x1="110" y1="110" x2="110" y2="141" stroke-opacity="0.15"/><line x1="148" y1="110" x2="148" y2="141" stroke-opacity="0.20"/><line x1="165" y1="110" x2="165" y2="141" stroke-opacity="0.35"/><line x1="33" y1="141" x2="33" y2="186" stroke-opacity="0.41"/><line x1="110" y1="141" x2="110" y2="186" stroke-opacity="0.15"/><line x1="148" y1="141" x2="148" y2="186" stroke-opacity="0.20"/><line x1="165" y1="141" x2="165" y2="186" stroke-opacity="0.35"/><line x1="33" y1="186" x2="33" y2="220" stroke-opacity="0.25"/><line x1="110" y1="186" x2="110" y2="220" stroke-opacity="0.15"/><line x1="148" y1="186" x2="148" y2="220" stroke-opacity="0.20"/><line x1="165" y1="186" x2="165" y2="220" stroke-opacity="0.20"/><line x1="0" y1="55" x2="33" y2="55" stroke-opacity="0.35"/><line x1="33" y1="55" x2="77" y2="55" stroke-opacity="0.35"/><line x1="77" y1="55" x2="110" y2="55" stroke-opacity="0.35"/><line x1="110" y1="55" x2="148" y2="55" stroke-opacity="0.35"/><line x1="148" y1="55" x2="165" y2="55" stroke-opacity="0.35"/><line x1="165" y1="55" x2="220" y2="55" stroke-opacity="0.35"/><line x1="0" y1="72" x2="33" y2="72" stroke-opacity="0.30"/><line x1="33" y1="72" x2="77" y2="72" stroke-opacity="0.30"/><line x1="77" y1="72" x2="110" y2="72" stroke-opacity="0.30"/><line x1="110" y1="72" x2="148" y2="72" stroke-opacity="0.30"/><line x1="148" y1="72" x2="165" y2="72" stroke-opacity="0.30"/><line x1="165" y1="72" x2="220" y2="72" stroke-opacity="0.30"/><line x1="0" y1="110" x2="33" y2="110" stroke-opacity="0.20"/><line x1="33" y1="110" x2="77" y2="110" stroke-opacity="0.20"/><line x1="77" y1="110" x2="110" y2="110" stroke-opacity="0.20"/><line x1="110" y1="110" x2="148" y2="110" stroke-opacity="0.20"/><line x1="148" y1="110" x2="165" y2="110" stroke-opacity="0.20"/><line x1="165" y1="110" x2="220" y2="110" stroke-opacity="0.20"/><line x1="0" y1="141" x2="33" y2="141" stroke-opacity="0.07"/><line x1="33" y1="141" x2="77" y2="141" stroke-opacity="0.08"/><line x1="77" y1="141" x2="110" y2="141" stroke-opacity="0.05"/><line x1="0" y1="186" x2="33" y2="186" stroke-opacity="0.46"/><line x1="33" y1="186" x2="77" y2="186" stroke-opacity="0.30"/><line x1="77" y1="186" x2="110" y2="186" stroke-opacity="0.30"/><line x1="110" y1="186" x2="148" y2="186" stroke-opacity="0.30"/><line x1="148" y1="186" x2="165" y2="186" stroke-opacity="0.30"/><line x1="165" y1="186" x2="220" y2="186" stroke-opacity="0.40"/></g><rect x="0" y="0" width="220" height="220" fill="none" stroke="#102838" stroke-width="2" vector-effect="non-scaling-stroke"/></svg>
<div class="tk" style="left:425.65px;top:380.00px"></div><div class="xl" style="left:415.90px;top:382.70px">50</div><div class="tk" style="left:448.36px;top:380.00px"></div><div class="xl" style="left:438.61px;top:382.70px">100</div><div class="tk" style="left:471.06px;top:380.00px"></div><div class="xl" style="left:461.31px;top:382.70px">150</div><div class="tk" style="left:493.77px;top:380.00px"></div><div class="xl" style="left:484.02px;top:382.70px">200</div><div class="tky" style="left:401.20px;top:357.98px"></div><div class="yl" style="left:380.50px;top:355.63px">50</div><div class="tky" style="left:401.20px;top:336.20px"></div><div class="yl" style="left:380.50px;top:333.85px">100</div><div class="tky" style="left:401.20px;top:314.43px"></div><div class="yl" style="left:380.50px;top:312.08px">150</div><div class="tky" style="left:401.20px;top:292.66px"></div><div class="yl" style="left:380.50px;top:290.31px">200</div><div class="xa" style="left:443.15px;top:391.30px">X</div><div class="ya" style="left:376.80px;top:328.60px">Y</div><div class="cap" style="left:406.00px;top:400.00px">(l) SC</div>
<svg class="pl" style="left:26.90px;top:413.30px;width:100.10px;height:95.80px" viewBox="0 0 220 220" preserveAspectRatio="none"><linearGradient id="gm00" gradientUnits="userSpaceOnUse" x1="0" y1="0" x2="33" y2="0"><stop offset="0" stop-color="#00e4f0"/><stop offset="0.5" stop-color="#00bbf9"/><stop offset="1" stop-color="#008ef9"/></linearGradient><rect x="0" y="0" width="36" height="58" fill="url(#gm00)"/><linearGradient id="gm01" gradientUnits="userSpaceOnUse" x1="0" y1="0" x2="0" y2="55"><stop offset="0" stop-color="#0066f9"/><stop offset="0.5" stop-color="#007df9"/><stop offset="1" stop-color="#0091f9"/></linearGradient><rect x="33" y="0" width="47" height="58" fill="url(#gm01)"/><linearGradient id="gm02" gradientUnits="userSpaceOnUse" x1="0" y1="0" x2="0" y2="55"><stop offset="0" stop-color="#0071f9"/><stop offset="0.5" stop-color="#0088f9"/><stop offset="1" stop-color="#0099f9"/></linearGradient><rect x="77" y="0" width="36" height="58" fill="url(#gm02)"/><linearGradient id="gm03" gradientUnits="userSpaceOnUse" x1="0" y1="0" x2="0" y2="55"><stop offset="0" stop-color="#0083f9"/><stop offset="0.5" stop-color="#0095f9"/><stop offset="1" stop-color="#00a4f9"/></linearGradient><rect x="110" y="0" width="41" height="58" fill="url(#gm03)"/><linearGradient id="gm04" gradientUnits="userSpaceOnUse" x1="0" y1="0" x2="0" y2="55"><stop offset="0" stop-color="#004af9"/><stop offset="0.5" stop-color="#005af9"/><stop offset="1" stop-color="#0071f9"/></linearGradient><rect x="148" y="0" width="20" height="58" fill="url(#gm04)"/><linearGradient id="gm05" gradientUnits="userSpaceOnUse" x1="165" y1="0" x2="220" y2="0"><stop offset="0" stop-color="#0099f9"/><stop offset="0.5" stop-color="#00c7f9"/><stop offset="1" stop-color="#00e5e2"/></linearGradient><rect x="165" y="0" width="58" height="58" fill="url(#gm05)"/><linearGradient id="gm10" gradientUnits="userSpaceOnUse" x1="0" y1="0" x2="33" y2="0"><stop offset="0" stop-color="#00f25b"/><stop offset="0.5" stop-color="#00f485"/><stop offset="1" stop-color="#00eeb6"/></linearGradient><rect x="0" y="55" width="36" height="20" fill="url(#gm10)"/><rect x="33" y="55" width="47" height="20" fill="#00daf9"/><rect x="77" y="55" width="36" height="20" fill="#00d6f9"/><rect x="110" y="55" width="41" height="20" fill="#00daf9"/><rect x="148" y="55" width="20" height="20" fill="#00c7f9"/><linearGradient id="gm15" gradientUnits="userSpaceOnUse" x1="165" y1="0" x2="220" y2="0"><stop offset="0" stop-color="#00f2a0"/><stop offset="0.5" stop-color="#00f273"/><stop offset="1" stop-color="#00f149"/></linearGradient><rect x="165" y="55" width="58" height="20" fill="url(#gm15)"/><linearGradient id="gm20" gradientUnits="userSpaceOnUse" x1="0" y1="0" x2="33" y2="0"><stop offset="0" stop-color="#00f58e"/><stop offset="0.5" stop-color="#00ebc3"/><stop offset="1" stop-color="#00e6de"/></linearGradient><rect x="0" y="72" width="36" height="41" fill="url(#gm20)"/><rect x="33" y="72" width="47" height="41" fill="#00b4f9"/><rect x="77" y="72" width="36" height="41" fill="#00bbf9"/><rect x="110" y="72" width="41" height="41" fill="#00cef9"/><rect x="148" y="72" width="20" height="41" fill="#00a0f9"/><linearGradient id="gm25" gradientUnits="userSpaceOnUse" x1="165" y1="0" x2="220" y2="0"><stop offset="0" stop-color="#00eeb6"/><stop offset="0.5" stop-color="#00f485"/><stop offset="1" stop-color="#00f25b"/></linearGradient><rect x="165" y="72" width="58" height="41" fill="url(#gm25)"/><linearGradient id="gm30" gradientUnits="userSpaceOnUse" x1="0" y1="0" x2="33" y2="0"><stop offset="0" stop-color="#00f254"/><stop offset="0.5" stop-color="#00f37e"/><stop offset="1" stop-color="#00f0ad"/></linearGradient><rect x="0" y="110" width="36" height="34" fill="url(#gm30)"/><rect x="33" y="110" width="47" height="34" fill="#00e2f9"/><rect x="77" y="110" width="36" height="34" fill="#00cef9"/><rect x="110" y="110" width="41" height="34" fill="#00e2f9"/><rect x="148" y="110" width="20" height="34" fill="#00c7f9"/><linearGradient id="gm35" gradientUnits="userSpaceOnUse" x1="165" y1="0" x2="220" y2="0"><stop offset="0" stop-color="#00f48b"/><stop offset="0.5" stop-color="#00f262"/><stop offset="1" stop-color="#00ef38"/></linearGradient><rect x="165" y="110" width="58" height="34" fill="url(#gm35)"/><linearGradient id="gm40" gradientUnits="userSpaceOnUse" x1="0" y1="0" x2="33" y2="0"><stop offset="0" stop-color="#00f254"/><stop offset="0.5" stop-color="#00f37e"/><stop offset="1" stop-color="#00f0ad"/></linearGradient><rect x="0" y="141" width="36" height="48" fill="url(#gm40)"/><rect x="33" y="141" width="47" height="48" fill="#00e2f9"/><rect x="77" y="141" width="36" height="48" fill="#00cef9"/><rect x="110" y="141" width="41" height="48" fill="#00e2f9"/><rect x="148" y="141" width="20" height="48" fill="#00c7f9"/><linearGradient id="gm45" gradientUnits="userSpaceOnUse" x1="165" y1="0" x2="220" y2="0"><stop offset="0" stop-color="#00f48b"/><stop offset="0.5" stop-color="#00f262"/><stop offset="1" stop-color="#00ef38"/></linearGradient><rect x="165" y="141" width="58" height="48" fill="url(#gm45)"/><linearGradient id="gm50" gradientUnits="userSpaceOnUse" x1="0" y1="0" x2="33" y2="0"><stop offset="0" stop-color="#00e5e2"/><stop offset="0.5" stop-color="#00c7f9"/><stop offset="1" stop-color="#0099f9"/></linearGradient><rect x="0" y="186" width="36" height="37" fill="url(#gm50)"/><linearGradient id="gm51" gradientUnits="userSpaceOnUse" x1="0" y1="186" x2="0" y2="220"><stop offset="0" stop-color="#00a4f9"/><stop offset="0.5" stop-color="#0095f9"/><stop offset="1" stop-color="#0083f9"/></linearGradient><rect x="33" y="186" width="47" height="37" fill="url(#gm51)"/><linearGradient id="gm52" gradientUnits="userSpaceOnUse" x1="0" y1="186" x2="0" y2="220"><stop offset="0" stop-color="#00a4f9"/><stop offset="0.5" stop-color="#0095f9"/><stop offset="1" stop-color="#0083f9"/></linearGradient><rect x="77" y="186" width="36" height="37" fill="url(#gm52)"/><linearGradient id="gm53" gradientUnits="userSpaceOnUse" x1="0" y1="186" x2="0" y2="220"><stop offset="0" stop-color="#00a4f9"/><stop offset="0.5" stop-color="#0095f9"/><stop offset="1" stop-color="#0083f9"/></linearGradient><rect x="110" y="186" width="41" height="37" fill="url(#gm53)"/><linearGradient id="gm54" gradientUnits="userSpaceOnUse" x1="0" y1="186" x2="0" y2="220"><stop offset="0" stop-color="#009cf9"/><stop offset="0.5" stop-color="#008ef9"/><stop offset="1" stop-color="#0077f9"/></linearGradient><rect x="148" y="186" width="20" height="37" fill="url(#gm54)"/><linearGradient id="gm55" gradientUnits="userSpaceOnUse" x1="165" y1="0" x2="220" y2="0"><stop offset="0" stop-color="#008ef9"/><stop offset="0.5" stop-color="#00bbf9"/><stop offset="1" stop-color="#00e4f0"/></linearGradient><rect x="165" y="186" width="58" height="37" fill="url(#gm55)"/><path d="M45.0 0.0L45.8 15.0 49.3 27.0 46.0 38.7 45.2 48.0 46.3 50.0 48.1 51.0 55.0 52.0 61.9 51.0 63.7 50.0 64.8 48.0 64.0 38.7 60.7 27.0 64.2 15.0 65.0 0.0M88.6 0.0L89.9 10.0 93.0 13.9 95.0 13.4 97.0 10.4 98.4 0.0M149.6 0.0L148.0 27.0 149.4 48.0 151.3 52.0 156.0 53.8 160.0 52.8 162.0 49.0 162.0 0.0M95.1 51.0L97.1 50.0 97.6 47.0 96.0 42.6 93.0 41.1 90.3 44.0 89.4 49.0 91.9 51.0 95.1 51.0M158.1 220.0L157.6 216.0 157.0 214.6 156.0 214.6 154.8 220.0M14.8 0.0L16.0 4.5 17.0 4.5 17.8 3.0 18.2 0.0M33.3 0.0L32.2 33.0 33.3 49.0 36.0 52.5 55.0 55.7 79.0 52.5 94.0 55.7 112.0 50.7 129.0 55.2 144.0 51.5 156.0 57.2 160.0 55.6 163.0 52.6 164.2 50.0 165.2 28.0 164.3 0.0M157.0 111.0L159.6 108.0 160.3 105.0 160.4 77.0 159.0 71.9 158.0 70.7 156.0 70.2 154.5 71.0 151.9 75.0 150.6 92.0 151.8 106.0 154.4 110.0 157.0 111.0M57.2 81.0L60.1 78.0 59.8 75.0 55.0 73.5 50.2 75.0 49.6 77.0 51.3 80.0 54.0 81.4 57.2 81.0M56.4 107.0L59.9 105.0 58.7 102.0 55.0 100.5 51.0 102.3 50.1 104.0 50.9 106.0 56.4 107.0M163.1 220.0L164.4 203.0 163.2 191.0 159.5 185.0 156.0 183.3 149.0 188.1 146.0 189.1 129.0 185.3 110.0 189.9 94.0 184.2 89.1 185.0 77.0 189.9 56.0 185.3 41.0 188.0 36.0 190.9 34.0 199.0 34.0 206.8 36.4 220.0M195.4 220.0L194.6 218.0 193.0 217.1 190.4 218.0 189.6 220.0M2.0 0.0L1.2 4.0 0.0 5.2M175.4 0.0L174.0 11.2 172.0 15.2 170.0 16.2 168.0 11.4 167.0 0.0M220.0 19.1L215.0 17.4 212.0 13.6 210.2 8.0 209.6 0.0M220.0 191.1L195.0 187.6 183.3 188.0 170.0 190.4 167.0 189.7 162.1 185.0 160.8 182.0 160.4 164.0 160.5 115.0 162.3 106.0 162.7 91.0 162.3 75.0 160.6 67.0 160.6 61.0 161.4 57.0 166.7 50.0 169.0 40.1 170.0 38.8 172.0 39.8 175.2 48.0 177.4 50.0 186.7 52.0 198.3 52.0 204.6 51.0 209.1 49.0 213.6 39.0 217.0 36.5 220.0 35.9M0.0 48.3L6.1 51.0 14.0 52.7 20.0 52.6 29.0 50.7 35.0 54.5 54.0 60.4 60.0 59.7 69.9 56.0 76.0 55.1 82.0 56.0 89.0 60.5 93.0 61.6 97.0 60.9 104.9 56.0 110.0 54.8 115.0 55.2 125.0 59.8 129.0 60.4 133.0 59.8 143.0 55.2 147.9 56.0 150.4 59.0 149.4 63.0 150.3 69.0 147.5 74.0 143.9 91.0 147.5 107.0 151.0 113.0 149.8 126.0 151.4 141.0 149.8 163.0 151.2 180.0 149.4 184.0 146.0 185.3 141.0 184.7 134.8 182.0 129.0 177.6 123.2 182.0 116.0 185.0 110.0 185.4 103.9 183.0 102.3 181.0 101.9 178.0 102.0 114.0 103.0 111.0 107.0 105.5 111.5 91.0 106.5 75.0 99.0 67.2 95.0 65.5 89.0 66.5 81.0 73.7 78.0 75.1 60.0 67.2 54.0 66.5 49.0 67.5 38.0 72.9 36.0 75.6 34.5 91.0 36.0 105.6 38.0 107.8 45.9 111.0 54.0 115.8 57.0 115.5 66.2 110.0 77.0 106.4 80.0 107.1 83.9 111.0 85.1 116.0 84.7 181.0 83.1 183.0 80.0 184.5 72.0 185.3 63.8 183.0 57.0 178.2 54.0 177.7 46.2 183.0 35.0 186.3 29.0 192.9 25.7 190.0 22.0 188.4 12.5 188.0 7.3 190.0 3.7 196.0 0.0 197.8M131.4 115.0L137.3 108.0 138.5 105.0 139.2 91.0 138.6 76.0 137.4 72.0 135.0 68.7 132.0 67.1 128.0 66.7 123.0 68.7 119.6 75.0 118.8 91.0 119.4 104.0 120.7 108.0 126.0 114.5 129.0 115.8 131.4 115.0M56.5 149.0L59.1 146.0 59.9 140.0 58.0 136.3 54.0 135.3 50.7 138.0 50.3 144.0 53.0 148.8 56.5 149.0M130.3 149.0L132.5 146.0 133.2 140.0 132.0 136.7 129.0 135.2 127.0 135.8 125.3 138.0 124.8 143.0 127.0 148.5 130.3 149.0M0.0 208.2L3.0 209.3 5.0 212.0 6.3 220.0M26.9 220.0L27.5 215.0 29.0 213.3 30.8 220.0M216.7 220.0L217.4 218.0 220.0 216.8M0.0 52.7L16.0 54.9 29.0 53.3 32.0 54.2 34.8 57.0 35.3 69.0 33.1 76.0 32.3 94.0 33.2 106.0 37.0 114.0 35.3 126.0 37.8 141.0 35.4 161.0 37.0 180.0 35.8 183.0 32.0 186.3 29.0 187.3 16.0 185.8 0.0 187.9M220.0 187.6L193.0 186.1 169.0 187.5 165.0 186.1 163.2 184.0 162.5 181.0 162.3 141.0 162.5 113.0 163.6 106.0 164.1 92.0 162.8 59.0 164.2 55.0 169.0 52.3 193.0 53.9 220.0 52.0M220.0 186.2L194.0 184.4 171.0 186.1 165.0 185.1 163.7 180.0 163.6 141.0 163.7 113.0 165.2 92.0 164.1 69.0 164.2 58.0 165.0 55.4 170.0 53.9 194.0 55.9 220.0 53.8M0.0 54.2L16.0 56.6 29.0 54.6 31.3 55.0 32.7 57.0 32.9 70.0 29.6 91.0 31.3 105.0 33.7 113.0 33.0 126.0 34.0 141.0 33.0 163.0 33.7 180.0 32.0 185.0 28.0 185.7 16.0 183.7 0.0 186.1M18.3 87.0L22.0 82.5 22.9 76.0 20.0 72.9 14.0 72.6 11.3 74.0 10.1 76.0 10.8 82.0 14.0 86.7 16.0 87.5 18.3 87.0M19.4 108.0L22.7 105.0 22.0 99.5 19.0 95.3 15.0 94.8 11.2 99.0 10.3 105.0 13.6 108.0 19.4 108.0M220.0 185.4L193.0 182.8 172.0 185.1 166.0 184.4 164.7 181.0 165.3 163.0 164.5 141.0 165.3 126.0 164.7 112.0 166.8 92.0 165.0 70.0 166.0 56.3 168.0 55.0 171.0 54.9 194.0 57.8 220.0 54.8M0.0 55.3L5.5 56.0 16.0 59.2 27.0 56.2 30.0 56.3 31.3 58.0 31.5 69.0 31.0 71.1 28.0 72.8 20.0 68.5 14.0 68.2 0.0 75.6M195.3 79.0L198.0 76.0 197.9 74.0 196.0 72.3 191.0 71.4 187.1 74.0 187.0 76.1 189.0 78.6 192.0 79.6 195.3 79.0M196.0 107.0L197.1 105.0 194.0 102.6 190.0 102.9 187.9 105.0 189.0 107.0 191.0 107.6 196.0 107.0M0.0 105.7L3.0 106.5 16.0 114.1 19.0 113.3 27.0 108.3 29.0 108.1 31.0 109.5 32.2 113.0 31.3 126.0 32.4 141.0 31.3 162.0 32.2 180.0 31.6 183.0 30.0 184.2 27.0 184.2 16.0 180.1 6.9 184.0 0.0 185.1M17.5 145.0L18.5 140.0 17.2 138.0 16.0 137.9 14.5 140.0 14.6 143.0 16.0 145.5 17.5 145.0M172.0 82.2L170.0 82.8 169.0 81.5 166.7 71.0 168.0 64.0 167.2 58.0 169.0 56.7 176.7 58.0 185.5 63.0 185.5 64.0 181.0 67.1 176.6 73.0 172.0 82.2M220.0 85.0L216.0 84.3 213.0 82.3 209.0 74.0 205.0 68.3 199.5 64.0 199.5 63.0 208.3 58.0 220.0 56.2M0.0 57.7L3.3 59.0 2.6 60.0 0.0 60.6M0.0 66.4L3.6 68.0 2.4 70.0 0.0 70.6M220.0 184.3L203.8 182.0 200.0 180.0 196.0 176.1 193.0 175.2 189.0 176.1 185.0 180.0 181.2 182.0 171.2 184.0 167.0 183.3 165.8 180.0 166.8 163.0 165.5 141.0 166.8 126.0 165.8 112.0 170.0 99.2 172.0 99.8 176.7 107.0 187.0 115.6 193.0 117.4 197.5 116.0 208.3 107.0 214.0 98.8 220.0 97.0M0.0 109.8L4.6 111.0 6.9 114.0 6.5 119.0 3.3 126.0 6.5 132.0 7.4 141.0 6.5 154.0 3.2 163.0 6.3 172.0 7.0 180.0 5.0 182.2 0.0 183.3M28.0 119.4L26.9 119.0 26.0 115.0 27.0 112.5 29.0 111.9 29.8 115.0 28.0 119.4M28.0 154.7L27.0 154.3 26.2 151.0 25.7 141.0 26.2 134.0 27.0 131.8 28.0 131.6 30.0 136.3 30.4 141.0 30.0 147.8 28.0 154.7M195.7 151.0L198.0 149.1 199.6 146.0 200.3 141.0 199.8 138.0 198.0 135.4 195.4 134.0 189.0 134.2 186.4 136.0 184.9 139.0 185.8 147.0 190.0 151.3 193.0 151.8 195.7 151.0M29.0 181.7L26.7 181.0 26.0 179.0 26.9 173.0 28.0 172.3 29.9 179.0 29.0 181.7M172.0 118.3L170.0 118.8 168.2 116.0 167.9 112.0 169.0 110.2 172.0 110.7 174.3 113.0 174.0 115.9 172.0 118.3M220.0 120.6L216.0 120.0 213.0 118.4 210.5 114.0 211.3 112.0 214.0 110.1 220.0 109.2M220.0 156.4L216.0 155.5 212.1 152.0 210.2 147.0 209.7 141.0 210.2 137.0 212.0 133.6 215.0 131.4 220.0 130.4M172.0 153.1L170.0 153.8 169.0 152.5 167.6 146.0 167.7 137.0 170.0 132.2 173.3 134.0 175.2 139.0 174.8 147.0 172.0 153.1M220.0 182.5L214.0 181.9 211.8 181.0 210.7 179.0 212.0 175.2 214.0 172.8 220.0 170.6M173.0 181.1L170.0 182.0 168.1 181.0 168.0 178.0 170.0 173.2 172.0 173.9 173.9 177.0 174.1 180.0 173.0 181.1" fill="none" stroke="#0a2a3a" stroke-opacity="0.45" stroke-width="0.5" vector-effect="non-scaling-stroke"/><g stroke="#0a2020" stroke-width="1" vector-effect="non-scaling-stroke"><line x1="33" y1="0" x2="33" y2="55" stroke-opacity="0.25"/><line x1="110" y1="0" x2="110" y2="55" stroke-opacity="0.15"/><line x1="148" y1="0" x2="148" y2="55" stroke-opacity="0.20"/><line x1="165" y1="0" x2="165" y2="55" stroke-opacity="0.20"/><line x1="33" y1="55" x2="33" y2="72" stroke-opacity="0.25"/><line x1="110" y1="55" x2="110" y2="72" stroke-opacity="0.15"/><line x1="148" y1="55" x2="148" y2="72" stroke-opacity="0.20"/><line x1="165" y1="55" x2="165" y2="72" stroke-opacity="0.20"/><line x1="33" y1="72" x2="33" y2="110" stroke-opacity="0.25"/><line x1="110" y1="72" x2="110" y2="110" stroke-opacity="0.15"/><line x1="148" y1="72" x2="148" y2="110" stroke-opacity="0.20"/><line x1="165" y1="72" x2="165" y2="110" stroke-opacity="0.23"/><line x1="33" y1="110" x2="33" y2="141" stroke-opacity="0.25"/><line x1="110" y1="110" x2="110" y2="141" stroke-opacity="0.15"/><line x1="148" y1="110" x2="148" y2="141" stroke-opacity="0.20"/><line x1="165" y1="110" x2="165" y2="141" stroke-opacity="0.23"/><line x1="33" y1="141" x2="33" y2="186" stroke-opacity="0.25"/><line x1="110" y1="141" x2="110" y2="186" stroke-opacity="0.15"/><line x1="148" y1="141" x2="148" y2="186" stroke-opacity="0.20"/><line x1="165" y1="141" x2="165" y2="186" stroke-opacity="0.23"/><line x1="33" y1="186" x2="33" y2="220" stroke-opacity="0.25"/><line x1="110" y1="186" x2="110" y2="220" stroke-opacity="0.15"/><line x1="148" y1="186" x2="148" y2="220" stroke-opacity="0.20"/><line x1="165" y1="186" x2="165" y2="220" stroke-opacity="0.20"/><line x1="0" y1="55" x2="33" y2="55" stroke-opacity="0.35"/><line x1="33" y1="55" x2="77" y2="55" stroke-opacity="0.35"/><line x1="77" y1="55" x2="110" y2="55" stroke-opacity="0.35"/><line x1="110" y1="55" x2="148" y2="55" stroke-opacity="0.35"/><line x1="148" y1="55" x2="165" y2="55" stroke-opacity="0.35"/><line x1="165" y1="55" x2="220" y2="55" stroke-opacity="0.35"/><line x1="0" y1="72" x2="33" y2="72" stroke-opacity="0.30"/><line x1="33" y1="72" x2="77" y2="72" stroke-opacity="0.30"/><line x1="77" y1="72" x2="110" y2="72" stroke-opacity="0.30"/><line x1="110" y1="72" x2="148" y2="72" stroke-opacity="0.30"/><line x1="148" y1="72" x2="165" y2="72" stroke-opacity="0.30"/><line x1="165" y1="72" x2="220" y2="72" stroke-opacity="0.30"/><line x1="0" y1="110" x2="33" y2="110" stroke-opacity="0.20"/><line x1="33" y1="110" x2="77" y2="110" stroke-opacity="0.20"/><line x1="77" y1="110" x2="110" y2="110" stroke-opacity="0.20"/><line x1="110" y1="110" x2="148" y2="110" stroke-opacity="0.20"/><line x1="148" y1="110" x2="165" y2="110" stroke-opacity="0.20"/><line x1="165" y1="110" x2="220" y2="110" stroke-opacity="0.20"/><line x1="0" y1="186" x2="33" y2="186" stroke-opacity="0.30"/><line x1="33" y1="186" x2="77" y2="186" stroke-opacity="0.30"/><line x1="77" y1="186" x2="110" y2="186" stroke-opacity="0.30"/><line x1="110" y1="186" x2="148" y2="186" stroke-opacity="0.30"/><line x1="148" y1="186" x2="165" y2="186" stroke-opacity="0.30"/><line x1="165" y1="186" x2="220" y2="186" stroke-opacity="0.30"/></g><rect x="0" y="0" width="220" height="220" fill="none" stroke="#102838" stroke-width="2" vector-effect="non-scaling-stroke"/></svg>
<div class="tk" style="left:49.40px;top:509.10px"></div><div class="xl" style="left:39.65px;top:511.80px">50</div><div class="tk" style="left:72.15px;top:509.10px"></div><div class="xl" style="left:62.40px;top:511.80px">100</div><div class="tk" style="left:94.90px;top:509.10px"></div><div class="xl" style="left:85.15px;top:511.80px">150</div><div class="tk" style="left:117.65px;top:509.10px"></div><div class="xl" style="left:107.90px;top:511.80px">200</div><div class="tky" style="left:24.90px;top:487.08px"></div><div class="yl" style="left:4.20px;top:484.73px">50</div><div class="tky" style="left:24.90px;top:465.30px"></div><div class="yl" style="left:4.20px;top:462.95px">100</div><div class="tky" style="left:24.90px;top:443.53px"></div><div class="yl" style="left:4.20px;top:441.18px">150</div><div class="tky" style="left:24.90px;top:421.76px"></div><div class="yl" style="left:4.20px;top:419.41px">200</div><div class="xa" style="left:66.95px;top:520.40px">X</div><div class="ya" style="left:0.50px;top:457.70px">Y</div><div class="cap" style="left:30.90px;top:525.80px">(m) WH</div>
<svg class="pl" style="left:152.80px;top:414.40px;width:99.60px;height:95.70px" viewBox="0 0 220 220" preserveAspectRatio="none"><linearGradient id="gn00" gradientUnits="userSpaceOnUse" x1="0" y1="0" x2="33" y2="0"><stop offset="0" stop-color="#00e7d9"/><stop offset="0.5" stop-color="#00cef9"/><stop offset="1" stop-color="#00a0f9"/></linearGradient><rect x="0" y="0" width="36" height="58" fill="url(#gn00)"/><linearGradient id="gn01" gradientUnits="userSpaceOnUse" x1="0" y1="0" x2="0" y2="55"><stop offset="0" stop-color="#002bf2"/><stop offset="0.5" stop-color="#0036f5"/><stop offset="1" stop-color="#0040f8"/></linearGradient><rect x="33" y="0" width="47" height="58" fill="url(#gn01)"/><linearGradient id="gn02" gradientUnits="userSpaceOnUse" x1="0" y1="0" x2="0" y2="55"><stop offset="0" stop-color="#0039f6"/><stop offset="0.5" stop-color="#0043f9"/><stop offset="1" stop-color="#0052f9"/></linearGradient><rect x="77" y="0" width="36" height="58" fill="url(#gn02)"/><linearGradient id="gn03" gradientUnits="userSpaceOnUse" x1="0" y1="0" x2="0" y2="55"><stop offset="0" stop-color="#0077f9"/><stop offset="0.5" stop-color="#008ef9"/><stop offset="1" stop-color="#009cf9"/></linearGradient><rect x="110" y="0" width="41" height="58" fill="url(#gn03)"/><linearGradient id="gn04" gradientUnits="userSpaceOnUse" x1="0" y1="0" x2="0" y2="55"><stop offset="0" stop-color="#0039f6"/><stop offset="0.5" stop-color="#0043f9"/><stop offset="1" stop-color="#0052f9"/></linearGradient><rect x="148" y="0" width="20" height="58" fill="url(#gn04)"/><linearGradient id="gn05" gradientUnits="userSpaceOnUse" x1="165" y1="0" x2="220" y2="0"><stop offset="0" stop-color="#00a0f9"/><stop offset="0.5" stop-color="#00cef9"/><stop offset="1" stop-color="#00e7d9"/></linearGradient><rect x="165" y="0" width="58" height="58" fill="url(#gn05)"/><linearGradient id="gn10" gradientUnits="userSpaceOnUse" x1="0" y1="0" x2="33" y2="0"><stop offset="0" stop-color="#00df06"/><stop offset="0.5" stop-color="#00e71c"/><stop offset="1" stop-color="#00ee35"/></linearGradient><rect x="0" y="55" width="36" height="20" fill="url(#gn10)"/><rect x="33" y="55" width="47" height="20" fill="#00bbf9"/><rect x="77" y="55" width="36" height="20" fill="#00c7f9"/><rect x="110" y="55" width="41" height="20" fill="#00e2f9"/><rect x="148" y="55" width="20" height="20" fill="#00bbf9"/><linearGradient id="gn15" gradientUnits="userSpaceOnUse" x1="165" y1="0" x2="220" y2="0"><stop offset="0" stop-color="#00ee35"/><stop offset="0.5" stop-color="#00e71c"/><stop offset="1" stop-color="#00df06"/></linearGradient><rect x="165" y="55" width="58" height="20" fill="url(#gn15)"/><linearGradient id="gn20" gradientUnits="userSpaceOnUse" x1="0" y1="0" x2="33" y2="0"><stop offset="0" stop-color="#00ef3e"/><stop offset="0.5" stop-color="#00f168"/><stop offset="1" stop-color="#00f592"/></linearGradient><rect x="0" y="72" width="36" height="41" fill="url(#gn20)"/><rect x="33" y="72" width="47" height="41" fill="#0054f9"/><rect x="77" y="72" width="36" height="41" fill="#008ef9"/><rect x="110" y="72" width="41" height="41" fill="#00e2f9"/><rect x="148" y="72" width="20" height="41" fill="#0054f9"/><linearGradient id="gn25" gradientUnits="userSpaceOnUse" x1="165" y1="0" x2="220" y2="0"><stop offset="0" stop-color="#00f0ad"/><stop offset="0.5" stop-color="#00f37e"/><stop offset="1" stop-color="#00f254"/></linearGradient><rect x="165" y="72" width="58" height="41" fill="url(#gn25)"/><linearGradient id="gn30" gradientUnits="userSpaceOnUse" x1="0" y1="0" x2="33" y2="0"><stop offset="0" stop-color="#03de00"/><stop offset="0.5" stop-color="#00e413"/><stop offset="1" stop-color="#00eb29"/></linearGradient><rect x="0" y="110" width="36" height="34" fill="url(#gn30)"/><rect x="33" y="110" width="47" height="34" fill="#0099f9"/><rect x="77" y="110" width="36" height="34" fill="#00c7f9"/><rect x="110" y="110" width="41" height="34" fill="#00eeb6"/><rect x="148" y="110" width="20" height="34" fill="#00e2f9"/><linearGradient id="gn35" gradientUnits="userSpaceOnUse" x1="165" y1="0" x2="220" y2="0"><stop offset="0" stop-color="#00eb29"/><stop offset="0.5" stop-color="#00e413"/><stop offset="1" stop-color="#03de00"/></linearGradient><rect x="165" y="110" width="58" height="34" fill="url(#gn35)"/><linearGradient id="gn40" gradientUnits="userSpaceOnUse" x1="0" y1="0" x2="33" y2="0"><stop offset="0" stop-color="#0cdf00"/><stop offset="0.5" stop-color="#00e00a"/><stop offset="1" stop-color="#00e820"/></linearGradient><rect x="0" y="141" width="36" height="48" fill="url(#gn40)"/><rect x="33" y="141" width="47" height="48" fill="#00daf9"/><rect x="77" y="141" width="36" height="48" fill="#00e4eb"/><rect x="110" y="141" width="41" height="48" fill="#00f497"/><rect x="148" y="141" width="20" height="48" fill="#00e3f4"/><linearGradient id="gn45" gradientUnits="userSpaceOnUse" x1="165" y1="0" x2="220" y2="0"><stop offset="0" stop-color="#00eb29"/><stop offset="0.5" stop-color="#00e413"/><stop offset="1" stop-color="#03de00"/></linearGradient><rect x="165" y="141" width="58" height="48" fill="url(#gn45)"/><linearGradient id="gn50" gradientUnits="userSpaceOnUse" x1="0" y1="0" x2="33" y2="0"><stop offset="0" stop-color="#00e7d9"/><stop offset="0.5" stop-color="#00cef9"/><stop offset="1" stop-color="#00a0f9"/></linearGradient><rect x="0" y="186" width="36" height="37" fill="url(#gn50)"/><linearGradient id="gn51" gradientUnits="userSpaceOnUse" x1="0" y1="186" x2="0" y2="220"><stop offset="0" stop-color="#0047f9"/><stop offset="0.5" stop-color="#003cf6"/><stop offset="1" stop-color="#0031f3"/></linearGradient><rect x="33" y="186" width="47" height="37" fill="url(#gn51)"/><linearGradient id="gn52" gradientUnits="userSpaceOnUse" x1="0" y1="186" x2="0" y2="220"><stop offset="0" stop-color="#0052f9"/><stop offset="0.5" stop-color="#0043f9"/><stop offset="1" stop-color="#0039f6"/></linearGradient><rect x="77" y="186" width="36" height="37" fill="url(#gn52)"/><linearGradient id="gn53" gradientUnits="userSpaceOnUse" x1="0" y1="186" x2="0" y2="220"><stop offset="0" stop-color="#0091f9"/><stop offset="0.5" stop-color="#007df9"/><stop offset="1" stop-color="#0066f9"/></linearGradient><rect x="110" y="186" width="41" height="37" fill="url(#gn53)"/><linearGradient id="gn54" gradientUnits="userSpaceOnUse" x1="0" y1="186" x2="0" y2="220"><stop offset="0" stop-color="#0052f9"/><stop offset="0.5" stop-color="#0043f9"/><stop offset="1" stop-color="#0039f6"/></linearGradient><rect x="148" y="186" width="20" height="37" fill="url(#gn54)"/><linearGradient id="gn55" gradientUnits="userSpaceOnUse" x1="165" y1="0" x2="220" y2="0"><stop offset="0" stop-color="#0099f9"/><stop offset="0.5" stop-color="#00c7f9"/><stop offset="1" stop-color="#00e5e2"/></linearGradient><rect x="165" y="186" width="58" height="37" fill="url(#gn55)"/><path d="M36.1 0.0L35.0 28.0 36.1 49.0 37.0 50.6 39.0 51.5 55.0 53.3 68.5 52.0 75.3 50.0 80.0 37.3 81.0 37.2 82.0 38.7 83.8 48.0 85.0 50.0 93.0 52.2 98.0 51.7 102.0 50.0 103.1 48.0 105.2 29.0 103.1 0.0M83.8 0.0L83.0 12.6 81.0 17.8 80.0 17.7 78.0 13.5 76.0 0.0M151.9 0.0L151.9 48.0 153.0 51.0 156.0 52.3 159.0 51.5 160.3 49.0 160.4 0.0M103.1 220.0L105.4 202.0 103.3 192.0 101.6 190.0 95.0 188.4 87.8 189.0 84.2 191.0 82.0 196.2 80.0 197.6 78.0 196.2 74.3 191.0 72.4 190.0 63.2 188.0 55.0 187.5 41.4 189.0 37.2 191.0 35.7 203.0 37.3 220.0M160.5 220.0L160.3 191.0 159.0 188.9 156.0 188.3 153.0 189.5 151.8 192.0 151.2 203.0 151.8 220.0M74.0 220.0L76.0 213.0 78.0 209.8 80.0 208.4 82.0 209.8 82.9 212.0 83.8 220.0M33.5 0.0L33.0 30.0 34.0 50.9 35.7 53.0 38.0 53.9 55.0 55.7 79.0 53.1 95.0 54.8 105.0 53.2 108.0 51.9 109.4 49.0 110.8 30.0 109.4 0.0M125.1 0.0L126.0 6.0 127.1 8.0 129.0 9.1 130.9 8.0 132.0 6.0 132.9 0.0M147.6 0.0L146.2 27.0 147.6 49.0 150.0 52.8 156.0 55.3 161.0 53.2 163.0 49.0 163.0 0.0M131.1 49.0L130.8 47.0 129.0 45.9 126.8 48.0 128.0 49.6 131.1 49.0M60.9 111.0L72.0 107.8 75.0 105.0 76.8 91.0 74.8 76.0 72.0 74.0 56.0 71.5 38.0 74.3 36.7 77.0 36.0 86.0 37.0 106.2 39.0 108.1 51.0 111.5 56.0 111.9 60.9 111.0M158.7 108.0L160.2 107.0 161.2 104.0 161.1 76.0 159.9 73.0 156.0 71.5 152.0 73.2 150.4 76.0 150.2 103.0 152.0 107.1 155.0 108.3 158.7 108.0M94.1 78.0L94.9 77.0 94.3 76.0 92.7 76.0 92.1 77.0 94.1 78.0M110.1 220.0L112.4 202.0 110.6 192.0 108.0 188.5 96.0 186.3 79.0 187.5 55.0 185.4 38.0 186.8 34.5 189.0 33.2 201.0 33.8 220.0M163.1 220.0L163.0 190.5 160.4 187.0 156.0 186.1 149.6 188.0 146.4 192.0 144.5 203.0 146.8 220.0M137.7 220.0L137.0 210.9 133.9 203.0 136.8 196.0 137.1 192.0 134.8 190.0 129.0 189.2 123.2 190.0 120.9 192.0 121.2 196.0 124.1 203.0 121.0 210.9 120.3 220.0M32.1 0.0L31.3 29.0 32.5 51.0 34.7 54.0 38.0 55.7 55.0 58.6 78.0 54.9 95.0 57.4 114.0 52.2 129.0 55.1 144.0 52.4 155.0 58.2 158.0 58.1 163.0 53.0 164.6 49.0 165.4 28.0 164.6 0.0M56.3 141.0L68.1 138.0 72.8 135.0 74.8 126.0 72.8 114.0 77.0 109.2 81.0 108.0 94.0 111.8 99.0 110.4 106.0 106.9 107.2 103.0 108.0 89.0 107.0 76.6 105.0 73.2 98.0 70.3 93.0 69.6 80.0 73.2 61.0 68.6 55.0 68.1 46.0 69.3 36.0 72.4 34.7 77.0 34.6 102.0 35.0 107.0 38.0 114.0 36.9 126.0 38.0 135.0 39.6 137.0 41.9 138.0 56.3 141.0M159.4 110.0L161.5 108.0 162.5 105.0 162.5 76.0 160.0 70.1 158.0 68.4 156.0 68.1 149.6 72.0 148.3 75.0 148.0 103.7 148.9 107.0 151.0 108.9 156.0 110.9 159.4 110.0M164.8 220.0L165.7 203.0 164.8 191.0 162.7 187.0 158.0 184.2 155.0 184.1 144.0 188.1 129.0 187.0 114.0 188.2 96.0 184.3 79.0 185.8 55.0 183.3 37.0 185.5 33.0 188.5 31.4 201.0 32.2 220.0M8.1 0.0L8.2 47.0 10.2 50.0 16.0 51.1 22.8 50.0 24.9 47.0 25.8 28.0 24.9 0.0M29.7 0.0L29.0 12.9 26.4 28.0 29.9 49.0 36.7 59.0 36.6 68.0 33.8 75.0 33.4 87.0 33.7 105.0 35.4 114.0 35.6 137.0 37.0 140.1 45.9 144.0 50.0 152.2 52.0 154.0 55.0 154.9 58.0 154.0 60.0 152.2 64.1 144.0 75.1 140.0 80.0 133.4 82.0 134.0 84.6 138.0 88.3 141.0 93.0 143.2 98.0 141.5 103.1 137.0 105.5 126.0 104.1 114.0 109.2 107.0 110.7 95.0 109.5 74.0 109.0 72.0 106.0 68.0 107.1 63.0 105.8 59.0 110.0 55.6 115.0 55.0 128.0 58.9 133.0 58.4 143.0 55.1 146.0 55.4 148.2 57.0 149.0 59.0 148.1 63.0 148.8 68.0 146.6 75.0 145.4 89.0 146.5 105.0 148.0 108.6 156.0 115.9 157.0 115.8 162.0 109.3 163.6 104.0 163.7 79.0 163.3 74.0 161.1 68.0 160.9 60.0 162.0 56.0 166.7 49.0 169.0 29.0 166.7 0.0M178.5 0.0L177.7 28.0 178.6 47.0 179.8 49.0 182.0 50.0 192.0 51.1 203.0 50.0 205.2 49.0 206.4 47.0 207.3 28.0 206.5 0.0M129.5 79.0L132.1 77.0 133.3 72.0 132.0 69.7 128.0 68.9 125.0 70.8 124.8 74.0 126.6 78.0 129.5 79.0M130.2 105.0L130.0 103.5 127.5 104.0 128.0 105.1 130.2 105.0M81.0 117.8L80.0 117.6 78.7 115.0 79.0 113.0 80.0 112.5 82.3 114.0 82.3 116.0 81.0 117.8M157.1 145.0L157.8 138.0 157.0 135.6 156.0 135.5 155.0 137.8 155.0 141.5 156.0 145.8 157.1 145.0M220.0 197.8L214.0 196.2 208.6 191.0 196.0 188.7 179.1 190.0 175.0 192.0 172.0 195.4 170.0 195.8 166.8 190.0 157.0 179.9 156.0 179.8 149.4 185.0 144.0 186.5 129.0 185.5 113.0 186.6 94.0 181.3 83.0 184.0 77.0 184.3 63.8 181.0 59.0 173.7 57.0 172.5 54.0 172.2 50.7 174.0 46.2 181.0 36.0 184.5 33.0 186.8 29.9 191.0 26.7 203.0 29.0 211.6 29.9 220.0M24.9 220.0L25.8 203.0 24.6 192.0 22.4 190.0 17.0 189.0 10.6 190.0 8.4 192.0 7.6 203.0 8.1 220.0M209.6 220.0L210.2 215.0 212.0 211.6 215.0 209.3 220.0 208.2M167.4 220.0L169.0 211.2 171.0 210.1 174.4 214.0 175.4 220.0M0.0 50.9L15.0 52.6 29.0 51.7 32.0 53.6 34.4 57.0 34.8 68.0 32.8 77.0 32.8 103.0 34.3 113.0 34.5 137.0 36.9 146.0 35.9 163.0 36.7 180.0 34.8 184.0 29.0 188.5 15.0 187.6 0.0 189.3M220.0 188.8L193.0 187.3 170.0 188.6 166.0 187.4 162.3 184.0 160.9 180.0 160.8 147.0 161.1 114.0 164.0 107.2 164.4 103.0 164.3 76.0 162.4 67.0 162.4 58.0 163.7 55.0 166.0 52.6 169.0 51.2 193.0 52.7 220.0 50.9M147.0 185.0L142.0 185.4 129.0 183.9 112.0 185.5 106.8 183.0 104.2 180.0 105.8 163.0 103.9 145.0 108.1 136.0 108.9 126.0 108.3 113.0 109.4 110.0 113.0 106.2 115.0 106.1 125.2 110.0 129.0 110.5 143.0 106.5 147.0 109.3 150.0 113.0 149.5 126.0 151.0 143.0 150.2 163.0 150.9 180.0 149.6 183.0 147.0 185.0M81.0 153.2L80.0 153.9 78.0 152.6 76.1 147.0 76.3 144.0 79.0 142.0 81.8 143.0 82.8 145.0 82.6 149.0 81.0 153.2M81.0 181.4L78.0 181.7 76.4 180.0 77.1 176.0 80.0 173.1 82.5 178.0 82.4 180.0 81.0 181.4M0.0 52.5L15.0 53.7 29.0 53.1 32.0 54.5 33.4 57.0 33.7 68.0 32.3 75.0 31.7 93.0 33.5 113.0 33.6 137.0 34.9 146.0 34.9 180.0 32.9 185.0 28.0 187.3 16.0 186.6 0.0 187.7M220.0 187.4L193.0 186.4 170.0 187.3 165.0 185.8 162.8 183.0 162.2 180.0 162.1 144.0 162.4 114.0 164.8 106.0 165.6 94.0 165.0 76.0 163.3 67.0 163.4 58.0 164.4 55.0 167.0 53.2 170.0 52.7 193.0 53.7 220.0 52.5M146.0 184.0L142.0 184.3 129.0 182.0 113.0 184.6 110.0 183.6 108.9 182.0 108.3 179.0 109.2 162.0 108.2 145.0 111.1 127.0 110.0 113.0 112.0 109.9 115.0 109.6 119.2 111.0 126.0 116.5 129.0 117.5 132.0 116.5 136.9 112.0 141.3 110.0 145.0 110.0 147.1 112.0 147.6 115.0 146.4 126.0 148.5 143.0 147.5 163.0 148.4 180.0 147.4 183.0 146.0 184.0M130.2 140.0L132.9 138.0 133.0 136.0 131.0 133.9 127.0 133.9 125.0 136.0 125.1 138.0 128.0 140.2 130.2 140.0M0.0 53.5L16.0 55.1 28.0 53.9 31.0 54.6 32.4 56.0 32.9 68.0 31.5 76.0 30.7 92.0 32.8 113.0 32.9 136.0 33.9 146.0 33.8 180.0 32.3 185.0 28.0 186.4 16.0 185.6 0.0 186.7M220.0 186.5L193.0 185.1 170.0 186.4 165.0 185.2 163.2 180.0 163.1 143.0 163.3 114.0 166.0 105.0 166.9 93.0 165.9 76.0 164.1 68.0 164.2 58.0 165.0 55.1 170.0 53.7 193.0 55.1 220.0 53.5M114.0 183.0L111.0 182.0 110.4 180.0 112.1 163.0 110.1 145.0 110.8 141.0 114.0 136.7 120.0 143.0 122.7 156.0 125.0 159.8 128.5 163.0 128.5 164.0 123.0 170.2 120.5 180.0 118.1 182.0 114.0 183.0M145.0 182.4L142.0 182.6 138.3 181.0 135.0 170.2 129.5 164.0 135.3 156.0 138.0 143.0 143.0 137.5 145.0 138.6 146.7 144.0 144.7 163.0 146.4 180.0 145.0 182.4M0.0 54.3L16.0 56.0 29.0 54.6 32.0 56.7 32.3 69.0 30.3 76.0 29.1 92.0 30.3 105.0 32.3 112.0 33.0 146.0 33.0 180.0 32.0 184.4 28.0 185.7 16.0 184.5 0.0 186.0M220.0 185.8L194.0 184.2 172.0 185.7 165.8 185.0 164.4 183.0 164.0 180.0 164.0 142.0 164.3 112.0 171.0 93.7 174.0 95.8 177.4 104.0 179.9 106.0 187.0 107.8 195.0 108.1 202.3 107.0 206.7 105.0 210.0 97.2 214.7 91.0 210.0 84.8 206.8 76.0 203.1 74.0 195.0 72.6 186.2 73.0 179.5 75.0 177.5 77.0 174.9 85.0 173.0 87.4 171.0 88.3 169.0 84.5 167.4 76.0 165.0 70.8 165.3 56.0 169.0 54.4 193.0 56.0 220.0 54.3M19.2 83.0L21.5 79.0 21.0 75.0 17.0 73.5 12.0 75.0 11.3 78.0 13.0 82.2 16.0 84.0 19.2 83.0M18.2 107.0L21.3 105.0 21.2 102.0 19.0 98.8 15.0 98.3 12.0 101.6 11.7 105.0 14.8 107.0 18.2 107.0M0.0 54.8L16.0 57.1 29.0 55.4 31.0 56.7 31.5 59.0 31.4 70.0 28.0 74.7 19.8 71.0 14.0 70.8 7.2 74.0 3.0 80.0 0.0 81.7M220.0 74.8L193.0 70.2 169.0 73.8 165.7 70.0 165.4 59.0 166.5 56.0 169.0 55.0 193.0 57.1 220.0 54.8M0.0 100.3L2.0 101.0 7.6 107.0 15.0 109.9 18.0 109.9 27.0 106.2 30.0 108.1 31.8 113.0 31.3 127.0 32.5 145.0 32.4 180.0 31.4 184.0 28.0 185.1 16.0 183.6 0.0 185.5M220.0 185.3L194.0 183.2 171.0 185.1 166.0 184.1 164.6 180.0 164.5 142.0 164.7 113.0 165.6 110.0 168.0 107.6 171.0 106.8 193.0 110.5 220.0 106.1M0.0 55.7L16.0 58.9 29.0 56.6 30.5 59.0 30.5 68.0 30.0 70.6 28.0 71.8 20.0 68.7 16.0 68.2 0.0 73.3M220.0 72.2L211.0 71.5 193.0 68.1 169.0 71.7 167.4 71.0 166.5 69.0 166.4 59.0 167.0 56.9 169.0 56.0 193.0 58.9 220.0 55.7M0.0 107.5L5.0 108.4 16.0 112.5 27.0 108.9 30.0 109.9 31.1 113.0 30.4 127.0 32.0 145.0 31.2 163.0 31.8 180.0 31.0 183.1 28.0 184.4 16.0 182.3 0.0 185.0M220.0 184.6L193.0 181.4 173.0 184.2 167.0 183.8 165.3 180.0 166.1 163.0 165.1 142.0 166.1 126.0 165.4 114.0 167.0 109.8 170.0 108.9 174.0 109.2 193.0 112.7 209.0 109.5 220.0 108.5M0.0 56.9L7.1 59.0 8.9 63.0 8.3 66.0 6.3 69.0 3.0 70.8 0.0 71.2M220.0 70.7L213.6 70.0 208.4 68.0 206.2 66.0 205.1 63.0 208.2 59.0 220.0 56.9M171.0 70.0L169.0 69.8 168.0 68.0 168.9 63.0 167.9 59.0 170.0 57.4 176.8 59.0 179.9 63.0 177.9 67.0 171.0 70.0M28.0 68.8L25.9 68.0 24.1 64.0 25.2 60.0 27.0 58.7 28.3 59.0 28.0 68.8M0.0 109.4L4.8 110.0 8.5 112.0 13.0 118.7 16.0 120.1 20.0 118.7 24.5 112.0 27.0 110.7 29.0 111.0 30.1 114.0 29.1 127.0 31.1 145.0 30.1 163.0 30.9 180.0 30.0 182.7 25.6 183.0 16.0 177.9 10.2 182.0 0.0 184.1M220.0 183.7L210.9 183.0 204.0 181.0 198.0 173.1 193.0 171.3 187.0 173.1 181.0 181.0 174.1 183.0 167.8 183.0 166.4 180.0 167.5 163.0 166.1 141.0 167.5 126.0 166.4 114.0 168.0 110.6 171.0 110.1 178.6 112.0 182.1 114.0 187.0 118.9 193.0 120.2 198.0 118.9 202.9 114.0 206.4 112.0 214.0 110.1 220.0 109.7M17.1 149.0L19.0 147.0 22.0 137.0 20.0 132.3 16.0 130.9 12.4 133.0 11.0 138.0 14.0 147.1 15.0 148.4 17.1 149.0M196.1 155.0L199.0 153.0 201.3 149.0 202.5 143.0 202.0 137.0 200.0 133.6 197.0 131.7 193.0 130.8 189.0 131.3 185.0 133.6 183.0 137.0 182.5 142.0 183.3 148.0 185.0 151.7 188.0 154.6 192.0 155.7 196.1 155.0M0.0 111.2L3.6 112.0 5.5 115.0 4.0 118.6 0.0 120.6M220.0 120.6L214.0 119.0 211.0 115.0 213.0 112.7 220.0 111.5M172.0 118.3L170.0 118.7 169.0 117.6 168.2 114.0 169.0 112.6 171.0 112.4 173.8 114.0 173.8 116.0 172.0 118.3M0.0 130.4L3.0 131.4 4.4 133.0 7.7 142.0 8.3 160.0 7.9 180.0 5.7 182.0 0.0 183.1M220.0 156.3L216.0 155.4 212.2 152.0 210.3 147.0 209.7 141.0 210.2 137.0 212.0 133.6 215.0 131.4 220.0 130.4M171.0 153.7L169.0 152.1 167.6 141.0 169.0 133.4 171.0 132.3 174.0 135.1 175.3 141.0 174.2 149.0 171.0 153.7M29.0 181.3L25.9 181.0 24.8 177.0 24.8 145.0 26.0 140.2 28.0 137.9 29.7 144.0 27.3 163.0 29.4 178.0 29.0 181.3M220.0 182.3L212.2 181.0 210.7 179.0 211.6 176.0 214.0 172.9 220.0 170.7M172.0 181.3L169.0 181.4 168.1 180.0 170.0 173.4 172.0 174.0 174.1 178.0 174.0 180.0 172.0 181.3M0.0 140.3L2.0 141.0 3.1 144.0 2.0 147.9 0.0 149.1M0.0 178.0L1.4 179.0 1.4 180.0 0.0 180.4" fill="none" stroke="#0a2a3a" stroke-opacity="0.45" stroke-width="0.5" vector-effect="non-scaling-stroke"/><g stroke="#0a2020" stroke-width="1" vector-effect="non-scaling-stroke"><line x1="33" y1="0" x2="33" y2="55" stroke-opacity="0.25"/><line x1="110" y1="0" x2="110" y2="55" stroke-opacity="0.15"/><line x1="148" y1="0" x2="148" y2="55" stroke-opacity="0.20"/><line x1="165" y1="0" x2="165" y2="55" stroke-opacity="0.20"/><line x1="33" y1="55" x2="33" y2="72" stroke-opacity="0.35"/><line x1="110" y1="55" x2="110" y2="72" stroke-opacity="0.15"/><line x1="148" y1="55" x2="148" y2="72" stroke-opacity="0.20"/><line x1="165" y1="55" x2="165" y2="72" stroke-opacity="0.35"/><line x1="33" y1="72" x2="33" y2="110" stroke-opacity="0.33"/><line x1="77" y1="72" x2="77" y2="110" stroke-opacity="0.05"/><line x1="110" y1="72" x2="110" y2="110" stroke-opacity="0.15"/><line x1="148" y1="72" x2="148" y2="110" stroke-opacity="0.20"/><line x1="165" y1="72" x2="165" y2="110" stroke-opacity="0.30"/><line x1="33" y1="110" x2="33" y2="141" stroke-opacity="0.41"/><line x1="77" y1="110" x2="77" y2="141" stroke-opacity="0.05"/><line x1="110" y1="110" x2="110" y2="141" stroke-opacity="0.15"/><line x1="148" y1="110" x2="148" y2="141" stroke-opacity="0.20"/><line x1="165" y1="110" x2="165" y2="141" stroke-opacity="0.33"/><line x1="33" y1="141" x2="33" y2="186" stroke-opacity="0.36"/><line x1="110" y1="141" x2="110" y2="186" stroke-opacity="0.15"/><line x1="148" y1="141" x2="148" y2="186" stroke-opacity="0.20"/><line x1="165" y1="141" x2="165" y2="186" stroke-opacity="0.32"/><line x1="33" y1="186" x2="33" y2="220" stroke-opacity="0.25"/><line x1="110" y1="186" x2="110" y2="220" stroke-opacity="0.15"/><line x1="148" y1="186" x2="148" y2="220" stroke-opacity="0.20"/><line x1="165" y1="186" x2="165" y2="220" stroke-opacity="0.20"/><line x1="0" y1="55" x2="33" y2="55" stroke-opacity="0.35"/><line x1="33" y1="55" x2="77" y2="55" stroke-opacity="0.35"/><line x1="77" y1="55" x2="110" y2="55" stroke-opacity="0.35"/><line x1="110" y1="55" x2="148" y2="55" stroke-opacity="0.35"/><line x1="148" y1="55" x2="165" y2="55" stroke-opacity="0.35"/><line x1="165" y1="55" x2="220" y2="55" stroke-opacity="0.35"/><line x1="0" y1="72" x2="33" y2="72" stroke-opacity="0.30"/><line x1="33" y1="72" x2="77" y2="72" stroke-opacity="0.30"/><line x1="77" y1="72" x2="110" y2="72" stroke-opacity="0.30"/><line x1="110" y1="72" x2="148" y2="72" stroke-opacity="0.30"/><line x1="148" y1="72" x2="165" y2="72" stroke-opacity="0.30"/><line x1="165" y1="72" x2="220" y2="72" stroke-opacity="0.30"/><line x1="0" y1="110" x2="33" y2="110" stroke-opacity="0.20"/><line x1="33" y1="110" x2="77" y2="110" stroke-opacity="0.20"/><line x1="77" y1="110" x2="110" y2="110" stroke-opacity="0.20"/><line x1="110" y1="110" x2="148" y2="110" stroke-opacity="0.20"/><line x1="148" y1="110" x2="165" y2="110" stroke-opacity="0.20"/><line x1="165" y1="110" x2="220" y2="110" stroke-opacity="0.20"/><line x1="33" y1="141" x2="77" y2="141" stroke-opacity="0.08"/><line x1="77" y1="141" x2="110" y2="141" stroke-opacity="0.05"/><line x1="0" y1="186" x2="33" y2="186" stroke-opacity="0.37"/><line x1="33" y1="186" x2="77" y2="186" stroke-opacity="0.30"/><line x1="77" y1="186" x2="110" y2="186" stroke-opacity="0.30"/><line x1="110" y1="186" x2="148" y2="186" stroke-opacity="0.30"/><line x1="148" y1="186" x2="165" y2="186" stroke-opacity="0.30"/><line x1="165" y1="186" x2="220" y2="186" stroke-opacity="0.36"/></g><rect x="0" y="0" width="220" height="220" fill="none" stroke="#102838" stroke-width="2" vector-effect="non-scaling-stroke"/></svg>
<div class="tk" style="left:175.19px;top:510.10px"></div><div class="xl" style="left:165.44px;top:512.80px">50</div><div class="tk" style="left:197.82px;top:510.10px"></div><div class="xl" style="left:188.07px;top:512.80px">100</div><div class="tk" style="left:220.46px;top:510.10px"></div><div class="xl" style="left:210.71px;top:512.80px">150</div><div class="tk" style="left:243.10px;top:510.10px"></div><div class="xl" style="left:233.35px;top:512.80px">200</div><div class="tky" style="left:150.80px;top:488.10px"></div><div class="yl" style="left:130.10px;top:485.75px">50</div><div class="tky" style="left:150.80px;top:466.35px"></div><div class="yl" style="left:130.10px;top:464.00px">100</div><div class="tky" style="left:150.80px;top:444.60px"></div><div class="yl" style="left:130.10px;top:442.25px">150</div><div class="tky" style="left:150.80px;top:422.85px"></div><div class="yl" style="left:130.10px;top:420.50px">200</div><div class="xa" style="left:192.60px;top:521.40px">X</div><div class="ya" style="left:126.40px;top:458.75px">Y</div><div class="cap" style="left:155.40px;top:527.80px">(n) WO</div>
<svg class="pl" style="left:277.00px;top:415.60px;width:99.80px;height:95.10px" viewBox="0 0 220 220" preserveAspectRatio="none"><linearGradient id="go00" gradientUnits="userSpaceOnUse" x1="0" y1="0" x2="33" y2="0"><stop offset="0" stop-color="#00e9ce"/><stop offset="0.5" stop-color="#00e2f9"/><stop offset="1" stop-color="#00b4f9"/></linearGradient><rect x="0" y="0" width="36" height="58" fill="url(#go00)"/><linearGradient id="go01" gradientUnits="userSpaceOnUse" x1="0" y1="0" x2="0" y2="55"><stop offset="0" stop-color="#000ce2"/><stop offset="0.5" stop-color="#0013ea"/><stop offset="1" stop-color="#001eed"/></linearGradient><rect x="33" y="0" width="47" height="58" fill="url(#go01)"/><linearGradient id="go02" gradientUnits="userSpaceOnUse" x1="0" y1="0" x2="0" y2="55"><stop offset="0" stop-color="#0013ea"/><stop offset="0.5" stop-color="#001eed"/><stop offset="1" stop-color="#0028f1"/></linearGradient><rect x="77" y="0" width="36" height="58" fill="url(#go02)"/><linearGradient id="go03" gradientUnits="userSpaceOnUse" x1="0" y1="0" x2="0" y2="55"><stop offset="0" stop-color="#0040f8"/><stop offset="0.5" stop-color="#004ef9"/><stop offset="1" stop-color="#0060f9"/></linearGradient><rect x="110" y="0" width="41" height="58" fill="url(#go03)"/><linearGradient id="go04" gradientUnits="userSpaceOnUse" x1="0" y1="0" x2="0" y2="55"><stop offset="0" stop-color="#0019ec"/><stop offset="0.5" stop-color="#0024ef"/><stop offset="1" stop-color="#002ef2"/></linearGradient><rect x="148" y="0" width="20" height="58" fill="url(#go04)"/><linearGradient id="go05" gradientUnits="userSpaceOnUse" x1="165" y1="0" x2="220" y2="0"><stop offset="0" stop-color="#00acf9"/><stop offset="0.5" stop-color="#00daf9"/><stop offset="1" stop-color="#00e9d2"/></linearGradient><rect x="165" y="0" width="58" height="58" fill="url(#go05)"/><linearGradient id="go10" gradientUnits="userSpaceOnUse" x1="0" y1="0" x2="33" y2="0"><stop offset="0" stop-color="#f7bc00"/><stop offset="0.5" stop-color="#f7ef00"/><stop offset="1" stop-color="#b4f200"/></linearGradient><rect x="0" y="55" width="36" height="20" fill="url(#go10)"/><rect x="33" y="55" width="47" height="20" fill="#0099f9"/><rect x="77" y="55" width="36" height="20" fill="#00c7f9"/><rect x="110" y="55" width="41" height="20" fill="#00ea25"/><rect x="148" y="55" width="20" height="20" fill="#00bbf9"/><linearGradient id="go15" gradientUnits="userSpaceOnUse" x1="165" y1="0" x2="220" y2="0"><stop offset="0" stop-color="#b4f200"/><stop offset="0.5" stop-color="#f7ef00"/><stop offset="1" stop-color="#f7bc00"/></linearGradient><rect x="165" y="55" width="58" height="20" fill="url(#go15)"/><linearGradient id="go20" gradientUnits="userSpaceOnUse" x1="0" y1="0" x2="33" y2="0"><stop offset="0" stop-color="#03de00"/><stop offset="0.5" stop-color="#00e413"/><stop offset="1" stop-color="#00eb29"/></linearGradient><rect x="0" y="72" width="36" height="41" fill="url(#go20)"/><rect x="33" y="72" width="47" height="41" fill="#0028f1"/><rect x="77" y="72" width="36" height="41" fill="#003cf6"/><rect x="110" y="72" width="41" height="41" fill="#00c7f9"/><rect x="148" y="72" width="20" height="41" fill="#0031f3"/><linearGradient id="go25" gradientUnits="userSpaceOnUse" x1="165" y1="0" x2="220" y2="0"><stop offset="0" stop-color="#00eb29"/><stop offset="0.5" stop-color="#00e413"/><stop offset="1" stop-color="#03de00"/></linearGradient><rect x="165" y="72" width="58" height="41" fill="url(#go25)"/><linearGradient id="go30" gradientUnits="userSpaceOnUse" x1="0" y1="0" x2="33" y2="0"><stop offset="0" stop-color="#f7bc00"/><stop offset="0.5" stop-color="#f7ef00"/><stop offset="1" stop-color="#b4f200"/></linearGradient><rect x="0" y="110" width="36" height="34" fill="url(#go30)"/><rect x="33" y="110" width="47" height="34" fill="#00a0f9"/><rect x="77" y="110" width="36" height="34" fill="#00e2f9"/><rect x="110" y="110" width="41" height="34" fill="#00e00a"/><rect x="148" y="110" width="20" height="34" fill="#00cef9"/><linearGradient id="go35" gradientUnits="userSpaceOnUse" x1="165" y1="0" x2="220" y2="0"><stop offset="0" stop-color="#4feb00"/><stop offset="0.5" stop-color="#a1f200"/><stop offset="1" stop-color="#ebf200"/></linearGradient><rect x="165" y="110" width="58" height="34" fill="url(#go35)"/><linearGradient id="go40" gradientUnits="userSpaceOnUse" x1="0" y1="0" x2="33" y2="0"><stop offset="0" stop-color="#f31500"/><stop offset="0.5" stop-color="#f73200"/><stop offset="1" stop-color="#f76500"/></linearGradient><rect x="0" y="141" width="36" height="48" fill="url(#go40)"/><rect x="33" y="141" width="47" height="48" fill="#00e3f4"/><rect x="77" y="141" width="36" height="48" fill="#00eac9"/><rect x="110" y="141" width="41" height="48" fill="#00dd00"/><rect x="148" y="141" width="20" height="48" fill="#00e3f4"/><linearGradient id="go45" gradientUnits="userSpaceOnUse" x1="165" y1="0" x2="220" y2="0"><stop offset="0" stop-color="#f7cd00"/><stop offset="0.5" stop-color="#f79b00"/><stop offset="1" stop-color="#f76900"/></linearGradient><rect x="165" y="141" width="58" height="48" fill="url(#go45)"/><linearGradient id="go50" gradientUnits="userSpaceOnUse" x1="0" y1="0" x2="33" y2="0"><stop offset="0" stop-color="#00e4f0"/><stop offset="0.5" stop-color="#00bbf9"/><stop offset="1" stop-color="#008ef9"/></linearGradient><rect x="0" y="186" width="36" height="37" fill="url(#go50)"/><linearGradient id="go51" gradientUnits="userSpaceOnUse" x1="0" y1="186" x2="0" y2="220"><stop offset="0" stop-color="#0019ec"/><stop offset="0.5" stop-color="#0010e6"/><stop offset="1" stop-color="#000ade"/></linearGradient><rect x="33" y="186" width="47" height="37" fill="url(#go51)"/><linearGradient id="go52" gradientUnits="userSpaceOnUse" x1="0" y1="186" x2="0" y2="220"><stop offset="0" stop-color="#001eed"/><stop offset="0.5" stop-color="#0013ea"/><stop offset="1" stop-color="#000ce2"/></linearGradient><rect x="77" y="186" width="36" height="37" fill="url(#go52)"/><linearGradient id="go53" gradientUnits="userSpaceOnUse" x1="0" y1="186" x2="0" y2="220"><stop offset="0" stop-color="#0052f9"/><stop offset="0.5" stop-color="#0043f9"/><stop offset="1" stop-color="#0039f6"/></linearGradient><rect x="110" y="186" width="41" height="37" fill="url(#go53)"/><linearGradient id="go54" gradientUnits="userSpaceOnUse" x1="0" y1="186" x2="0" y2="220"><stop offset="0" stop-color="#001eed"/><stop offset="0.5" stop-color="#0013ea"/><stop offset="1" stop-color="#000ce2"/></linearGradient><rect x="148" y="186" width="20" height="37" fill="url(#go54)"/><linearGradient id="go55" gradientUnits="userSpaceOnUse" x1="165" y1="0" x2="220" y2="0"><stop offset="0" stop-color="#008ef9"/><stop offset="0.5" stop-color="#00bbf9"/><stop offset="1" stop-color="#00e4f0"/></linearGradient><rect x="165" y="186" width="58" height="37" fill="url(#go55)"/><rect x="1" y="56" width="31" height="15" fill="url(#ph)" opacity="1.00"/><rect x="166" y="56" width="53" height="15" fill="url(#ph)" opacity="1.00"/><rect x="1" y="111" width="31" height="29" fill="url(#pv)" opacity="1.00"/><rect x="166" y="111" width="53" height="29" fill="url(#pv)" opacity="0.70"/><rect x="1" y="142" width="31" height="43" fill="url(#pv)" opacity="1.00"/><rect x="166" y="142" width="53" height="43" fill="url(#pv)" opacity="1.00"/><path d="M47.0 0.0L47.6 8.0 49.0 13.2 52.0 17.1 55.0 18.1 58.0 17.1 61.0 13.2 62.4 8.0 63.0 0.0M60.3 50.0L61.9 49.0 62.4 47.0 60.0 40.0 56.0 37.0 52.0 37.9 48.6 43.0 47.6 47.0 48.1 49.0 54.0 50.7 60.3 50.0M66.6 220.0L67.1 211.0 69.2 203.0 66.8 193.0 65.5 191.0 63.3 190.0 55.0 189.0 46.7 190.0 44.5 191.0 43.2 193.0 40.9 203.0 42.9 211.0 43.4 220.0M156.2 197.0L158.0 195.5 158.6 193.0 158.4 191.0 157.0 189.9 155.0 190.3 154.0 192.0 155.0 196.0 156.2 197.0M94.6 197.0L98.0 194.1 98.4 192.0 97.6 191.0 94.0 190.1 89.4 191.0 88.6 193.0 90.0 195.6 92.0 196.9 94.6 197.0M99.5 220.0L98.0 211.9 96.0 209.6 94.0 208.9 91.0 209.6 89.0 211.9 87.5 220.0M159.1 220.0L158.0 210.5 156.0 209.0 154.0 212.9 153.5 220.0M35.7 0.0L35.0 29.0 36.0 50.0 39.0 52.1 55.0 53.6 72.6 52.0 79.0 50.3 88.0 52.0 96.0 52.3 105.5 50.0 106.6 47.0 107.7 29.0 106.3 0.0M151.1 0.0L150.1 27.0 151.0 48.0 152.5 51.0 156.0 52.2 159.7 51.0 160.7 48.0 160.7 0.0M56.6 107.0L63.2 106.0 66.9 104.0 71.3 93.0 71.0 88.1 67.3 78.0 65.8 76.0 57.0 73.9 46.4 75.0 42.7 78.0 39.8 88.0 40.0 95.0 42.6 103.0 44.3 105.0 50.0 106.6 56.6 107.0M157.2 81.0L157.9 77.0 156.0 75.8 154.7 77.0 154.9 80.0 156.0 81.7 157.2 81.0M157.6 104.0L157.0 100.6 156.0 100.3 154.9 104.0 156.0 104.9 157.6 104.0M108.1 220.0L109.1 201.0 108.3 192.0 107.0 189.8 97.0 187.8 79.0 188.9 55.0 187.1 39.0 188.1 35.5 190.0 34.5 201.0 35.0 220.0M162.0 220.0L162.0 191.0 160.0 188.1 156.0 187.3 150.5 189.0 148.7 192.0 147.9 203.0 148.9 220.0M33.9 0.0L33.6 32.0 34.5 51.0 38.0 54.0 55.0 55.5 79.0 53.1 98.0 53.9 105.1 53.0 108.9 51.0 110.5 48.0 111.8 31.0 110.5 0.0M122.6 0.0L124.3 12.0 126.0 14.9 129.0 16.4 132.0 14.9 133.7 12.0 135.4 0.0M146.8 0.0L145.3 27.0 146.7 48.0 149.7 52.0 156.0 54.1 160.3 53.0 162.6 49.0 162.7 0.0M132.8 49.0L134.6 47.0 133.0 41.5 130.0 38.8 127.0 39.3 124.0 43.7 123.7 48.0 127.0 49.3 132.8 49.0M63.4 109.0L73.0 107.8 80.0 105.3 94.0 107.4 100.0 106.8 104.9 105.0 106.0 100.4 106.4 91.0 105.0 76.0 100.7 74.0 94.0 73.2 80.0 75.6 72.6 73.0 57.0 71.2 38.0 73.2 36.6 75.0 36.0 79.9 36.0 102.0 37.0 106.9 39.0 108.0 51.0 109.5 63.4 109.0M158.4 108.0L160.0 106.9 160.8 104.0 160.8 77.0 160.0 73.9 156.0 72.4 151.5 74.0 150.1 77.0 150.0 103.0 152.0 107.1 155.0 108.2 158.4 108.0M163.6 220.0L163.5 191.0 162.0 188.0 159.0 186.3 154.0 186.2 149.0 188.0 145.2 191.0 143.0 194.7 142.0 194.9 138.2 191.0 126.0 189.9 118.1 192.0 115.0 196.4 110.7 190.0 105.0 187.3 94.0 186.6 79.0 187.3 55.0 185.9 38.0 186.8 34.3 189.0 33.0 198.0 33.4 220.0M112.0 220.0L113.0 212.4 115.0 209.6 117.0 212.5 117.8 220.0M140.2 220.0L140.7 214.0 142.0 211.2 143.0 211.4 144.0 213.5 144.8 220.0M32.8 0.0L32.4 31.0 33.3 51.0 38.0 55.6 55.0 57.9 79.0 54.5 98.0 55.5 106.0 54.2 114.0 50.8 129.0 51.7 144.0 51.0 154.0 55.6 159.0 55.5 162.8 52.0 164.0 48.4 164.0 0.0M58.5 112.0L79.0 108.3 95.0 109.4 104.0 108.3 106.9 107.0 108.4 104.0 109.0 92.0 108.4 77.0 107.1 74.0 104.0 72.3 96.0 71.0 80.0 72.4 56.0 68.6 46.0 69.4 37.0 71.6 35.5 74.0 35.0 78.0 34.9 103.0 36.0 108.1 40.0 110.3 53.0 112.2 58.5 112.0M158.1 110.0L160.9 108.0 161.8 105.0 161.9 77.0 160.0 71.7 156.0 70.3 151.0 72.2 148.3 76.0 148.0 102.4 148.7 106.0 151.0 108.4 155.0 110.1 158.1 110.0M164.7 220.0L164.7 191.0 163.2 188.0 159.0 185.1 154.0 184.9 144.0 188.8 129.0 188.3 114.0 188.9 106.0 186.5 97.0 185.6 79.0 186.2 55.0 184.5 38.0 185.7 33.0 189.0 31.6 200.0 32.2 220.0M31.8 0.0L31.8 48.0 32.4 51.0 37.4 58.0 37.8 60.0 37.5 68.0 34.3 76.0 34.4 106.0 36.0 109.9 40.3 115.0 38.5 126.0 39.0 130.5 40.9 135.0 45.3 138.0 55.0 139.7 64.7 138.0 68.2 136.0 69.8 134.0 72.6 127.0 72.2 122.0 69.7 116.0 70.5 114.0 72.0 113.0 79.0 109.7 93.0 111.4 104.0 109.8 107.8 108.0 109.8 105.0 110.8 89.0 110.1 78.0 109.0 74.0 104.0 70.5 96.0 68.8 91.0 68.8 81.0 70.6 77.0 70.1 74.5 67.0 74.9 58.0 77.0 56.4 80.0 55.9 91.0 57.7 97.0 57.6 105.0 55.8 113.0 52.3 143.0 52.2 147.0 53.2 155.0 58.5 158.0 58.3 163.8 52.0 165.0 49.0 165.7 28.0 165.0 0.0M158.0 112.0L161.0 109.5 162.5 106.0 162.6 77.0 162.0 73.2 160.0 69.8 156.0 67.7 152.0 69.6 147.3 75.0 146.0 94.0 146.5 103.0 147.9 107.0 154.0 111.7 158.0 112.0M166.2 220.0L167.1 203.0 166.4 192.0 164.1 188.0 158.0 183.5 154.0 183.7 144.0 187.8 115.0 187.9 97.0 184.5 79.0 185.5 55.0 183.2 38.0 184.8 35.0 186.2 31.3 190.0 29.8 202.0 30.6 220.0M18.2 220.0L17.0 217.2 15.3 218.0 14.8 220.0M195.4 220.0L194.6 218.0 193.0 217.1 190.4 218.0 189.6 220.0M12.8 0.0L13.7 7.0 16.0 10.2 18.0 9.5 19.0 7.8 20.2 0.0M30.4 0.0L29.5 27.0 30.3 48.0 35.1 56.0 35.9 59.0 35.9 68.0 33.7 76.0 33.5 95.0 33.8 106.0 36.4 114.0 36.7 137.0 38.5 140.0 45.2 142.0 55.0 146.6 64.8 142.0 73.0 139.8 75.3 138.0 77.2 128.0 76.4 115.0 77.6 112.0 83.0 111.7 92.0 115.8 95.0 115.8 108.0 109.1 115.0 101.0 119.9 105.0 126.0 106.1 135.0 105.7 142.0 102.6 149.7 110.0 152.7 115.0 153.0 138.0 156.0 145.9 157.0 145.6 159.2 138.0 158.6 125.0 159.5 115.0 163.2 105.0 163.2 76.0 160.3 67.0 160.2 61.0 161.5 56.0 166.7 48.0 167.8 27.0 166.6 0.0M182.9 0.0L183.5 7.0 185.2 12.0 188.0 15.4 192.0 16.9 196.0 16.0 199.2 13.0 201.2 8.0 202.1 0.0M198.4 49.0L201.0 47.0 200.3 44.0 198.0 40.5 194.0 38.2 191.0 38.2 188.0 39.6 185.8 42.0 184.1 46.0 184.5 48.0 186.6 49.0 198.4 49.0M18.2 48.0L18.6 47.0 17.2 45.0 15.0 45.6 14.8 48.0 18.2 48.0M115.0 81.0L104.7 67.0 104.6 59.0 108.3 55.0 114.0 53.1 143.0 53.1 147.0 54.1 150.4 57.0 151.2 60.0 150.8 68.0 143.0 78.5 142.0 78.8 138.6 76.0 135.2 75.0 126.0 74.6 119.4 76.0 115.0 81.0M220.0 191.8L194.0 189.3 170.0 191.1 166.0 188.9 156.0 179.6 149.4 185.0 145.0 186.9 115.0 187.1 96.0 183.3 78.0 184.6 55.0 179.4 38.0 183.6 28.0 190.6 14.0 189.6 0.0 191.9M0.0 216.8L1.5 218.0 2.0 220.0M216.7 220.0L217.4 218.0 220.0 216.8M2.8 0.0L2.0 5.6 0.0 7.7M0.0 46.9L7.2 50.0 13.2 51.0 28.0 49.8 32.0 52.6 34.4 56.0 35.1 67.0 33.1 77.0 33.1 104.0 35.4 114.0 35.6 137.0 38.9 146.0 37.6 163.0 38.7 179.0 36.6 183.0 32.0 187.5 29.0 188.9 0.0 189.5M220.0 189.3L167.0 188.5 162.5 185.0 160.3 181.0 160.0 164.0 161.1 114.0 163.9 103.0 163.8 76.0 161.4 66.0 162.3 56.0 166.0 51.6 170.0 49.6 194.0 51.2 220.0 49.1M143.0 74.1L130.0 73.0 115.0 74.2 112.0 73.7 108.8 71.0 107.2 68.0 107.7 57.0 110.0 54.6 114.0 53.8 143.0 53.8 147.0 54.6 149.4 58.0 149.4 68.0 147.0 72.1 143.0 74.1M145.0 186.3L113.0 186.5 94.0 181.1 79.0 183.6 74.6 182.0 72.4 180.0 74.7 163.0 72.0 145.0 80.0 137.6 93.0 143.3 97.0 142.3 104.0 138.0 105.7 128.0 105.3 114.0 108.1 110.0 112.0 107.1 115.0 106.5 130.0 107.6 143.0 106.6 147.0 108.5 149.9 112.0 151.7 145.0 151.7 179.0 149.4 184.0 145.0 186.3M0.0 50.9L15.0 52.0 28.0 51.3 31.0 52.5 33.8 56.0 34.5 67.0 32.7 76.0 32.7 104.0 34.6 113.0 34.8 136.0 36.5 146.0 36.4 180.0 34.1 185.0 31.0 187.5 28.0 188.3 0.0 188.6M220.0 188.4L170.0 188.3 165.0 186.7 162.4 184.0 161.3 181.0 161.2 147.0 162.0 114.0 164.3 103.0 164.2 76.0 162.1 66.0 162.2 58.0 163.5 55.0 166.0 52.5 169.0 51.3 193.0 52.1 220.0 51.1M145.0 72.4L112.0 72.5 109.5 71.0 108.4 68.0 108.4 58.0 110.0 55.1 113.0 54.4 128.0 55.3 142.0 54.4 146.8 55.0 148.6 59.0 148.5 67.0 147.3 71.0 145.0 72.4M147.0 185.3L112.0 185.8 109.2 185.0 102.8 180.0 103.4 163.0 102.4 146.0 106.8 137.0 107.3 113.0 111.0 108.6 114.0 107.7 129.0 108.5 143.0 107.8 147.0 109.3 148.9 112.0 150.2 144.0 150.1 179.0 149.7 182.0 147.0 185.3M82.0 161.1L81.0 160.9 80.0 158.8 77.0 147.0 77.7 143.0 80.0 141.7 83.1 143.0 84.5 146.0 83.9 155.0 82.0 161.1M82.0 181.4L78.0 181.2 77.2 179.0 80.0 168.2 81.0 166.1 82.0 165.9 83.7 171.0 84.4 178.0 84.0 180.0 82.0 181.4M0.0 51.8L28.0 52.2 31.0 53.2 33.3 56.0 34.0 67.0 32.4 76.0 32.0 96.0 32.4 106.0 34.2 114.0 34.3 136.0 35.6 146.0 35.5 180.0 33.6 185.0 31.0 187.0 28.0 187.8 0.0 188.0M220.0 187.8L170.0 187.7 165.0 186.2 162.5 183.0 161.9 180.0 161.9 146.0 162.6 114.0 164.5 106.0 164.9 95.0 164.6 76.0 162.7 67.0 162.7 59.0 164.0 55.0 166.0 53.1 169.0 52.1 193.0 52.7 220.0 52.0M146.0 71.2L142.0 71.9 130.0 70.7 116.0 71.9 111.0 71.3 109.3 68.0 109.5 57.0 111.0 55.4 113.0 54.8 129.0 56.1 145.0 55.0 147.0 56.2 147.7 59.0 147.6 68.0 146.0 71.2M146.0 185.2L129.0 184.6 112.0 185.5 109.9 185.0 106.6 181.0 106.3 145.0 108.0 136.0 108.2 114.0 110.0 109.7 114.0 108.6 129.0 109.6 143.0 108.7 147.0 109.8 147.7 111.0 148.6 115.0 149.1 179.0 148.3 183.0 146.0 185.2M0.0 52.5L28.0 52.8 32.0 54.4 32.9 56.0 33.6 67.0 31.9 77.0 31.4 94.0 32.0 105.0 33.7 113.0 33.8 136.0 34.9 146.0 34.9 180.0 33.1 185.0 28.0 187.3 0.0 187.5M220.0 187.3L170.0 187.2 165.0 185.8 163.0 183.0 162.4 180.0 162.4 146.0 163.1 114.0 164.9 106.0 165.5 94.0 165.0 76.0 163.2 67.0 163.2 59.0 164.4 55.0 167.0 53.2 170.0 52.7 220.0 52.6M144.0 71.2L129.0 69.7 111.9 71.0 109.9 68.0 110.0 57.7 111.4 56.0 114.0 55.4 128.0 56.9 145.0 55.8 147.0 58.0 147.0 68.0 146.0 70.2 144.0 71.2M145.0 185.0L129.0 184.1 113.0 185.2 110.0 184.4 108.3 182.0 107.7 145.0 109.0 133.7 109.0 114.0 110.6 110.0 115.0 109.2 130.0 110.6 143.0 109.3 147.1 111.0 148.3 144.0 148.3 180.0 147.1 184.0 145.0 185.0M0.0 53.1L28.0 53.3 32.0 54.8 32.6 56.0 33.1 68.0 31.3 77.0 30.8 93.0 31.4 105.0 33.2 113.0 33.4 136.0 34.5 146.0 34.4 180.0 32.7 185.0 28.0 186.9 0.0 187.1M220.0 186.8L170.0 186.8 165.0 185.5 162.9 180.0 162.9 146.0 163.6 114.0 165.6 105.0 166.1 93.0 165.5 76.0 163.6 67.0 163.6 59.0 164.7 55.0 170.0 53.2 220.0 53.1M144.0 70.2L129.0 68.5 113.0 70.3 110.9 68.0 110.9 58.0 114.0 56.2 129.0 58.0 144.0 56.4 145.3 57.0 146.2 59.0 146.0 68.0 144.0 70.2M146.0 184.0L143.0 184.7 128.0 183.4 114.0 184.8 111.0 184.2 109.6 183.0 108.8 179.0 108.7 145.0 109.9 128.0 109.6 114.0 110.0 111.8 112.0 110.0 129.0 111.5 143.0 109.9 145.0 110.2 147.0 112.0 147.6 180.0 147.1 183.0 146.0 184.0M0.0 53.5L28.0 53.8 31.0 54.5 32.3 56.0 32.8 68.0 30.6 77.0 30.0 93.0 30.7 105.0 32.9 113.0 33.0 136.0 34.0 146.0 34.0 180.0 32.4 185.0 28.0 186.6 0.0 186.7M220.0 186.5L170.0 186.4 165.0 185.2 163.3 180.0 163.3 146.0 164.1 113.0 166.2 105.0 166.9 93.0 166.2 77.0 164.1 68.0 164.0 59.0 165.0 55.0 170.0 53.7 220.0 53.6M116.0 69.0L113.5 69.0 112.4 68.0 112.0 59.0 113.0 57.6 116.0 57.4 128.0 60.5 142.0 57.5 144.0 57.8 144.8 59.0 144.7 67.0 143.0 69.0 129.0 66.2 116.0 69.0M144.0 184.0L129.0 182.4 114.0 184.2 110.0 182.5 109.4 145.0 110.7 127.0 110.1 115.0 110.8 112.0 112.0 110.9 116.0 110.6 129.0 112.7 143.0 110.6 146.0 112.0 147.2 143.0 146.5 163.0 147.1 180.0 146.1 183.0 144.0 184.0M0.0 54.0L16.0 54.9 28.0 54.2 32.0 56.0 32.4 69.0 29.7 77.0 28.7 92.0 29.7 104.0 32.6 113.0 32.7 135.0 33.6 146.0 33.6 180.0 32.1 185.0 28.0 186.2 0.0 186.4M220.0 186.1L170.0 186.0 165.2 185.0 163.7 180.0 163.7 146.0 164.4 113.0 166.9 105.0 168.1 92.0 166.9 76.0 164.4 69.0 165.0 55.7 170.0 54.1 193.0 55.0 220.0 54.0M18.3 84.0L21.4 80.0 21.1 76.0 17.0 74.7 11.9 76.0 11.3 79.0 13.0 82.7 16.0 84.4 18.3 84.0M195.6 84.0L199.0 82.1 200.7 80.0 201.4 78.0 200.2 76.0 197.0 75.0 190.0 74.8 185.0 75.9 183.8 77.0 184.3 80.0 187.0 82.9 191.0 84.4 195.6 84.0M18.9 106.0L21.5 104.0 21.0 101.0 18.0 97.8 15.0 97.8 12.0 101.0 11.5 104.0 14.1 106.0 18.9 106.0M198.0 106.0L200.3 105.0 201.0 102.9 199.0 99.9 195.0 97.8 188.0 98.5 185.0 101.0 184.0 103.0 184.7 105.0 187.0 106.0 198.0 106.0M144.0 183.2L129.0 180.7 115.0 183.4 112.0 183.1 110.7 182.0 111.0 162.0 110.0 144.0 111.8 127.0 111.1 114.0 113.0 111.5 118.5 112.0 129.0 115.9 141.0 111.7 144.0 111.7 145.4 113.0 145.1 127.0 146.5 143.0 145.6 163.0 146.3 180.0 145.8 182.0 144.0 183.2M130.8 141.0L131.9 138.0 131.0 136.3 129.0 135.5 127.0 136.3 126.1 138.0 127.2 141.0 129.0 141.8 130.8 141.0M0.0 54.3L16.0 55.4 29.0 54.6 31.5 56.0 32.2 59.0 32.0 70.2 28.0 76.3 19.0 73.4 10.8 74.0 7.0 76.0 4.0 82.5 0.0 84.9M220.0 84.9L214.0 83.1 208.3 76.0 201.9 74.0 195.0 73.3 186.0 73.6 179.0 75.0 175.4 77.0 173.0 81.0 171.0 82.5 170.0 82.0 167.6 75.0 165.0 70.7 164.6 59.0 166.0 55.2 169.0 54.4 193.0 55.4 220.0 54.3M0.0 97.1L3.6 99.0 6.9 105.0 10.9 107.0 19.0 107.6 27.0 104.6 30.0 107.3 31.8 110.0 32.4 113.0 32.2 130.0 33.3 146.0 33.3 180.0 32.0 184.7 28.0 185.9 0.0 186.1M220.0 185.8L193.0 184.9 170.0 185.7 165.8 185.0 164.5 183.0 164.1 180.0 164.1 146.0 164.8 112.0 170.0 100.0 172.0 99.9 175.0 104.0 178.2 106.0 187.0 107.9 196.0 108.1 206.8 106.0 210.0 104.0 214.0 98.9 220.0 97.1M144.0 182.2L137.8 181.0 136.0 179.0 133.0 172.1 129.0 170.1 125.0 172.1 122.0 179.0 120.2 181.0 114.0 182.6 111.5 181.0 112.5 163.0 111.0 144.0 114.1 126.0 112.4 116.0 113.2 113.0 116.3 113.0 119.0 115.0 119.7 137.0 122.7 150.0 125.0 154.9 129.0 156.9 133.0 154.9 135.3 150.0 138.3 137.0 139.0 115.0 142.0 113.0 144.2 114.0 142.5 125.0 145.5 143.0 144.2 163.0 145.3 180.0 144.0 182.2M0.0 54.6L16.0 55.9 29.0 54.9 31.0 56.0 31.9 59.0 31.8 69.0 29.0 73.5 27.0 74.0 15.0 72.3 0.0 75.7M220.0 75.7L194.0 72.3 169.0 74.6 165.2 70.0 164.9 59.0 166.0 55.8 169.0 54.7 193.0 55.9 220.0 54.6M0.0 105.5L15.0 108.7 28.0 107.1 31.0 109.6 32.1 113.0 31.8 128.0 33.0 146.0 32.9 180.0 32.0 184.2 28.0 185.7 16.0 185.1 0.0 185.8M220.0 185.6L193.0 184.5 170.0 185.5 166.0 184.7 164.8 183.0 164.4 180.0 164.3 146.0 165.4 127.0 165.0 112.9 165.8 110.0 168.0 107.5 171.0 106.5 193.0 109.7 220.0 105.7M115.0 151.4L114.0 151.0 112.8 146.0 113.0 141.4 114.0 139.9 115.9 141.0 116.8 144.0 116.2 149.0 115.0 151.4M142.0 148.1L141.4 144.0 142.0 142.0 143.0 141.6 143.4 146.0 143.0 147.9 142.0 148.1M115.0 180.4L114.0 180.5 113.3 179.0 114.0 176.0 115.0 175.6 116.2 179.0 115.0 180.4M0.0 54.8L16.0 56.4 29.0 55.4 31.0 56.8 31.5 59.0 31.4 69.0 29.0 72.5 16.0 71.1 0.0 73.8M220.0 73.8L193.0 71.1 169.0 73.2 165.7 70.0 165.3 59.0 166.5 56.0 169.0 55.0 193.0 56.4 220.0 54.9M0.0 107.3L16.0 110.0 28.0 108.2 30.7 110.0 31.8 114.0 31.4 128.0 32.7 146.0 32.7 180.0 31.7 184.0 28.0 185.4 16.0 184.7 0.0 185.6M220.0 185.3L193.0 184.2 170.0 185.2 166.0 184.2 164.6 180.0 164.6 145.0 165.9 128.0 165.5 113.0 166.5 110.0 168.0 108.7 172.0 108.1 193.0 110.9 220.0 107.6M0.0 55.2L16.0 56.9 28.0 55.7 30.0 56.4 31.1 59.0 30.9 69.0 29.0 71.7 16.0 70.2 0.0 72.7M220.0 72.7L193.0 70.2 169.0 72.3 167.0 71.3 166.0 69.3 165.8 59.0 167.0 56.2 169.0 55.5 193.0 57.0 220.0 55.3M0.0 108.3L15.0 110.8 27.0 109.1 30.1 110.0 31.3 114.0 31.0 128.0 32.5 146.0 32.4 180.0 31.3 184.0 28.0 185.1 16.0 184.4 0.0 185.4M220.0 185.1L193.0 183.7 170.0 184.9 166.4 184.0 164.9 180.0 164.9 145.0 166.5 128.0 166.0 113.0 167.3 110.0 173.0 109.2 193.0 112.4 210.0 109.5 220.0 108.8M0.0 55.7L16.0 57.7 28.0 56.3 30.0 57.2 30.5 60.0 30.5 68.0 29.0 71.0 16.0 69.3 0.0 71.9M220.0 71.9L193.0 69.3 169.0 71.5 166.5 69.0 166.3 59.0 167.0 56.9 170.0 55.9 193.0 57.7 220.0 55.7M0.0 109.1L16.0 112.0 27.0 109.8 30.0 110.9 30.9 114.0 30.6 131.0 32.2 146.0 32.2 180.0 31.0 183.8 28.0 184.8 16.0 184.1 0.0 185.1M220.0 184.7L194.0 183.2 171.0 184.5 167.0 183.9 165.3 180.0 165.2 145.0 167.3 127.0 166.6 114.0 168.0 110.4 171.0 109.9 177.0 110.9 190.0 115.6 193.0 115.9 207.4 111.0 220.0 109.6M0.0 56.2L16.0 58.7 28.0 56.9 29.6 58.0 30.0 60.0 29.9 68.0 28.0 70.3 16.0 68.2 0.0 71.3M220.0 71.3L193.0 68.2 169.0 70.9 167.0 68.5 166.9 59.0 167.9 57.0 170.0 56.5 193.0 58.7 220.0 56.2M0.0 109.7L6.0 110.5 16.0 113.9 26.0 110.8 29.0 111.0 30.3 114.0 29.8 128.0 32.0 146.0 31.9 180.0 31.0 183.2 28.0 184.5 16.0 183.7 0.0 184.9M220.0 184.3L194.0 182.6 171.0 184.2 167.0 183.4 165.7 180.0 165.6 145.0 168.5 127.0 167.3 114.0 169.0 111.1 172.0 111.0 178.2 113.0 180.3 115.0 183.0 120.6 188.3 125.0 188.3 126.0 182.0 131.9 181.1 135.0 182.0 137.0 186.0 139.1 193.0 140.0 199.3 139.0 203.7 136.0 202.4 131.0 196.7 126.0 196.7 125.0 202.0 120.6 205.4 114.0 211.0 111.5 220.0 110.4M0.0 56.9L7.3 58.0 15.0 60.6 19.0 60.5 27.0 57.9 28.2 58.0 29.1 60.0 29.0 67.3 28.0 69.0 16.0 66.2 0.0 70.4M220.0 70.4L193.0 66.2 187.0 66.6 170.0 70.0 167.8 68.0 167.7 60.0 168.0 58.0 170.0 57.2 193.0 60.7 220.0 56.9M0.0 110.5L4.4 111.0 9.1 113.0 13.0 118.3 16.0 119.8 20.0 118.3 24.0 113.0 27.0 111.7 29.0 112.4 28.9 128.0 31.6 146.0 31.5 180.0 30.7 183.0 28.0 184.2 16.0 183.2 0.0 184.5M220.0 120.4L214.0 118.8 211.2 115.0 212.8 113.0 220.0 111.8M172.0 118.0L170.0 118.1 169.0 116.5 169.3 113.0 171.0 112.7 173.5 114.0 173.6 116.0 172.0 118.0M220.0 183.9L193.0 181.8 171.0 183.7 167.3 183.0 166.1 180.0 166.0 145.0 169.0 134.3 171.0 132.5 179.8 139.0 187.0 141.2 193.0 141.9 205.2 139.0 208.9 137.0 214.0 132.2 220.0 130.6M19.2 138.0L21.2 136.0 20.0 132.7 17.0 131.2 13.0 132.7 11.8 135.0 12.4 137.0 15.0 138.3 19.2 138.0M0.0 57.9L4.0 58.7 5.7 60.0 4.3 63.0 5.3 67.0 0.0 69.1M220.0 69.1L214.0 68.3 211.2 67.0 210.9 66.0 212.9 64.0 212.8 63.0 210.4 61.0 211.9 59.0 220.0 57.9M173.0 62.4L171.0 62.8 169.5 59.0 172.0 58.8 174.5 60.0 173.0 62.4M172.0 68.0L170.0 68.1 169.6 67.0 171.0 64.3 174.1 66.0 172.0 68.0M0.0 111.5L5.0 112.6 7.1 115.0 6.8 119.0 4.3 126.0 8.5 137.0 14.0 139.9 19.0 139.9 23.4 138.0 27.0 132.8 30.6 141.0 31.2 146.0 31.2 180.0 30.1 183.0 27.0 183.8 15.0 182.7 0.0 184.2M27.0 118.2L26.1 116.0 27.0 114.0 28.1 115.0 27.0 118.2M220.0 183.4L210.8 183.0 193.0 180.0 174.2 183.0 168.0 182.8 166.7 180.0 167.3 163.0 166.6 145.0 167.2 141.0 170.0 137.9 193.0 145.3 215.0 137.5 220.0 136.7M0.0 113.7L1.9 115.0 0.0 116.2M0.0 134.5L10.0 140.0 15.0 141.6 19.0 141.4 28.0 138.3 30.0 140.7 30.8 146.0 30.7 179.0 30.0 182.4 27.0 183.3 15.0 182.1 0.0 183.8M220.0 182.9L205.2 181.0 202.2 179.0 198.0 172.8 193.0 170.9 187.0 172.8 182.8 179.0 179.8 181.0 172.0 182.5 168.1 182.0 167.3 179.0 168.2 163.0 167.2 146.0 167.7 142.0 169.0 140.3 176.0 141.4 182.0 145.0 184.3 151.0 187.0 154.2 190.0 155.7 194.0 155.9 199.3 153.0 203.0 145.0 205.3 143.0 213.0 140.1 220.0 139.2M0.0 138.0L16.0 143.7 28.0 139.9 30.0 142.5 30.3 146.0 30.3 179.0 29.6 182.0 27.0 182.8 16.0 180.9 0.0 183.4M220.0 182.1L211.0 181.0 208.5 179.0 210.0 171.6 215.3 165.0 215.8 163.0 210.0 155.4 208.1 147.0 208.5 145.0 210.6 143.0 220.0 141.0M172.0 159.3L171.0 159.3 170.0 157.6 168.2 148.0 168.2 144.0 170.0 141.8 174.4 143.0 176.8 146.0 175.6 154.0 172.0 159.3M173.0 181.2L170.0 181.5 168.3 180.0 169.0 173.0 171.0 167.7 172.0 167.7 174.1 170.0 176.5 177.0 175.8 180.0 173.0 181.2M0.0 139.6L5.0 140.6 9.7 143.0 11.6 145.0 14.0 150.2 16.0 151.6 19.0 150.2 22.2 144.0 26.0 141.5 29.0 142.1 29.7 146.0 29.0 181.5 27.0 182.1 23.0 181.0 18.0 175.9 16.0 175.4 10.0 181.0 0.0 182.9M220.0 149.4L217.0 148.5 215.2 146.0 216.6 144.0 220.0 143.4M220.0 180.1L217.4 179.0 220.0 177.7M0.0 141.0L4.8 142.0 8.2 145.0 9.8 163.0 7.9 180.0 4.0 181.9 0.0 182.2M28.0 180.7L26.0 180.5 24.6 179.0 23.2 164.0 24.6 146.0 27.0 143.0 28.0 143.3 28.8 146.0 27.2 162.0 28.6 178.0 28.0 180.7M0.0 142.6L4.0 144.0 4.9 146.0 3.0 152.0 0.0 153.8M0.0 173.2L3.0 175.0 4.4 179.0 3.0 180.5 0.0 181.1" fill="none" stroke="#0a2a3a" stroke-opacity="0.45" stroke-width="0.5" vector-effect="non-scaling-stroke"/><g stroke="#0a2020" stroke-width="1" vector-effect="non-scaling-stroke"><line x1="33" y1="0" x2="33" y2="55" stroke-opacity="0.25"/><line x1="110" y1="0" x2="110" y2="55" stroke-opacity="0.15"/><line x1="148" y1="0" x2="148" y2="55" stroke-opacity="0.20"/><line x1="165" y1="0" x2="165" y2="55" stroke-opacity="0.21"/><line x1="33" y1="55" x2="33" y2="72" stroke-opacity="0.75"/><line x1="77" y1="55" x2="77" y2="72" stroke-opacity="0.05"/><line x1="110" y1="55" x2="110" y2="72" stroke-opacity="0.32"/><line x1="148" y1="55" x2="148" y2="72" stroke-opacity="0.33"/><line x1="165" y1="55" x2="165" y2="72" stroke-opacity="0.71"/><line x1="33" y1="72" x2="33" y2="110" stroke-opacity="0.54"/><line x1="110" y1="72" x2="110" y2="110" stroke-opacity="0.15"/><line x1="148" y1="72" x2="148" y2="110" stroke-opacity="0.20"/><line x1="165" y1="72" x2="165" y2="110" stroke-opacity="0.53"/><line x1="33" y1="110" x2="33" y2="141" stroke-opacity="0.74"/><line x1="77" y1="110" x2="77" y2="141" stroke-opacity="0.08"/><line x1="110" y1="110" x2="110" y2="141" stroke-opacity="0.35"/><line x1="148" y1="110" x2="148" y2="141" stroke-opacity="0.37"/><line x1="165" y1="110" x2="165" y2="141" stroke-opacity="0.62"/><line x1="33" y1="141" x2="33" y2="186" stroke-opacity="0.85"/><line x1="77" y1="141" x2="77" y2="186" stroke-opacity="0.06"/><line x1="110" y1="141" x2="110" y2="186" stroke-opacity="0.31"/><line x1="148" y1="141" x2="148" y2="186" stroke-opacity="0.37"/><line x1="165" y1="141" x2="165" y2="186" stroke-opacity="0.75"/><line x1="33" y1="186" x2="33" y2="220" stroke-opacity="0.25"/><line x1="110" y1="186" x2="110" y2="220" stroke-opacity="0.15"/><line x1="148" y1="186" x2="148" y2="220" stroke-opacity="0.20"/><line x1="165" y1="186" x2="165" y2="220" stroke-opacity="0.20"/><line x1="0" y1="55" x2="33" y2="55" stroke-opacity="0.67"/><line x1="33" y1="55" x2="77" y2="55" stroke-opacity="0.35"/><line x1="77" y1="55" x2="110" y2="55" stroke-opacity="0.35"/><line x1="110" y1="55" x2="148" y2="55" stroke-opacity="0.44"/><line x1="148" y1="55" x2="165" y2="55" stroke-opacity="0.35"/><line x1="165" y1="55" x2="220" y2="55" stroke-opacity="0.68"/><line x1="0" y1="72" x2="33" y2="72" stroke-opacity="0.34"/><line x1="33" y1="72" x2="77" y2="72" stroke-opacity="0.30"/><line x1="77" y1="72" x2="110" y2="72" stroke-opacity="0.30"/><line x1="110" y1="72" x2="148" y2="72" stroke-opacity="0.32"/><line x1="148" y1="72" x2="165" y2="72" stroke-opacity="0.30"/><line x1="165" y1="72" x2="220" y2="72" stroke-opacity="0.34"/><line x1="0" y1="110" x2="33" y2="110" stroke-opacity="0.34"/><line x1="33" y1="110" x2="77" y2="110" stroke-opacity="0.20"/><line x1="77" y1="110" x2="110" y2="110" stroke-opacity="0.20"/><line x1="110" y1="110" x2="148" y2="110" stroke-opacity="0.38"/><line x1="148" y1="110" x2="165" y2="110" stroke-opacity="0.20"/><line x1="165" y1="110" x2="220" y2="110" stroke-opacity="0.27"/><line x1="0" y1="141" x2="33" y2="141" stroke-opacity="0.20"/><line x1="33" y1="141" x2="77" y2="141" stroke-opacity="0.08"/><line x1="77" y1="141" x2="110" y2="141" stroke-opacity="0.07"/><line x1="165" y1="141" x2="220" y2="141" stroke-opacity="0.16"/><line x1="0" y1="186" x2="33" y2="186" stroke-opacity="0.85"/><line x1="33" y1="186" x2="77" y2="186" stroke-opacity="0.30"/><line x1="77" y1="186" x2="110" y2="186" stroke-opacity="0.32"/><line x1="110" y1="186" x2="148" y2="186" stroke-opacity="0.54"/><line x1="148" y1="186" x2="165" y2="186" stroke-opacity="0.30"/><line x1="165" y1="186" x2="220" y2="186" stroke-opacity="0.80"/></g><rect x="0" y="0" width="220" height="220" fill="none" stroke="#102838" stroke-width="2" vector-effect="non-scaling-stroke"/></svg>
<div class="tk" style="left:299.43px;top:510.70px"></div><div class="xl" style="left:289.68px;top:513.40px">50</div><div class="tk" style="left:322.11px;top:510.70px"></div><div class="xl" style="left:312.36px;top:513.40px">100</div><div class="tk" style="left:344.80px;top:510.70px"></div><div class="xl" style="left:335.05px;top:513.40px">150</div><div class="tk" style="left:367.48px;top:510.70px"></div><div class="xl" style="left:357.73px;top:513.40px">200</div><div class="tky" style="left:275.00px;top:488.84px"></div><div class="yl" style="left:254.30px;top:486.49px">50</div><div class="tky" style="left:275.00px;top:467.22px"></div><div class="yl" style="left:254.30px;top:464.87px">100</div><div class="tky" style="left:275.00px;top:445.61px"></div><div class="yl" style="left:254.30px;top:443.26px">150</div><div class="tky" style="left:275.00px;top:424.00px"></div><div class="yl" style="left:254.30px;top:421.65px">200</div><div class="xa" style="left:316.90px;top:522.00px">X</div><div class="ya" style="left:250.60px;top:459.65px">Y</div><div class="cap" style="left:286.55px;top:528.50px">(o) BGTD</div>
<svg class="pl" style="left:402.00px;top:416.00px;width:99.90px;height:95.90px" viewBox="0 0 220 220" preserveAspectRatio="none"><linearGradient id="gp00" gradientUnits="userSpaceOnUse" x1="0" y1="0" x2="33" y2="0"><stop offset="0" stop-color="#00e9d2"/><stop offset="0.5" stop-color="#00daf9"/><stop offset="1" stop-color="#00acf9"/></linearGradient><rect x="0" y="0" width="36" height="58" fill="url(#gp00)"/><linearGradient id="gp01" gradientUnits="userSpaceOnUse" x1="0" y1="0" x2="0" y2="55"><stop offset="0" stop-color="#0052f9"/><stop offset="0.5" stop-color="#0066f9"/><stop offset="1" stop-color="#007df9"/></linearGradient><rect x="33" y="0" width="47" height="58" fill="url(#gp01)"/><linearGradient id="gp02" gradientUnits="userSpaceOnUse" x1="0" y1="0" x2="0" y2="55"><stop offset="0" stop-color="#005af9"/><stop offset="0.5" stop-color="#0071f9"/><stop offset="1" stop-color="#0088f9"/></linearGradient><rect x="77" y="0" width="36" height="58" fill="url(#gp02)"/><linearGradient id="gp03" gradientUnits="userSpaceOnUse" x1="0" y1="0" x2="0" y2="55"><stop offset="0" stop-color="#0091f9"/><stop offset="0.5" stop-color="#00a0f9"/><stop offset="1" stop-color="#00b0f9"/></linearGradient><rect x="110" y="0" width="41" height="58" fill="url(#gp03)"/><linearGradient id="gp04" gradientUnits="userSpaceOnUse" x1="0" y1="0" x2="0" y2="55"><stop offset="0" stop-color="#005af9"/><stop offset="0.5" stop-color="#0071f9"/><stop offset="1" stop-color="#0088f9"/></linearGradient><rect x="148" y="0" width="20" height="58" fill="url(#gp04)"/><linearGradient id="gp05" gradientUnits="userSpaceOnUse" x1="165" y1="0" x2="220" y2="0"><stop offset="0" stop-color="#00a0f9"/><stop offset="0.5" stop-color="#00cef9"/><stop offset="1" stop-color="#00e7d9"/></linearGradient><rect x="165" y="0" width="58" height="58" fill="url(#gp05)"/><linearGradient id="gp10" gradientUnits="userSpaceOnUse" x1="0" y1="0" x2="33" y2="0"><stop offset="0" stop-color="#00df06"/><stop offset="0.5" stop-color="#00e71c"/><stop offset="1" stop-color="#00ee35"/></linearGradient><rect x="0" y="55" width="36" height="20" fill="url(#gp10)"/><rect x="33" y="55" width="47" height="20" fill="#00bbf9"/><rect x="77" y="55" width="36" height="20" fill="#00c7f9"/><rect x="110" y="55" width="41" height="20" fill="#00e3f4"/><rect x="148" y="55" width="20" height="20" fill="#00bbf9"/><linearGradient id="gp15" gradientUnits="userSpaceOnUse" x1="165" y1="0" x2="220" y2="0"><stop offset="0" stop-color="#00ee35"/><stop offset="0.5" stop-color="#00e71c"/><stop offset="1" stop-color="#00df06"/></linearGradient><rect x="165" y="55" width="58" height="20" fill="url(#gp15)"/><linearGradient id="gp20" gradientUnits="userSpaceOnUse" x1="0" y1="0" x2="33" y2="0"><stop offset="0" stop-color="#00ec2b"/><stop offset="0.5" stop-color="#00f150"/><stop offset="1" stop-color="#00f27a"/></linearGradient><rect x="0" y="72" width="36" height="41" fill="url(#gp20)"/><rect x="33" y="72" width="47" height="41" fill="#008ef9"/><rect x="77" y="72" width="36" height="41" fill="#0099f9"/><rect x="110" y="72" width="41" height="41" fill="#00e2f9"/><rect x="148" y="72" width="20" height="41" fill="#007df9"/><linearGradient id="gp25" gradientUnits="userSpaceOnUse" x1="165" y1="0" x2="220" y2="0"><stop offset="0" stop-color="#00f592"/><stop offset="0.5" stop-color="#00f168"/><stop offset="1" stop-color="#00ef3e"/></linearGradient><rect x="165" y="72" width="58" height="41" fill="url(#gp25)"/><linearGradient id="gp30" gradientUnits="userSpaceOnUse" x1="0" y1="0" x2="33" y2="0"><stop offset="0" stop-color="#00e518"/><stop offset="0.5" stop-color="#00ed2f"/><stop offset="1" stop-color="#00f257"/></linearGradient><rect x="0" y="110" width="36" height="34" fill="url(#gp30)"/><rect x="33" y="110" width="47" height="34" fill="#00daf9"/><rect x="77" y="110" width="36" height="34" fill="#00e3f4"/><rect x="110" y="110" width="41" height="34" fill="#00e6de"/><rect x="148" y="110" width="20" height="34" fill="#00cef9"/><linearGradient id="gp35" gradientUnits="userSpaceOnUse" x1="165" y1="0" x2="220" y2="0"><stop offset="0" stop-color="#00f168"/><stop offset="0.5" stop-color="#00ef3e"/><stop offset="1" stop-color="#00e922"/></linearGradient><rect x="165" y="110" width="58" height="34" fill="url(#gp35)"/><linearGradient id="gp40" gradientUnits="userSpaceOnUse" x1="0" y1="0" x2="33" y2="0"><stop offset="0" stop-color="#00e518"/><stop offset="0.5" stop-color="#00ed2f"/><stop offset="1" stop-color="#00f257"/></linearGradient><rect x="0" y="141" width="36" height="48" fill="url(#gp40)"/><rect x="33" y="141" width="47" height="48" fill="#00daf9"/><rect x="77" y="141" width="36" height="48" fill="#00e3f4"/><rect x="110" y="141" width="41" height="48" fill="#00e6de"/><rect x="148" y="141" width="20" height="48" fill="#00cef9"/><linearGradient id="gp45" gradientUnits="userSpaceOnUse" x1="165" y1="0" x2="220" y2="0"><stop offset="0" stop-color="#00f168"/><stop offset="0.5" stop-color="#00ef3e"/><stop offset="1" stop-color="#00e922"/></linearGradient><rect x="165" y="141" width="58" height="48" fill="url(#gp45)"/><linearGradient id="gp50" gradientUnits="userSpaceOnUse" x1="0" y1="0" x2="33" y2="0"><stop offset="0" stop-color="#00e4f0"/><stop offset="0.5" stop-color="#00bbf9"/><stop offset="1" stop-color="#008ef9"/></linearGradient><rect x="0" y="186" width="36" height="37" fill="url(#gp50)"/><linearGradient id="gp51" gradientUnits="userSpaceOnUse" x1="0" y1="186" x2="0" y2="220"><stop offset="0" stop-color="#0071f9"/><stop offset="0.5" stop-color="#005af9"/><stop offset="1" stop-color="#004af9"/></linearGradient><rect x="33" y="186" width="47" height="37" fill="url(#gp51)"/><linearGradient id="gp52" gradientUnits="userSpaceOnUse" x1="0" y1="186" x2="0" y2="220"><stop offset="0" stop-color="#007df9"/><stop offset="0.5" stop-color="#0066f9"/><stop offset="1" stop-color="#0052f9"/></linearGradient><rect x="77" y="186" width="36" height="37" fill="url(#gp52)"/><linearGradient id="gp53" gradientUnits="userSpaceOnUse" x1="0" y1="186" x2="0" y2="220"><stop offset="0" stop-color="#0088f9"/><stop offset="0.5" stop-color="#0071f9"/><stop offset="1" stop-color="#005af9"/></linearGradient><rect x="110" y="186" width="41" height="37" fill="url(#gp53)"/><linearGradient id="gp54" gradientUnits="userSpaceOnUse" x1="0" y1="186" x2="0" y2="220"><stop offset="0" stop-color="#0077f9"/><stop offset="0.5" stop-color="#0060f9"/><stop offset="1" stop-color="#004ef9"/></linearGradient><rect x="148" y="186" width="20" height="37" fill="url(#gp54)"/><linearGradient id="gp55" gradientUnits="userSpaceOnUse" x1="165" y1="0" x2="220" y2="0"><stop offset="0" stop-color="#008ef9"/><stop offset="0.5" stop-color="#00bbf9"/><stop offset="1" stop-color="#00e4f0"/></linearGradient><rect x="165" y="186" width="58" height="37" fill="url(#gp55)"/><path d="M37.9 0.0L35.6 27.0 36.0 37.1 37.8 49.0 42.9 52.0 55.0 53.8 63.1 53.0 71.9 50.0 79.0 38.2 81.0 39.3 83.4 49.0 85.2 51.0 90.0 52.7 94.6 53.0 99.7 52.0 102.9 50.0 106.2 28.0 103.6 0.0M83.3 0.0L82.1 13.0 81.0 15.7 79.0 16.8 74.5 9.0 72.8 0.0M151.6 0.0L150.6 27.0 151.5 48.0 153.0 51.9 156.0 53.3 159.5 52.0 160.7 49.0 160.8 0.0M157.5 107.0L159.2 104.0 157.7 91.0 159.3 77.0 158.3 74.0 156.0 73.3 154.0 74.4 153.0 77.0 154.6 91.0 153.0 103.0 154.0 106.2 157.5 107.0M55.9 78.0L57.1 77.0 56.9 76.0 53.1 76.0 52.9 77.0 54.0 78.0 55.9 78.0M161.9 220.0L161.9 191.0 160.0 187.7 156.0 186.5 150.5 189.0 145.0 195.4 143.0 195.0 139.3 190.0 134.0 188.3 128.0 187.9 118.7 190.0 115.0 195.4 113.0 196.6 111.0 195.9 105.7 190.0 96.0 187.3 87.0 187.9 79.0 190.6 68.1 188.0 57.0 186.6 48.2 187.0 38.0 188.9 35.7 191.0 34.5 199.0 35.8 220.0M106.6 220.0L108.6 213.0 111.0 210.1 113.0 209.4 116.0 212.3 117.3 220.0M140.7 220.0L141.8 213.0 144.0 210.4 146.0 211.3 148.0 214.3 149.1 220.0M33.4 0.0L32.7 30.0 33.9 51.0 37.0 54.2 55.0 58.3 77.0 54.1 82.0 54.3 94.0 57.0 105.9 54.0 109.0 52.4 110.6 50.0 112.0 43.5 114.0 39.9 115.6 42.0 117.8 50.0 120.6 52.0 127.0 53.6 134.0 53.1 139.2 51.0 140.8 49.0 142.3 43.0 143.0 41.8 144.0 42.2 146.3 50.0 148.0 52.5 155.0 57.8 158.0 57.7 162.0 53.0 163.7 49.0 164.5 28.0 163.7 0.0M117.2 0.0L116.2 11.0 114.0 15.1 112.0 11.5 110.7 0.0M146.2 0.0L145.0 10.3 143.0 13.2 141.5 9.0 140.8 0.0M59.7 110.0L73.1 107.0 79.0 104.7 87.0 108.0 93.0 109.1 100.0 108.0 104.4 106.0 106.0 102.1 107.1 92.0 104.8 75.0 98.6 71.0 93.0 69.9 88.4 71.0 79.0 76.3 72.4 73.0 56.0 68.5 49.0 69.3 38.0 73.3 36.7 76.0 35.9 87.0 37.1 106.0 39.0 107.4 50.3 110.0 59.7 110.0M157.9 111.0L160.9 108.0 161.7 105.0 161.7 77.0 160.0 70.9 158.0 68.8 156.0 68.4 150.9 72.0 149.4 75.0 148.5 95.0 149.8 107.0 155.0 111.0 157.9 111.0M164.5 220.0L165.7 203.0 164.4 190.0 160.0 184.9 156.0 183.3 149.0 186.3 145.0 186.9 129.0 185.2 111.0 187.0 94.0 184.4 78.0 186.4 55.0 183.8 37.0 186.2 33.0 189.0 32.2 192.0 31.2 203.0 32.4 220.0M18.2 220.0L17.0 217.2 15.3 218.0 14.8 220.0M195.4 220.0L194.6 218.0 193.0 217.1 190.4 218.0 189.6 220.0M10.8 0.0L12.0 11.6 14.0 15.6 16.0 16.9 18.6 16.0 20.5 13.0 22.2 0.0M31.4 0.0L30.0 27.0 31.3 48.0 32.6 52.0 36.5 57.0 36.9 59.0 36.7 69.0 34.6 77.0 34.8 106.0 36.0 109.0 45.8 113.0 52.0 119.0 58.0 119.0 64.2 113.0 73.0 110.0 82.0 109.7 94.0 114.5 108.2 108.0 109.4 105.0 110.6 89.0 109.0 73.4 105.7 68.0 107.0 63.0 105.4 59.0 109.5 55.0 116.0 54.5 129.0 58.3 144.0 54.4 147.0 54.9 148.9 57.0 148.3 64.0 149.1 69.0 147.3 74.0 145.8 92.0 147.4 107.0 151.7 113.0 152.3 116.0 152.2 180.0 150.8 183.0 146.0 185.2 129.0 182.7 116.0 185.1 110.0 185.3 100.5 183.0 94.0 179.8 83.5 184.0 77.0 184.7 65.0 182.0 62.6 180.0 59.0 173.7 55.0 172.1 50.7 174.0 46.5 181.0 37.0 184.4 29.0 189.6 14.2 188.0 0.0 191.3M220.0 191.2L194.0 187.8 185.0 188.1 169.0 190.4 165.0 187.8 160.4 182.0 159.2 165.0 160.0 141.0 159.2 125.0 160.1 114.0 162.8 106.0 163.2 92.0 162.9 76.0 161.1 68.0 160.9 60.0 161.7 56.0 166.0 49.0 168.7 28.0 166.0 0.0M178.5 0.0L177.7 28.0 178.6 47.0 179.8 49.0 182.0 50.0 192.0 51.1 203.0 50.0 205.2 49.0 206.4 47.0 207.3 28.0 206.5 0.0M19.5 50.0L21.6 48.0 21.0 43.4 19.0 39.4 16.0 38.1 13.0 40.8 11.4 48.0 13.5 50.0 19.5 50.0M80.0 59.5L78.0 59.2 77.7 58.0 80.1 58.0 80.0 59.5M129.5 79.0L132.1 77.0 132.9 73.0 131.0 70.1 128.0 69.8 125.8 71.0 125.2 75.0 127.0 78.3 129.5 79.0M131.1 107.0L131.7 105.0 131.0 103.8 129.0 103.0 126.8 104.0 126.3 106.0 127.0 107.1 129.0 107.7 131.1 107.0M58.0 154.0L60.1 152.0 61.9 148.0 62.4 138.0 61.0 134.5 59.0 132.5 56.0 131.5 53.0 131.7 50.0 133.3 48.0 136.5 47.3 141.0 48.0 147.5 49.9 152.0 52.0 154.0 55.0 154.9 58.0 154.0M94.1 146.0L95.4 144.0 95.8 140.0 95.0 138.2 93.0 137.5 91.6 139.0 91.2 142.0 92.0 145.1 94.1 146.0M0.0 216.8L1.5 218.0 2.0 220.0M216.7 220.0L217.4 218.0 220.0 216.8M0.0 49.7L15.0 52.4 29.0 51.1 32.0 53.0 34.2 56.0 34.8 68.0 33.5 77.0 33.5 103.0 34.0 108.0 36.4 114.0 35.5 126.0 36.8 141.0 35.5 163.0 36.5 180.0 34.7 184.0 29.0 187.5 16.0 186.7 0.0 188.0M220.0 187.9L193.0 186.5 169.0 187.7 165.0 186.2 163.0 184.0 162.1 181.0 161.9 141.0 162.0 114.0 163.8 106.0 164.1 96.0 163.9 76.0 162.3 67.0 162.4 58.0 163.4 55.0 166.0 52.3 169.0 51.2 193.0 52.7 220.0 50.9M115.0 183.0L110.0 183.1 107.7 182.0 106.4 180.0 110.2 163.0 106.3 148.0 105.5 141.0 106.3 136.0 110.2 126.0 106.5 114.0 110.0 109.8 114.0 107.3 119.2 112.0 121.7 125.0 119.9 141.0 121.6 165.0 119.7 180.0 117.8 182.0 115.0 183.0M145.0 183.0L140.2 182.0 138.3 180.0 136.3 164.0 138.1 141.0 136.3 125.0 138.4 113.0 140.3 110.0 143.0 108.3 146.1 110.0 147.6 114.0 145.1 125.0 148.0 141.0 145.1 164.0 147.6 180.0 147.0 182.1 145.0 183.0M79.0 148.2L77.0 146.6 76.1 141.0 77.0 137.1 79.0 136.1 80.6 138.0 81.1 141.0 80.5 146.0 79.0 148.2M0.0 52.2L16.0 53.5 29.0 52.7 32.0 54.2 33.1 56.0 33.8 68.0 32.4 94.0 32.9 107.0 34.4 114.0 34.6 141.0 34.4 180.0 32.6 185.0 28.0 186.5 16.0 185.4 0.0 186.8M220.0 186.6L193.0 185.0 170.0 186.5 165.0 185.3 163.2 180.0 163.1 141.0 163.2 114.0 164.5 106.0 165.0 92.0 164.5 75.0 163.3 68.0 163.4 58.0 164.3 55.0 169.0 52.7 193.0 53.7 220.0 52.5M0.0 53.3L16.0 55.0 28.0 53.7 31.0 54.4 32.5 56.0 32.9 69.0 31.5 92.0 33.2 113.0 33.3 141.0 33.2 180.0 32.0 184.6 28.0 185.6 15.0 184.3 0.0 185.9M220.0 185.7L193.0 183.9 169.0 185.6 164.9 184.0 164.2 180.0 164.2 114.0 166.1 91.0 164.1 59.0 165.0 54.9 169.0 53.7 193.0 55.1 220.0 53.5M0.0 54.2L16.0 55.9 29.0 54.5 32.0 56.4 32.3 70.0 30.4 91.0 32.4 113.0 32.5 141.0 32.0 183.0 29.0 184.8 16.0 183.0 0.0 185.3M220.0 185.1L194.0 182.3 170.0 184.9 167.0 184.4 165.5 183.0 164.8 141.0 165.6 125.0 164.9 113.0 166.5 105.0 167.7 91.0 166.4 76.0 164.8 70.0 164.7 59.0 166.0 55.1 169.0 54.4 193.0 56.0 220.0 54.3M193.2 84.0L197.0 83.0 200.0 80.5 201.3 77.0 200.0 75.0 191.0 73.5 187.0 74.2 184.0 76.0 184.0 78.6 186.0 81.6 189.0 83.4 193.2 84.0M195.6 109.0L200.1 107.0 201.2 105.0 200.3 102.0 198.0 99.6 195.0 98.3 191.0 98.1 188.0 99.0 185.0 101.6 183.8 105.0 185.0 107.1 191.0 109.6 195.6 109.0M0.0 54.8L16.0 57.1 29.0 55.3 31.3 57.0 31.6 70.0 29.7 77.0 28.1 91.0 31.4 112.0 30.6 126.0 31.7 141.0 30.6 162.0 31.0 182.3 29.0 183.7 27.0 183.7 16.0 180.2 7.0 183.5 0.0 184.4M220.0 81.7L216.0 80.7 211.4 76.0 208.0 74.0 194.0 70.6 187.0 71.0 179.8 73.0 175.0 75.0 170.0 78.8 165.8 71.0 165.4 59.0 166.4 56.0 169.0 55.0 193.0 57.1 220.0 54.8M18.0 113.0L21.4 110.0 24.0 105.0 22.0 91.0 24.0 77.0 23.5 75.0 21.4 73.0 16.0 71.3 11.6 73.0 9.1 76.0 9.2 82.0 11.0 91.0 9.0 104.0 9.6 107.0 13.0 111.5 16.0 113.4 18.0 113.0M220.0 184.0L204.9 182.0 201.1 180.0 197.0 175.2 193.0 173.7 188.0 175.2 183.9 180.0 180.1 182.0 171.0 183.7 167.1 183.0 166.0 180.0 167.1 163.0 165.8 141.0 167.1 126.0 166.1 112.0 170.0 103.2 182.3 112.0 187.0 116.9 193.0 118.5 198.0 116.9 202.7 112.0 211.3 106.0 215.0 102.0 220.0 100.3M194.5 153.0L198.0 151.0 200.0 148.0 201.0 139.0 199.8 136.0 197.0 133.5 190.0 132.8 187.0 134.1 184.6 137.0 183.8 140.0 184.1 145.0 185.5 149.0 188.0 151.8 191.0 153.1 194.5 153.0M17.3 144.0L18.0 140.0 16.0 138.7 15.0 140.0 15.0 142.5 16.0 144.4 17.3 144.0M0.0 55.6L16.0 58.9 29.0 56.5 30.4 58.0 30.6 69.0 30.0 71.4 28.0 73.0 19.0 68.7 14.0 68.7 0.0 77.4M220.0 73.3L193.0 68.2 187.0 68.7 170.0 72.7 167.0 71.1 166.4 68.0 166.5 58.0 168.8 56.0 193.0 58.9 220.0 55.7M0.0 104.5L2.0 105.3 6.7 110.0 8.5 114.0 9.9 125.0 8.6 141.0 9.9 163.0 8.3 180.0 6.2 182.0 0.0 183.3M28.0 182.1L25.5 181.0 24.5 179.0 23.1 164.0 24.4 141.0 23.1 125.0 24.8 113.0 26.0 110.6 28.0 109.4 29.1 110.0 30.0 113.0 28.1 126.0 30.3 141.0 28.1 163.0 29.9 180.0 28.0 182.1M220.0 120.6L216.0 120.0 213.0 118.4 210.6 114.0 213.0 110.8 220.0 109.4M172.0 118.3L170.0 118.8 169.0 117.8 167.9 113.0 169.0 110.6 172.0 110.9 174.2 113.0 174.0 115.8 172.0 118.3M220.0 156.4L216.0 155.5 212.1 152.0 210.3 147.0 209.7 141.0 210.2 137.0 212.0 133.6 215.0 131.4 220.0 130.4M172.0 153.1L170.0 153.7 169.0 152.3 167.7 146.0 168.0 136.0 170.0 132.2 173.3 134.0 175.2 139.0 174.7 147.0 172.0 153.1M220.0 182.4L213.0 181.4 210.7 179.0 212.0 175.2 214.0 172.8 220.0 170.6M173.0 181.0L170.0 181.8 168.3 181.0 168.1 178.0 170.0 173.3 172.0 173.9 173.9 177.0 174.3 179.0 173.0 181.0M0.0 56.8L7.1 59.0 8.9 63.0 8.1 67.0 5.9 70.0 0.0 71.9M220.0 71.2L215.0 70.8 209.6 69.0 206.1 66.0 205.1 63.0 208.2 59.0 220.0 56.9M173.0 70.0L170.0 70.6 168.0 69.1 168.9 63.0 167.9 59.0 169.0 57.6 176.8 59.0 179.9 63.0 178.1 67.0 173.0 70.0M28.0 69.6L25.6 68.0 24.1 64.0 25.2 60.0 27.0 58.6 28.3 59.0 27.6 63.0 28.6 68.0 28.0 69.6M0.0 111.8L1.5 113.0 0.0 114.5M0.0 136.3L2.0 137.3 3.1 141.0 2.2 146.0 0.0 147.9" fill="none" stroke="#0a2a3a" stroke-opacity="0.45" stroke-width="0.5" vector-effect="non-scaling-stroke"/><g stroke="#0a2020" stroke-width="1" vector-effect="non-scaling-stroke"><line x1="33" y1="0" x2="33" y2="55" stroke-opacity="0.25"/><line x1="110" y1="0" x2="110" y2="55" stroke-opacity="0.15"/><line x1="148" y1="0" x2="148" y2="55" stroke-opacity="0.20"/><line x1="165" y1="0" x2="165" y2="55" stroke-opacity="0.20"/><line x1="33" y1="55" x2="33" y2="72" stroke-opacity="0.35"/><line x1="110" y1="55" x2="110" y2="72" stroke-opacity="0.15"/><line x1="148" y1="55" x2="148" y2="72" stroke-opacity="0.20"/><line x1="165" y1="55" x2="165" y2="72" stroke-opacity="0.35"/><line x1="33" y1="72" x2="33" y2="110" stroke-opacity="0.32"/><line x1="110" y1="72" x2="110" y2="110" stroke-opacity="0.15"/><line x1="148" y1="72" x2="148" y2="110" stroke-opacity="0.20"/><line x1="165" y1="72" x2="165" y2="110" stroke-opacity="0.30"/><line x1="33" y1="110" x2="33" y2="141" stroke-opacity="0.27"/><line x1="110" y1="110" x2="110" y2="141" stroke-opacity="0.15"/><line x1="148" y1="110" x2="148" y2="141" stroke-opacity="0.20"/><line x1="165" y1="110" x2="165" y2="141" stroke-opacity="0.26"/><line x1="33" y1="141" x2="33" y2="186" stroke-opacity="0.27"/><line x1="110" y1="141" x2="110" y2="186" stroke-opacity="0.15"/><line x1="148" y1="141" x2="148" y2="186" stroke-opacity="0.20"/><line x1="165" y1="141" x2="165" y2="186" stroke-opacity="0.26"/><line x1="33" y1="186" x2="33" y2="220" stroke-opacity="0.25"/><line x1="110" y1="186" x2="110" y2="220" stroke-opacity="0.15"/><line x1="148" y1="186" x2="148" y2="220" stroke-opacity="0.20"/><line x1="165" y1="186" x2="165" y2="220" stroke-opacity="0.20"/><line x1="0" y1="55" x2="33" y2="55" stroke-opacity="0.35"/><line x1="33" y1="55" x2="77" y2="55" stroke-opacity="0.35"/><line x1="77" y1="55" x2="110" y2="55" stroke-opacity="0.35"/><line x1="110" y1="55" x2="148" y2="55" stroke-opacity="0.35"/><line x1="148" y1="55" x2="165" y2="55" stroke-opacity="0.35"/><line x1="165" y1="55" x2="220" y2="55" stroke-opacity="0.35"/><line x1="0" y1="72" x2="33" y2="72" stroke-opacity="0.30"/><line x1="33" y1="72" x2="77" y2="72" stroke-opacity="0.30"/><line x1="77" y1="72" x2="110" y2="72" stroke-opacity="0.30"/><line x1="110" y1="72" x2="148" y2="72" stroke-opacity="0.30"/><line x1="148" y1="72" x2="165" y2="72" stroke-opacity="0.30"/><line x1="165" y1="72" x2="220" y2="72" stroke-opacity="0.30"/><line x1="0" y1="110" x2="33" y2="110" stroke-opacity="0.20"/><line x1="33" y1="110" x2="77" y2="110" stroke-opacity="0.20"/><line x1="77" y1="110" x2="110" y2="110" stroke-opacity="0.20"/><line x1="110" y1="110" x2="148" y2="110" stroke-opacity="0.20"/><line x1="148" y1="110" x2="165" y2="110" stroke-opacity="0.20"/><line x1="165" y1="110" x2="220" y2="110" stroke-opacity="0.20"/><line x1="0" y1="186" x2="33" y2="186" stroke-opacity="0.31"/><line x1="33" y1="186" x2="77" y2="186" stroke-opacity="0.30"/><line x1="77" y1="186" x2="110" y2="186" stroke-opacity="0.30"/><line x1="110" y1="186" x2="148" y2="186" stroke-opacity="0.30"/><line x1="148" y1="186" x2="165" y2="186" stroke-opacity="0.30"/><line x1="165" y1="186" x2="220" y2="186" stroke-opacity="0.30"/></g><rect x="0" y="0" width="220" height="220" fill="none" stroke="#102838" stroke-width="2" vector-effect="non-scaling-stroke"/></svg>
<div class="tk" style="left:424.45px;top:511.90px"></div><div class="xl" style="left:414.70px;top:514.60px">50</div><div class="tk" style="left:447.16px;top:511.90px"></div><div class="xl" style="left:437.41px;top:514.60px">100</div><div class="tk" style="left:469.86px;top:511.90px"></div><div class="xl" style="left:460.11px;top:514.60px">150</div><div class="tk" style="left:492.57px;top:511.90px"></div><div class="xl" style="left:482.82px;top:514.60px">200</div><div class="tky" style="left:400.00px;top:489.85px"></div><div class="yl" style="left:379.30px;top:487.50px">50</div><div class="tky" style="left:400.00px;top:468.06px"></div><div class="yl" style="left:379.30px;top:465.71px">100</div><div class="tky" style="left:400.00px;top:446.26px"></div><div class="yl" style="left:379.30px;top:443.91px">150</div><div class="tky" style="left:400.00px;top:424.47px"></div><div class="yl" style="left:379.30px;top:422.12px">200</div><div class="xa" style="left:441.95px;top:523.20px">X</div><div class="ya" style="left:375.60px;top:460.45px">Y</div><div class="cap" style="left:409.10px;top:529.60px">(p) SST</div>
<svg class="pl" style="left:507.7px;top:423.4px;width:13.9px;height:95.1px" viewBox="0 0 10 100" preserveAspectRatio="none"><defs><linearGradient id="cb" x1="0" y1="0" x2="0" y2="1"><stop offset="0.00%" stop-color="#f50000"/><stop offset="8.62%" stop-color="#ff1e00"/><stop offset="16.55%" stop-color="#ff8200"/><stop offset="26.21%" stop-color="#fffa00"/><stop offset="30.34%" stop-color="#b4fa00"/><stop offset="36.21%" stop-color="#28f500"/><stop offset="50.00%" stop-color="#00fa00"/><stop offset="57.24%" stop-color="#00ff28"/><stop offset="66.90%" stop-color="#00ff96"/><stop offset="74.83%" stop-color="#00f5ff"/><stop offset="81.72%" stop-color="#00a5ff"/><stop offset="89.66%" stop-color="#004bff"/><stop offset="95.86%" stop-color="#0014f5"/><stop offset="100.00%" stop-color="#0000e1"/></linearGradient></defs><rect x="0" y="0" width="10" height="100" fill="url(#cb)"/><rect x="0" y="0" width="10" height="100" fill="none" stroke="#402020" stroke-opacity="0.6" stroke-width="1" vector-effect="non-scaling-stroke"/></svg><div class="ll" style="left:525.5px;top:420.50px">3.50</div><div class="tky" style="left:521.5px;top:423.05px;width:1.2px"></div><div class="ll" style="left:525.5px;top:427.30px">3.29</div><div class="tky" style="left:521.5px;top:429.85px;width:1.2px"></div><div class="ll" style="left:525.5px;top:434.10px">3.09</div><div class="tky" style="left:521.5px;top:436.65px;width:1.2px"></div><div class="ll" style="left:525.5px;top:440.90px">2.88</div><div class="tky" style="left:521.5px;top:443.45px;width:1.2px"></div><div class="ll" style="left:525.5px;top:447.70px">2.67</div><div class="tky" style="left:521.5px;top:450.25px;width:1.2px"></div><div class="ll" style="left:525.5px;top:454.50px">2.46</div><div class="tky" style="left:521.5px;top:457.05px;width:1.2px"></div><div class="ll" style="left:525.5px;top:461.30px">2.26</div><div class="tky" style="left:521.5px;top:463.85px;width:1.2px"></div><div class="ll" style="left:525.5px;top:468.10px">2.05</div><div class="tky" style="left:521.5px;top:470.65px;width:1.2px"></div><div class="ll" style="left:525.5px;top:474.90px">1.84</div><div class="tky" style="left:521.5px;top:477.45px;width:1.2px"></div><div class="ll" style="left:525.5px;top:481.70px">1.64</div><div class="tky" style="left:521.5px;top:484.25px;width:1.2px"></div><div class="ll" style="left:525.5px;top:488.50px">1.43</div><div class="tky" style="left:521.5px;top:491.05px;width:1.2px"></div><div class="ll" style="left:525.5px;top:495.30px">1.22</div><div class="tky" style="left:521.5px;top:497.85px;width:1.2px"></div><div class="ll" style="left:525.5px;top:502.10px">1.01</div><div class="tky" style="left:521.5px;top:504.65px;width:1.2px"></div><div class="ll" style="left:525.5px;top:508.90px">0.81</div><div class="tky" style="left:521.5px;top:511.45px;width:1.2px"></div><div class="ll" style="left:525.5px;top:515.70px">0.60</div><div class="tky" style="left:521.5px;top:518.25px;width:1.2px"></div><div class="vl" style="left:508px;top:415.4px">Value</div></body></html>
